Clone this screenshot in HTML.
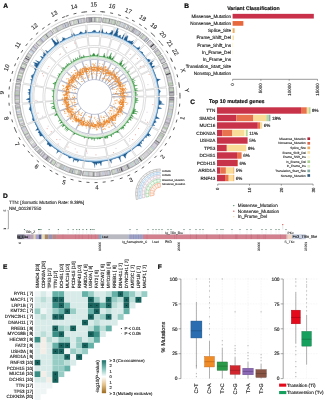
<!DOCTYPE html>
<html><head><meta charset="utf-8"><title>Figure</title>
<style>
html,body{margin:0;padding:0;background:#fff;}
body{width:324px;height:401px;overflow:hidden;}
svg{display:block;font-family:'Liberation Sans', Arial, sans-serif;text-rendering:geometricPrecision;filter:blur(0.3px);}
</style></head><body>
<svg width="324" height="401" viewBox="0 0 324 401">
<rect width="324" height="401" fill="#fff"/>
<g id="circos">
<text x="183.45" y="118.45" font-size="6.0" text-anchor="middle" dominant-baseline="central" fill="#333" stroke="#333" stroke-width="0.12" transform="rotate(-76.5 183.45 118.45)">1</text>
<text x="163.26" y="157.41" font-size="6.0" text-anchor="middle" dominant-baseline="central" fill="#333" stroke="#333" stroke-width="0.12" transform="rotate(-48.7 163.26 157.41)">2</text>
<text x="131.33" y="180.83" font-size="6.0" text-anchor="middle" dominant-baseline="central" fill="#333" stroke="#333" stroke-width="0.12" transform="rotate(-23.8 131.33 180.83)">3</text>
<text x="97.02" y="188.56" font-size="6.0" text-anchor="middle" dominant-baseline="central" fill="#333" stroke="#333" stroke-width="0.12" transform="rotate(-1.6 97.02 188.56)">4</text>
<text x="63.70" y="183.30" font-size="6.0" text-anchor="middle" dominant-baseline="central" fill="#333" stroke="#333" stroke-width="0.12" transform="rotate(19.6 63.70 183.30)">5</text>
<text x="35.83" y="167.43" font-size="6.0" text-anchor="middle" dominant-baseline="central" fill="#333" stroke="#333" stroke-width="0.12" transform="rotate(39.7 35.83 167.43)">6</text>
<text x="16.12" y="144.58" font-size="6.0" text-anchor="middle" dominant-baseline="central" fill="#333" stroke="#333" stroke-width="0.12" transform="rotate(58.7 16.12 144.58)">7</text>
<text x="5.42" y="118.74" font-size="6.0" text-anchor="middle" dominant-baseline="central" fill="#333" stroke="#333" stroke-width="0.12" transform="rotate(76.3 5.42 118.74)">8</text>
<text x="2.90" y="92.69" font-size="6.0" text-anchor="middle" dominant-baseline="central" fill="#333" stroke="#333" stroke-width="0.12" transform="rotate(272.7 2.90 92.69)">9</text>
<text x="7.54" y="67.93" font-size="6.0" text-anchor="middle" dominant-baseline="central" fill="#333" stroke="#333" stroke-width="0.12" transform="rotate(288.5 7.54 67.93)">10</text>
<text x="18.58" y="45.60" font-size="6.0" text-anchor="middle" dominant-baseline="central" fill="#333" stroke="#333" stroke-width="0.12" transform="rotate(304.1 18.58 45.60)">11</text>
<text x="35.19" y="27.11" font-size="6.0" text-anchor="middle" dominant-baseline="central" fill="#333" stroke="#333" stroke-width="0.12" transform="rotate(319.7 35.19 27.11)">12</text>
<text x="54.54" y="14.53" font-size="6.0" text-anchor="middle" dominant-baseline="central" fill="#333" stroke="#333" stroke-width="0.12" transform="rotate(334.2 54.54 14.53)">13</text>
<text x="74.18" y="7.66" font-size="6.0" text-anchor="middle" dominant-baseline="central" fill="#333" stroke="#333" stroke-width="0.12" transform="rotate(347.2 74.18 7.66)">14</text>
<text x="93.79" y="5.40" font-size="6.0" text-anchor="middle" dominant-baseline="central" fill="#333" stroke="#333" stroke-width="0.12" transform="rotate(359.6 93.79 5.40)">15</text>
<text x="112.00" y="7.11" font-size="6.0" text-anchor="middle" dominant-baseline="central" fill="#333" stroke="#333" stroke-width="0.12" transform="rotate(371.1 112.00 7.11)">16</text>
<text x="128.01" y="11.79" font-size="6.0" text-anchor="middle" dominant-baseline="central" fill="#333" stroke="#333" stroke-width="0.12" transform="rotate(381.5 128.01 11.79)">17</text>
<text x="142.16" y="18.84" font-size="6.0" text-anchor="middle" dominant-baseline="central" fill="#333" stroke="#333" stroke-width="0.12" transform="rotate(391.4 142.16 18.84)">18</text>
<text x="153.26" y="26.82" font-size="6.0" text-anchor="middle" dominant-baseline="central" fill="#333" stroke="#333" stroke-width="0.12" transform="rotate(400.0 153.26 26.82)">19</text>
<text x="162.13" y="35.33" font-size="6.0" text-anchor="middle" dominant-baseline="central" fill="#333" stroke="#333" stroke-width="0.12" transform="rotate(407.7 162.13 35.33)">20</text>
<text x="169.18" y="44.10" font-size="6.0" text-anchor="middle" dominant-baseline="central" fill="#333" stroke="#333" stroke-width="0.12" transform="rotate(414.7 169.18 44.10)">21</text>
<text x="174.54" y="52.64" font-size="6.0" text-anchor="middle" dominant-baseline="central" fill="#333" stroke="#333" stroke-width="0.12" transform="rotate(421.0 174.54 52.64)">22</text>
<text x="182.13" y="70.65" font-size="6.0" text-anchor="middle" dominant-baseline="central" fill="#333" stroke="#333" stroke-width="0.12" transform="rotate(433.3 182.13 70.65)">X</text>
<text x="185.76" y="90.43" font-size="6.0" text-anchor="middle" dominant-baseline="central" fill="#333" stroke="#333" stroke-width="0.12" transform="rotate(445.9 185.76 90.43)">Y</text>
<path d="M179.99,95.50L179.99,98.50M179.74,103.62L179.46,106.61M178.73,111.68L178.17,114.63M176.96,119.61L176.12,122.49M174.44,127.34L173.33,130.12M170.61,135.97L169.20,138.62M166.58,143.02L164.92,145.52M161.89,149.66L160.00,151.99M156.59,155.82L154.49,157.96M150.74,161.45L148.44,163.38M144.19,166.63L141.72,168.33M137.37,171.04L134.74,172.50M130.15,174.78L127.41,175.98M122.62,177.82L119.77,178.75M113.65,180.41L110.71,181.03M105.65,181.86L102.67,182.20M97.56,182.54L94.56,182.60M89.43,182.46L86.44,182.23M81.45,181.61L78.49,181.11M73.49,180.01L70.59,179.22M65.71,177.65L62.90,176.59M58.19,174.57L55.50,173.25M52.31,171.54L49.72,170.02M45.43,167.21L43.00,165.45M39.00,162.25L36.75,160.27M33.06,156.71L31.01,154.52M29.76,153.12L27.83,150.82M24.73,146.74L23.03,144.26M20.33,139.91L18.87,137.29M16.60,132.69L15.39,129.94M15.39,129.93L14.28,127.14M12.62,122.29L11.79,119.41M10.59,114.43L10.03,111.48M9.24,105.70L8.99,102.71M8.80,97.59L8.83,94.59M9.13,89.47L9.45,86.49M10.16,81.81L10.74,78.87M11.98,73.89L12.84,71.02M14.54,66.18L15.67,63.40M17.32,59.77L18.67,57.09M21.20,52.63L22.79,50.10M25.73,45.89L27.56,43.52M30.27,40.31L32.29,38.09M35.93,34.48L38.16,32.47M42.12,29.22L44.53,27.43M47.75,25.23L50.29,23.64M54.76,21.13L57.45,19.79M62.14,17.71L64.93,16.63M65.71,16.35L68.56,15.39M73.49,13.99L76.41,13.31M81.45,12.39L84.42,11.98M84.06,12.03L87.05,11.72M92.17,11.43L95.17,11.40M100.29,11.60L103.28,11.86M102.10,11.75L105.08,12.07M110.15,12.86L113.09,13.46M117.98,14.71L120.85,15.59M125.68,17.32L128.45,18.46M131.99,20.10L134.66,21.46M139.11,24.01L141.64,25.62M144.46,27.57L146.87,29.36M150.82,32.63L153.04,34.64M152.97,34.57L155.12,36.66M158.62,40.40L160.56,42.69M161.09,43.34L162.93,45.71M166.40,50.71L167.98,53.26M170.47,57.74L171.80,60.43M171.20,59.20L172.48,61.91M174.44,66.65L175.45,69.47M176.96,74.37L177.70,77.28M178.73,82.30L179.19,85.26M179.12,84.75L179.50,87.72M179.90,92.83L179.99,95.83" stroke="#555" stroke-width="0.95" fill="none"/>
<path d="M176.70,97.00A82.3,82.3 0 0 1 167.67,134.47M167.01,135.75A82.3,82.3 0 0 1 142.27,163.95M141.09,164.77A82.3,82.3 0 0 1 112.90,177.19M111.50,177.50A82.3,82.3 0 0 1 81.94,178.35M80.53,178.12A82.3,82.3 0 0 1 53.93,168.66M52.68,167.94A82.3,82.3 0 0 1 32.25,150.95M31.32,149.86A82.3,82.3 0 0 1 18.43,128.66M17.89,127.33A82.3,82.3 0 0 1 12.53,105.36M12.39,103.93A82.3,82.3 0 0 1 13.41,82.39M13.67,80.98A82.3,82.3 0 0 1 20.29,61.20M20.93,59.92A82.3,82.3 0 0 1 32.74,42.49M33.70,41.42A82.3,82.3 0 0 1 49.55,27.99M50.76,27.22A82.3,82.3 0 0 1 66.82,19.46M68.18,18.99A82.3,82.3 0 0 1 84.47,15.30M85.90,15.14A82.3,82.3 0 0 1 101.81,15.03M103.24,15.18A82.3,82.3 0 0 1 117.08,17.89M118.45,18.29A82.3,82.3 0 0 1 130.55,23.06M131.83,23.70A82.3,82.3 0 0 1 142.54,30.25M143.70,31.10A82.3,82.3 0 0 1 150.71,36.98M151.75,37.97A82.3,82.3 0 0 1 158.53,45.41M159.42,46.54A82.3,82.3 0 0 1 163.63,52.50M164.40,53.71A82.3,82.3 0 0 1 168.24,60.66M168.87,61.95A82.3,82.3 0 0 1 175.85,85.22M176.05,86.65A82.3,82.3 0 0 1 176.69,95.56" stroke="#999" stroke-width="0.35" fill="none"/>
<path d="M176.70,97.00L177.60,97.00M176.69,98.56L177.59,98.58M176.64,100.12L177.54,100.16M176.57,101.69L177.47,101.74M176.46,103.25L177.36,103.31M176.33,104.80L177.23,104.89M176.17,106.36L177.06,106.46M175.97,107.91L176.87,108.03M175.75,109.45L176.64,109.59M175.50,111.00L176.39,111.15M175.22,112.53L176.10,112.70M174.91,114.07L175.79,114.25M174.57,115.59L175.45,115.79M174.21,117.11L175.08,117.33M173.81,118.62L174.68,118.86M173.38,120.13L174.25,120.38M172.93,121.62L173.79,121.89M172.45,123.11L173.30,123.39M171.94,124.59L172.79,124.89M171.40,126.05L172.24,126.37M170.84,127.51L171.67,127.84M170.24,128.96L171.07,129.31M169.62,130.39L170.44,130.76M168.97,131.81L169.79,132.19M168.30,133.22L169.11,133.62M167.01,135.75L167.80,136.17M166.26,137.12L167.05,137.56M165.48,138.48L166.26,138.93M164.68,139.82L165.45,140.29M163.86,141.15L164.62,141.63M163.01,142.46L163.76,142.95M162.13,143.75L162.87,144.26M161.23,145.03L161.96,145.55M160.31,146.29L161.03,146.83M159.36,147.53L160.07,148.08M158.39,148.76L159.09,149.32M157.40,149.96L158.08,150.54M156.38,151.15L157.06,151.74M155.34,152.31L156.01,152.92M154.28,153.46L154.93,154.08M153.19,154.59L153.84,155.22M152.09,155.69L152.72,156.34M150.97,156.78L151.58,157.43M149.82,157.84L150.43,158.51M148.66,158.88L149.25,159.56M147.47,159.90L148.05,160.59M146.27,160.90L146.83,161.60M145.04,161.87L145.60,162.58M143.80,162.82L144.34,163.54M142.54,163.75L143.07,164.48M141.09,164.77L141.60,165.51M139.80,165.65L140.29,166.40M138.48,166.50L138.97,167.26M137.16,167.32L137.62,168.09M135.81,168.12L136.27,168.90M134.46,168.89L134.89,169.68M133.08,169.64L133.51,170.44M131.70,170.36L132.10,171.17M130.30,171.06L130.69,171.87M128.88,171.73L129.26,172.54M127.46,172.37L127.82,173.19M126.02,172.98L126.37,173.81M124.57,173.57L124.90,174.41M123.11,174.13L123.43,174.97M121.64,174.66L121.94,175.51M120.17,175.16L120.45,176.02M118.68,175.64L118.94,176.50M117.18,176.08L117.43,176.95M115.67,176.50L115.91,177.37M114.16,176.89L114.38,177.77M111.50,177.50L111.68,178.39M109.96,177.81L110.13,178.70M108.43,178.10L108.58,178.98M106.88,178.35L107.02,179.24M105.34,178.57L105.46,179.46M103.79,178.76L103.89,179.66M102.23,178.93L102.32,179.82M100.68,179.06L100.74,179.96M99.12,179.16L99.17,180.06M97.56,179.24L97.59,180.14M95.99,179.28L96.01,180.18M94.43,179.30L94.43,180.20M92.87,179.29L92.85,180.19M91.31,179.24L91.27,180.14M89.74,179.17L89.69,180.07M88.19,179.07L88.12,179.96M86.63,178.93L86.54,179.83M85.07,178.77L84.97,179.66M83.52,178.58L83.40,179.47M81.98,178.36L81.84,179.25M80.53,178.12L80.37,179.01M78.99,177.84L78.82,178.73M77.46,177.54L77.27,178.42M75.93,177.20L75.73,178.08M74.41,176.84L74.19,177.71M72.90,176.44L72.66,177.31M71.39,176.02L71.14,176.88M69.90,175.57L69.63,176.43M68.41,175.09L68.12,175.94M66.93,174.58L66.63,175.43M65.46,174.05L65.15,174.89M64.01,173.48L63.67,174.32M62.56,172.89L62.21,173.72M61.12,172.27L60.76,173.10M59.70,171.63L59.32,172.44M58.29,170.95L57.89,171.76M56.89,170.26L56.48,171.06M55.51,169.53L55.08,170.32M54.14,168.78L53.70,169.56M52.68,167.94L52.23,168.72M51.34,167.14L50.87,167.91M50.02,166.31L49.53,167.07M48.71,165.45L48.21,166.20M47.42,164.57L46.91,165.31M46.15,163.67L45.62,164.40M44.89,162.74L44.35,163.46M43.65,161.79L43.09,162.50M42.43,160.81L41.86,161.51M41.23,159.82L40.64,160.50M40.04,158.79L39.45,159.47M38.88,157.75L38.27,158.42M37.74,156.69L37.12,157.34M36.61,155.60L35.98,156.24M35.51,154.49L34.87,155.12M34.43,153.36L33.77,153.98M33.37,152.21L32.70,152.82M32.33,151.05L31.65,151.64M31.32,149.86L30.63,150.43M30.32,148.65L29.62,149.21M29.36,147.42L28.64,147.97M28.41,146.18L27.69,146.72M27.49,144.92L26.76,145.44M26.59,143.64L25.85,144.15M25.72,142.34L24.97,142.84M24.87,141.03L24.11,141.51M24.04,139.70L23.28,140.17M23.25,138.36L22.47,138.81M22.47,137.00L21.69,137.44M21.73,135.63L20.93,136.05M21.01,134.24L20.20,134.65M20.31,132.84L19.50,133.23M19.65,131.43L18.83,131.80M19.01,130.00L18.18,130.36M17.89,127.33L17.05,127.66M17.33,125.87L16.49,126.18M16.79,124.40L15.95,124.70M16.29,122.92L15.43,123.20M15.81,121.43L14.95,121.70M15.36,119.94L14.50,120.19M14.94,118.43L14.07,118.67M14.55,116.92L13.67,117.14M14.18,115.40L13.31,115.60M13.85,113.87L12.97,114.06M13.54,112.34L12.66,112.51M13.27,110.80L12.38,110.95M13.02,109.26L12.13,109.39M12.80,107.71L11.91,107.83M12.61,106.16L11.72,106.26M12.39,103.93L11.50,104.01M12.28,102.37L11.38,102.43M12.19,100.81L11.29,100.85M12.13,99.25L11.23,99.28M12.10,97.69L11.20,97.70M12.10,96.13L11.20,96.12M12.14,94.56L11.24,94.54M12.20,93.00L11.30,92.96M12.29,91.44L11.39,91.38M12.41,89.88L11.51,89.81M12.56,88.33L11.66,88.23M12.74,86.78L11.84,86.66M12.95,85.23L12.06,85.10M13.18,83.68L12.30,83.54M13.67,80.98L12.79,80.80M13.99,79.45L13.11,79.26M14.34,77.93L13.47,77.72M14.72,76.41L13.85,76.18M15.12,74.90L14.26,74.66M15.56,73.40L14.69,73.14M16.02,71.91L15.16,71.63M16.51,70.42L15.66,70.13M17.03,68.95L16.18,68.64M17.58,67.48L16.74,67.16M18.15,66.03L17.32,65.69M18.75,64.59L17.92,64.23M19.38,63.16L18.56,62.79M20.04,61.74L19.22,61.35M20.93,59.92L20.13,59.51M21.65,58.53L20.85,58.11M22.39,57.15L21.60,56.72M23.16,55.79L22.38,55.34M23.95,54.45L23.18,53.98M24.78,53.12L24.01,52.64M25.62,51.80L24.87,51.31M26.49,50.50L25.75,50.00M27.39,49.22L26.65,48.70M28.31,47.96L27.58,47.42M29.25,46.71L28.54,46.16M30.22,45.49L29.51,44.92M31.21,44.28L30.51,43.70M32.22,43.09L31.54,42.50M33.70,41.42L33.04,40.81M34.77,40.28L34.12,39.66M35.86,39.16L35.22,38.52M36.97,38.05L36.34,37.41M38.10,36.97L37.48,36.32M39.25,35.92L38.64,35.25M40.42,34.88L39.82,34.20M41.60,33.87L41.03,33.18M42.81,32.87L42.25,32.17M44.04,31.91L43.49,31.20M45.28,30.96L44.75,30.24M46.55,30.04L46.02,29.31M47.83,29.15L47.32,28.40M49.12,28.27L48.63,27.52M50.76,27.22L50.29,26.46M52.10,26.40L51.63,25.63M53.45,25.61L53.00,24.83M54.81,24.85L54.38,24.06M56.19,24.11L55.77,23.31M57.58,23.40L57.17,22.59M58.98,22.71L58.59,21.90M60.40,22.05L60.03,21.23M61.83,21.42L61.47,20.59M63.27,20.82L62.93,19.98M64.72,20.24L64.40,19.40M66.18,19.69L65.87,18.84M68.18,18.99L67.89,18.14M69.67,18.50L69.40,17.65M71.16,18.05L70.91,17.19M72.67,17.62L72.43,16.75M74.18,17.22L73.96,16.35M75.69,16.85L75.49,15.98M77.22,16.51L77.03,15.63M78.75,16.20L78.58,15.32M80.29,15.92L80.13,15.03M81.83,15.67L81.69,14.78M83.38,15.44L83.26,14.55M85.90,15.14L85.80,14.25M87.45,14.99L87.38,14.10M89.01,14.88L88.95,13.98M90.57,14.79L90.53,13.89M92.13,14.73L92.11,13.83M93.69,14.70L93.69,13.80M95.26,14.70L95.27,13.80M96.82,14.74L96.85,13.84M98.38,14.80L98.42,13.90M99.94,14.89L100.00,13.99M101.50,15.01L101.58,14.11M103.24,15.18L103.34,14.28M104.79,15.36L104.90,14.47M106.34,15.57L106.47,14.68M107.88,15.81L108.03,14.92M109.42,16.08L109.59,15.20M110.96,16.38L111.14,15.50M112.48,16.71L112.68,15.83M114.00,17.07L114.22,16.20M115.52,17.46L115.75,16.59M117.03,17.87L117.27,17.01M118.45,18.29L118.72,17.43M119.94,18.76L120.22,17.91M121.43,19.26L121.72,18.41M122.90,19.79L123.21,18.95M124.36,20.35L124.68,19.51M125.81,20.93L126.15,20.10M127.25,21.54L127.61,20.71M128.67,22.18L129.05,21.36M130.09,22.84L130.48,22.03M131.83,23.70L132.24,22.90M133.22,24.43L133.64,23.63M134.59,25.18L135.03,24.39M135.94,25.95L136.40,25.18M137.28,26.76L137.75,25.99M138.61,27.58L139.09,26.82M139.92,28.44L140.42,27.69M141.21,29.31L141.73,28.57M142.49,30.21L143.02,29.48M143.70,31.10L144.23,30.38M144.94,32.04L145.49,31.33M146.16,33.02L146.73,32.32M147.37,34.01L147.95,33.32M148.55,35.03L149.15,34.35M149.72,36.07L150.33,35.40M151.75,37.97L152.38,37.33M152.86,39.07L153.50,38.44M153.95,40.19L154.60,39.57M155.02,41.33L155.68,40.73M156.06,42.49L156.74,41.90M157.09,43.68L157.77,43.09M158.09,44.88L158.79,44.31M159.42,46.54L160.13,45.99M160.36,47.78L161.08,47.25M161.29,49.05L162.02,48.52M162.18,50.32L162.93,49.81M163.06,51.62L163.81,51.12M164.40,53.71L165.16,53.24M165.21,55.05L165.98,54.59M165.99,56.40L166.77,55.96M166.75,57.77L167.54,57.34M167.48,59.15L168.28,58.74M168.19,60.54L168.99,60.15M168.87,61.95L169.68,61.57M169.52,63.37L170.34,63.01M170.14,64.81L170.97,64.45M170.74,66.25L171.57,65.91M171.31,67.71L172.15,67.39M171.85,69.17L172.70,68.87M172.37,70.65L173.22,70.36M172.85,72.13L173.71,71.86M173.31,73.63L174.17,73.37M173.74,75.13L174.61,74.89M174.14,76.64L175.01,76.42M174.51,78.16L175.39,77.95M174.86,79.68L175.74,79.49M175.17,81.21L176.05,81.04M175.46,82.75L176.34,82.59M175.71,84.29L176.60,84.15M176.05,86.65L176.94,86.53M176.23,88.20L177.12,88.10M176.38,89.75L177.28,89.68M176.50,91.31L177.40,91.25M176.60,92.87L177.50,92.83M176.66,94.43L177.56,94.41" stroke="#aaa" stroke-width="0.25" fill="none"/>
<path d="M174.00,97.00A79.6,79.6 0 0 1 173.99,97.96L169.39,97.90A75.0,75.0 0 0 0 169.40,97.00Z" fill="#7c7888" stroke="#a4a4a4" stroke-width="0.25"/>
<path d="M173.99,97.96A79.6,79.6 0 0 1 173.96,99.52L169.36,99.38A75.0,75.0 0 0 0 169.39,97.90Z" fill="#a8a4b4" stroke="#a4a4a4" stroke-width="0.25"/>
<path d="M173.96,99.52A79.6,79.6 0 0 1 173.92,100.55L169.33,100.35A75.0,75.0 0 0 0 169.36,99.38Z" fill="#3a3840" stroke="#a4a4a4" stroke-width="0.25"/>
<path d="M173.92,100.55A79.6,79.6 0 0 1 173.89,101.17L169.30,100.93A75.0,75.0 0 0 0 169.33,100.35Z" fill="#a8a4b4" stroke="#a4a4a4" stroke-width="0.25"/>
<path d="M173.89,101.17A79.6,79.6 0 0 1 173.82,102.35L169.23,102.04A75.0,75.0 0 0 0 169.30,100.93Z" fill="#b0c8aa" stroke="#a4a4a4" stroke-width="0.25"/>
<path d="M173.82,102.35A79.6,79.6 0 0 1 173.78,102.85L169.20,102.51A75.0,75.0 0 0 0 169.23,102.04Z" fill="#dcdce0" stroke="#a4a4a4" stroke-width="0.25"/>
<path d="M173.78,102.85A79.6,79.6 0 0 1 173.75,103.34L169.16,102.98A75.0,75.0 0 0 0 169.20,102.51Z" fill="#d8d0e6" stroke="#a4a4a4" stroke-width="0.25"/>
<path d="M173.75,103.34A79.6,79.6 0 0 1 173.64,104.61L169.06,104.17A75.0,75.0 0 0 0 169.16,102.98Z" fill="#f2f2f2" stroke="#a4a4a4" stroke-width="0.25"/>
<path d="M173.64,104.61A79.6,79.6 0 0 1 173.46,106.24L168.89,105.70A75.0,75.0 0 0 0 169.06,104.17Z" fill="#c8d8ec" stroke="#a4a4a4" stroke-width="0.25"/>
<path d="M173.46,106.24A79.6,79.6 0 0 1 173.31,107.45L168.75,106.84A75.0,75.0 0 0 0 168.89,105.70Z" fill="#cfe2c8" stroke="#a4a4a4" stroke-width="0.25"/>
<path d="M173.31,107.45A79.6,79.6 0 0 1 173.23,108.02L168.68,107.38A75.0,75.0 0 0 0 168.75,106.84Z" fill="#f2f2f2" stroke="#a4a4a4" stroke-width="0.25"/>
<path d="M173.23,108.02A79.6,79.6 0 0 1 173.08,109.07L168.53,108.37A75.0,75.0 0 0 0 168.68,107.38Z" fill="#f2f2f2" stroke="#a4a4a4" stroke-width="0.25"/>
<path d="M173.08,109.07A79.6,79.6 0 0 1 172.98,109.68L168.44,108.95A75.0,75.0 0 0 0 168.53,108.37Z" fill="#dcdce0" stroke="#a4a4a4" stroke-width="0.25"/>
<path d="M172.98,109.68A79.6,79.6 0 0 1 172.92,110.09L168.38,109.34A75.0,75.0 0 0 0 168.44,108.95Z" fill="#a8a4b4" stroke="#a4a4a4" stroke-width="0.25"/>
<path d="M172.92,110.09A79.6,79.6 0 0 1 172.76,111.02L168.23,110.21A75.0,75.0 0 0 0 168.38,109.34Z" fill="#d8d0e6" stroke="#a4a4a4" stroke-width="0.25"/>
<path d="M172.76,111.02A79.6,79.6 0 0 1 172.56,112.05L168.05,111.18A75.0,75.0 0 0 0 168.23,110.21Z" fill="#cfe2c8" stroke="#a4a4a4" stroke-width="0.25"/>
<path d="M172.56,112.05A79.6,79.6 0 0 1 172.37,113.05L167.86,112.12A75.0,75.0 0 0 0 168.05,111.18Z" fill="#cfe2c8" stroke="#a4a4a4" stroke-width="0.25"/>
<path d="M172.37,113.05A79.6,79.6 0 0 1 172.16,113.99L167.67,113.01A75.0,75.0 0 0 0 167.86,112.12Z" fill="#dcdce0" stroke="#a4a4a4" stroke-width="0.25"/>
<path d="M172.16,113.99A79.6,79.6 0 0 1 171.79,115.61L167.32,114.54A75.0,75.0 0 0 0 167.67,113.01Z" fill="#c8d8ec" stroke="#a4a4a4" stroke-width="0.25"/>
<path d="M171.79,115.61A79.6,79.6 0 0 1 171.44,117.03L166.99,115.87A75.0,75.0 0 0 0 167.32,114.54Z" fill="#cfe2c8" stroke="#a4a4a4" stroke-width="0.25"/>
<path d="M171.44,117.03A79.6,79.6 0 0 1 171.24,117.78L166.80,116.58A75.0,75.0 0 0 0 166.99,115.87Z" fill="#dcdce0" stroke="#a4a4a4" stroke-width="0.25"/>
<path d="M171.24,117.78A79.6,79.6 0 0 1 171.04,118.51L166.61,117.26A75.0,75.0 0 0 0 166.80,116.58Z" fill="#f2f2f2" stroke="#a4a4a4" stroke-width="0.25"/>
<path d="M171.04,118.51A79.6,79.6 0 0 1 170.66,119.81L166.25,118.50A75.0,75.0 0 0 0 166.61,117.26Z" fill="#c4c0cc" stroke="#a4a4a4" stroke-width="0.25"/>
<path d="M170.66,119.81A79.6,79.6 0 0 1 170.23,121.21L165.85,119.81A75.0,75.0 0 0 0 166.25,118.50Z" fill="#c4c0cc" stroke="#a4a4a4" stroke-width="0.25"/>
<path d="M170.23,121.21A79.6,79.6 0 0 1 169.72,122.74L165.37,121.25A75.0,75.0 0 0 0 165.85,119.81Z" fill="#d8d0e6" stroke="#a4a4a4" stroke-width="0.25"/>
<path d="M169.72,122.74A79.6,79.6 0 0 1 169.60,123.10L165.25,121.59A75.0,75.0 0 0 0 165.37,121.25Z" fill="#dcdce0" stroke="#a4a4a4" stroke-width="0.25"/>
<path d="M169.60,123.10A79.6,79.6 0 0 1 169.08,124.56L164.76,122.96A75.0,75.0 0 0 0 165.25,121.59Z" fill="#a8a4b4" stroke="#a4a4a4" stroke-width="0.25"/>
<path d="M169.08,124.56A79.6,79.6 0 0 1 168.50,126.09L164.21,124.41A75.0,75.0 0 0 0 164.76,122.96Z" fill="#c4c0cc" stroke="#a4a4a4" stroke-width="0.25"/>
<path d="M168.50,126.09A79.6,79.6 0 0 1 168.32,126.53L164.05,124.82A75.0,75.0 0 0 0 164.21,124.41Z" fill="#cfe2c8" stroke="#a4a4a4" stroke-width="0.25"/>
<path d="M168.32,126.53A79.6,79.6 0 0 1 167.80,127.80L163.56,126.02A75.0,75.0 0 0 0 164.05,124.82Z" fill="#dcdce0" stroke="#a4a4a4" stroke-width="0.25"/>
<path d="M167.80,127.80A79.6,79.6 0 0 1 167.61,128.25L163.38,126.45A75.0,75.0 0 0 0 163.56,126.02Z" fill="#dcdce0" stroke="#a4a4a4" stroke-width="0.25"/>
<path d="M167.61,128.25A79.6,79.6 0 0 1 166.96,129.73L162.77,127.84A75.0,75.0 0 0 0 163.38,126.45Z" fill="#b0c8aa" stroke="#a4a4a4" stroke-width="0.25"/>
<path d="M166.96,129.73A79.6,79.6 0 0 1 166.74,130.21L162.56,128.29A75.0,75.0 0 0 0 162.77,127.84Z" fill="#dcdce0" stroke="#a4a4a4" stroke-width="0.25"/>
<path d="M166.74,130.21A79.6,79.6 0 0 1 166.53,130.67L162.36,128.73A75.0,75.0 0 0 0 162.56,128.29Z" fill="#f2f2f2" stroke="#a4a4a4" stroke-width="0.25"/>
<path d="M166.53,130.67A79.6,79.6 0 0 1 165.92,131.94L161.79,129.92A75.0,75.0 0 0 0 162.36,128.73Z" fill="#f2f2f2" stroke="#a4a4a4" stroke-width="0.25"/>
<path d="M165.92,131.94A79.6,79.6 0 0 1 165.43,132.92L161.33,130.85A75.0,75.0 0 0 0 161.79,129.92Z" fill="#c4c0cc" stroke="#a4a4a4" stroke-width="0.25"/>
<path d="M165.43,132.92A79.6,79.6 0 0 1 165.27,133.24L161.17,131.15A75.0,75.0 0 0 0 161.33,130.85Z" fill="#cfe2c8" stroke="#a4a4a4" stroke-width="0.25"/>
<path d="M174.00,97.00A79.6,79.6 0 0 1 165.27,133.24L161.17,131.15A75.0,75.0 0 0 0 169.40,97.00Z" fill="none" stroke="#777" stroke-width="0.45"/>
<path d="M164.63,134.48A79.6,79.6 0 0 1 164.37,134.96L160.32,132.76A75.0,75.0 0 0 0 160.57,132.31Z" fill="#cfe2c8" stroke="#a4a4a4" stroke-width="0.25"/>
<path d="M164.37,134.96A79.6,79.6 0 0 1 164.11,135.42L160.09,133.20A75.0,75.0 0 0 0 160.32,132.76Z" fill="#c4c0cc" stroke="#a4a4a4" stroke-width="0.25"/>
<path d="M164.11,135.42A79.6,79.6 0 0 1 163.80,135.99L159.79,133.74A75.0,75.0 0 0 0 160.09,133.20Z" fill="#dcdce0" stroke="#a4a4a4" stroke-width="0.25"/>
<path d="M163.80,135.99A79.6,79.6 0 0 1 162.99,137.40L159.02,135.06A75.0,75.0 0 0 0 159.79,133.74Z" fill="#b0c8aa" stroke="#a4a4a4" stroke-width="0.25"/>
<path d="M162.99,137.40A79.6,79.6 0 0 1 162.59,138.06L158.65,135.69A75.0,75.0 0 0 0 159.02,135.06Z" fill="#d8d0e6" stroke="#a4a4a4" stroke-width="0.25"/>
<path d="M162.59,138.06A79.6,79.6 0 0 1 162.26,138.61L158.34,136.21A75.0,75.0 0 0 0 158.65,135.69Z" fill="#c4c0cc" stroke="#a4a4a4" stroke-width="0.25"/>
<path d="M162.26,138.61A79.6,79.6 0 0 1 161.47,139.86L157.60,137.39A75.0,75.0 0 0 0 158.34,136.21Z" fill="#cfe2c8" stroke="#a4a4a4" stroke-width="0.25"/>
<path d="M161.47,139.86A79.6,79.6 0 0 1 161.20,140.29L157.34,137.79A75.0,75.0 0 0 0 157.60,137.39Z" fill="#c8d8ec" stroke="#a4a4a4" stroke-width="0.25"/>
<path d="M161.20,140.29A79.6,79.6 0 0 1 160.84,140.83L157.00,138.30A75.0,75.0 0 0 0 157.34,137.79Z" fill="#dcdce0" stroke="#a4a4a4" stroke-width="0.25"/>
<path d="M160.84,140.83A79.6,79.6 0 0 1 160.08,141.97L156.28,139.37A75.0,75.0 0 0 0 157.00,138.30Z" fill="#dcdce0" stroke="#a4a4a4" stroke-width="0.25"/>
<path d="M160.08,141.97A79.6,79.6 0 0 1 159.65,142.60L155.88,139.96A75.0,75.0 0 0 0 156.28,139.37Z" fill="#f2f2f2" stroke="#a4a4a4" stroke-width="0.25"/>
<path d="M159.65,142.60A79.6,79.6 0 0 1 159.36,143.00L155.61,140.34A75.0,75.0 0 0 0 155.88,139.96Z" fill="#3a3840" stroke="#a4a4a4" stroke-width="0.25"/>
<path d="M159.36,143.00A79.6,79.6 0 0 1 158.96,143.56L155.23,140.87A75.0,75.0 0 0 0 155.61,140.34Z" fill="#3a3840" stroke="#a4a4a4" stroke-width="0.25"/>
<path d="M158.96,143.56A79.6,79.6 0 0 1 158.46,144.25L154.76,141.52A75.0,75.0 0 0 0 155.23,140.87Z" fill="#c4c0cc" stroke="#a4a4a4" stroke-width="0.25"/>
<path d="M158.46,144.25A79.6,79.6 0 0 1 157.49,145.54L153.84,142.73A75.0,75.0 0 0 0 154.76,141.52Z" fill="#a8a4b4" stroke="#a4a4a4" stroke-width="0.25"/>
<path d="M157.49,145.54A79.6,79.6 0 0 1 156.80,146.42L153.20,143.56A75.0,75.0 0 0 0 153.84,142.73Z" fill="#d8d0e6" stroke="#a4a4a4" stroke-width="0.25"/>
<path d="M156.80,146.42A79.6,79.6 0 0 1 156.42,146.90L152.84,144.01A75.0,75.0 0 0 0 153.20,143.56Z" fill="#f2f2f2" stroke="#a4a4a4" stroke-width="0.25"/>
<path d="M156.42,146.90A79.6,79.6 0 0 1 155.44,148.09L151.91,145.14A75.0,75.0 0 0 0 152.84,144.01Z" fill="#d8d0e6" stroke="#a4a4a4" stroke-width="0.25"/>
<path d="M155.44,148.09A79.6,79.6 0 0 1 154.99,148.63L151.49,145.64A75.0,75.0 0 0 0 151.91,145.14Z" fill="#dcdce0" stroke="#a4a4a4" stroke-width="0.25"/>
<path d="M154.99,148.63A79.6,79.6 0 0 1 154.12,149.63L150.67,146.59A75.0,75.0 0 0 0 151.49,145.64Z" fill="#c8d8ec" stroke="#a4a4a4" stroke-width="0.25"/>
<path d="M154.12,149.63A79.6,79.6 0 0 1 153.70,150.10L150.27,147.03A75.0,75.0 0 0 0 150.67,146.59Z" fill="#c8d8ec" stroke="#a4a4a4" stroke-width="0.25"/>
<path d="M153.70,150.10A79.6,79.6 0 0 1 152.68,151.22L149.31,148.08A75.0,75.0 0 0 0 150.27,147.03Z" fill="#cfe2c8" stroke="#a4a4a4" stroke-width="0.25"/>
<path d="M152.68,151.22A79.6,79.6 0 0 1 152.05,151.89L148.72,148.71A75.0,75.0 0 0 0 149.31,148.08Z" fill="#f2f2f2" stroke="#a4a4a4" stroke-width="0.25"/>
<path d="M152.05,151.89A79.6,79.6 0 0 1 151.76,152.19L148.44,149.01A75.0,75.0 0 0 0 148.72,148.71Z" fill="#c8d8ec" stroke="#a4a4a4" stroke-width="0.25"/>
<path d="M151.76,152.19A79.6,79.6 0 0 1 151.28,152.69L147.99,149.47A75.0,75.0 0 0 0 148.44,149.01Z" fill="#cfe2c8" stroke="#a4a4a4" stroke-width="0.25"/>
<path d="M151.28,152.69A79.6,79.6 0 0 1 150.78,153.19L147.52,149.94A75.0,75.0 0 0 0 147.99,149.47Z" fill="#d8d0e6" stroke="#a4a4a4" stroke-width="0.25"/>
<path d="M150.78,153.19A79.6,79.6 0 0 1 149.97,153.99L146.76,150.70A75.0,75.0 0 0 0 147.52,149.94Z" fill="#dcdce0" stroke="#a4a4a4" stroke-width="0.25"/>
<path d="M149.97,153.99A79.6,79.6 0 0 1 149.53,154.41L146.35,151.10A75.0,75.0 0 0 0 146.76,150.70Z" fill="#cfe2c8" stroke="#a4a4a4" stroke-width="0.25"/>
<path d="M149.53,154.41A79.6,79.6 0 0 1 149.20,154.74L146.03,151.40A75.0,75.0 0 0 0 146.35,151.10Z" fill="#dcdce0" stroke="#a4a4a4" stroke-width="0.25"/>
<path d="M149.20,154.74A79.6,79.6 0 0 1 148.40,155.48L145.28,152.11A75.0,75.0 0 0 0 146.03,151.40Z" fill="#d8d0e6" stroke="#a4a4a4" stroke-width="0.25"/>
<path d="M148.40,155.48A79.6,79.6 0 0 1 147.53,156.27L144.46,152.85A75.0,75.0 0 0 0 145.28,152.11Z" fill="#dcdce0" stroke="#a4a4a4" stroke-width="0.25"/>
<path d="M147.53,156.27A79.6,79.6 0 0 1 146.36,157.30L143.36,153.81A75.0,75.0 0 0 0 144.46,152.85Z" fill="#dcdce0" stroke="#a4a4a4" stroke-width="0.25"/>
<path d="M146.36,157.30A79.6,79.6 0 0 1 146.06,157.56L143.08,154.06A75.0,75.0 0 0 0 143.36,153.81Z" fill="#dcdce0" stroke="#a4a4a4" stroke-width="0.25"/>
<path d="M146.06,157.56A79.6,79.6 0 0 1 145.33,158.17L142.39,154.64A75.0,75.0 0 0 0 143.08,154.06Z" fill="#f2f2f2" stroke="#a4a4a4" stroke-width="0.25"/>
<path d="M145.33,158.17A79.6,79.6 0 0 1 144.87,158.56L141.95,155.00A75.0,75.0 0 0 0 142.39,154.64Z" fill="#c4c0cc" stroke="#a4a4a4" stroke-width="0.25"/>
<path d="M144.87,158.56A79.6,79.6 0 0 1 144.00,159.25L141.14,155.66A75.0,75.0 0 0 0 141.95,155.00Z" fill="#f2f2f2" stroke="#a4a4a4" stroke-width="0.25"/>
<path d="M144.00,159.25A79.6,79.6 0 0 1 143.34,159.78L140.51,156.15A75.0,75.0 0 0 0 141.14,155.66Z" fill="#d8d0e6" stroke="#a4a4a4" stroke-width="0.25"/>
<path d="M143.34,159.78A79.6,79.6 0 0 1 142.04,160.77L139.29,157.09A75.0,75.0 0 0 0 140.51,156.15Z" fill="#cfe2c8" stroke="#a4a4a4" stroke-width="0.25"/>
<path d="M142.04,160.77A79.6,79.6 0 0 1 141.02,161.52L138.33,157.79A75.0,75.0 0 0 0 139.29,157.09Z" fill="#3a3840" stroke="#a4a4a4" stroke-width="0.25"/>
<path d="M141.02,161.52A79.6,79.6 0 0 1 140.70,161.75L138.02,158.01A75.0,75.0 0 0 0 138.33,157.79Z" fill="#f2f2f2" stroke="#a4a4a4" stroke-width="0.25"/>
<path d="M164.63,134.48A79.6,79.6 0 0 1 140.70,161.75L138.02,158.01A75.0,75.0 0 0 0 160.57,132.31Z" fill="none" stroke="#777" stroke-width="0.45"/>
<path d="M139.56,162.55A79.6,79.6 0 0 1 139.23,162.78L136.64,158.98A75.0,75.0 0 0 0 136.95,158.76Z" fill="#c8d8ec" stroke="#a4a4a4" stroke-width="0.25"/>
<path d="M139.23,162.78A79.6,79.6 0 0 1 138.17,163.49L135.64,159.65A75.0,75.0 0 0 0 136.64,158.98Z" fill="#c8d8ec" stroke="#a4a4a4" stroke-width="0.25"/>
<path d="M138.17,163.49A79.6,79.6 0 0 1 137.83,163.71L135.32,159.86A75.0,75.0 0 0 0 135.64,159.65Z" fill="#cfe2c8" stroke="#a4a4a4" stroke-width="0.25"/>
<path d="M137.83,163.71A79.6,79.6 0 0 1 136.99,164.25L134.53,160.36A75.0,75.0 0 0 0 135.32,159.86Z" fill="#cfe2c8" stroke="#a4a4a4" stroke-width="0.25"/>
<path d="M136.99,164.25A79.6,79.6 0 0 1 136.32,164.67L133.90,160.76A75.0,75.0 0 0 0 134.53,160.36Z" fill="#c8d8ec" stroke="#a4a4a4" stroke-width="0.25"/>
<path d="M136.32,164.67A79.6,79.6 0 0 1 135.92,164.92L133.52,160.99A75.0,75.0 0 0 0 133.90,160.76Z" fill="#7c7888" stroke="#a4a4a4" stroke-width="0.25"/>
<path d="M135.92,164.92A79.6,79.6 0 0 1 134.78,165.60L132.45,161.63A75.0,75.0 0 0 0 133.52,160.99Z" fill="#d8d0e6" stroke="#a4a4a4" stroke-width="0.25"/>
<path d="M134.78,165.60A79.6,79.6 0 0 1 133.63,166.26L131.37,162.26A75.0,75.0 0 0 0 132.45,161.63Z" fill="#cfe2c8" stroke="#a4a4a4" stroke-width="0.25"/>
<path d="M133.63,166.26A79.6,79.6 0 0 1 132.41,166.94L130.21,162.90A75.0,75.0 0 0 0 131.37,162.26Z" fill="#c8d8ec" stroke="#a4a4a4" stroke-width="0.25"/>
<path d="M132.41,166.94A79.6,79.6 0 0 1 131.68,167.33L129.53,163.27A75.0,75.0 0 0 0 130.21,162.90Z" fill="#cfe2c8" stroke="#a4a4a4" stroke-width="0.25"/>
<path d="M131.68,167.33A79.6,79.6 0 0 1 130.32,168.04L128.24,163.93A75.0,75.0 0 0 0 129.53,163.27Z" fill="#d8d0e6" stroke="#a4a4a4" stroke-width="0.25"/>
<path d="M130.32,168.04A79.6,79.6 0 0 1 129.50,168.44L127.47,164.32A75.0,75.0 0 0 0 128.24,163.93Z" fill="#b0c8aa" stroke="#a4a4a4" stroke-width="0.25"/>
<path d="M129.50,168.44A79.6,79.6 0 0 1 128.16,169.09L126.21,164.92A75.0,75.0 0 0 0 127.47,164.32Z" fill="#7c7888" stroke="#a4a4a4" stroke-width="0.25"/>
<path d="M128.16,169.09A79.6,79.6 0 0 1 127.08,169.58L125.20,165.39A75.0,75.0 0 0 0 126.21,164.92Z" fill="#c4c0cc" stroke="#a4a4a4" stroke-width="0.25"/>
<path d="M127.08,169.58A79.6,79.6 0 0 1 126.05,170.04L124.22,165.81A75.0,75.0 0 0 0 125.20,165.39Z" fill="#cfe2c8" stroke="#a4a4a4" stroke-width="0.25"/>
<path d="M126.05,170.04A79.6,79.6 0 0 1 125.61,170.23L123.81,165.99A75.0,75.0 0 0 0 124.22,165.81Z" fill="#cfe2c8" stroke="#a4a4a4" stroke-width="0.25"/>
<path d="M125.61,170.23A79.6,79.6 0 0 1 124.08,170.86L122.37,166.59A75.0,75.0 0 0 0 123.81,165.99Z" fill="#d8d0e6" stroke="#a4a4a4" stroke-width="0.25"/>
<path d="M124.08,170.86A79.6,79.6 0 0 1 122.86,171.34L121.22,167.04A75.0,75.0 0 0 0 122.37,166.59Z" fill="#c4c0cc" stroke="#a4a4a4" stroke-width="0.25"/>
<path d="M122.86,171.34A79.6,79.6 0 0 1 121.62,171.80L120.05,167.48A75.0,75.0 0 0 0 121.22,167.04Z" fill="#3a3840" stroke="#a4a4a4" stroke-width="0.25"/>
<path d="M121.62,171.80A79.6,79.6 0 0 1 120.73,172.12L119.21,167.78A75.0,75.0 0 0 0 120.05,167.48Z" fill="#d8d0e6" stroke="#a4a4a4" stroke-width="0.25"/>
<path d="M120.73,172.12A79.6,79.6 0 0 1 120.28,172.28L118.78,167.93A75.0,75.0 0 0 0 119.21,167.78Z" fill="#b0c8aa" stroke="#a4a4a4" stroke-width="0.25"/>
<path d="M120.28,172.28A79.6,79.6 0 0 1 119.88,172.41L118.41,168.05A75.0,75.0 0 0 0 118.78,167.93Z" fill="#3a3840" stroke="#a4a4a4" stroke-width="0.25"/>
<path d="M119.88,172.41A79.6,79.6 0 0 1 118.94,172.72L117.52,168.35A75.0,75.0 0 0 0 118.41,168.05Z" fill="#dcdce0" stroke="#a4a4a4" stroke-width="0.25"/>
<path d="M118.94,172.72A79.6,79.6 0 0 1 117.72,173.11L116.37,168.71A75.0,75.0 0 0 0 117.52,168.35Z" fill="#a8a4b4" stroke="#a4a4a4" stroke-width="0.25"/>
<path d="M117.72,173.11A79.6,79.6 0 0 1 116.60,173.44L115.32,169.02A75.0,75.0 0 0 0 116.37,168.71Z" fill="#c8d8ec" stroke="#a4a4a4" stroke-width="0.25"/>
<path d="M116.60,173.44A79.6,79.6 0 0 1 115.92,173.64L114.68,169.21A75.0,75.0 0 0 0 115.32,169.02Z" fill="#f2f2f2" stroke="#a4a4a4" stroke-width="0.25"/>
<path d="M115.92,173.64A79.6,79.6 0 0 1 115.18,173.84L113.98,169.40A75.0,75.0 0 0 0 114.68,169.21Z" fill="#cfe2c8" stroke="#a4a4a4" stroke-width="0.25"/>
<path d="M115.18,173.84A79.6,79.6 0 0 1 114.57,174.00L113.40,169.55A75.0,75.0 0 0 0 113.98,169.40Z" fill="#f2f2f2" stroke="#a4a4a4" stroke-width="0.25"/>
<path d="M114.57,174.00A79.6,79.6 0 0 1 113.07,174.38L111.99,169.91A75.0,75.0 0 0 0 113.40,169.55Z" fill="#cfe2c8" stroke="#a4a4a4" stroke-width="0.25"/>
<path d="M113.07,174.38A79.6,79.6 0 0 1 112.29,174.56L111.26,170.08A75.0,75.0 0 0 0 111.99,169.91Z" fill="#d8d0e6" stroke="#a4a4a4" stroke-width="0.25"/>
<path d="M139.56,162.55A79.6,79.6 0 0 1 112.29,174.56L111.26,170.08A75.0,75.0 0 0 0 136.95,158.76Z" fill="none" stroke="#777" stroke-width="0.45"/>
<path d="M110.93,174.86A79.6,79.6 0 0 1 110.15,175.03L109.24,170.52A75.0,75.0 0 0 0 109.98,170.36Z" fill="#cfe2c8" stroke="#a4a4a4" stroke-width="0.25"/>
<path d="M110.15,175.03A79.6,79.6 0 0 1 109.53,175.15L108.66,170.63A75.0,75.0 0 0 0 109.24,170.52Z" fill="#c4c0cc" stroke="#a4a4a4" stroke-width="0.25"/>
<path d="M109.53,175.15A79.6,79.6 0 0 1 108.14,175.40L107.35,170.87A75.0,75.0 0 0 0 108.66,170.63Z" fill="#c8d8ec" stroke="#a4a4a4" stroke-width="0.25"/>
<path d="M108.14,175.40A79.6,79.6 0 0 1 106.65,175.65L105.95,171.11A75.0,75.0 0 0 0 107.35,170.87Z" fill="#c4c0cc" stroke="#a4a4a4" stroke-width="0.25"/>
<path d="M106.65,175.65A79.6,79.6 0 0 1 105.54,175.82L104.90,171.26A75.0,75.0 0 0 0 105.95,171.11Z" fill="#dcdce0" stroke="#a4a4a4" stroke-width="0.25"/>
<path d="M105.54,175.82A79.6,79.6 0 0 1 104.99,175.89L104.38,171.33A75.0,75.0 0 0 0 104.90,171.26Z" fill="#a8a4b4" stroke="#a4a4a4" stroke-width="0.25"/>
<path d="M104.99,175.89A79.6,79.6 0 0 1 103.55,176.07L103.02,171.50A75.0,75.0 0 0 0 104.38,171.33Z" fill="#d8d0e6" stroke="#a4a4a4" stroke-width="0.25"/>
<path d="M103.55,176.07A79.6,79.6 0 0 1 102.27,176.21L101.81,171.63A75.0,75.0 0 0 0 103.02,171.50Z" fill="#c8d8ec" stroke="#a4a4a4" stroke-width="0.25"/>
<path d="M102.27,176.21A79.6,79.6 0 0 1 101.53,176.28L101.12,171.70A75.0,75.0 0 0 0 101.81,171.63Z" fill="#f2f2f2" stroke="#a4a4a4" stroke-width="0.25"/>
<path d="M101.53,176.28A79.6,79.6 0 0 1 100.58,176.36L100.22,171.77A75.0,75.0 0 0 0 101.12,171.70Z" fill="#dcdce0" stroke="#a4a4a4" stroke-width="0.25"/>
<path d="M100.58,176.36A79.6,79.6 0 0 1 99.93,176.41L99.61,171.82A75.0,75.0 0 0 0 100.22,171.77Z" fill="#c4c0cc" stroke="#a4a4a4" stroke-width="0.25"/>
<path d="M99.93,176.41A79.6,79.6 0 0 1 98.75,176.48L98.50,171.89A75.0,75.0 0 0 0 99.61,171.82Z" fill="#a8a4b4" stroke="#a4a4a4" stroke-width="0.25"/>
<path d="M98.75,176.48A79.6,79.6 0 0 1 97.97,176.52L97.76,171.92A75.0,75.0 0 0 0 98.50,171.89Z" fill="#d8d0e6" stroke="#a4a4a4" stroke-width="0.25"/>
<path d="M97.97,176.52A79.6,79.6 0 0 1 96.33,176.58L96.22,171.98A75.0,75.0 0 0 0 97.76,171.92Z" fill="#c4c0cc" stroke="#a4a4a4" stroke-width="0.25"/>
<path d="M96.33,176.58A79.6,79.6 0 0 1 95.86,176.59L95.77,171.99A75.0,75.0 0 0 0 96.22,171.98Z" fill="#f2f2f2" stroke="#a4a4a4" stroke-width="0.25"/>
<path d="M95.86,176.59A79.6,79.6 0 0 1 94.36,176.60L94.36,172.00A75.0,75.0 0 0 0 95.77,171.99Z" fill="#f2f2f2" stroke="#a4a4a4" stroke-width="0.25"/>
<path d="M94.36,176.60A79.6,79.6 0 0 1 93.07,176.59L93.15,171.99A75.0,75.0 0 0 0 94.36,172.00Z" fill="#7c7888" stroke="#a4a4a4" stroke-width="0.25"/>
<path d="M93.07,176.59A79.6,79.6 0 0 1 92.29,176.57L92.42,171.97A75.0,75.0 0 0 0 93.15,171.99Z" fill="#b0c8aa" stroke="#a4a4a4" stroke-width="0.25"/>
<path d="M92.29,176.57A79.6,79.6 0 0 1 91.89,176.56L92.04,171.96A75.0,75.0 0 0 0 92.42,171.97Z" fill="#f2f2f2" stroke="#a4a4a4" stroke-width="0.25"/>
<path d="M91.89,176.56A79.6,79.6 0 0 1 90.93,176.52L91.13,171.93A75.0,75.0 0 0 0 92.04,171.96Z" fill="#f2f2f2" stroke="#a4a4a4" stroke-width="0.25"/>
<path d="M90.93,176.52A79.6,79.6 0 0 1 89.49,176.45L89.77,171.86A75.0,75.0 0 0 0 91.13,171.93Z" fill="#dcdce0" stroke="#a4a4a4" stroke-width="0.25"/>
<path d="M89.49,176.45A79.6,79.6 0 0 1 88.93,176.41L89.25,171.82A75.0,75.0 0 0 0 89.77,171.86Z" fill="#f2f2f2" stroke="#a4a4a4" stroke-width="0.25"/>
<path d="M88.93,176.41A79.6,79.6 0 0 1 87.75,176.32L88.13,171.74A75.0,75.0 0 0 0 89.25,171.82Z" fill="#c4c0cc" stroke="#a4a4a4" stroke-width="0.25"/>
<path d="M87.75,176.32A79.6,79.6 0 0 1 86.57,176.21L87.02,171.64A75.0,75.0 0 0 0 88.13,171.74Z" fill="#cfe2c8" stroke="#a4a4a4" stroke-width="0.25"/>
<path d="M86.57,176.21A79.6,79.6 0 0 1 85.16,176.06L85.69,171.49A75.0,75.0 0 0 0 87.02,171.64Z" fill="#c8d8ec" stroke="#a4a4a4" stroke-width="0.25"/>
<path d="M85.16,176.06A79.6,79.6 0 0 1 83.91,175.91L84.52,171.35A75.0,75.0 0 0 0 85.69,171.49Z" fill="#dcdce0" stroke="#a4a4a4" stroke-width="0.25"/>
<path d="M83.91,175.91A79.6,79.6 0 0 1 82.93,175.77L83.59,171.22A75.0,75.0 0 0 0 84.52,171.35Z" fill="#f2f2f2" stroke="#a4a4a4" stroke-width="0.25"/>
<path d="M82.93,175.77A79.6,79.6 0 0 1 82.54,175.71L83.23,171.16A75.0,75.0 0 0 0 83.59,171.22Z" fill="#a8a4b4" stroke="#a4a4a4" stroke-width="0.25"/>
<path d="M82.54,175.71A79.6,79.6 0 0 1 82.35,175.68L83.05,171.14A75.0,75.0 0 0 0 83.23,171.16Z" fill="#f2f2f2" stroke="#a4a4a4" stroke-width="0.25"/>
<path d="M110.93,174.86A79.6,79.6 0 0 1 82.35,175.68L83.05,171.14A75.0,75.0 0 0 0 109.98,170.36Z" fill="none" stroke="#777" stroke-width="0.45"/>
<path d="M80.98,175.46A79.6,79.6 0 0 1 80.26,175.33L81.08,170.81A75.0,75.0 0 0 0 81.76,170.93Z" fill="#c4c0cc" stroke="#a4a4a4" stroke-width="0.25"/>
<path d="M80.26,175.33A79.6,79.6 0 0 1 79.01,175.10L79.90,170.59A75.0,75.0 0 0 0 81.08,170.81Z" fill="#a8a4b4" stroke="#a4a4a4" stroke-width="0.25"/>
<path d="M79.01,175.10A79.6,79.6 0 0 1 77.87,174.86L78.82,170.36A75.0,75.0 0 0 0 79.90,170.59Z" fill="#b0c8aa" stroke="#a4a4a4" stroke-width="0.25"/>
<path d="M77.87,174.86A79.6,79.6 0 0 1 77.01,174.68L78.01,170.19A75.0,75.0 0 0 0 78.82,170.36Z" fill="#b0c8aa" stroke="#a4a4a4" stroke-width="0.25"/>
<path d="M77.01,174.68A79.6,79.6 0 0 1 75.50,174.32L76.60,169.86A75.0,75.0 0 0 0 78.01,170.19Z" fill="#f2f2f2" stroke="#a4a4a4" stroke-width="0.25"/>
<path d="M75.50,174.32A79.6,79.6 0 0 1 73.98,173.94L75.16,169.49A75.0,75.0 0 0 0 76.60,169.86Z" fill="#cfe2c8" stroke="#a4a4a4" stroke-width="0.25"/>
<path d="M73.98,173.94A79.6,79.6 0 0 1 73.45,173.79L74.66,169.36A75.0,75.0 0 0 0 75.16,169.49Z" fill="#c4c0cc" stroke="#a4a4a4" stroke-width="0.25"/>
<path d="M73.45,173.79A79.6,79.6 0 0 1 72.31,173.47L73.59,169.05A75.0,75.0 0 0 0 74.66,169.36Z" fill="#c8d8ec" stroke="#a4a4a4" stroke-width="0.25"/>
<path d="M72.31,173.47A79.6,79.6 0 0 1 71.49,173.23L72.81,168.83A75.0,75.0 0 0 0 73.59,169.05Z" fill="#7c7888" stroke="#a4a4a4" stroke-width="0.25"/>
<path d="M71.49,173.23A79.6,79.6 0 0 1 70.05,172.78L71.45,168.40A75.0,75.0 0 0 0 72.81,168.83Z" fill="#b0c8aa" stroke="#a4a4a4" stroke-width="0.25"/>
<path d="M70.05,172.78A79.6,79.6 0 0 1 68.54,172.28L70.03,167.93A75.0,75.0 0 0 0 71.45,168.40Z" fill="#a8a4b4" stroke="#a4a4a4" stroke-width="0.25"/>
<path d="M68.54,172.28A79.6,79.6 0 0 1 67.39,171.88L68.95,167.55A75.0,75.0 0 0 0 70.03,167.93Z" fill="#dcdce0" stroke="#a4a4a4" stroke-width="0.25"/>
<path d="M67.39,171.88A79.6,79.6 0 0 1 66.17,171.42L67.80,167.12A75.0,75.0 0 0 0 68.95,167.55Z" fill="#d8d0e6" stroke="#a4a4a4" stroke-width="0.25"/>
<path d="M66.17,171.42A79.6,79.6 0 0 1 65.05,170.99L66.74,166.71A75.0,75.0 0 0 0 67.80,167.12Z" fill="#cfe2c8" stroke="#a4a4a4" stroke-width="0.25"/>
<path d="M65.05,170.99A79.6,79.6 0 0 1 64.44,170.75L66.17,166.49A75.0,75.0 0 0 0 66.74,166.71Z" fill="#d8d0e6" stroke="#a4a4a4" stroke-width="0.25"/>
<path d="M64.44,170.75A79.6,79.6 0 0 1 62.93,170.12L64.75,165.89A75.0,75.0 0 0 0 66.17,166.49Z" fill="#c8d8ec" stroke="#a4a4a4" stroke-width="0.25"/>
<path d="M62.93,170.12A79.6,79.6 0 0 1 61.95,169.69L63.83,165.49A75.0,75.0 0 0 0 64.75,165.89Z" fill="#b0c8aa" stroke="#a4a4a4" stroke-width="0.25"/>
<path d="M61.95,169.69A79.6,79.6 0 0 1 61.23,169.36L63.15,165.18A75.0,75.0 0 0 0 63.83,165.49Z" fill="#c8d8ec" stroke="#a4a4a4" stroke-width="0.25"/>
<path d="M61.23,169.36A79.6,79.6 0 0 1 59.90,168.73L61.89,164.59A75.0,75.0 0 0 0 63.15,165.18Z" fill="#c4c0cc" stroke="#a4a4a4" stroke-width="0.25"/>
<path d="M59.90,168.73A79.6,79.6 0 0 1 59.46,168.52L61.48,164.39A75.0,75.0 0 0 0 61.89,164.59Z" fill="#c4c0cc" stroke="#a4a4a4" stroke-width="0.25"/>
<path d="M59.46,168.52A79.6,79.6 0 0 1 58.49,168.04L60.56,163.93A75.0,75.0 0 0 0 61.48,164.39Z" fill="#b0c8aa" stroke="#a4a4a4" stroke-width="0.25"/>
<path d="M58.49,168.04A79.6,79.6 0 0 1 57.60,167.58L59.72,163.50A75.0,75.0 0 0 0 60.56,163.93Z" fill="#f2f2f2" stroke="#a4a4a4" stroke-width="0.25"/>
<path d="M57.60,167.58A79.6,79.6 0 0 1 56.34,166.91L58.54,162.87A75.0,75.0 0 0 0 59.72,163.50Z" fill="#f2f2f2" stroke="#a4a4a4" stroke-width="0.25"/>
<path d="M56.34,166.91A79.6,79.6 0 0 1 55.26,166.31L57.52,162.30A75.0,75.0 0 0 0 58.54,162.87Z" fill="#f2f2f2" stroke="#a4a4a4" stroke-width="0.25"/>
<path d="M80.98,175.46A79.6,79.6 0 0 1 55.26,166.31L57.52,162.30A75.0,75.0 0 0 0 81.76,170.93Z" fill="none" stroke="#777" stroke-width="0.45"/>
<path d="M54.05,165.62A79.6,79.6 0 0 1 53.36,165.20L55.73,161.26A75.0,75.0 0 0 0 56.38,161.65Z" fill="#b0c8aa" stroke="#a4a4a4" stroke-width="0.25"/>
<path d="M53.36,165.20A79.6,79.6 0 0 1 52.88,164.91L55.28,160.99A75.0,75.0 0 0 0 55.73,161.26Z" fill="#f2f2f2" stroke="#a4a4a4" stroke-width="0.25"/>
<path d="M52.88,164.91A79.6,79.6 0 0 1 51.99,164.36L54.45,160.47A75.0,75.0 0 0 0 55.28,160.99Z" fill="#cfe2c8" stroke="#a4a4a4" stroke-width="0.25"/>
<path d="M51.99,164.36A79.6,79.6 0 0 1 50.77,163.58L53.29,159.73A75.0,75.0 0 0 0 54.45,160.47Z" fill="#cfe2c8" stroke="#a4a4a4" stroke-width="0.25"/>
<path d="M50.77,163.58A79.6,79.6 0 0 1 49.45,162.69L52.04,158.89A75.0,75.0 0 0 0 53.29,159.73Z" fill="#a8a4b4" stroke="#a4a4a4" stroke-width="0.25"/>
<path d="M49.45,162.69A79.6,79.6 0 0 1 48.14,161.77L50.81,158.03A75.0,75.0 0 0 0 52.04,158.89Z" fill="#f2f2f2" stroke="#a4a4a4" stroke-width="0.25"/>
<path d="M48.14,161.77A79.6,79.6 0 0 1 47.60,161.39L50.30,157.67A75.0,75.0 0 0 0 50.81,158.03Z" fill="#a8a4b4" stroke="#a4a4a4" stroke-width="0.25"/>
<path d="M47.60,161.39A79.6,79.6 0 0 1 46.99,160.94L49.73,157.25A75.0,75.0 0 0 0 50.30,157.67Z" fill="#cfe2c8" stroke="#a4a4a4" stroke-width="0.25"/>
<path d="M46.99,160.94A79.6,79.6 0 0 1 46.04,160.22L48.83,156.57A75.0,75.0 0 0 0 49.73,157.25Z" fill="#a8a4b4" stroke="#a4a4a4" stroke-width="0.25"/>
<path d="M46.04,160.22A79.6,79.6 0 0 1 44.88,159.32L47.74,155.72A75.0,75.0 0 0 0 48.83,156.57Z" fill="#7c7888" stroke="#a4a4a4" stroke-width="0.25"/>
<path d="M44.88,159.32A79.6,79.6 0 0 1 44.28,158.84L47.17,155.26A75.0,75.0 0 0 0 47.74,155.72Z" fill="#c4c0cc" stroke="#a4a4a4" stroke-width="0.25"/>
<path d="M44.28,158.84A79.6,79.6 0 0 1 43.15,157.90L46.11,154.38A75.0,75.0 0 0 0 47.17,155.26Z" fill="#d8d0e6" stroke="#a4a4a4" stroke-width="0.25"/>
<path d="M43.15,157.90A79.6,79.6 0 0 1 42.66,157.49L45.65,153.99A75.0,75.0 0 0 0 46.11,154.38Z" fill="#d8d0e6" stroke="#a4a4a4" stroke-width="0.25"/>
<path d="M42.66,157.49A79.6,79.6 0 0 1 41.43,156.42L44.49,152.99A75.0,75.0 0 0 0 45.65,153.99Z" fill="#a8a4b4" stroke="#a4a4a4" stroke-width="0.25"/>
<path d="M41.43,156.42A79.6,79.6 0 0 1 40.61,155.67L43.72,152.28A75.0,75.0 0 0 0 44.49,152.99Z" fill="#dcdce0" stroke="#a4a4a4" stroke-width="0.25"/>
<path d="M40.61,155.67A79.6,79.6 0 0 1 39.83,154.95L42.98,151.60A75.0,75.0 0 0 0 43.72,152.28Z" fill="#a8a4b4" stroke="#a4a4a4" stroke-width="0.25"/>
<path d="M39.83,154.95A79.6,79.6 0 0 1 38.99,154.15L42.19,150.85A75.0,75.0 0 0 0 42.98,151.60Z" fill="#f2f2f2" stroke="#a4a4a4" stroke-width="0.25"/>
<path d="M38.99,154.15A79.6,79.6 0 0 1 37.84,153.01L41.11,149.77A75.0,75.0 0 0 0 42.19,150.85Z" fill="#a8a4b4" stroke="#a4a4a4" stroke-width="0.25"/>
<path d="M37.84,153.01A79.6,79.6 0 0 1 37.21,152.37L40.52,149.17A75.0,75.0 0 0 0 41.11,149.77Z" fill="#b0c8aa" stroke="#a4a4a4" stroke-width="0.25"/>
<path d="M37.21,152.37A79.6,79.6 0 0 1 36.45,151.57L39.80,148.42A75.0,75.0 0 0 0 40.52,149.17Z" fill="#a8a4b4" stroke="#a4a4a4" stroke-width="0.25"/>
<path d="M36.45,151.57A79.6,79.6 0 0 1 35.59,150.64L38.99,147.54A75.0,75.0 0 0 0 39.80,148.42Z" fill="#f2f2f2" stroke="#a4a4a4" stroke-width="0.25"/>
<path d="M35.59,150.64A79.6,79.6 0 0 1 34.88,149.85L38.32,146.79A75.0,75.0 0 0 0 38.99,147.54Z" fill="#c4c0cc" stroke="#a4a4a4" stroke-width="0.25"/>
<path d="M34.88,149.85A79.6,79.6 0 0 1 34.29,149.18L37.76,146.16A75.0,75.0 0 0 0 38.32,146.79Z" fill="#c8d8ec" stroke="#a4a4a4" stroke-width="0.25"/>
<path d="M54.05,165.62A79.6,79.6 0 0 1 34.29,149.18L37.76,146.16A75.0,75.0 0 0 0 56.38,161.65Z" fill="none" stroke="#777" stroke-width="0.45"/>
<path d="M33.39,148.12A79.6,79.6 0 0 1 32.92,147.57L36.48,144.64A75.0,75.0 0 0 0 36.91,145.17Z" fill="#a8a4b4" stroke="#a4a4a4" stroke-width="0.25"/>
<path d="M32.92,147.57A79.6,79.6 0 0 1 32.58,147.15L36.15,144.25A75.0,75.0 0 0 0 36.48,144.64Z" fill="#c4c0cc" stroke="#a4a4a4" stroke-width="0.25"/>
<path d="M32.58,147.15A79.6,79.6 0 0 1 31.69,146.03L35.32,143.20A75.0,75.0 0 0 0 36.15,144.25Z" fill="#d8d0e6" stroke="#a4a4a4" stroke-width="0.25"/>
<path d="M31.69,146.03A79.6,79.6 0 0 1 31.09,145.25L34.75,142.46A75.0,75.0 0 0 0 35.32,143.20Z" fill="#dcdce0" stroke="#a4a4a4" stroke-width="0.25"/>
<path d="M31.09,145.25A79.6,79.6 0 0 1 30.71,144.75L34.39,141.99A75.0,75.0 0 0 0 34.75,142.46Z" fill="#cfe2c8" stroke="#a4a4a4" stroke-width="0.25"/>
<path d="M30.71,144.75A79.6,79.6 0 0 1 29.79,143.49L33.52,140.80A75.0,75.0 0 0 0 34.39,141.99Z" fill="#f2f2f2" stroke="#a4a4a4" stroke-width="0.25"/>
<path d="M29.79,143.49A79.6,79.6 0 0 1 28.99,142.36L32.77,139.74A75.0,75.0 0 0 0 33.52,140.80Z" fill="#f2f2f2" stroke="#a4a4a4" stroke-width="0.25"/>
<path d="M28.99,142.36A79.6,79.6 0 0 1 28.63,141.84L32.43,139.25A75.0,75.0 0 0 0 32.77,139.74Z" fill="#dcdce0" stroke="#a4a4a4" stroke-width="0.25"/>
<path d="M28.63,141.84A79.6,79.6 0 0 1 27.93,140.80L31.77,138.27A75.0,75.0 0 0 0 32.43,139.25Z" fill="#dcdce0" stroke="#a4a4a4" stroke-width="0.25"/>
<path d="M27.93,140.80A79.6,79.6 0 0 1 27.48,140.10L31.34,137.61A75.0,75.0 0 0 0 31.77,138.27Z" fill="#cfe2c8" stroke="#a4a4a4" stroke-width="0.25"/>
<path d="M27.48,140.10A79.6,79.6 0 0 1 27.20,139.67L31.08,137.20A75.0,75.0 0 0 0 31.34,137.61Z" fill="#cfe2c8" stroke="#a4a4a4" stroke-width="0.25"/>
<path d="M27.20,139.67A79.6,79.6 0 0 1 26.91,139.21L30.81,136.77A75.0,75.0 0 0 0 31.08,137.20Z" fill="#a8a4b4" stroke="#a4a4a4" stroke-width="0.25"/>
<path d="M26.91,139.21A79.6,79.6 0 0 1 26.55,138.62L30.47,136.21A75.0,75.0 0 0 0 30.81,136.77Z" fill="#dcdce0" stroke="#a4a4a4" stroke-width="0.25"/>
<path d="M26.55,138.62A79.6,79.6 0 0 1 26.00,137.71L29.95,135.36A75.0,75.0 0 0 0 30.47,136.21Z" fill="#c4c0cc" stroke="#a4a4a4" stroke-width="0.25"/>
<path d="M26.00,137.71A79.6,79.6 0 0 1 25.56,136.97L29.54,134.66A75.0,75.0 0 0 0 29.95,135.36Z" fill="#c4c0cc" stroke="#a4a4a4" stroke-width="0.25"/>
<path d="M25.56,136.97A79.6,79.6 0 0 1 25.04,136.05L29.05,133.79A75.0,75.0 0 0 0 29.54,134.66Z" fill="#f2f2f2" stroke="#a4a4a4" stroke-width="0.25"/>
<path d="M25.04,136.05A79.6,79.6 0 0 1 24.73,135.49L28.75,133.27A75.0,75.0 0 0 0 29.05,133.79Z" fill="#cfe2c8" stroke="#a4a4a4" stroke-width="0.25"/>
<path d="M24.73,135.49A79.6,79.6 0 0 1 24.15,134.44L28.21,132.27A75.0,75.0 0 0 0 28.75,133.27Z" fill="#a8a4b4" stroke="#a4a4a4" stroke-width="0.25"/>
<path d="M24.15,134.44A79.6,79.6 0 0 1 23.47,133.13L27.57,131.05A75.0,75.0 0 0 0 28.21,132.27Z" fill="#cfe2c8" stroke="#a4a4a4" stroke-width="0.25"/>
<path d="M23.47,133.13A79.6,79.6 0 0 1 22.81,131.81L26.95,129.80A75.0,75.0 0 0 0 27.57,131.05Z" fill="#dcdce0" stroke="#a4a4a4" stroke-width="0.25"/>
<path d="M22.81,131.81A79.6,79.6 0 0 1 22.24,130.61L26.41,128.67A75.0,75.0 0 0 0 26.95,129.80Z" fill="#d8d0e6" stroke="#a4a4a4" stroke-width="0.25"/>
<path d="M22.24,130.61A79.6,79.6 0 0 1 21.61,129.21L25.81,127.35A75.0,75.0 0 0 0 26.41,128.67Z" fill="#dcdce0" stroke="#a4a4a4" stroke-width="0.25"/>
<path d="M21.61,129.21A79.6,79.6 0 0 1 21.29,128.49L25.52,126.67A75.0,75.0 0 0 0 25.81,127.35Z" fill="#c8d8ec" stroke="#a4a4a4" stroke-width="0.25"/>
<path d="M21.29,128.49A79.6,79.6 0 0 1 21.04,127.89L25.28,126.10A75.0,75.0 0 0 0 25.52,126.67Z" fill="#c8d8ec" stroke="#a4a4a4" stroke-width="0.25"/>
<path d="M21.04,127.89A79.6,79.6 0 0 1 20.92,127.62L25.17,125.85A75.0,75.0 0 0 0 25.28,126.10Z" fill="#f2f2f2" stroke="#a4a4a4" stroke-width="0.25"/>
<path d="M33.39,148.12A79.6,79.6 0 0 1 20.92,127.62L25.17,125.85A75.0,75.0 0 0 0 36.91,145.17Z" fill="none" stroke="#777" stroke-width="0.45"/>
<path d="M20.40,126.33A79.6,79.6 0 0 1 20.15,125.69L24.44,124.04A75.0,75.0 0 0 0 24.68,124.64Z" fill="#cfe2c8" stroke="#a4a4a4" stroke-width="0.25"/>
<path d="M20.15,125.69A79.6,79.6 0 0 1 19.90,125.03L24.20,123.41A75.0,75.0 0 0 0 24.44,124.04Z" fill="#f2f2f2" stroke="#a4a4a4" stroke-width="0.25"/>
<path d="M19.90,125.03A79.6,79.6 0 0 1 19.40,123.67L23.73,122.13A75.0,75.0 0 0 0 24.20,123.41Z" fill="#c4c0cc" stroke="#a4a4a4" stroke-width="0.25"/>
<path d="M19.40,123.67A79.6,79.6 0 0 1 18.95,122.35L23.31,120.89A75.0,75.0 0 0 0 23.73,122.13Z" fill="#f2f2f2" stroke="#a4a4a4" stroke-width="0.25"/>
<path d="M18.95,122.35A79.6,79.6 0 0 1 18.67,121.50L23.04,120.09A75.0,75.0 0 0 0 23.31,120.89Z" fill="#cfe2c8" stroke="#a4a4a4" stroke-width="0.25"/>
<path d="M18.67,121.50A79.6,79.6 0 0 1 18.54,121.12L22.93,119.73A75.0,75.0 0 0 0 23.04,120.09Z" fill="#dcdce0" stroke="#a4a4a4" stroke-width="0.25"/>
<path d="M18.54,121.12A79.6,79.6 0 0 1 18.17,119.92L22.58,118.60A75.0,75.0 0 0 0 22.93,119.73Z" fill="#c8d8ec" stroke="#a4a4a4" stroke-width="0.25"/>
<path d="M18.17,119.92A79.6,79.6 0 0 1 17.72,118.36L22.15,117.13A75.0,75.0 0 0 0 22.58,118.60Z" fill="#f2f2f2" stroke="#a4a4a4" stroke-width="0.25"/>
<path d="M17.72,118.36A79.6,79.6 0 0 1 17.45,117.37L21.90,116.20A75.0,75.0 0 0 0 22.15,117.13Z" fill="#b0c8aa" stroke="#a4a4a4" stroke-width="0.25"/>
<path d="M17.45,117.37A79.6,79.6 0 0 1 17.20,116.38L21.66,115.26A75.0,75.0 0 0 0 21.90,116.20Z" fill="#cfe2c8" stroke="#a4a4a4" stroke-width="0.25"/>
<path d="M17.20,116.38A79.6,79.6 0 0 1 17.05,115.78L21.52,114.69A75.0,75.0 0 0 0 21.66,115.26Z" fill="#f2f2f2" stroke="#a4a4a4" stroke-width="0.25"/>
<path d="M17.05,115.78A79.6,79.6 0 0 1 16.93,115.28L21.40,114.22A75.0,75.0 0 0 0 21.52,114.69Z" fill="#f2f2f2" stroke="#a4a4a4" stroke-width="0.25"/>
<path d="M16.93,115.28A79.6,79.6 0 0 1 16.68,114.22L21.18,113.22A75.0,75.0 0 0 0 21.40,114.22Z" fill="#a8a4b4" stroke="#a4a4a4" stroke-width="0.25"/>
<path d="M16.68,114.22A79.6,79.6 0 0 1 16.45,113.14L20.96,112.20A75.0,75.0 0 0 0 21.18,113.22Z" fill="#f2f2f2" stroke="#a4a4a4" stroke-width="0.25"/>
<path d="M16.45,113.14A79.6,79.6 0 0 1 16.33,112.53L20.84,111.64A75.0,75.0 0 0 0 20.96,112.20Z" fill="#dcdce0" stroke="#a4a4a4" stroke-width="0.25"/>
<path d="M16.33,112.53A79.6,79.6 0 0 1 16.06,111.10L20.59,110.29A75.0,75.0 0 0 0 20.84,111.64Z" fill="#c8d8ec" stroke="#a4a4a4" stroke-width="0.25"/>
<path d="M16.06,111.10A79.6,79.6 0 0 1 15.80,109.55L20.34,108.83A75.0,75.0 0 0 0 20.59,110.29Z" fill="#f2f2f2" stroke="#a4a4a4" stroke-width="0.25"/>
<path d="M15.80,109.55A79.6,79.6 0 0 1 15.73,109.10L20.27,108.40A75.0,75.0 0 0 0 20.34,108.83Z" fill="#c8d8ec" stroke="#a4a4a4" stroke-width="0.25"/>
<path d="M15.73,109.10A79.6,79.6 0 0 1 15.58,108.14L20.14,107.50A75.0,75.0 0 0 0 20.27,108.40Z" fill="#b0c8aa" stroke="#a4a4a4" stroke-width="0.25"/>
<path d="M15.58,108.14A79.6,79.6 0 0 1 15.48,107.35L20.04,106.75A75.0,75.0 0 0 0 20.14,107.50Z" fill="#a8a4b4" stroke="#a4a4a4" stroke-width="0.25"/>
<path d="M15.48,107.35A79.6,79.6 0 0 1 15.35,106.32L19.92,105.78A75.0,75.0 0 0 0 20.04,106.75Z" fill="#c4c0cc" stroke="#a4a4a4" stroke-width="0.25"/>
<path d="M15.35,106.32A79.6,79.6 0 0 1 15.22,105.18L19.80,104.70A75.0,75.0 0 0 0 19.92,105.78Z" fill="#f2f2f2" stroke="#a4a4a4" stroke-width="0.25"/>
<path d="M15.22,105.18A79.6,79.6 0 0 1 15.21,105.09L19.79,104.62A75.0,75.0 0 0 0 19.80,104.70Z" fill="#d8d0e6" stroke="#a4a4a4" stroke-width="0.25"/>
<path d="M20.40,126.33A79.6,79.6 0 0 1 15.21,105.09L19.79,104.62A75.0,75.0 0 0 0 24.68,124.64Z" fill="none" stroke="#777" stroke-width="0.45"/>
<path d="M15.08,103.70A79.6,79.6 0 0 1 15.03,103.10L19.62,102.74A75.0,75.0 0 0 0 19.67,103.32Z" fill="#c4c0cc" stroke="#a4a4a4" stroke-width="0.25"/>
<path d="M15.03,103.10A79.6,79.6 0 0 1 14.94,101.77L19.53,101.49A75.0,75.0 0 0 0 19.62,102.74Z" fill="#c4c0cc" stroke="#a4a4a4" stroke-width="0.25"/>
<path d="M14.94,101.77A79.6,79.6 0 0 1 14.91,101.14L19.50,100.90A75.0,75.0 0 0 0 19.53,101.49Z" fill="#f2f2f2" stroke="#a4a4a4" stroke-width="0.25"/>
<path d="M14.91,101.14A79.6,79.6 0 0 1 14.86,100.11L19.46,99.93A75.0,75.0 0 0 0 19.50,100.90Z" fill="#f2f2f2" stroke="#a4a4a4" stroke-width="0.25"/>
<path d="M14.86,100.11A79.6,79.6 0 0 1 14.82,98.58L19.41,98.49A75.0,75.0 0 0 0 19.46,99.93Z" fill="#b0c8aa" stroke="#a4a4a4" stroke-width="0.25"/>
<path d="M14.82,98.58A79.6,79.6 0 0 1 14.80,97.30L19.40,97.28A75.0,75.0 0 0 0 19.41,98.49Z" fill="#d8d0e6" stroke="#a4a4a4" stroke-width="0.25"/>
<path d="M14.80,97.30A79.6,79.6 0 0 1 14.80,96.11L19.40,96.16A75.0,75.0 0 0 0 19.40,97.28Z" fill="#c4c0cc" stroke="#a4a4a4" stroke-width="0.25"/>
<path d="M14.80,96.11A79.6,79.6 0 0 1 14.83,94.97L19.42,95.08A75.0,75.0 0 0 0 19.40,96.16Z" fill="#a8a4b4" stroke="#a4a4a4" stroke-width="0.25"/>
<path d="M14.83,94.97A79.6,79.6 0 0 1 14.88,93.33L19.48,93.54A75.0,75.0 0 0 0 19.42,95.08Z" fill="#b0c8aa" stroke="#a4a4a4" stroke-width="0.25"/>
<path d="M14.88,93.33A79.6,79.6 0 0 1 14.92,92.62L19.51,92.87A75.0,75.0 0 0 0 19.48,93.54Z" fill="#c8d8ec" stroke="#a4a4a4" stroke-width="0.25"/>
<path d="M14.92,92.62A79.6,79.6 0 0 1 15.01,91.29L19.59,91.62A75.0,75.0 0 0 0 19.51,92.87Z" fill="#b0c8aa" stroke="#a4a4a4" stroke-width="0.25"/>
<path d="M15.01,91.29A79.6,79.6 0 0 1 15.12,89.87L19.70,90.28A75.0,75.0 0 0 0 19.59,91.62Z" fill="#c4c0cc" stroke="#a4a4a4" stroke-width="0.25"/>
<path d="M15.12,89.87A79.6,79.6 0 0 1 15.27,88.34L19.84,88.84A75.0,75.0 0 0 0 19.70,90.28Z" fill="#d8d0e6" stroke="#a4a4a4" stroke-width="0.25"/>
<path d="M15.27,88.34A79.6,79.6 0 0 1 15.42,87.08L19.98,87.65A75.0,75.0 0 0 0 19.84,88.84Z" fill="#b0c8aa" stroke="#a4a4a4" stroke-width="0.25"/>
<path d="M15.42,87.08A79.6,79.6 0 0 1 15.60,85.73L20.16,86.38A75.0,75.0 0 0 0 19.98,87.65Z" fill="#c4c0cc" stroke="#a4a4a4" stroke-width="0.25"/>
<path d="M15.60,85.73A79.6,79.6 0 0 1 15.80,84.44L20.34,85.17A75.0,75.0 0 0 0 20.16,86.38Z" fill="#f2f2f2" stroke="#a4a4a4" stroke-width="0.25"/>
<path d="M15.80,84.44A79.6,79.6 0 0 1 15.93,83.64L20.46,84.41A75.0,75.0 0 0 0 20.34,85.17Z" fill="#a8a4b4" stroke="#a4a4a4" stroke-width="0.25"/>
<path d="M15.93,83.64A79.6,79.6 0 0 1 16.00,83.25L20.53,84.04A75.0,75.0 0 0 0 20.46,84.41Z" fill="#c4c0cc" stroke="#a4a4a4" stroke-width="0.25"/>
<path d="M16.00,83.25A79.6,79.6 0 0 1 16.06,82.87L20.59,83.69A75.0,75.0 0 0 0 20.53,84.04Z" fill="#cfe2c8" stroke="#a4a4a4" stroke-width="0.25"/>
<path d="M15.08,103.70A79.6,79.6 0 0 1 16.06,82.87L20.59,83.69A75.0,75.0 0 0 0 19.67,103.32Z" fill="none" stroke="#777" stroke-width="0.45"/>
<path d="M16.32,81.50A79.6,79.6 0 0 1 16.46,80.84L20.96,81.78A75.0,75.0 0 0 0 20.83,82.40Z" fill="#c8d8ec" stroke="#a4a4a4" stroke-width="0.25"/>
<path d="M16.46,80.84A79.6,79.6 0 0 1 16.72,79.64L21.21,80.64A75.0,75.0 0 0 0 20.96,81.78Z" fill="#dcdce0" stroke="#a4a4a4" stroke-width="0.25"/>
<path d="M16.72,79.64A79.6,79.6 0 0 1 16.99,78.44L21.47,79.51A75.0,75.0 0 0 0 21.21,80.64Z" fill="#7c7888" stroke="#a4a4a4" stroke-width="0.25"/>
<path d="M16.99,78.44A79.6,79.6 0 0 1 17.25,77.41L21.71,78.54A75.0,75.0 0 0 0 21.47,79.51Z" fill="#c4c0cc" stroke="#a4a4a4" stroke-width="0.25"/>
<path d="M17.25,77.41A79.6,79.6 0 0 1 17.67,75.80L22.11,77.03A75.0,75.0 0 0 0 21.71,78.54Z" fill="#cfe2c8" stroke="#a4a4a4" stroke-width="0.25"/>
<path d="M17.67,75.80A79.6,79.6 0 0 1 18.02,74.57L22.44,75.87A75.0,75.0 0 0 0 22.11,77.03Z" fill="#b0c8aa" stroke="#a4a4a4" stroke-width="0.25"/>
<path d="M18.02,74.57A79.6,79.6 0 0 1 18.50,73.01L22.89,74.39A75.0,75.0 0 0 0 22.44,75.87Z" fill="#f2f2f2" stroke="#a4a4a4" stroke-width="0.25"/>
<path d="M18.50,73.01A79.6,79.6 0 0 1 18.86,71.90L23.23,73.35A75.0,75.0 0 0 0 22.89,74.39Z" fill="#b0c8aa" stroke="#a4a4a4" stroke-width="0.25"/>
<path d="M18.86,71.90A79.6,79.6 0 0 1 19.09,71.23L23.44,72.71A75.0,75.0 0 0 0 23.23,73.35Z" fill="#c4c0cc" stroke="#a4a4a4" stroke-width="0.25"/>
<path d="M19.09,71.23A79.6,79.6 0 0 1 19.23,70.81L23.58,72.32A75.0,75.0 0 0 0 23.44,72.71Z" fill="#dcdce0" stroke="#a4a4a4" stroke-width="0.25"/>
<path d="M19.23,70.81A79.6,79.6 0 0 1 19.52,70.00L23.85,71.56A75.0,75.0 0 0 0 23.58,72.32Z" fill="#f2f2f2" stroke="#a4a4a4" stroke-width="0.25"/>
<path d="M19.52,70.00A79.6,79.6 0 0 1 19.76,69.34L24.07,70.94A75.0,75.0 0 0 0 23.85,71.56Z" fill="#d8d0e6" stroke="#a4a4a4" stroke-width="0.25"/>
<path d="M19.76,69.34A79.6,79.6 0 0 1 20.14,68.32L24.44,69.98A75.0,75.0 0 0 0 24.07,70.94Z" fill="#a8a4b4" stroke="#a4a4a4" stroke-width="0.25"/>
<path d="M20.14,68.32A79.6,79.6 0 0 1 20.74,66.82L25.00,68.56A75.0,75.0 0 0 0 24.44,69.98Z" fill="#7c7888" stroke="#a4a4a4" stroke-width="0.25"/>
<path d="M20.74,66.82A79.6,79.6 0 0 1 21.39,65.29L25.61,67.12A75.0,75.0 0 0 0 25.00,68.56Z" fill="#cfe2c8" stroke="#a4a4a4" stroke-width="0.25"/>
<path d="M21.39,65.29A79.6,79.6 0 0 1 21.96,64.00L26.15,65.90A75.0,75.0 0 0 0 25.61,67.12Z" fill="#f2f2f2" stroke="#a4a4a4" stroke-width="0.25"/>
<path d="M21.96,64.00A79.6,79.6 0 0 1 22.45,62.96L26.60,64.92A75.0,75.0 0 0 0 26.15,65.90Z" fill="#b0c8aa" stroke="#a4a4a4" stroke-width="0.25"/>
<path d="M22.45,62.96A79.6,79.6 0 0 1 22.63,62.56L26.78,64.55A75.0,75.0 0 0 0 26.60,64.92Z" fill="#c8d8ec" stroke="#a4a4a4" stroke-width="0.25"/>
<path d="M22.63,62.56A79.6,79.6 0 0 1 22.72,62.38L26.87,64.38A75.0,75.0 0 0 0 26.78,64.55Z" fill="#a8a4b4" stroke="#a4a4a4" stroke-width="0.25"/>
<path d="M16.32,81.50A79.6,79.6 0 0 1 22.72,62.38L26.87,64.38A75.0,75.0 0 0 0 20.83,82.40Z" fill="none" stroke="#777" stroke-width="0.45"/>
<path d="M23.34,61.13A79.6,79.6 0 0 1 23.61,60.60L27.70,62.70A75.0,75.0 0 0 0 27.45,63.20Z" fill="#a8a4b4" stroke="#a4a4a4" stroke-width="0.25"/>
<path d="M23.61,60.60A79.6,79.6 0 0 1 24.15,59.57L28.21,61.73A75.0,75.0 0 0 0 27.70,62.70Z" fill="#f2f2f2" stroke="#a4a4a4" stroke-width="0.25"/>
<path d="M24.15,59.57A79.6,79.6 0 0 1 24.91,58.17L28.93,60.42A75.0,75.0 0 0 0 28.21,61.73Z" fill="#c4c0cc" stroke="#a4a4a4" stroke-width="0.25"/>
<path d="M24.91,58.17A79.6,79.6 0 0 1 25.43,57.26L29.42,59.55A75.0,75.0 0 0 0 28.93,60.42Z" fill="#3a3840" stroke="#a4a4a4" stroke-width="0.25"/>
<path d="M25.43,57.26A79.6,79.6 0 0 1 25.86,56.52L29.82,58.86A75.0,75.0 0 0 0 29.42,59.55Z" fill="#dcdce0" stroke="#a4a4a4" stroke-width="0.25"/>
<path d="M25.86,56.52A79.6,79.6 0 0 1 26.49,55.48L30.41,57.88A75.0,75.0 0 0 0 29.82,58.86Z" fill="#7c7888" stroke="#a4a4a4" stroke-width="0.25"/>
<path d="M26.49,55.48A79.6,79.6 0 0 1 26.88,54.85L30.78,57.28A75.0,75.0 0 0 0 30.41,57.88Z" fill="#cfe2c8" stroke="#a4a4a4" stroke-width="0.25"/>
<path d="M26.88,54.85A79.6,79.6 0 0 1 27.28,54.21L31.16,56.68A75.0,75.0 0 0 0 30.78,57.28Z" fill="#f2f2f2" stroke="#a4a4a4" stroke-width="0.25"/>
<path d="M27.28,54.21A79.6,79.6 0 0 1 27.66,53.62L31.51,56.13A75.0,75.0 0 0 0 31.16,56.68Z" fill="#f2f2f2" stroke="#a4a4a4" stroke-width="0.25"/>
<path d="M27.66,53.62A79.6,79.6 0 0 1 27.97,53.14L31.81,55.67A75.0,75.0 0 0 0 31.51,56.13Z" fill="#b0c8aa" stroke="#a4a4a4" stroke-width="0.25"/>
<path d="M27.97,53.14A79.6,79.6 0 0 1 28.46,52.41L32.27,54.99A75.0,75.0 0 0 0 31.81,55.67Z" fill="#d8d0e6" stroke="#a4a4a4" stroke-width="0.25"/>
<path d="M28.46,52.41A79.6,79.6 0 0 1 29.22,51.31L32.99,53.95A75.0,75.0 0 0 0 32.27,54.99Z" fill="#f2f2f2" stroke="#a4a4a4" stroke-width="0.25"/>
<path d="M29.22,51.31A79.6,79.6 0 0 1 30.18,49.97L33.89,52.68A75.0,75.0 0 0 0 32.99,53.95Z" fill="#c8d8ec" stroke="#a4a4a4" stroke-width="0.25"/>
<path d="M30.18,49.97A79.6,79.6 0 0 1 30.46,49.59L34.16,52.33A75.0,75.0 0 0 0 33.89,52.68Z" fill="#d8d0e6" stroke="#a4a4a4" stroke-width="0.25"/>
<path d="M30.46,49.59A79.6,79.6 0 0 1 31.02,48.84L34.68,51.62A75.0,75.0 0 0 0 34.16,52.33Z" fill="#a8a4b4" stroke="#a4a4a4" stroke-width="0.25"/>
<path d="M31.02,48.84A79.6,79.6 0 0 1 32.02,47.56L35.62,50.41A75.0,75.0 0 0 0 34.68,51.62Z" fill="#dcdce0" stroke="#a4a4a4" stroke-width="0.25"/>
<path d="M32.02,47.56A79.6,79.6 0 0 1 32.68,46.74L36.24,49.64A75.0,75.0 0 0 0 35.62,50.41Z" fill="#c8d8ec" stroke="#a4a4a4" stroke-width="0.25"/>
<path d="M32.68,46.74A79.6,79.6 0 0 1 33.51,45.73L37.03,48.69A75.0,75.0 0 0 0 36.24,49.64Z" fill="#a8a4b4" stroke="#a4a4a4" stroke-width="0.25"/>
<path d="M33.51,45.73A79.6,79.6 0 0 1 34.58,44.49L38.03,47.52A75.0,75.0 0 0 0 37.03,48.69Z" fill="#d8d0e6" stroke="#a4a4a4" stroke-width="0.25"/>
<path d="M34.58,44.49A79.6,79.6 0 0 1 34.76,44.28L38.21,47.32A75.0,75.0 0 0 0 38.03,47.52Z" fill="#f2f2f2" stroke="#a4a4a4" stroke-width="0.25"/>
<path d="M23.34,61.13A79.6,79.6 0 0 1 34.76,44.28L38.21,47.32A75.0,75.0 0 0 0 27.45,63.20Z" fill="none" stroke="#777" stroke-width="0.45"/>
<path d="M35.69,43.24A79.6,79.6 0 0 1 36.50,42.38L39.84,45.54A75.0,75.0 0 0 0 39.09,46.35Z" fill="#a8a4b4" stroke="#a4a4a4" stroke-width="0.25"/>
<path d="M36.50,42.38A79.6,79.6 0 0 1 36.94,41.92L40.26,45.10A75.0,75.0 0 0 0 39.84,45.54Z" fill="#f2f2f2" stroke="#a4a4a4" stroke-width="0.25"/>
<path d="M36.94,41.92A79.6,79.6 0 0 1 37.67,41.16L40.95,44.38A75.0,75.0 0 0 0 40.26,45.10Z" fill="#f2f2f2" stroke="#a4a4a4" stroke-width="0.25"/>
<path d="M37.67,41.16A79.6,79.6 0 0 1 38.34,40.49L41.58,43.75A75.0,75.0 0 0 0 40.95,44.38Z" fill="#cfe2c8" stroke="#a4a4a4" stroke-width="0.25"/>
<path d="M38.34,40.49A79.6,79.6 0 0 1 39.03,39.81L42.23,43.12A75.0,75.0 0 0 0 41.58,43.75Z" fill="#dcdce0" stroke="#a4a4a4" stroke-width="0.25"/>
<path d="M39.03,39.81A79.6,79.6 0 0 1 39.84,39.04L43.00,42.39A75.0,75.0 0 0 0 42.23,43.12Z" fill="#c4c0cc" stroke="#a4a4a4" stroke-width="0.25"/>
<path d="M39.84,39.04A79.6,79.6 0 0 1 40.86,38.10L43.95,41.50A75.0,75.0 0 0 0 43.00,42.39Z" fill="#a8a4b4" stroke="#a4a4a4" stroke-width="0.25"/>
<path d="M40.86,38.10A79.6,79.6 0 0 1 42.10,37.00L45.12,40.46A75.0,75.0 0 0 0 43.95,41.50Z" fill="#c8d8ec" stroke="#a4a4a4" stroke-width="0.25"/>
<path d="M42.10,37.00A79.6,79.6 0 0 1 43.10,36.14L46.06,39.65A75.0,75.0 0 0 0 45.12,40.46Z" fill="#dcdce0" stroke="#a4a4a4" stroke-width="0.25"/>
<path d="M43.10,36.14A79.6,79.6 0 0 1 43.50,35.80L46.44,39.34A75.0,75.0 0 0 0 46.06,39.65Z" fill="#d8d0e6" stroke="#a4a4a4" stroke-width="0.25"/>
<path d="M43.50,35.80A79.6,79.6 0 0 1 44.57,34.92L47.45,38.51A75.0,75.0 0 0 0 46.44,39.34Z" fill="#cfe2c8" stroke="#a4a4a4" stroke-width="0.25"/>
<path d="M44.57,34.92A79.6,79.6 0 0 1 45.23,34.40L48.07,38.02A75.0,75.0 0 0 0 47.45,38.51Z" fill="#dcdce0" stroke="#a4a4a4" stroke-width="0.25"/>
<path d="M45.23,34.40A79.6,79.6 0 0 1 46.23,33.63L49.01,37.29A75.0,75.0 0 0 0 48.07,38.02Z" fill="#7c7888" stroke="#a4a4a4" stroke-width="0.25"/>
<path d="M46.23,33.63A79.6,79.6 0 0 1 47.14,32.95L49.87,36.65A75.0,75.0 0 0 0 49.01,37.29Z" fill="#cfe2c8" stroke="#a4a4a4" stroke-width="0.25"/>
<path d="M47.14,32.95A79.6,79.6 0 0 1 48.23,32.16L50.89,35.91A75.0,75.0 0 0 0 49.87,36.65Z" fill="#dcdce0" stroke="#a4a4a4" stroke-width="0.25"/>
<path d="M48.23,32.16A79.6,79.6 0 0 1 48.80,31.76L51.43,35.53A75.0,75.0 0 0 0 50.89,35.91Z" fill="#c8d8ec" stroke="#a4a4a4" stroke-width="0.25"/>
<path d="M48.80,31.76A79.6,79.6 0 0 1 50.08,30.88L52.64,34.70A75.0,75.0 0 0 0 51.43,35.53Z" fill="#d8d0e6" stroke="#a4a4a4" stroke-width="0.25"/>
<path d="M50.08,30.88A79.6,79.6 0 0 1 50.44,30.64L52.98,34.48A75.0,75.0 0 0 0 52.64,34.70Z" fill="#f2f2f2" stroke="#a4a4a4" stroke-width="0.25"/>
<path d="M50.44,30.64A79.6,79.6 0 0 1 51.02,30.26L53.53,34.11A75.0,75.0 0 0 0 52.98,34.48Z" fill="#c4c0cc" stroke="#a4a4a4" stroke-width="0.25"/>
<path d="M35.69,43.24A79.6,79.6 0 0 1 51.02,30.26L53.53,34.11A75.0,75.0 0 0 0 39.09,46.35Z" fill="none" stroke="#777" stroke-width="0.45"/>
<path d="M52.20,29.51A79.6,79.6 0 0 1 53.20,28.89L55.58,32.83A75.0,75.0 0 0 0 54.63,33.41Z" fill="#f2f2f2" stroke="#a4a4a4" stroke-width="0.25"/>
<path d="M53.20,28.89A79.6,79.6 0 0 1 54.12,28.34L56.45,32.31A75.0,75.0 0 0 0 55.58,32.83Z" fill="#f2f2f2" stroke="#a4a4a4" stroke-width="0.25"/>
<path d="M54.12,28.34A79.6,79.6 0 0 1 54.54,28.10L56.85,32.08A75.0,75.0 0 0 0 56.45,32.31Z" fill="#cfe2c8" stroke="#a4a4a4" stroke-width="0.25"/>
<path d="M54.54,28.10A79.6,79.6 0 0 1 55.49,27.56L57.74,31.57A75.0,75.0 0 0 0 56.85,32.08Z" fill="#cfe2c8" stroke="#a4a4a4" stroke-width="0.25"/>
<path d="M55.49,27.56A79.6,79.6 0 0 1 56.24,27.14L58.44,31.18A75.0,75.0 0 0 0 57.74,31.57Z" fill="#a8a4b4" stroke="#a4a4a4" stroke-width="0.25"/>
<path d="M56.24,27.14A79.6,79.6 0 0 1 56.81,26.84L58.98,30.89A75.0,75.0 0 0 0 58.44,31.18Z" fill="#c4c0cc" stroke="#a4a4a4" stroke-width="0.25"/>
<path d="M56.81,26.84A79.6,79.6 0 0 1 57.99,26.22L60.09,30.31A75.0,75.0 0 0 0 58.98,30.89Z" fill="#d8d0e6" stroke="#a4a4a4" stroke-width="0.25"/>
<path d="M57.99,26.22A79.6,79.6 0 0 1 58.41,26.00L60.49,30.10A75.0,75.0 0 0 0 60.09,30.31Z" fill="#f2f2f2" stroke="#a4a4a4" stroke-width="0.25"/>
<path d="M58.41,26.00A79.6,79.6 0 0 1 59.68,25.37L61.69,29.51A75.0,75.0 0 0 0 60.49,30.10Z" fill="#cfe2c8" stroke="#a4a4a4" stroke-width="0.25"/>
<path d="M59.68,25.37A79.6,79.6 0 0 1 60.92,24.79L62.85,28.96A75.0,75.0 0 0 0 61.69,29.51Z" fill="#dcdce0" stroke="#a4a4a4" stroke-width="0.25"/>
<path d="M60.92,24.79A79.6,79.6 0 0 1 61.76,24.40L63.64,28.60A75.0,75.0 0 0 0 62.85,28.96Z" fill="#dcdce0" stroke="#a4a4a4" stroke-width="0.25"/>
<path d="M61.76,24.40A79.6,79.6 0 0 1 63.05,23.83L64.87,28.06A75.0,75.0 0 0 0 63.64,28.60Z" fill="#c4c0cc" stroke="#a4a4a4" stroke-width="0.25"/>
<path d="M63.05,23.83A79.6,79.6 0 0 1 64.18,23.36L65.92,27.62A75.0,75.0 0 0 0 64.87,28.06Z" fill="#c8d8ec" stroke="#a4a4a4" stroke-width="0.25"/>
<path d="M64.18,23.36A79.6,79.6 0 0 1 64.92,23.06L66.62,27.33A75.0,75.0 0 0 0 65.92,27.62Z" fill="#7c7888" stroke="#a4a4a4" stroke-width="0.25"/>
<path d="M64.92,23.06A79.6,79.6 0 0 1 66.16,22.58L67.79,26.88A75.0,75.0 0 0 0 66.62,27.33Z" fill="#c8d8ec" stroke="#a4a4a4" stroke-width="0.25"/>
<path d="M66.16,22.58A79.6,79.6 0 0 1 67.03,22.25L68.61,26.57A75.0,75.0 0 0 0 67.79,26.88Z" fill="#c4c0cc" stroke="#a4a4a4" stroke-width="0.25"/>
<path d="M67.03,22.25A79.6,79.6 0 0 1 67.50,22.08L69.06,26.41A75.0,75.0 0 0 0 68.61,26.57Z" fill="#d8d0e6" stroke="#a4a4a4" stroke-width="0.25"/>
<path d="M67.50,22.08A79.6,79.6 0 0 1 67.73,22.00L69.27,26.34A75.0,75.0 0 0 0 69.06,26.41Z" fill="#f2f2f2" stroke="#a4a4a4" stroke-width="0.25"/>
<path d="M52.20,29.51A79.6,79.6 0 0 1 67.73,22.00L69.27,26.34A75.0,75.0 0 0 0 54.63,33.41Z" fill="none" stroke="#777" stroke-width="0.45"/>
<path d="M69.04,21.55A79.6,79.6 0 0 1 70.09,21.20L71.49,25.58A75.0,75.0 0 0 0 70.51,25.91Z" fill="#a8a4b4" stroke="#a4a4a4" stroke-width="0.25"/>
<path d="M70.09,21.20A79.6,79.6 0 0 1 71.29,20.83L72.63,25.23A75.0,75.0 0 0 0 71.49,25.58Z" fill="#dcdce0" stroke="#a4a4a4" stroke-width="0.25"/>
<path d="M71.29,20.83A79.6,79.6 0 0 1 72.61,20.44L73.87,24.87A75.0,75.0 0 0 0 72.63,25.23Z" fill="#f2f2f2" stroke="#a4a4a4" stroke-width="0.25"/>
<path d="M72.61,20.44A79.6,79.6 0 0 1 73.24,20.27L74.46,24.70A75.0,75.0 0 0 0 73.87,24.87Z" fill="#cfe2c8" stroke="#a4a4a4" stroke-width="0.25"/>
<path d="M73.24,20.27A79.6,79.6 0 0 1 73.70,20.14L74.90,24.58A75.0,75.0 0 0 0 74.46,24.70Z" fill="#dcdce0" stroke="#a4a4a4" stroke-width="0.25"/>
<path d="M73.70,20.14A79.6,79.6 0 0 1 74.97,19.81L76.09,24.27A75.0,75.0 0 0 0 74.90,24.58Z" fill="#cfe2c8" stroke="#a4a4a4" stroke-width="0.25"/>
<path d="M74.97,19.81A79.6,79.6 0 0 1 75.69,19.63L76.77,24.10A75.0,75.0 0 0 0 76.09,24.27Z" fill="#f2f2f2" stroke="#a4a4a4" stroke-width="0.25"/>
<path d="M75.69,19.63A79.6,79.6 0 0 1 76.50,19.44L77.54,23.92A75.0,75.0 0 0 0 76.77,24.10Z" fill="#cfe2c8" stroke="#a4a4a4" stroke-width="0.25"/>
<path d="M76.50,19.44A79.6,79.6 0 0 1 77.33,19.25L78.32,23.74A75.0,75.0 0 0 0 77.54,23.92Z" fill="#f2f2f2" stroke="#a4a4a4" stroke-width="0.25"/>
<path d="M77.33,19.25A79.6,79.6 0 0 1 78.59,18.99L79.51,23.49A75.0,75.0 0 0 0 78.32,23.74Z" fill="#7c7888" stroke="#a4a4a4" stroke-width="0.25"/>
<path d="M78.59,18.99A79.6,79.6 0 0 1 80.12,18.69L80.95,23.22A75.0,75.0 0 0 0 79.51,23.49Z" fill="#c8d8ec" stroke="#a4a4a4" stroke-width="0.25"/>
<path d="M80.12,18.69A79.6,79.6 0 0 1 81.65,18.43L82.39,22.97A75.0,75.0 0 0 0 80.95,23.22Z" fill="#c4c0cc" stroke="#a4a4a4" stroke-width="0.25"/>
<path d="M81.65,18.43A79.6,79.6 0 0 1 83.05,18.21L83.70,22.77A75.0,75.0 0 0 0 82.39,22.97Z" fill="#dcdce0" stroke="#a4a4a4" stroke-width="0.25"/>
<path d="M83.05,18.21A79.6,79.6 0 0 1 83.82,18.11L84.44,22.66A75.0,75.0 0 0 0 83.70,22.77Z" fill="#c4c0cc" stroke="#a4a4a4" stroke-width="0.25"/>
<path d="M83.82,18.11A79.6,79.6 0 0 1 84.79,17.98L85.35,22.55A75.0,75.0 0 0 0 84.44,22.66Z" fill="#d8d0e6" stroke="#a4a4a4" stroke-width="0.25"/>
<path d="M69.04,21.55A79.6,79.6 0 0 1 84.79,17.98L85.35,22.55A75.0,75.0 0 0 0 70.51,25.91Z" fill="none" stroke="#777" stroke-width="0.45"/>
<path d="M86.17,17.83A79.6,79.6 0 0 1 86.87,17.76L87.30,22.34A75.0,75.0 0 0 0 86.65,22.40Z" fill="#c4c0cc" stroke="#a4a4a4" stroke-width="0.25"/>
<path d="M86.87,17.76A79.6,79.6 0 0 1 87.71,17.68L88.10,22.27A75.0,75.0 0 0 0 87.30,22.34Z" fill="#c4c0cc" stroke="#a4a4a4" stroke-width="0.25"/>
<path d="M87.71,17.68A79.6,79.6 0 0 1 88.60,17.61L88.93,22.20A75.0,75.0 0 0 0 88.10,22.27Z" fill="#c4c0cc" stroke="#a4a4a4" stroke-width="0.25"/>
<path d="M88.60,17.61A79.6,79.6 0 0 1 89.22,17.57L89.52,22.16A75.0,75.0 0 0 0 88.93,22.20Z" fill="#7c7888" stroke="#a4a4a4" stroke-width="0.25"/>
<path d="M89.22,17.57A79.6,79.6 0 0 1 90.62,17.49L90.84,22.08A75.0,75.0 0 0 0 89.52,22.16Z" fill="#7c7888" stroke="#a4a4a4" stroke-width="0.25"/>
<path d="M90.62,17.49A79.6,79.6 0 0 1 92.07,17.43L92.21,22.03A75.0,75.0 0 0 0 90.84,22.08Z" fill="#7c7888" stroke="#a4a4a4" stroke-width="0.25"/>
<path d="M92.07,17.43A79.6,79.6 0 0 1 92.68,17.42L92.78,22.02A75.0,75.0 0 0 0 92.21,22.03Z" fill="#b0c8aa" stroke="#a4a4a4" stroke-width="0.25"/>
<path d="M92.68,17.42A79.6,79.6 0 0 1 94.19,17.40L94.20,22.00A75.0,75.0 0 0 0 92.78,22.02Z" fill="#dcdce0" stroke="#a4a4a4" stroke-width="0.25"/>
<path d="M94.19,17.40A79.6,79.6 0 0 1 94.59,17.40L94.58,22.00A75.0,75.0 0 0 0 94.20,22.00Z" fill="#a8a4b4" stroke="#a4a4a4" stroke-width="0.25"/>
<path d="M94.59,17.40A79.6,79.6 0 0 1 95.67,17.41L95.60,22.01A75.0,75.0 0 0 0 94.58,22.00Z" fill="#7c7888" stroke="#a4a4a4" stroke-width="0.25"/>
<path d="M95.67,17.41A79.6,79.6 0 0 1 97.29,17.45L97.12,22.05A75.0,75.0 0 0 0 95.60,22.01Z" fill="#cfe2c8" stroke="#a4a4a4" stroke-width="0.25"/>
<path d="M97.29,17.45A79.6,79.6 0 0 1 98.70,17.52L98.45,22.11A75.0,75.0 0 0 0 97.12,22.05Z" fill="#f2f2f2" stroke="#a4a4a4" stroke-width="0.25"/>
<path d="M98.70,17.52A79.6,79.6 0 0 1 99.78,17.58L99.47,22.17A75.0,75.0 0 0 0 98.45,22.11Z" fill="#b0c8aa" stroke="#a4a4a4" stroke-width="0.25"/>
<path d="M99.78,17.58A79.6,79.6 0 0 1 100.26,17.62L99.92,22.20A75.0,75.0 0 0 0 99.47,22.17Z" fill="#f2f2f2" stroke="#a4a4a4" stroke-width="0.25"/>
<path d="M100.26,17.62A79.6,79.6 0 0 1 101.57,17.72L101.15,22.30A75.0,75.0 0 0 0 99.92,22.20Z" fill="#d8d0e6" stroke="#a4a4a4" stroke-width="0.25"/>
<path d="M86.17,17.83A79.6,79.6 0 0 1 101.57,17.72L101.15,22.30A75.0,75.0 0 0 0 86.65,22.40Z" fill="none" stroke="#777" stroke-width="0.45"/>
<path d="M102.95,17.86A79.6,79.6 0 0 1 103.43,17.91L102.91,22.48A75.0,75.0 0 0 0 102.45,22.43Z" fill="#cfe2c8" stroke="#a4a4a4" stroke-width="0.25"/>
<path d="M103.43,17.91A79.6,79.6 0 0 1 103.99,17.98L103.44,22.55A75.0,75.0 0 0 0 102.91,22.48Z" fill="#b0c8aa" stroke="#a4a4a4" stroke-width="0.25"/>
<path d="M103.99,17.98A79.6,79.6 0 0 1 105.19,18.14L104.57,22.69A75.0,75.0 0 0 0 103.44,22.55Z" fill="#dcdce0" stroke="#a4a4a4" stroke-width="0.25"/>
<path d="M105.19,18.14A79.6,79.6 0 0 1 105.85,18.23L105.19,22.78A75.0,75.0 0 0 0 104.57,22.69Z" fill="#b0c8aa" stroke="#a4a4a4" stroke-width="0.25"/>
<path d="M105.85,18.23A79.6,79.6 0 0 1 106.88,18.38L106.16,22.93A75.0,75.0 0 0 0 105.19,22.78Z" fill="#b0c8aa" stroke="#a4a4a4" stroke-width="0.25"/>
<path d="M106.88,18.38A79.6,79.6 0 0 1 107.76,18.53L106.98,23.06A75.0,75.0 0 0 0 106.16,22.93Z" fill="#dcdce0" stroke="#a4a4a4" stroke-width="0.25"/>
<path d="M107.76,18.53A79.6,79.6 0 0 1 109.35,18.82L108.49,23.34A75.0,75.0 0 0 0 106.98,23.06Z" fill="#cfe2c8" stroke="#a4a4a4" stroke-width="0.25"/>
<path d="M109.35,18.82A79.6,79.6 0 0 1 110.35,19.01L109.42,23.52A75.0,75.0 0 0 0 108.49,23.34Z" fill="#7c7888" stroke="#a4a4a4" stroke-width="0.25"/>
<path d="M110.35,19.01A79.6,79.6 0 0 1 111.62,19.29L110.63,23.78A75.0,75.0 0 0 0 109.42,23.52Z" fill="#cfe2c8" stroke="#a4a4a4" stroke-width="0.25"/>
<path d="M111.62,19.29A79.6,79.6 0 0 1 113.13,19.64L112.05,24.11A75.0,75.0 0 0 0 110.63,23.78Z" fill="#c4c0cc" stroke="#a4a4a4" stroke-width="0.25"/>
<path d="M113.13,19.64A79.6,79.6 0 0 1 114.53,19.99L113.37,24.44A75.0,75.0 0 0 0 112.05,24.11Z" fill="#cfe2c8" stroke="#a4a4a4" stroke-width="0.25"/>
<path d="M114.53,19.99A79.6,79.6 0 0 1 115.95,20.37L114.71,24.80A75.0,75.0 0 0 0 113.37,24.44Z" fill="#b0c8aa" stroke="#a4a4a4" stroke-width="0.25"/>
<path d="M115.95,20.37A79.6,79.6 0 0 1 116.33,20.48L115.07,24.90A75.0,75.0 0 0 0 114.71,24.80Z" fill="#d8d0e6" stroke="#a4a4a4" stroke-width="0.25"/>
<path d="M102.95,17.86A79.6,79.6 0 0 1 116.33,20.48L115.07,24.90A75.0,75.0 0 0 0 102.45,22.43Z" fill="none" stroke="#777" stroke-width="0.45"/>
<path d="M117.66,20.88A79.6,79.6 0 0 1 119.20,21.36L117.77,25.73A75.0,75.0 0 0 0 116.32,25.27Z" fill="#cfe2c8" stroke="#a4a4a4" stroke-width="0.25"/>
<path d="M119.20,21.36A79.6,79.6 0 0 1 120.19,21.70L118.70,26.05A75.0,75.0 0 0 0 117.77,25.73Z" fill="#cfe2c8" stroke="#a4a4a4" stroke-width="0.25"/>
<path d="M120.19,21.70A79.6,79.6 0 0 1 121.52,22.16L119.96,26.49A75.0,75.0 0 0 0 118.70,26.05Z" fill="#c4c0cc" stroke="#a4a4a4" stroke-width="0.25"/>
<path d="M121.52,22.16A79.6,79.6 0 0 1 122.38,22.48L120.77,26.79A75.0,75.0 0 0 0 119.96,26.49Z" fill="#f2f2f2" stroke="#a4a4a4" stroke-width="0.25"/>
<path d="M122.38,22.48A79.6,79.6 0 0 1 123.63,22.96L121.94,27.24A75.0,75.0 0 0 0 120.77,26.79Z" fill="#c8d8ec" stroke="#a4a4a4" stroke-width="0.25"/>
<path d="M123.63,22.96A79.6,79.6 0 0 1 124.42,23.28L122.69,27.54A75.0,75.0 0 0 0 121.94,27.24Z" fill="#f2f2f2" stroke="#a4a4a4" stroke-width="0.25"/>
<path d="M124.42,23.28A79.6,79.6 0 0 1 125.02,23.52L123.25,27.77A75.0,75.0 0 0 0 122.69,27.54Z" fill="#c4c0cc" stroke="#a4a4a4" stroke-width="0.25"/>
<path d="M125.02,23.52A79.6,79.6 0 0 1 125.71,23.82L123.90,28.05A75.0,75.0 0 0 0 123.25,27.77Z" fill="#c8d8ec" stroke="#a4a4a4" stroke-width="0.25"/>
<path d="M125.71,23.82A79.6,79.6 0 0 1 126.13,24.00L124.29,28.22A75.0,75.0 0 0 0 123.90,28.05Z" fill="#dcdce0" stroke="#a4a4a4" stroke-width="0.25"/>
<path d="M126.13,24.00A79.6,79.6 0 0 1 126.61,24.21L124.75,28.41A75.0,75.0 0 0 0 124.29,28.22Z" fill="#cfe2c8" stroke="#a4a4a4" stroke-width="0.25"/>
<path d="M126.61,24.21A79.6,79.6 0 0 1 127.86,24.77L125.93,28.95A75.0,75.0 0 0 0 124.75,28.41Z" fill="#f2f2f2" stroke="#a4a4a4" stroke-width="0.25"/>
<path d="M127.86,24.77A79.6,79.6 0 0 1 128.28,24.97L126.32,29.13A75.0,75.0 0 0 0 125.93,28.95Z" fill="#a8a4b4" stroke="#a4a4a4" stroke-width="0.25"/>
<path d="M128.28,24.97A79.6,79.6 0 0 1 129.29,25.46L127.28,29.59A75.0,75.0 0 0 0 126.32,29.13Z" fill="#c8d8ec" stroke="#a4a4a4" stroke-width="0.25"/>
<path d="M129.29,25.46A79.6,79.6 0 0 1 129.36,25.49L127.34,29.62A75.0,75.0 0 0 0 127.28,29.59Z" fill="#f2f2f2" stroke="#a4a4a4" stroke-width="0.25"/>
<path d="M117.66,20.88A79.6,79.6 0 0 1 129.36,25.49L127.34,29.62A75.0,75.0 0 0 0 116.32,25.27Z" fill="none" stroke="#777" stroke-width="0.45"/>
<path d="M130.60,26.11A79.6,79.6 0 0 1 131.15,26.39L129.03,30.47A75.0,75.0 0 0 0 128.51,30.21Z" fill="#dcdce0" stroke="#a4a4a4" stroke-width="0.25"/>
<path d="M131.15,26.39A79.6,79.6 0 0 1 131.75,26.71L129.59,30.77A75.0,75.0 0 0 0 129.03,30.47Z" fill="#cfe2c8" stroke="#a4a4a4" stroke-width="0.25"/>
<path d="M131.75,26.71A79.6,79.6 0 0 1 132.76,27.25L130.54,31.28A75.0,75.0 0 0 0 129.59,30.77Z" fill="#dcdce0" stroke="#a4a4a4" stroke-width="0.25"/>
<path d="M132.76,27.25A79.6,79.6 0 0 1 133.29,27.55L131.05,31.56A75.0,75.0 0 0 0 130.54,31.28Z" fill="#dcdce0" stroke="#a4a4a4" stroke-width="0.25"/>
<path d="M133.29,27.55A79.6,79.6 0 0 1 133.82,27.84L131.54,31.84A75.0,75.0 0 0 0 131.05,31.56Z" fill="#b0c8aa" stroke="#a4a4a4" stroke-width="0.25"/>
<path d="M133.82,27.84A79.6,79.6 0 0 1 134.49,28.23L132.17,32.21A75.0,75.0 0 0 0 131.54,31.84Z" fill="#7c7888" stroke="#a4a4a4" stroke-width="0.25"/>
<path d="M134.49,28.23A79.6,79.6 0 0 1 135.72,28.96L133.33,32.89A75.0,75.0 0 0 0 132.17,32.21Z" fill="#a8a4b4" stroke="#a4a4a4" stroke-width="0.25"/>
<path d="M135.72,28.96A79.6,79.6 0 0 1 136.32,29.34L133.90,33.25A75.0,75.0 0 0 0 133.33,32.89Z" fill="#d8d0e6" stroke="#a4a4a4" stroke-width="0.25"/>
<path d="M136.32,29.34A79.6,79.6 0 0 1 137.64,30.17L135.14,34.03A75.0,75.0 0 0 0 133.90,33.25Z" fill="#c4c0cc" stroke="#a4a4a4" stroke-width="0.25"/>
<path d="M137.64,30.17A79.6,79.6 0 0 1 138.54,30.76L135.99,34.59A75.0,75.0 0 0 0 135.14,34.03Z" fill="#c8d8ec" stroke="#a4a4a4" stroke-width="0.25"/>
<path d="M138.54,30.76A79.6,79.6 0 0 1 139.37,31.32L136.77,35.11A75.0,75.0 0 0 0 135.99,34.59Z" fill="#dcdce0" stroke="#a4a4a4" stroke-width="0.25"/>
<path d="M139.37,31.32A79.6,79.6 0 0 1 139.73,31.57L137.11,35.35A75.0,75.0 0 0 0 136.77,35.11Z" fill="#c8d8ec" stroke="#a4a4a4" stroke-width="0.25"/>
<path d="M139.73,31.57A79.6,79.6 0 0 1 140.88,32.38L138.19,36.11A75.0,75.0 0 0 0 137.11,35.35Z" fill="#c4c0cc" stroke="#a4a4a4" stroke-width="0.25"/>
<path d="M140.88,32.38A79.6,79.6 0 0 1 140.96,32.44L138.27,36.17A75.0,75.0 0 0 0 138.19,36.11Z" fill="#a8a4b4" stroke="#a4a4a4" stroke-width="0.25"/>
<path d="M130.60,26.11A79.6,79.6 0 0 1 140.96,32.44L138.27,36.17A75.0,75.0 0 0 0 128.51,30.21Z" fill="none" stroke="#777" stroke-width="0.45"/>
<path d="M142.08,33.26A79.6,79.6 0 0 1 142.66,33.70L139.87,37.36A75.0,75.0 0 0 0 139.32,36.94Z" fill="#c8d8ec" stroke="#a4a4a4" stroke-width="0.25"/>
<path d="M142.66,33.70A79.6,79.6 0 0 1 143.63,34.45L140.78,38.06A75.0,75.0 0 0 0 139.87,37.36Z" fill="#dcdce0" stroke="#a4a4a4" stroke-width="0.25"/>
<path d="M143.63,34.45A79.6,79.6 0 0 1 143.94,34.69L141.07,38.29A75.0,75.0 0 0 0 140.78,38.06Z" fill="#a8a4b4" stroke="#a4a4a4" stroke-width="0.25"/>
<path d="M143.94,34.69A79.6,79.6 0 0 1 144.60,35.23L141.70,38.80A75.0,75.0 0 0 0 141.07,38.29Z" fill="#b0c8aa" stroke="#a4a4a4" stroke-width="0.25"/>
<path d="M144.60,35.23A79.6,79.6 0 0 1 145.60,36.05L142.64,39.57A75.0,75.0 0 0 0 141.70,38.80Z" fill="#cfe2c8" stroke="#a4a4a4" stroke-width="0.25"/>
<path d="M145.60,36.05A79.6,79.6 0 0 1 146.04,36.43L143.06,39.93A75.0,75.0 0 0 0 142.64,39.57Z" fill="#f2f2f2" stroke="#a4a4a4" stroke-width="0.25"/>
<path d="M146.04,36.43A79.6,79.6 0 0 1 146.64,36.94L143.62,40.41A75.0,75.0 0 0 0 143.06,39.93Z" fill="#dcdce0" stroke="#a4a4a4" stroke-width="0.25"/>
<path d="M146.64,36.94A79.6,79.6 0 0 1 147.76,37.93L144.68,41.35A75.0,75.0 0 0 0 143.62,40.41Z" fill="#a8a4b4" stroke="#a4a4a4" stroke-width="0.25"/>
<path d="M147.76,37.93A79.6,79.6 0 0 1 148.64,38.74L145.51,42.11A75.0,75.0 0 0 0 144.68,41.35Z" fill="#c8d8ec" stroke="#a4a4a4" stroke-width="0.25"/>
<path d="M148.64,38.74A79.6,79.6 0 0 1 148.86,38.95L145.72,42.30A75.0,75.0 0 0 0 145.51,42.11Z" fill="#7c7888" stroke="#a4a4a4" stroke-width="0.25"/>
<path d="M142.08,33.26A79.6,79.6 0 0 1 148.86,38.95L145.72,42.30A75.0,75.0 0 0 0 139.32,36.94Z" fill="none" stroke="#777" stroke-width="0.45"/>
<path d="M149.87,39.91A79.6,79.6 0 0 1 150.28,40.31L147.05,43.58A75.0,75.0 0 0 0 146.66,43.21Z" fill="#b0c8aa" stroke="#a4a4a4" stroke-width="0.25"/>
<path d="M150.28,40.31A79.6,79.6 0 0 1 150.55,40.58L147.30,43.84A75.0,75.0 0 0 0 147.05,43.58Z" fill="#d8d0e6" stroke="#a4a4a4" stroke-width="0.25"/>
<path d="M150.55,40.58A79.6,79.6 0 0 1 151.58,41.62L148.27,44.82A75.0,75.0 0 0 0 147.30,43.84Z" fill="#d8d0e6" stroke="#a4a4a4" stroke-width="0.25"/>
<path d="M151.58,41.62A79.6,79.6 0 0 1 151.91,41.97L148.59,45.15A75.0,75.0 0 0 0 148.27,44.82Z" fill="#dcdce0" stroke="#a4a4a4" stroke-width="0.25"/>
<path d="M151.91,41.97A79.6,79.6 0 0 1 152.80,42.91L149.43,46.04A75.0,75.0 0 0 0 148.59,45.15Z" fill="#f2f2f2" stroke="#a4a4a4" stroke-width="0.25"/>
<path d="M152.80,42.91A79.6,79.6 0 0 1 153.47,43.65L150.06,46.73A75.0,75.0 0 0 0 149.43,46.04Z" fill="#a8a4b4" stroke="#a4a4a4" stroke-width="0.25"/>
<path d="M153.47,43.65A79.6,79.6 0 0 1 154.54,44.85L151.06,47.86A75.0,75.0 0 0 0 150.06,46.73Z" fill="#3a3840" stroke="#a4a4a4" stroke-width="0.25"/>
<path d="M154.54,44.85A79.6,79.6 0 0 1 155.50,45.98L151.97,48.92A75.0,75.0 0 0 0 151.06,47.86Z" fill="#dcdce0" stroke="#a4a4a4" stroke-width="0.25"/>
<path d="M155.50,45.98A79.6,79.6 0 0 1 156.38,47.05L152.80,49.94A75.0,75.0 0 0 0 151.97,48.92Z" fill="#c4c0cc" stroke="#a4a4a4" stroke-width="0.25"/>
<path d="M156.38,47.05A79.6,79.6 0 0 1 156.42,47.11L152.84,49.99A75.0,75.0 0 0 0 152.80,49.94Z" fill="#f2f2f2" stroke="#a4a4a4" stroke-width="0.25"/>
<path d="M149.87,39.91A79.6,79.6 0 0 1 156.42,47.11L152.84,49.99A75.0,75.0 0 0 0 146.66,43.21Z" fill="none" stroke="#777" stroke-width="0.45"/>
<path d="M157.28,48.20A79.6,79.6 0 0 1 158.16,49.34L154.47,52.10A75.0,75.0 0 0 0 153.65,51.02Z" fill="#dcdce0" stroke="#a4a4a4" stroke-width="0.25"/>
<path d="M158.16,49.34A79.6,79.6 0 0 1 158.79,50.21L155.07,52.91A75.0,75.0 0 0 0 154.47,52.10Z" fill="#a8a4b4" stroke="#a4a4a4" stroke-width="0.25"/>
<path d="M158.79,50.21A79.6,79.6 0 0 1 159.13,50.68L155.39,53.36A75.0,75.0 0 0 0 155.07,52.91Z" fill="#d8d0e6" stroke="#a4a4a4" stroke-width="0.25"/>
<path d="M159.13,50.68A79.6,79.6 0 0 1 159.58,51.31L155.82,53.95A75.0,75.0 0 0 0 155.39,53.36Z" fill="#dcdce0" stroke="#a4a4a4" stroke-width="0.25"/>
<path d="M159.58,51.31A79.6,79.6 0 0 1 159.86,51.70L156.07,54.32A75.0,75.0 0 0 0 155.82,53.95Z" fill="#dcdce0" stroke="#a4a4a4" stroke-width="0.25"/>
<path d="M159.86,51.70A79.6,79.6 0 0 1 160.41,52.51L156.59,55.08A75.0,75.0 0 0 0 156.07,54.32Z" fill="#cfe2c8" stroke="#a4a4a4" stroke-width="0.25"/>
<path d="M160.41,52.51A79.6,79.6 0 0 1 160.87,53.21L157.03,55.74A75.0,75.0 0 0 0 156.59,55.08Z" fill="#cfe2c8" stroke="#a4a4a4" stroke-width="0.25"/>
<path d="M160.87,53.21A79.6,79.6 0 0 1 161.15,53.64L157.30,56.15A75.0,75.0 0 0 0 157.03,55.74Z" fill="#c4c0cc" stroke="#a4a4a4" stroke-width="0.25"/>
<path d="M161.15,53.64A79.6,79.6 0 0 1 161.36,53.96L157.49,56.45A75.0,75.0 0 0 0 157.30,56.15Z" fill="#c8d8ec" stroke="#a4a4a4" stroke-width="0.25"/>
<path d="M157.28,48.20A79.6,79.6 0 0 1 161.36,53.96L157.49,56.45A75.0,75.0 0 0 0 153.65,51.02Z" fill="none" stroke="#777" stroke-width="0.45"/>
<path d="M162.10,55.13A79.6,79.6 0 0 1 162.85,56.37L158.89,58.72A75.0,75.0 0 0 0 158.19,57.55Z" fill="#cfe2c8" stroke="#a4a4a4" stroke-width="0.25"/>
<path d="M162.85,56.37A79.6,79.6 0 0 1 163.05,56.71L159.08,59.04A75.0,75.0 0 0 0 158.89,58.72Z" fill="#c4c0cc" stroke="#a4a4a4" stroke-width="0.25"/>
<path d="M163.05,56.71A79.6,79.6 0 0 1 163.69,57.83L159.69,60.09A75.0,75.0 0 0 0 159.08,59.04Z" fill="#dcdce0" stroke="#a4a4a4" stroke-width="0.25"/>
<path d="M163.69,57.83A79.6,79.6 0 0 1 164.23,58.79L160.19,61.00A75.0,75.0 0 0 0 159.69,60.09Z" fill="#a8a4b4" stroke="#a4a4a4" stroke-width="0.25"/>
<path d="M164.23,58.79A79.6,79.6 0 0 1 164.42,59.13L160.37,61.32A75.0,75.0 0 0 0 160.19,61.00Z" fill="#c8d8ec" stroke="#a4a4a4" stroke-width="0.25"/>
<path d="M164.42,59.13A79.6,79.6 0 0 1 165.07,60.37L160.99,62.49A75.0,75.0 0 0 0 160.37,61.32Z" fill="#dcdce0" stroke="#a4a4a4" stroke-width="0.25"/>
<path d="M165.07,60.37A79.6,79.6 0 0 1 165.60,61.42L161.49,63.47A75.0,75.0 0 0 0 160.99,62.49Z" fill="#dcdce0" stroke="#a4a4a4" stroke-width="0.25"/>
<path d="M165.60,61.42A79.6,79.6 0 0 1 165.82,61.85L161.69,63.88A75.0,75.0 0 0 0 161.49,63.47Z" fill="#7c7888" stroke="#a4a4a4" stroke-width="0.25"/>
<path d="M162.10,55.13A79.6,79.6 0 0 1 165.82,61.85L161.69,63.88A75.0,75.0 0 0 0 158.19,57.55Z" fill="none" stroke="#777" stroke-width="0.45"/>
<path d="M166.42,63.10A79.6,79.6 0 0 1 166.74,63.79L162.56,65.71A75.0,75.0 0 0 0 162.26,65.06Z" fill="#dcdce0" stroke="#a4a4a4" stroke-width="0.25"/>
<path d="M166.74,63.79A79.6,79.6 0 0 1 167.11,64.60L162.90,66.47A75.0,75.0 0 0 0 162.56,65.71Z" fill="#cfe2c8" stroke="#a4a4a4" stroke-width="0.25"/>
<path d="M167.11,64.60A79.6,79.6 0 0 1 167.39,65.24L163.17,67.08A75.0,75.0 0 0 0 162.90,66.47Z" fill="#dcdce0" stroke="#a4a4a4" stroke-width="0.25"/>
<path d="M167.39,65.24A79.6,79.6 0 0 1 167.91,66.46L163.66,68.22A75.0,75.0 0 0 0 163.17,67.08Z" fill="#dcdce0" stroke="#a4a4a4" stroke-width="0.25"/>
<path d="M167.91,66.46A79.6,79.6 0 0 1 168.50,67.93L164.22,69.61A75.0,75.0 0 0 0 163.66,68.22Z" fill="#7c7888" stroke="#a4a4a4" stroke-width="0.25"/>
<path d="M168.50,67.93A79.6,79.6 0 0 1 168.97,69.15L164.66,70.76A75.0,75.0 0 0 0 164.22,69.61Z" fill="#dcdce0" stroke="#a4a4a4" stroke-width="0.25"/>
<path d="M168.97,69.15A79.6,79.6 0 0 1 169.46,70.51L165.12,72.04A75.0,75.0 0 0 0 164.66,70.76Z" fill="#f2f2f2" stroke="#a4a4a4" stroke-width="0.25"/>
<path d="M169.46,70.51A79.6,79.6 0 0 1 169.65,71.04L165.30,72.54A75.0,75.0 0 0 0 165.12,72.04Z" fill="#f2f2f2" stroke="#a4a4a4" stroke-width="0.25"/>
<path d="M169.65,71.04A79.6,79.6 0 0 1 170.04,72.22L165.67,73.65A75.0,75.0 0 0 0 165.30,72.54Z" fill="#cfe2c8" stroke="#a4a4a4" stroke-width="0.25"/>
<path d="M170.04,72.22A79.6,79.6 0 0 1 170.23,72.80L165.85,74.20A75.0,75.0 0 0 0 165.67,73.65Z" fill="#c4c0cc" stroke="#a4a4a4" stroke-width="0.25"/>
<path d="M170.23,72.80A79.6,79.6 0 0 1 170.66,74.19L166.25,75.51A75.0,75.0 0 0 0 165.85,74.20Z" fill="#3a3840" stroke="#a4a4a4" stroke-width="0.25"/>
<path d="M170.66,74.19A79.6,79.6 0 0 1 170.80,74.66L166.39,75.95A75.0,75.0 0 0 0 166.25,75.51Z" fill="#dcdce0" stroke="#a4a4a4" stroke-width="0.25"/>
<path d="M170.80,74.66A79.6,79.6 0 0 1 170.96,75.22L166.54,76.48A75.0,75.0 0 0 0 166.39,75.95Z" fill="#f2f2f2" stroke="#a4a4a4" stroke-width="0.25"/>
<path d="M170.96,75.22A79.6,79.6 0 0 1 171.20,76.09L166.76,77.29A75.0,75.0 0 0 0 166.54,76.48Z" fill="#f2f2f2" stroke="#a4a4a4" stroke-width="0.25"/>
<path d="M171.20,76.09A79.6,79.6 0 0 1 171.60,77.59L167.14,78.72A75.0,75.0 0 0 0 166.76,77.29Z" fill="#c4c0cc" stroke="#a4a4a4" stroke-width="0.25"/>
<path d="M171.60,77.59A79.6,79.6 0 0 1 171.84,78.60L167.37,79.66A75.0,75.0 0 0 0 167.14,78.72Z" fill="#cfe2c8" stroke="#a4a4a4" stroke-width="0.25"/>
<path d="M171.84,78.60A79.6,79.6 0 0 1 172.15,79.93L167.66,80.92A75.0,75.0 0 0 0 167.37,79.66Z" fill="#d8d0e6" stroke="#a4a4a4" stroke-width="0.25"/>
<path d="M172.15,79.93A79.6,79.6 0 0 1 172.33,80.78L167.83,81.72A75.0,75.0 0 0 0 167.66,80.92Z" fill="#dcdce0" stroke="#a4a4a4" stroke-width="0.25"/>
<path d="M172.33,80.78A79.6,79.6 0 0 1 172.51,81.67L168.00,82.56A75.0,75.0 0 0 0 167.83,81.72Z" fill="#f2f2f2" stroke="#a4a4a4" stroke-width="0.25"/>
<path d="M172.51,81.67A79.6,79.6 0 0 1 172.68,82.55L168.15,83.39A75.0,75.0 0 0 0 168.00,82.56Z" fill="#cfe2c8" stroke="#a4a4a4" stroke-width="0.25"/>
<path d="M172.68,82.55A79.6,79.6 0 0 1 172.96,84.17L168.42,84.91A75.0,75.0 0 0 0 168.15,83.39Z" fill="#b0c8aa" stroke="#a4a4a4" stroke-width="0.25"/>
<path d="M172.96,84.17A79.6,79.6 0 0 1 173.15,85.38L168.60,86.05A75.0,75.0 0 0 0 168.42,84.91Z" fill="#cfe2c8" stroke="#a4a4a4" stroke-width="0.25"/>
<path d="M173.15,85.38A79.6,79.6 0 0 1 173.18,85.61L168.63,86.27A75.0,75.0 0 0 0 168.60,86.05Z" fill="#dcdce0" stroke="#a4a4a4" stroke-width="0.25"/>
<path d="M166.42,63.10A79.6,79.6 0 0 1 173.18,85.61L168.63,86.27A75.0,75.0 0 0 0 162.26,65.06Z" fill="none" stroke="#777" stroke-width="0.45"/>
<path d="M173.37,86.99A79.6,79.6 0 0 1 173.47,87.80L168.90,88.33A75.0,75.0 0 0 0 168.80,87.57Z" fill="#cfe2c8" stroke="#a4a4a4" stroke-width="0.25"/>
<path d="M173.47,87.80A79.6,79.6 0 0 1 173.52,88.31L168.95,88.81A75.0,75.0 0 0 0 168.90,88.33Z" fill="#c4c0cc" stroke="#a4a4a4" stroke-width="0.25"/>
<path d="M173.52,88.31A79.6,79.6 0 0 1 173.63,89.34L169.05,89.78A75.0,75.0 0 0 0 168.95,88.81Z" fill="#b0c8aa" stroke="#a4a4a4" stroke-width="0.25"/>
<path d="M173.63,89.34A79.6,79.6 0 0 1 173.76,90.77L169.17,91.13A75.0,75.0 0 0 0 169.05,89.78Z" fill="#cfe2c8" stroke="#a4a4a4" stroke-width="0.25"/>
<path d="M173.76,90.77A79.6,79.6 0 0 1 173.80,91.35L169.21,91.68A75.0,75.0 0 0 0 169.17,91.13Z" fill="#b0c8aa" stroke="#a4a4a4" stroke-width="0.25"/>
<path d="M173.80,91.35A79.6,79.6 0 0 1 173.89,92.88L169.30,93.12A75.0,75.0 0 0 0 169.21,91.68Z" fill="#7c7888" stroke="#a4a4a4" stroke-width="0.25"/>
<path d="M173.89,92.88A79.6,79.6 0 0 1 173.93,93.71L169.34,93.90A75.0,75.0 0 0 0 169.30,93.12Z" fill="#a8a4b4" stroke="#a4a4a4" stroke-width="0.25"/>
<path d="M173.93,93.71A79.6,79.6 0 0 1 173.95,94.27L169.36,94.43A75.0,75.0 0 0 0 169.34,93.90Z" fill="#cfe2c8" stroke="#a4a4a4" stroke-width="0.25"/>
<path d="M173.95,94.27A79.6,79.6 0 0 1 173.99,95.61L169.39,95.69A75.0,75.0 0 0 0 169.36,94.43Z" fill="#a8a4b4" stroke="#a4a4a4" stroke-width="0.25"/>
<path d="M173.37,86.99A79.6,79.6 0 0 1 173.99,95.61L169.39,95.69A75.0,75.0 0 0 0 168.80,87.57Z" fill="none" stroke="#777" stroke-width="0.45"/>
<path d="M158.80,97.00A64.4,64.4 0 0 1 151.74,126.32L150.22,125.55A62.7,62.7 0 0 0 157.10,97.00ZM151.22,127.32A64.4,64.4 0 0 1 131.86,149.39L130.87,148.00A62.7,62.7 0 0 0 149.72,126.52ZM130.94,150.03A64.4,64.4 0 0 1 108.87,159.75L108.49,158.10A62.7,62.7 0 0 0 129.97,148.63ZM107.78,160.00A64.4,64.4 0 0 1 84.65,160.66L84.91,158.98A62.7,62.7 0 0 0 107.42,158.33ZM83.54,160.48A64.4,64.4 0 0 1 62.73,153.07L63.57,151.59A62.7,62.7 0 0 0 83.83,158.80ZM61.76,152.51A64.4,64.4 0 0 1 45.77,139.22L47.05,138.10A62.7,62.7 0 0 0 62.62,151.05ZM45.04,138.36A64.4,64.4 0 0 1 34.95,121.77L36.52,121.12A62.7,62.7 0 0 0 46.34,137.27ZM34.53,120.73A64.4,64.4 0 0 1 30.33,103.54L32.02,103.37A62.7,62.7 0 0 0 36.11,120.10ZM30.23,102.42A64.4,64.4 0 0 1 31.02,85.57L32.70,85.87A62.7,62.7 0 0 0 31.92,102.28ZM31.23,84.46A64.4,64.4 0 0 1 36.41,68.99L37.94,69.73A62.7,62.7 0 0 0 32.90,84.79ZM36.91,67.98A64.4,64.4 0 0 1 46.15,54.34L47.43,55.47A62.7,62.7 0 0 0 38.43,68.75ZM46.90,53.51A64.4,64.4 0 0 1 59.31,43.00L60.23,44.43A62.7,62.7 0 0 0 48.16,54.66ZM60.25,42.40A64.4,64.4 0 0 1 72.82,36.32L73.39,37.92A62.7,62.7 0 0 0 61.16,43.84ZM73.88,35.96A64.4,64.4 0 0 1 86.63,33.07L86.83,34.76A62.7,62.7 0 0 0 74.43,37.57ZM87.75,32.94A64.4,64.4 0 0 1 100.20,32.86L100.04,34.55A62.7,62.7 0 0 0 87.92,34.64ZM101.32,32.97A64.4,64.4 0 0 1 112.14,35.09L111.68,36.73A62.7,62.7 0 0 0 101.13,34.66ZM113.22,35.41A64.4,64.4 0 0 1 122.68,39.14L121.94,40.67A62.7,62.7 0 0 0 112.73,37.04ZM123.69,39.65A64.4,64.4 0 0 1 132.07,44.77L131.07,46.14A62.7,62.7 0 0 0 122.92,41.16ZM132.97,45.43A64.4,64.4 0 0 1 138.46,50.03L137.30,51.27A62.7,62.7 0 0 0 131.96,46.79ZM139.28,50.81A64.4,64.4 0 0 1 144.58,56.63L143.25,57.70A62.7,62.7 0 0 0 138.09,52.03ZM145.28,57.52A64.4,64.4 0 0 1 148.57,62.18L147.14,63.10A62.7,62.7 0 0 0 143.93,58.56ZM149.17,63.13A64.4,64.4 0 0 1 152.18,68.56L150.66,69.31A62.7,62.7 0 0 0 147.73,64.02ZM152.67,69.58A64.4,64.4 0 0 1 158.14,87.79L156.45,88.03A62.7,62.7 0 0 0 151.13,70.30ZM158.29,88.90A64.4,64.4 0 0 1 158.79,95.88L157.09,95.91A62.7,62.7 0 0 0 156.60,89.11Z" fill="#d2e7f6"/>
<path d="M167.00,97.00A72.6,72.6 0 0 1 159.04,130.06L149.51,125.19A61.9,61.9 0 0 0 156.30,97.00ZM158.45,131.18A72.6,72.6 0 0 1 136.62,156.06L130.40,147.35A61.9,61.9 0 0 0 149.01,126.14ZM135.59,156.79A72.6,72.6 0 0 1 110.72,167.74L108.31,157.32A61.9,61.9 0 0 0 129.52,147.97ZM109.48,168.02A72.6,72.6 0 0 1 83.41,168.76L85.03,158.19A61.9,61.9 0 0 0 107.26,157.55ZM82.16,168.56A72.6,72.6 0 0 1 58.70,160.21L63.96,150.90A61.9,61.9 0 0 0 83.96,158.01ZM57.60,159.58A72.6,72.6 0 0 1 39.57,144.59L47.65,137.58A61.9,61.9 0 0 0 63.02,150.36ZM38.75,143.63A72.6,72.6 0 0 1 27.39,124.93L37.26,120.81A61.9,61.9 0 0 0 46.95,136.75ZM26.91,123.75A72.6,72.6 0 0 1 22.18,104.38L32.82,103.29A61.9,61.9 0 0 0 36.86,119.81ZM22.06,103.11A72.6,72.6 0 0 1 22.95,84.11L33.48,86.01A61.9,61.9 0 0 0 32.72,102.21ZM23.19,82.87A72.6,72.6 0 0 1 29.03,65.42L38.66,70.08A61.9,61.9 0 0 0 33.68,84.95ZM29.59,64.29A72.6,72.6 0 0 1 40.01,48.91L48.03,56.00A61.9,61.9 0 0 0 39.14,69.11ZM40.86,47.97A72.6,72.6 0 0 1 54.84,36.13L60.67,45.10A61.9,61.9 0 0 0 48.75,55.20ZM55.91,35.44A72.6,72.6 0 0 1 70.07,28.60L73.66,38.68A61.9,61.9 0 0 0 61.58,44.52ZM71.27,28.18A72.6,72.6 0 0 1 85.64,24.93L86.93,35.55A61.9,61.9 0 0 0 74.68,38.33ZM86.90,24.79A72.6,72.6 0 0 1 100.94,24.69L99.97,35.35A61.9,61.9 0 0 0 88.00,35.43ZM102.20,24.82A72.6,72.6 0 0 1 114.40,27.21L111.46,37.50A61.9,61.9 0 0 0 101.05,35.46ZM115.62,27.57A72.6,72.6 0 0 1 126.29,31.78L121.59,41.39A61.9,61.9 0 0 0 112.49,37.80ZM127.42,32.34A72.6,72.6 0 0 1 136.86,38.11L130.61,46.79A61.9,61.9 0 0 0 122.55,41.87ZM137.89,38.86A72.6,72.6 0 0 1 144.07,44.05L136.75,51.86A61.9,61.9 0 0 0 131.48,47.43ZM144.99,44.93A72.6,72.6 0 0 1 150.97,51.49L142.63,58.20A61.9,61.9 0 0 0 137.53,52.60ZM151.75,52.49A72.6,72.6 0 0 1 155.47,57.74L146.47,63.53A61.9,61.9 0 0 0 143.30,59.05ZM156.15,58.82A72.6,72.6 0 0 1 159.54,64.94L149.94,69.67A61.9,61.9 0 0 0 147.05,64.44ZM160.09,66.08A72.6,72.6 0 0 1 166.25,86.61L155.66,88.14A61.9,61.9 0 0 0 150.41,70.64ZM166.42,87.87A72.6,72.6 0 0 1 166.99,95.73L156.29,95.92A61.9,61.9 0 0 0 155.81,89.21Z" fill="none" stroke="#bdbdbd" stroke-width="0.5"/>
<path d="M158.80,97.00L159.40,97.00 159.40,97.25 159.42,97.25 159.42,97.49 159.28,97.49 159.28,97.74 159.44,97.74 159.44,97.99 159.37,97.99 159.37,98.23 159.27,98.23 159.27,98.48 159.24,98.48 159.24,98.72 159.27,98.72 159.26,98.97 159.34,98.97 159.33,99.22 159.36,99.22 159.35,99.47 159.33,99.47 159.32,99.71 159.51,99.72 159.50,99.97 159.70,99.98 159.69,100.23 159.56,100.22 159.55,100.47 159.65,100.47 159.63,100.72 160.57,100.77 160.55,101.02 160.17,101.00 160.15,101.25 161.34,101.33 161.33,101.58 161.48,101.59 161.46,101.85 161.41,101.84 161.39,102.10 160.44,102.03 160.42,102.28 161.48,102.36 161.46,102.62 162.07,102.67 162.05,102.92 161.14,102.84 161.12,103.10 160.69,103.06 160.67,103.31 161.62,103.40 161.60,103.66 163.01,103.80 162.98,104.06 164.29,104.19 164.26,104.46 162.39,104.26 162.36,104.52 160.94,104.36 160.91,104.61 159.74,104.48 159.71,104.72 159.38,104.69 159.35,104.93 159.17,104.91 159.14,105.16 158.82,105.12 158.79,105.36 158.83,105.37 158.79,105.61 158.68,105.60 158.65,105.84 158.64,105.84 158.61,106.08 158.64,106.09 158.61,106.33 158.78,106.36 158.75,106.60 158.76,106.60 158.73,106.85 158.78,106.86 158.74,107.10 159.14,107.16 159.10,107.41 160.11,107.57 160.07,107.82 161.24,108.01 161.20,108.27 161.51,108.32 161.47,108.57 161.41,108.56 161.36,108.82 159.80,108.54 159.76,108.79 158.90,108.64 158.86,108.88 158.38,108.79 158.33,109.04 158.25,109.02 158.21,109.26 158.11,109.25 158.06,109.49 158.11,109.50 158.06,109.74 158.10,109.75 158.05,109.99 157.97,109.97 157.92,110.21 157.99,110.23 157.94,110.47 157.89,110.46 157.84,110.70 157.90,110.71 157.85,110.95 157.80,110.94 157.74,111.18 157.81,111.20 157.76,111.44 157.63,111.41 157.57,111.65 157.71,111.68 157.65,111.92 157.54,111.89 157.48,112.13 157.66,112.18 157.60,112.42 157.52,112.40 157.46,112.64 157.43,112.63 157.37,112.87 157.36,112.87 157.30,113.11 157.35,113.12 157.29,113.36 157.30,113.36 157.24,113.60 157.25,113.60 157.19,113.84 157.19,113.84 157.12,114.08 157.07,114.06 157.00,114.30 157.11,114.33 157.04,114.57 157.01,114.56 156.94,114.80 156.95,114.80 156.88,115.04 156.78,115.01 156.71,115.25 156.72,115.25 156.65,115.48 156.68,115.49 156.61,115.73 156.69,115.75 156.62,115.99 156.58,115.98 156.51,116.21 156.66,116.26 156.59,116.50 156.88,116.59 156.81,116.83 157.60,117.08 157.52,117.32 158.59,117.66 158.51,117.90 158.92,118.04 158.84,118.28 159.29,118.43 159.21,118.68 159.46,118.76 159.38,119.01 158.16,118.60 158.07,118.84 156.91,118.44 156.83,118.68 156.35,118.51 156.27,118.75 155.85,118.60 155.76,118.83 155.66,118.80 155.58,119.03 155.43,118.98 155.35,119.21 155.35,119.21 155.27,119.44 155.33,119.46 155.24,119.69 155.27,119.70 155.19,119.94 155.21,119.94 155.12,120.17 155.14,120.18 155.05,120.41 155.71,120.67 155.62,120.90 155.50,120.85 155.41,121.08 155.70,121.20 155.61,121.43 156.27,121.70 156.18,121.93 156.41,122.03 156.32,122.26 155.72,122.02 155.63,122.25 155.23,122.09 155.14,122.32 155.31,122.39 155.21,122.62 155.62,122.80 155.53,123.03 155.13,122.86 155.04,123.09 154.45,122.84 154.36,123.07 154.27,123.03 154.18,123.26 154.01,123.19 153.91,123.41 153.72,123.33 153.62,123.56 153.71,123.60 153.61,123.82 153.58,123.81 153.48,124.03 153.59,124.09 153.49,124.31 153.72,124.42 153.62,124.64 154.51,125.06 154.41,125.29 155.05,125.59 154.94,125.82 154.38,125.55 154.27,125.78 153.46,125.39 153.35,125.62 152.78,125.34 152.67,125.56 152.67,125.56 152.57,125.78 152.57,125.79 152.46,126.01 152.47,126.01 152.36,126.23 152.31,126.21 152.19,126.42 152.36,126.51 152.30,126.61L151.74,126.32A64.4,64.4 0 0 0 158.80,97.00ZM151.22,127.32L151.65,127.55 151.53,127.77 151.50,127.75 151.38,127.96 151.40,127.98 151.28,128.19 151.37,128.24 151.25,128.46 151.14,128.40 151.02,128.61 151.07,128.64 150.95,128.86 150.98,128.87 150.85,129.08 150.88,129.10 150.75,129.31 150.68,129.27 150.55,129.48 150.66,129.54 150.54,129.76 150.45,129.71 150.33,129.92 150.42,129.97 150.29,130.18 150.28,130.18 150.15,130.39 150.06,130.33 149.93,130.54 149.94,130.55 149.81,130.76 149.83,130.77 149.70,130.98 149.78,131.03 149.65,131.24 149.59,131.20 149.46,131.41 149.46,131.41 149.33,131.62 149.42,131.67 149.28,131.88 149.16,131.81 149.03,132.01 149.04,132.02 148.91,132.23 148.92,132.24 148.79,132.44 148.77,132.43 148.63,132.64 148.62,132.63 148.48,132.83 148.60,132.91 148.46,133.11 148.92,133.42 148.78,133.63 149.75,134.28 149.60,134.49 150.81,135.30 150.66,135.52 150.50,135.41 150.36,135.62 150.31,135.59 150.16,135.80 149.18,135.12 149.03,135.33 148.92,135.25 148.78,135.45 149.10,135.69 148.96,135.89 149.41,136.22 149.27,136.43 148.61,135.96 148.46,136.16 147.93,135.78 147.78,135.98 147.22,135.57 147.07,135.77 146.75,135.53 146.60,135.73 146.64,135.76 146.49,135.96 146.52,135.98 146.37,136.18 146.70,136.42 146.55,136.62 146.90,136.89 146.75,137.09 147.13,137.38 146.97,137.58 146.66,137.33 146.51,137.53 146.08,137.20 145.93,137.40 145.69,137.21 145.53,137.40 145.37,137.27 145.22,137.47 145.16,137.42 145.01,137.61 145.04,137.64 144.88,137.83 144.90,137.84 144.74,138.03 144.69,137.99 144.53,138.18 144.62,138.25 144.46,138.44 144.39,138.38 144.23,138.57 144.20,138.55 144.05,138.74 144.09,138.77 143.93,138.96 143.94,138.97 143.78,139.16 143.74,139.12 143.58,139.31 143.65,139.37 143.49,139.56 143.51,139.58 143.35,139.76 143.35,139.76 143.18,139.95 143.37,140.11 143.21,140.30 143.67,140.71 143.50,140.90 143.66,141.04 143.50,141.23 143.31,141.06 143.14,141.24 142.64,140.79 142.48,140.97 142.34,140.85 142.17,141.03 142.09,140.95 141.92,141.13 141.99,141.20 141.82,141.38 141.84,141.39 141.67,141.57 141.66,141.56 141.49,141.74 141.51,141.76 141.34,141.94 141.49,142.08 141.32,142.26 141.58,142.52 141.41,142.70 141.84,143.11 141.66,143.29 142.14,143.76 141.96,143.94 141.53,143.52 141.36,143.70 140.91,143.25 140.73,143.43 140.59,143.28 140.41,143.46 140.22,143.26 140.04,143.44 140.24,143.64 140.06,143.81 140.22,143.97 140.04,144.14 140.41,144.52 140.22,144.70 140.60,145.09 140.42,145.26 140.86,145.73 140.67,145.90 141.79,147.08 141.60,147.26 140.98,146.60 140.79,146.77 140.09,146.02 139.90,146.20 139.43,145.69 139.24,145.86 139.11,145.71 138.92,145.88 138.71,145.64 138.52,145.81 138.66,145.96 138.47,146.13 138.21,145.83 138.02,146.00 137.91,145.88 137.73,146.04 137.58,145.88 137.40,146.04 137.41,146.06 137.22,146.22 137.11,146.09 136.92,146.25 136.82,146.13 136.63,146.30 136.67,146.33 136.48,146.49 136.44,146.45 136.26,146.61 136.26,146.62 136.07,146.78 136.16,146.88 135.97,147.04 135.86,146.90 135.67,147.06 135.67,147.06 135.48,147.22 135.49,147.23 135.29,147.38 135.36,147.46 135.17,147.61 135.10,147.54 134.91,147.69 134.88,147.65 134.69,147.81 134.76,147.90 134.57,148.05 134.55,148.03 134.35,148.18 134.33,148.15 134.14,148.30 134.17,148.35 133.98,148.50 134.00,148.53 133.80,148.68 133.79,148.66 133.59,148.81 133.60,148.82 133.40,148.97 133.40,148.96 133.20,149.10 133.23,149.15 133.04,149.30 133.05,149.32 132.85,149.47 132.77,149.36 132.57,149.50 132.57,149.51 132.38,149.65 132.44,149.75 132.24,149.89 132.17,149.79 132.15,149.80L131.86,149.39A64.4,64.4 0 0 0 151.22,127.32ZM130.94,150.03L131.30,150.56 131.10,150.70 131.00,150.56 130.80,150.70 130.84,150.76 130.63,150.90 130.70,150.99 130.49,151.13 130.46,151.08 130.25,151.22 130.20,151.14 130.00,151.28 130.05,151.36 129.84,151.49 129.87,151.54 129.66,151.67 129.59,151.56 129.39,151.70 129.44,151.78 129.23,151.91 129.15,151.78 128.94,151.91 129.04,152.07 128.83,152.20 128.77,152.11 128.56,152.24 128.53,152.19 128.32,152.32 128.39,152.43 128.18,152.56 128.16,152.53 127.95,152.65 127.98,152.71 127.77,152.84 127.78,152.85 127.56,152.97 127.59,153.01 127.37,153.14 127.43,153.23 127.21,153.35 127.27,153.45 127.05,153.57 127.08,153.62 126.87,153.74 127.00,153.97 126.78,154.10 126.79,154.11 126.57,154.23 126.43,153.99 126.22,154.11 126.46,154.55 126.25,154.67 126.18,154.56 125.96,154.68 126.08,154.89 125.86,155.01 126.19,155.61 125.96,155.73 125.60,155.06 125.38,155.18 125.71,155.80 125.49,155.92 125.71,156.34 125.49,156.46 125.77,157.01 125.54,157.13 125.90,157.82 125.67,157.94 125.82,158.24 125.59,158.36 125.37,157.92 125.14,158.04 124.64,157.05 124.42,157.17 123.95,156.24 123.73,156.36 123.44,155.76 123.21,155.87 123.08,155.61 122.86,155.72 122.76,155.52 122.54,155.62 122.55,155.64 122.33,155.75 122.31,155.72 122.09,155.82 122.03,155.70 121.81,155.80 121.83,155.84 121.60,155.95 121.58,155.89 121.35,156.00 121.35,155.98 121.12,156.09 121.15,156.15 120.93,156.25 120.97,156.35 120.75,156.45 120.75,156.45 120.52,156.55 120.52,156.56 120.30,156.65 120.43,156.96 120.20,157.06 120.50,157.76 120.27,157.86 120.50,158.39 120.26,158.48 120.34,158.68 120.11,158.78 121.15,161.27 120.90,161.37 121.09,161.82 120.84,161.92 120.00,159.85 119.76,159.95 119.10,158.32 118.87,158.42 118.57,157.66 118.34,157.75 118.25,157.53 118.02,157.62 118.00,157.56 117.77,157.65 117.73,157.54 117.50,157.63 117.54,157.73 117.30,157.82 117.29,157.77 117.06,157.85 117.02,157.77 116.79,157.85 116.82,157.92 116.59,158.01 116.58,158.00 116.35,158.08 116.38,158.15 116.14,158.23 116.12,158.16 115.88,158.24 115.91,158.31 115.68,158.39 115.68,158.41 115.45,158.49 115.41,158.38 115.18,158.46 115.18,158.45 114.94,158.53 114.98,158.65 114.75,158.73 114.73,158.68 114.50,158.75 114.47,158.68 114.24,158.76 114.24,158.76 114.00,158.83 114.06,159.01 113.82,159.08 113.80,159.01 113.57,159.08 113.55,159.03 113.31,159.10 113.30,159.07 113.07,159.14 113.12,159.31 112.88,159.38 112.86,159.31 112.63,159.38 112.63,159.39 112.39,159.46 112.37,159.38 112.13,159.45 112.13,159.44 111.89,159.51 111.90,159.53 111.66,159.60 111.66,159.60 111.42,159.66 111.52,160.03 111.28,160.10 111.49,160.86 111.25,160.93 111.67,162.52 111.42,162.59 111.59,163.24 111.33,163.31 111.09,162.36 110.84,162.42 110.54,161.20 110.29,161.26 110.10,160.49 109.86,160.55 109.76,160.14 109.52,160.20 109.53,160.22 109.29,160.27 109.26,160.17 109.02,160.22 109.04,160.30 109.00,160.31L108.87,159.75A64.4,64.4 0 0 0 130.94,150.03ZM107.78,160.00L107.91,160.61 107.67,160.66 107.65,160.56 107.40,160.61 107.40,160.59 107.16,160.64 107.17,160.72 106.93,160.77 106.91,160.64 106.67,160.69 106.70,160.88 106.46,160.93 106.45,160.90 106.21,160.94 106.19,160.83 105.95,160.88 105.95,160.87 105.71,160.92 105.72,161.03 105.48,161.07 105.48,161.06 105.24,161.10 105.23,161.07 104.99,161.11 104.97,160.99 104.72,161.03 104.75,161.18 104.51,161.22 104.48,161.06 104.24,161.10 104.26,161.23 104.01,161.26 104.01,161.25 103.77,161.28 103.78,161.36 103.53,161.40 103.52,161.34 103.28,161.37 103.26,161.24 103.02,161.27 103.04,161.47 102.80,161.50 102.79,161.46 102.55,161.49 102.55,161.46 102.30,161.49 102.29,161.43 102.05,161.46 102.08,161.74 101.84,161.77 101.84,161.84 101.60,161.86 101.67,162.49 101.42,162.52 101.51,163.42 101.26,163.45 101.45,165.30 101.19,165.33 101.21,165.52 100.95,165.54 100.94,165.40 100.68,165.42 100.55,164.03 100.30,164.06 100.23,163.25 99.97,163.27 99.97,163.25 99.72,163.27 99.69,162.92 99.44,162.94 99.44,162.94 99.19,162.96 99.18,162.86 98.93,162.88 98.96,163.19 98.70,163.21 98.73,163.67 98.48,163.68 98.41,162.54 98.16,162.55 98.20,163.17 97.95,163.18 97.94,163.15 97.69,163.16 97.68,162.82 97.43,162.83 97.44,163.04 97.19,163.05 97.21,163.64 96.96,163.65 96.98,164.20 96.72,164.21 96.76,165.14 96.50,165.15 96.48,164.78 96.23,164.79 96.22,164.38 95.96,164.39 95.94,163.64 95.69,163.65 95.69,163.43 95.43,163.43 95.44,163.65 95.18,163.65 95.20,164.72 94.94,164.72 94.96,167.48 94.69,167.48 94.69,165.80 94.43,165.80 94.42,164.54 94.17,164.54 94.17,162.94 93.92,162.94 93.92,163.69 93.66,163.69 93.67,162.88 93.42,162.88 93.43,162.72 93.18,162.72 93.17,162.96 92.92,162.96 92.92,162.87 92.67,162.86 92.69,162.29 92.44,162.28 92.43,162.47 92.19,162.46 92.20,162.16 91.95,162.15 91.95,162.15 91.70,162.14 91.71,161.88 91.47,161.86 91.46,161.94 91.22,161.93 91.22,161.80 90.98,161.79 90.97,161.88 90.72,161.86 90.73,161.78 90.48,161.77 90.48,161.80 90.24,161.78 90.24,161.74 89.99,161.73 89.99,161.77 89.74,161.75 89.74,161.80 89.49,161.78 89.49,161.77 89.25,161.75 89.25,161.72 89.01,161.70 89.00,161.74 88.76,161.72 88.75,161.78 88.51,161.76 88.51,161.65 88.27,161.63 88.26,161.68 88.02,161.65 88.02,161.63 87.78,161.61 87.76,161.72 87.52,161.69 87.53,161.55 87.29,161.52 87.28,161.60 87.03,161.57 87.05,161.47 86.80,161.44 86.80,161.45 86.56,161.42 86.54,161.52 86.30,161.49 86.30,161.46 86.06,161.43 86.07,161.36 85.82,161.33 85.83,161.29 85.58,161.25 85.56,161.42 85.32,161.38 85.33,161.29 85.09,161.25 85.08,161.33 84.83,161.29 84.84,161.23 84.60,161.19 84.59,161.23 84.57,161.23L84.65,160.66A64.4,64.4 0 0 0 107.78,160.00ZM83.54,160.48L83.45,161.02 83.21,160.97 83.20,161.05 82.95,161.00 82.98,160.83 82.74,160.79 82.72,160.89 82.48,160.85 82.48,160.82 82.24,160.78 82.25,160.71 82.01,160.66 81.98,160.84 81.73,160.80 81.77,160.63 81.53,160.58 81.52,160.59 81.28,160.55 81.25,160.69 81.01,160.64 81.01,160.66 80.76,160.61 80.77,160.60 80.52,160.55 80.55,160.42 80.31,160.37 80.28,160.49 80.04,160.44 80.08,160.27 79.84,160.22 79.81,160.34 79.57,160.28 79.56,160.34 79.32,160.29 79.34,160.18 79.10,160.12 79.06,160.30 78.82,160.24 78.63,161.00 78.39,160.94 78.23,161.58 77.99,161.51 77.80,162.22 77.56,162.16 77.61,161.94 77.37,161.88 77.54,161.20 77.30,161.14 77.49,160.43 77.25,160.36 77.31,160.15 77.07,160.08 76.94,160.56 76.69,160.50 76.74,160.32 76.50,160.26 76.45,160.45 76.21,160.38 76.30,160.04 76.06,159.98 75.82,160.81 75.58,160.74 75.79,160.01 75.55,159.94 75.60,159.79 75.36,159.72 75.22,160.18 74.98,160.11 75.10,159.72 74.86,159.65 74.79,159.86 74.56,159.79 74.46,160.09 74.22,160.01 73.81,161.31 73.56,161.23 73.25,162.19 73.00,162.11 73.39,160.95 73.14,160.87 73.62,159.44 73.38,159.36 73.63,158.62 73.40,158.54 73.43,158.44 73.20,158.36 73.22,158.30 72.98,158.22 72.97,158.27 72.74,158.19 72.70,158.28 72.47,158.20 72.46,158.23 72.23,158.15 72.26,158.06 72.03,157.98 72.05,157.90 71.82,157.82 71.80,157.87 71.57,157.78 71.53,157.89 71.30,157.80 71.27,157.87 71.04,157.78 70.91,158.13 70.68,158.05 70.69,158.00 70.46,157.91 70.42,158.01 70.19,157.92 70.23,157.82 70.00,157.73 69.73,158.41 69.49,158.31 69.69,157.82 69.46,157.73 69.28,158.17 69.05,158.08 69.02,158.14 68.79,158.04 69.00,157.55 68.77,157.45 68.73,157.53 68.50,157.43 68.60,157.21 68.37,157.11 68.48,156.86 68.25,156.76 68.33,156.59 68.10,156.49 68.12,156.43 67.90,156.33 67.94,156.25 67.71,156.15 67.67,156.25 67.44,156.15 67.49,156.04 67.27,155.94 67.28,155.90 67.06,155.80 67.04,155.84 66.82,155.73 66.76,155.85 66.54,155.74 66.57,155.68 66.35,155.58 66.33,155.61 66.11,155.50 66.13,155.46 65.91,155.36 65.93,155.30 65.71,155.19 65.73,155.16 65.51,155.05 65.48,155.11 65.26,155.00 65.28,154.95 65.06,154.83 65.04,154.88 64.82,154.77 64.79,154.84 64.57,154.72 64.59,154.67 64.37,154.56 64.36,154.58 64.14,154.47 64.13,154.50 63.91,154.38 63.94,154.32 63.73,154.20 63.72,154.21 63.50,154.10 63.45,154.20 63.23,154.08 63.26,154.02 63.05,153.90 63.07,153.87 62.85,153.75 62.84,153.77 62.62,153.65 62.63,153.64 62.46,153.55L62.73,153.07A64.4,64.4 0 0 0 83.54,160.48ZM61.76,152.51L61.45,153.04 61.24,152.91 61.25,152.89 61.04,152.76 61.03,152.77 60.82,152.65 60.85,152.60 60.64,152.47 60.64,152.47 60.43,152.34 60.47,152.28 60.26,152.15 60.21,152.22 60.00,152.09 59.95,152.18 59.74,152.05 59.75,152.03 59.54,151.90 59.64,151.75 59.43,151.62 59.42,151.62 59.22,151.49 59.18,151.55 58.97,151.42 58.82,151.65 58.61,151.51 58.31,151.97 58.11,151.83 57.60,152.59 57.39,152.45 56.75,153.41 56.54,153.26 56.91,152.70 56.70,152.56 57.42,151.50 57.22,151.36 57.61,150.79 57.40,150.65 57.49,150.53 57.28,150.39 57.30,150.36 57.10,150.22 57.11,150.21 56.91,150.07 56.98,149.96 56.78,149.82 56.69,149.94 56.49,149.80 56.57,149.69 56.37,149.55 56.38,149.53 56.18,149.39 56.12,149.46 55.92,149.32 55.98,149.24 55.78,149.09 55.78,149.10 55.58,148.95 55.54,149.01 55.34,148.86 55.33,148.88 55.13,148.73 55.18,148.66 54.99,148.51 54.87,148.66 54.68,148.51 54.69,148.49 54.49,148.34 54.54,148.28 54.35,148.13 54.34,148.15 54.14,147.99 54.18,147.95 53.99,147.79 53.89,147.91 53.70,147.75 53.82,147.61 53.63,147.45 53.60,147.48 53.41,147.33 53.42,147.31 53.23,147.16 53.14,147.27 52.95,147.11 53.00,147.05 52.81,146.89 52.83,146.88 52.64,146.72 52.64,146.71 52.45,146.56 52.38,146.64 52.19,146.48 52.28,146.38 52.09,146.22 51.98,146.35 51.79,146.19 51.59,146.42 51.40,146.26 51.49,146.16 51.30,145.99 50.94,146.40 50.75,146.24 50.41,146.62 50.23,146.46 50.06,146.64 49.87,146.47 50.09,146.23 49.90,146.06 49.72,146.26 49.54,146.09 49.38,146.26 49.20,146.09 49.12,146.17 48.93,146.00 49.32,145.58 49.14,145.41 49.09,145.46 48.90,145.29 48.95,145.24 48.77,145.06 48.70,145.13 48.52,144.96 48.87,144.59 48.69,144.42 48.32,144.81 48.14,144.63 47.88,144.90 47.69,144.72 47.85,144.57 47.67,144.39 47.74,144.32 47.56,144.14 47.23,144.47 47.05,144.29 47.15,144.19 46.97,144.01 47.30,143.69 47.12,143.51 47.54,143.10 47.36,142.92 47.65,142.64 47.48,142.46 47.61,142.33 47.44,142.15 47.54,142.06 47.37,141.88 47.38,141.87 47.21,141.69 47.25,141.65 47.08,141.47 47.05,141.50 46.88,141.32 46.95,141.26 46.78,141.08 46.69,141.16 46.52,140.98 46.56,140.94 46.40,140.76 46.32,140.83 46.16,140.64 46.26,140.55 46.10,140.37 46.04,140.42 45.87,140.24 45.99,140.14 45.82,139.95 45.76,140.01 45.59,139.83 45.54,139.88 45.37,139.69 45.46,139.62 45.39,139.54L45.77,139.22A64.4,64.4 0 0 0 61.76,152.51ZM45.04,138.36L44.61,138.72 44.45,138.53 44.45,138.53 44.29,138.34 44.25,138.37 44.09,138.18 44.08,138.20 43.92,138.01 44.03,137.91 43.88,137.72 43.91,137.69 43.76,137.50 43.71,137.54 43.56,137.35 43.61,137.31 43.45,137.12 43.32,137.22 43.17,137.03 43.20,137.00 43.05,136.81 43.11,136.76 42.95,136.57 42.97,136.56 42.82,136.36 42.70,136.46 42.55,136.26 42.53,136.27 42.38,136.07 42.33,136.11 42.19,135.91 42.05,136.01 41.91,135.81 41.56,136.07 41.41,135.86 41.03,136.15 40.88,135.94 40.38,136.31 40.23,136.10 40.09,136.20 39.95,136.00 40.04,135.93 39.90,135.72 40.04,135.62 39.89,135.41 39.74,135.52 39.59,135.31 40.38,134.76 40.24,134.56 39.82,134.84 39.68,134.63 39.81,134.55 39.66,134.34 38.99,134.80 38.85,134.59 39.70,134.02 39.56,133.81 39.25,134.01 39.11,133.80 39.78,133.36 39.64,133.15 39.42,133.29 39.28,133.09 39.27,133.10 39.13,132.89 38.90,133.03 38.77,132.82 38.49,133.00 38.36,132.79 38.04,132.99 37.91,132.77 38.31,132.52 38.17,132.31 38.54,132.08 38.41,131.86 38.73,131.66 38.60,131.45 38.91,131.26 38.78,131.05 39.02,130.90 38.89,130.69 38.84,130.72 38.72,130.51 38.64,130.56 38.51,130.34 38.55,130.32 38.43,130.11 38.17,130.26 38.05,130.04 37.63,130.29 37.50,130.07 36.98,130.37 36.86,130.16 36.17,130.55 36.05,130.33 35.59,130.59 35.47,130.36 36.14,129.98 36.02,129.76 36.50,129.49 36.37,129.27 37.04,128.90 36.92,128.68 37.22,128.52 37.10,128.30 37.29,128.19 37.17,127.98 37.29,127.91 37.17,127.70 37.14,127.71 37.03,127.49 37.02,127.50 36.91,127.28 37.03,127.22 36.91,127.00 36.87,127.02 36.76,126.80 36.67,126.84 36.56,126.62 36.65,126.58 36.54,126.36 36.56,126.35 36.45,126.13 36.32,126.19 36.21,125.97 36.29,125.93 36.18,125.71 36.06,125.77 35.95,125.55 36.03,125.51 35.92,125.29 36.01,125.25 35.90,125.02 35.80,125.07 35.69,124.85 35.77,124.82 35.66,124.59 35.55,124.65 35.45,124.42 35.46,124.41 35.36,124.19 35.35,124.19 35.25,123.97 35.39,123.90 35.29,123.68 35.29,123.68 35.19,123.45 35.04,123.52 34.94,123.30 35.07,123.24 34.97,123.01 34.96,123.02 34.86,122.79 34.90,122.78 34.80,122.55 34.77,122.56 34.68,122.34 34.61,122.36 34.52,122.13 34.42,122.18 34.35,122.02L34.95,121.77A64.4,64.4 0 0 0 45.04,138.36ZM34.53,120.73L33.74,121.04 33.65,120.81 33.33,120.94 33.24,120.71 32.98,120.81 32.89,120.57 32.79,120.61 32.70,120.38 32.85,120.32 32.77,120.09 32.79,120.08 32.70,119.84 32.73,119.83 32.64,119.60 32.07,119.81 31.98,119.57 32.76,119.29 32.68,119.06 32.82,119.01 32.74,118.77 32.29,118.93 32.21,118.69 32.66,118.53 32.58,118.30 32.84,118.21 32.76,117.97 32.85,117.95 32.77,117.71 32.66,117.75 32.58,117.51 32.72,117.47 32.64,117.23 32.57,117.26 32.49,117.02 32.57,117.00 32.50,116.76 32.62,116.72 32.54,116.49 32.41,116.53 32.33,116.30 32.43,116.26 32.36,116.03 32.31,116.05 32.24,115.81 32.19,115.82 32.12,115.59 32.09,115.60 32.02,115.36 32.00,115.37 31.93,115.13 32.04,115.10 31.97,114.86 31.99,114.85 31.93,114.62 31.91,114.62 31.84,114.38 31.86,114.38 31.80,114.14 31.70,114.17 31.64,113.93 31.70,113.91 31.63,113.67 31.59,113.69 31.52,113.45 31.64,113.42 31.58,113.18 31.44,113.21 31.38,112.97 31.34,112.98 31.28,112.74 31.44,112.70 31.39,112.46 31.29,112.49 31.24,112.25 31.31,112.23 31.25,111.99 31.23,111.99 31.18,111.75 31.09,111.78 31.03,111.53 30.92,111.56 30.86,111.32 30.71,111.35 30.66,111.11 30.44,111.16 30.39,110.92 30.28,110.94 30.23,110.70 30.04,110.74 29.99,110.49 30.44,110.40 30.39,110.15 30.26,110.18 30.21,109.94 29.70,110.04 29.65,109.79 29.42,109.84 29.37,109.59 28.94,109.68 28.89,109.43 29.13,109.38 29.09,109.13 29.67,109.03 29.63,108.78 29.45,108.81 29.40,108.57 29.54,108.54 29.50,108.29 29.41,108.31 29.37,108.06 29.69,108.01 29.65,107.76 29.59,107.77 29.55,107.53 29.88,107.47 29.84,107.23 30.04,107.20 30.00,106.95 30.05,106.94 30.01,106.70 30.15,106.68 30.11,106.43 30.03,106.45 29.99,106.20 30.17,106.18 30.14,105.93 30.05,105.95 30.01,105.70 29.96,105.71 29.93,105.46 30.04,105.45 30.00,105.20 30.05,105.20 30.02,104.95 29.90,104.97 29.87,104.72 29.86,104.73 29.83,104.48 29.80,104.48 29.77,104.24 29.84,104.23 29.81,103.99 29.81,103.99 29.78,103.74 29.72,103.75 29.71,103.61L30.33,103.54A64.4,64.4 0 0 0 34.53,120.73ZM30.23,102.42L29.08,102.52 29.06,102.27 28.78,102.30 28.76,102.05 28.38,102.08 28.36,101.82 28.43,101.82 28.42,101.57 28.98,101.53 28.96,101.28 29.29,101.26 29.28,101.01 29.54,101.00 29.52,100.75 29.46,100.75 29.45,100.51 29.39,100.51 29.38,100.26 29.11,100.28 29.10,100.03 28.40,100.06 28.39,99.81 27.29,99.86 27.28,99.60 26.30,99.64 26.29,99.38 26.70,99.37 26.69,99.11 27.04,99.10 27.04,98.84 27.78,98.82 27.77,98.57 28.51,98.55 28.51,98.30 28.86,98.30 28.86,98.05 29.17,98.04 29.16,97.79 29.49,97.79 29.49,97.54 29.50,97.54 29.49,97.30 29.39,97.30 29.39,97.05 29.51,97.05 29.51,96.80 29.37,96.80 29.37,96.56 29.48,96.56 29.49,96.31 29.46,96.31 29.46,96.06 29.52,96.06 29.53,95.82 29.51,95.82 29.51,95.57 29.48,95.57 29.49,95.32 29.50,95.32 29.51,95.08 29.30,95.07 29.31,94.82 29.31,94.82 29.32,94.58 28.86,94.56 28.87,94.31 28.52,94.30 28.53,94.05 29.00,94.07 29.01,93.82 28.87,93.81 28.88,93.56 28.93,93.57 28.94,93.32 28.79,93.31 28.80,93.06 27.71,92.99 27.73,92.74 28.63,92.80 28.65,92.55 28.80,92.56 28.82,92.31 28.91,92.32 28.92,92.07 29.06,92.08 29.08,91.83 29.45,91.86 29.47,91.61 29.60,91.62 29.62,91.38 29.65,91.38 29.67,91.13 29.60,91.13 29.63,90.88 29.18,90.84 29.20,90.59 28.84,90.56 28.87,90.31 28.39,90.26 28.41,90.01 28.15,89.98 28.17,89.73 28.49,89.76 28.52,89.51 29.07,89.57 29.09,89.33 29.37,89.36 29.40,89.11 29.87,89.17 29.90,88.92 29.90,88.92 29.93,88.68 30.06,88.70 30.10,88.45 30.10,88.45 30.14,88.21 30.07,88.20 30.10,87.96 30.16,87.96 30.19,87.72 30.01,87.69 30.05,87.45 30.14,87.46 30.17,87.22 30.10,87.21 30.14,86.96 30.13,86.96 30.17,86.72 30.21,86.72 30.25,86.48 30.27,86.48 30.31,86.24 30.35,86.25 30.39,86.00 30.33,85.99 30.37,85.75 30.39,85.75 30.44,85.51 30.55,85.53 30.56,85.48L31.02,85.57A64.4,64.4 0 0 0 30.23,102.42ZM31.23,84.46L30.74,84.37 30.79,84.12 30.79,84.12 30.84,83.88 30.81,83.88 30.86,83.63 30.75,83.61 30.80,83.37 30.87,83.39 30.92,83.14 30.88,83.13 30.93,82.89 31.09,82.93 31.14,82.69 31.11,82.68 31.16,82.44 31.06,82.42 31.11,82.17 31.20,82.19 31.25,81.95 31.28,81.96 31.33,81.72 31.37,81.73 31.43,81.49 31.43,81.49 31.49,81.25 31.41,81.23 31.47,80.99 31.44,80.99 31.51,80.75 31.51,80.75 31.58,80.51 31.31,80.44 31.37,80.20 30.81,80.05 30.87,79.81 30.47,79.70 30.54,79.46 30.67,79.49 30.74,79.25 31.61,79.50 31.68,79.26 31.88,79.32 31.95,79.08 31.97,79.08 32.04,78.85 32.04,78.85 32.11,78.61 32.06,78.60 32.13,78.36 31.81,78.26 31.88,78.03 31.61,77.94 31.68,77.70 31.54,77.66 31.61,77.42 31.82,77.49 31.89,77.25 31.86,77.24 31.94,77.00 31.24,76.78 31.32,76.54 30.99,76.43 31.07,76.19 31.96,76.48 32.04,76.25 30.89,75.86 30.97,75.62 31.51,75.81 31.59,75.57 32.36,75.83 32.44,75.59 32.02,75.45 32.10,75.21 32.24,75.26 32.32,75.02 32.69,75.15 32.77,74.92 32.45,74.80 32.53,74.57 32.78,74.66 32.87,74.43 33.21,74.55 33.29,74.32 33.38,74.35 33.47,74.12 33.50,74.13 33.59,73.90 33.61,73.91 33.70,73.68 33.69,73.67 33.78,73.44 33.81,73.46 33.90,73.23 33.91,73.23 34.00,73.00 34.05,73.02 34.14,72.79 34.12,72.78 34.22,72.56 34.21,72.55 34.30,72.32 34.31,72.33 34.41,72.10 34.35,72.08 34.44,71.85 34.43,71.84 34.53,71.62 34.69,71.69 34.79,71.46 34.65,71.40 34.75,71.17 34.77,71.18 34.87,70.96 34.88,70.96 34.97,70.73 34.91,70.71 35.01,70.48 35.18,70.56 35.28,70.33 35.17,70.28 35.27,70.06 35.16,70.01 35.27,69.78 34.85,69.59 34.95,69.36 34.29,69.05 34.40,68.83 34.06,68.67 34.16,68.44 34.55,68.62 34.66,68.40 35.22,68.66 35.31,68.46L36.41,68.99A64.4,64.4 0 0 0 31.23,84.46ZM36.91,67.98L35.94,67.49 36.05,67.27 35.62,67.05 35.74,66.83 35.56,66.74 35.68,66.51 34.74,66.03 34.86,65.80 34.26,65.49 34.38,65.26 34.21,65.17 34.33,64.94 35.31,65.47 35.43,65.24 34.19,64.57 34.31,64.34 35.22,64.84 35.34,64.61 35.70,64.81 35.82,64.58 34.27,63.72 34.39,63.50 34.93,63.80 35.06,63.57 34.80,63.42 34.92,63.20 33.27,62.26 33.40,62.02 34.42,62.61 34.55,62.38 35.03,62.66 35.16,62.43 36.02,62.93 36.15,62.71 36.95,63.18 37.08,62.97 37.91,63.46 38.03,63.24 38.25,63.37 38.38,63.16 38.17,63.03 38.30,62.82 37.40,62.28 37.54,62.06 36.59,61.48 36.72,61.26 35.41,60.44 35.55,60.22 36.28,60.68 36.42,60.45 37.64,61.23 37.78,61.01 38.91,61.73 39.04,61.52 39.48,61.80 39.61,61.59 39.83,61.73 39.96,61.52 39.91,61.49 40.04,61.28 40.14,61.34 40.28,61.14 40.35,61.18 40.48,60.98 40.43,60.94 40.56,60.74 40.56,60.73 40.70,60.53 40.58,60.45 40.72,60.25 40.83,60.32 40.97,60.12 40.99,60.13 41.13,59.93 41.05,59.88 41.20,59.67 41.30,59.75 41.44,59.55 41.41,59.52 41.55,59.32 41.53,59.31 41.68,59.11 41.72,59.14 41.87,58.94 41.77,58.87 41.92,58.67 41.87,58.64 42.02,58.44 41.66,58.18 41.81,57.98 41.30,57.60 41.45,57.40 40.41,56.62 40.57,56.42 40.59,56.44 40.74,56.23 40.72,56.22 40.88,56.01 41.89,56.79 42.04,56.59 42.74,57.13 42.89,56.93 43.09,57.08 43.24,56.89 43.20,56.86 43.35,56.66 43.47,56.76 43.63,56.56 43.57,56.52 43.73,56.33 43.55,56.19 43.71,56.00 43.07,55.48 43.23,55.29 42.73,54.88 42.89,54.68 43.12,54.87 43.28,54.68 43.88,55.17 44.03,54.98 44.11,55.04 44.27,54.85 43.31,54.05 43.48,53.86 44.08,54.36 44.24,54.17 43.37,53.43 43.54,53.24 43.62,53.31 43.79,53.12 44.42,53.67 44.59,53.48 43.26,52.32 43.43,52.12 44.72,53.26 44.81,53.15L46.15,54.34A64.4,64.4 0 0 0 36.91,67.98ZM46.90,53.51L46.45,53.09 46.61,52.91 46.68,52.97 46.85,52.79 46.68,52.63 46.85,52.45 46.37,52.00 46.54,51.82 45.58,50.91 45.76,50.73 45.25,50.25 45.43,50.06 45.89,50.51 46.07,50.32 47.03,51.25 47.21,51.07 47.70,51.56 47.88,51.38 47.94,51.45 48.12,51.27 48.12,51.28 48.30,51.10 48.33,51.13 48.51,50.96 48.49,50.94 48.66,50.77 48.66,50.76 48.83,50.59 48.93,50.69 49.11,50.52 49.06,50.46 49.23,50.29 49.32,50.38 49.49,50.21 49.40,50.11 49.58,49.94 49.54,49.90 49.72,49.73 49.78,49.80 49.96,49.63 50.02,49.69 50.20,49.52 50.14,49.45 50.32,49.28 50.39,49.36 50.57,49.20 50.51,49.13 50.70,48.97 50.75,49.03 50.93,48.86 50.88,48.81 51.07,48.64 51.01,48.58 51.19,48.41 51.21,48.42 51.39,48.26 51.37,48.24 51.56,48.08 51.62,48.14 51.80,47.98 51.80,47.99 51.99,47.82 52.05,47.89 52.23,47.73 52.13,47.61 52.32,47.44 52.35,47.48 52.54,47.32 52.56,47.35 52.75,47.19 52.78,47.24 52.97,47.08 52.93,47.02 53.12,46.87 53.18,46.93 53.37,46.78 53.36,46.77 53.55,46.61 53.55,46.62 53.75,46.47 53.70,46.41 53.89,46.25 53.93,46.30 54.12,46.15 54.02,46.02 54.22,45.87 54.20,45.85 54.39,45.70 54.32,45.60 54.52,45.45 54.41,45.32 54.61,45.16 54.42,44.92 54.62,44.77 54.29,44.33 54.49,44.18 53.69,43.12 53.89,42.96 52.51,41.13 52.73,40.97 51.48,39.30 51.70,39.13 51.41,38.74 51.64,38.58 52.04,39.13 52.26,38.97 51.86,38.42 52.08,38.26 53.47,40.19 53.69,40.04 54.19,40.74 54.41,40.59 55.56,42.21 55.77,42.06 55.61,41.84 55.82,41.69 56.40,42.53 56.61,42.39 56.97,42.91 57.17,42.76 56.96,42.45 57.17,42.31 57.38,42.62 57.59,42.48 57.43,42.25 57.64,42.11 57.34,41.67 57.55,41.53 56.72,40.27 56.93,40.12 56.83,39.97 57.04,39.82 56.57,39.10 56.71,39.00L59.31,43.00A64.4,64.4 0 0 0 46.90,53.51ZM60.25,42.40L59.97,41.94 60.18,41.81 60.17,41.79 60.38,41.66 60.35,41.62 60.56,41.49 60.58,41.52 60.79,41.40 60.82,41.45 61.04,41.32 60.96,41.20 61.18,41.07 61.22,41.14 61.43,41.02 61.46,41.08 61.68,40.95 61.65,40.90 61.86,40.78 61.82,40.72 62.04,40.59 62.08,40.67 62.30,40.54 62.15,40.28 62.36,40.16 62.17,39.82 62.39,39.69 62.29,39.52 62.50,39.39 62.56,39.50 62.78,39.38 62.57,38.99 62.79,38.87 62.57,38.47 62.79,38.35 63.03,38.79 63.25,38.67 62.48,37.22 62.70,37.10 63.14,37.93 63.37,37.81 63.62,38.30 63.85,38.18 63.73,37.95 63.95,37.83 63.87,37.67 64.09,37.56 64.52,38.39 64.74,38.27 64.82,38.43 65.04,38.32 65.19,38.62 65.41,38.51 65.50,38.69 65.73,38.58 65.79,38.71 66.01,38.60 66.03,38.64 66.25,38.53 66.20,38.44 66.43,38.33 66.45,38.39 66.68,38.28 66.65,38.23 66.88,38.13 66.92,38.21 67.14,38.11 67.08,37.99 67.31,37.88 67.36,38.00 67.59,37.90 67.53,37.78 67.76,37.68 67.80,37.76 68.02,37.66 68.02,37.67 68.25,37.57 68.23,37.54 68.46,37.44 68.47,37.45 68.69,37.35 68.69,37.34 68.92,37.25 68.91,37.24 69.14,37.15 69.11,37.07 69.34,36.97 69.35,37.02 69.58,36.92 69.64,37.05 69.86,36.96 69.79,36.78 70.02,36.68 70.10,36.88 70.33,36.79 70.32,36.78 70.55,36.69 70.49,36.54 70.72,36.44 70.76,36.56 70.99,36.47 71.01,36.52 71.24,36.43 71.23,36.39 71.46,36.30 71.42,36.19 71.65,36.10 71.53,35.79 71.76,35.70 71.62,35.30 71.85,35.22 71.49,34.23 71.73,34.15 71.63,33.88 71.87,33.80 71.96,34.03 72.00,34.02L72.82,36.32A64.4,64.4 0 0 0 60.25,42.40ZM73.88,35.96L73.48,34.76 73.72,34.68 73.51,34.07 73.75,33.99 73.41,32.93 73.65,32.85 73.86,33.51 74.11,33.43 74.45,34.53 74.69,34.45 74.82,34.85 75.05,34.77 75.11,34.97 75.35,34.90 75.34,34.85 75.57,34.78 75.61,34.91 75.85,34.84 75.82,34.74 76.05,34.67 76.08,34.77 76.32,34.70 76.31,34.68 76.55,34.61 76.56,34.63 76.79,34.57 76.80,34.59 77.04,34.52 76.99,34.34 77.22,34.27 77.22,34.26 77.46,34.19 77.49,34.32 77.73,34.26 77.75,34.33 77.99,34.27 77.95,34.11 78.19,34.05 78.19,34.07 78.43,34.01 78.46,34.12 78.70,34.06 78.64,33.84 78.88,33.78 78.87,33.74 79.11,33.68 79.04,33.36 79.28,33.30 79.26,33.24 79.51,33.18 79.47,33.02 79.71,32.96 79.67,32.78 79.91,32.72 79.87,32.52 80.11,32.47 80.01,32.03 80.26,31.97 80.22,31.77 80.46,31.71 80.46,31.70 80.71,31.65 80.73,31.73 80.98,31.68 81.03,31.95 81.28,31.90 81.26,31.81 81.51,31.76 81.64,32.42 81.88,32.37 81.92,32.56 82.16,32.51 82.19,32.65 82.43,32.60 82.49,32.87 82.73,32.83 82.74,32.90 82.98,32.86 83.01,32.99 83.25,32.94 83.27,33.03 83.51,32.99 83.49,32.90 83.74,32.85 83.75,32.92 83.99,32.88 83.98,32.81 84.22,32.77 84.22,32.74 84.46,32.71 84.47,32.74 84.71,32.70 84.71,32.70 84.96,32.66 84.95,32.60 85.19,32.57 85.14,32.21 85.39,32.17 85.30,31.55 85.55,31.51 85.37,30.20 85.62,30.16 85.60,29.94 85.85,29.91 85.87,30.03 86.12,29.99 86.27,31.22 86.40,31.20L86.63,33.07A64.4,64.4 0 0 0 73.88,35.96ZM87.75,32.94L87.70,32.47 87.94,32.44 87.93,32.32 88.17,32.30 88.19,32.42 88.43,32.40 88.43,32.35 88.67,32.33 88.67,32.33 88.92,32.31 88.92,32.32 89.17,32.30 89.16,32.29 89.41,32.27 89.41,32.32 89.66,32.30 89.66,32.25 89.90,32.23 89.91,32.30 90.15,32.28 90.14,32.12 90.39,32.11 90.39,32.21 90.64,32.19 90.64,32.11 90.88,32.10 90.89,32.16 91.13,32.15 91.13,32.03 91.37,32.02 91.37,32.02 91.62,32.01 91.62,31.99 91.87,31.98 91.86,31.84 92.11,31.83 92.10,31.62 92.35,31.61 92.35,31.51 92.59,31.50 92.59,31.35 92.84,31.35 92.84,31.32 93.09,31.31 93.09,31.42 93.34,31.41 93.32,30.52 93.58,30.52 93.57,30.04 93.83,30.04 93.83,30.89 94.08,30.89 94.09,31.12 94.34,31.12 94.33,29.91 94.59,29.91 94.59,30.60 94.84,30.60 94.84,30.06 95.10,30.06 95.09,30.35 95.35,30.35 95.34,31.17 95.59,31.17 95.58,31.28 95.83,31.28 95.82,31.77 96.07,31.77 96.07,31.83 96.32,31.84 96.31,32.07 96.56,32.08 96.56,32.06 96.80,32.06 96.80,32.11 97.05,32.12 97.05,32.00 97.30,32.01 97.29,32.13 97.54,32.14 97.54,32.18 97.79,32.19 97.79,32.18 98.03,32.19 98.04,32.05 98.29,32.06 98.28,32.15 98.53,32.17 98.54,32.04 98.78,32.06 98.82,31.47 99.07,31.49 99.13,30.65 99.38,30.67 99.41,30.37 99.66,30.39 99.61,30.99 99.86,31.01 99.81,31.62 100.06,31.64 100.03,32.03 100.27,32.05L100.20,32.86A64.4,64.4 0 0 0 87.75,32.94ZM101.32,32.97L101.45,31.73 101.70,31.76 101.81,30.79 102.06,30.82 102.24,29.26 102.50,29.29 102.57,28.67 102.83,28.70 102.67,29.96 102.93,29.99 102.83,30.76 103.08,30.80 102.94,31.87 103.19,31.90 103.12,32.43 103.36,32.47 103.33,32.70 103.57,32.74 103.59,32.60 103.84,32.63 103.81,32.81 104.06,32.84 104.07,32.77 104.31,32.81 104.31,32.82 104.55,32.86 104.54,32.92 104.79,32.96 104.79,32.94 105.03,32.98 105.03,32.99 105.27,33.03 105.28,33.01 105.52,33.05 105.54,32.91 105.79,32.95 105.89,32.38 106.13,32.43 106.24,31.85 106.49,31.90 106.52,31.71 106.77,31.75 106.73,31.94 106.98,31.98 106.86,32.62 107.10,32.67 107.02,33.10 107.26,33.15 107.25,33.20 107.49,33.25 107.47,33.34 107.71,33.39 107.71,33.43 107.95,33.49 107.96,33.43 108.20,33.48 108.20,33.48 108.44,33.53 108.42,33.62 108.66,33.67 108.67,33.63 108.91,33.69 108.98,33.37 109.23,33.43 109.27,33.23 109.51,33.29 109.52,33.27 109.76,33.33 109.91,32.70 110.16,32.76 110.13,32.85 110.38,32.91 110.48,32.49 110.73,32.56 110.86,32.01 111.11,32.07 111.55,30.36 111.81,30.42 111.38,32.04 111.63,32.10 111.70,31.85 111.95,31.91 112.30,30.58 112.56,30.65 112.66,30.26 112.92,30.33 112.60,31.48 112.85,31.55 112.96,31.15 113.21,31.22 112.97,32.06 113.01,32.07L112.14,35.09A64.4,64.4 0 0 0 101.32,32.97ZM113.22,35.41L113.43,34.72 113.67,34.80 113.73,34.61 113.96,34.69 114.21,33.90 114.45,33.97 114.82,32.83 115.06,32.90 115.14,32.65 115.39,32.73 116.09,30.56 116.34,30.65 117.13,28.26 117.39,28.35 117.39,28.35 117.65,28.44 117.65,28.44 117.91,28.52 117.46,29.86 117.71,29.95 118.14,28.71 118.40,28.80 117.52,31.29 117.77,31.38 117.51,32.12 117.75,32.21 118.03,31.44 118.28,31.53 117.27,34.29 117.51,34.38 117.61,34.11 117.85,34.20 117.50,35.14 117.73,35.23 117.59,35.61 117.82,35.70 117.63,36.19 117.86,36.28 117.81,36.41 118.04,36.50 118.16,36.21 118.39,36.30 118.62,35.71 118.85,35.81 119.10,35.18 119.34,35.28 119.19,35.64 119.42,35.74 119.55,35.43 119.78,35.53 120.02,34.95 120.25,35.05 120.31,34.91 120.55,35.01 120.44,35.27 120.67,35.37 120.50,35.78 120.73,35.88 120.41,36.63 120.64,36.73 120.50,37.04 120.73,37.14 120.57,37.49 120.80,37.59 120.75,37.70 120.97,37.80 120.96,37.83 121.19,37.93 121.22,37.85 121.45,37.95 121.52,37.79 121.74,37.90 122.16,37.01 122.38,37.11 123.41,34.91 123.65,35.02 124.40,33.42 124.65,33.53 123.89,35.12 124.12,35.23 123.04,37.48 123.27,37.59 122.91,38.32 123.05,38.39L122.68,39.14A64.4,64.4 0 0 0 113.22,35.41ZM123.69,39.65L124.67,37.72 124.90,37.84 125.44,36.77 125.67,36.89 126.35,35.59 126.58,35.71 125.90,37.01 126.13,37.13 126.46,36.51 126.69,36.63 127.18,35.72 127.41,35.85 126.68,37.19 126.91,37.31 127.85,35.58 128.08,35.71 128.00,35.86 128.23,35.99 127.69,36.97 127.92,37.10 127.27,38.26 127.49,38.38 127.11,39.06 127.33,39.19 126.97,39.82 127.19,39.94 126.86,40.51 127.07,40.63 127.06,40.66 127.27,40.78 127.30,40.73 127.51,40.86 127.56,40.79 127.77,40.92 127.92,40.66 128.13,40.79 128.06,40.91 128.27,41.04 128.31,40.99 128.52,41.12 128.91,40.47 129.13,40.60 129.26,40.38 129.48,40.51 129.16,41.03 129.37,41.16 129.44,41.04 129.65,41.18 129.85,40.87 130.07,41.00 130.20,40.78 130.42,40.92 130.43,40.91 130.64,41.04 130.45,41.33 130.67,41.47 130.57,41.61 130.78,41.75 131.17,41.16 131.38,41.30 131.61,40.95 131.83,41.09 131.51,41.56 131.72,41.70 132.12,41.11 132.33,41.26 132.47,41.05 132.68,41.20 133.38,40.18 133.59,40.33 132.85,41.40 133.07,41.55 132.33,42.60 132.54,42.74 132.34,43.02 132.54,43.17 132.95,42.59 133.16,42.74 133.39,42.41 133.60,42.56 133.48,42.73 133.52,42.76L132.07,44.77A64.4,64.4 0 0 0 123.69,39.65ZM132.97,45.43L133.33,44.95 133.53,45.10 133.53,45.10 133.73,45.25 133.68,45.31 133.87,45.46 133.96,45.35 134.15,45.50 134.15,45.51 134.35,45.66 134.30,45.71 134.50,45.87 134.44,45.94 134.64,46.09 134.61,46.12 134.80,46.27 134.87,46.19 135.06,46.34 135.06,46.35 135.25,46.51 135.30,46.44 135.49,46.60 135.51,46.58 135.70,46.73 135.68,46.76 135.87,46.92 135.79,47.02 135.98,47.17 136.08,47.05 136.27,47.21 136.22,47.27 136.41,47.43 136.32,47.53 136.51,47.69 136.54,47.65 136.73,47.81 136.92,47.59 137.11,47.75 137.23,47.61 137.41,47.78 137.46,47.72 137.65,47.88 138.05,47.42 138.24,47.59 137.98,47.89 138.17,48.05 139.59,46.46 139.78,46.64 139.69,46.74 139.88,46.91 139.54,47.28 139.73,47.45 139.08,48.17 139.26,48.34 139.43,48.16 139.61,48.33 139.99,47.92 140.17,48.10 139.52,48.80 139.57,48.85L138.46,50.03A64.4,64.4 0 0 0 132.97,45.43ZM139.28,50.81L139.67,50.41 139.85,50.58 139.87,50.56 140.04,50.73 139.97,50.81 140.14,50.98 140.11,51.01 140.29,51.18 140.42,51.05 140.60,51.22 140.58,51.24 140.75,51.42 140.77,51.40 140.94,51.58 140.95,51.57 141.12,51.75 141.38,51.49 141.56,51.67 141.71,51.52 141.88,51.70 141.82,51.76 141.99,51.94 142.03,51.91 142.20,52.09 142.16,52.13 142.33,52.31 142.70,51.97 142.87,52.15 142.82,52.20 142.99,52.38 142.74,52.61 142.91,52.79 142.80,52.89 142.97,53.07 142.69,53.32 142.86,53.51 142.82,53.54 142.99,53.72 142.87,53.83 143.03,54.01 143.06,53.99 143.23,54.17 143.27,54.13 143.43,54.32 143.47,54.29 143.63,54.47 143.62,54.48 143.78,54.67 143.77,54.68 143.93,54.87 143.95,54.85 144.11,55.04 144.07,55.07 144.23,55.26 144.23,55.26 144.39,55.45 144.28,55.54 144.44,55.73 144.49,55.69 144.65,55.88 144.66,55.87 144.82,56.06 144.75,56.11 144.91,56.30 145.04,56.19 145.08,56.23L144.58,56.63A64.4,64.4 0 0 0 139.28,50.81ZM145.28,57.52L145.77,57.13 145.92,57.33 145.82,57.40 145.97,57.60 145.99,57.59 146.14,57.78 146.24,57.70 146.39,57.90 146.39,57.90 146.54,58.10 146.48,58.14 146.63,58.34 146.63,58.34 146.77,58.54 146.72,58.58 146.87,58.78 146.82,58.81 146.97,59.01 147.02,58.97 147.16,59.17 147.17,59.17 147.31,59.37 147.48,59.25 147.62,59.45 147.87,59.28 148.01,59.48 148.61,59.06 148.75,59.27 149.05,59.07 149.19,59.27 149.11,59.33 149.25,59.54 149.50,59.36 149.65,59.57 149.13,59.92 149.27,60.13 149.26,60.14 149.40,60.35 150.40,59.68 150.54,59.90 149.92,60.31 150.05,60.52 150.08,60.50 150.22,60.71 149.67,61.07 149.81,61.28 149.67,61.37 149.72,61.44L148.57,62.18A64.4,64.4 0 0 0 145.28,57.52ZM149.17,63.13L152.80,60.88 152.94,61.11 153.45,60.79 153.58,61.02 152.06,61.95 152.19,62.17 151.56,62.54 151.69,62.76 151.53,62.86 151.66,63.08 152.04,62.85 152.17,63.07 152.09,63.11 152.22,63.33 152.54,63.15 152.67,63.37 152.32,63.57 152.45,63.79 151.79,64.17 151.92,64.38 152.00,64.34 152.12,64.56 152.02,64.61 152.14,64.83 151.71,65.08 151.83,65.29 151.65,65.39 151.77,65.61 151.72,65.64 151.83,65.86 151.69,65.93 151.81,66.15 151.83,66.14 151.95,66.36 152.50,66.07 152.62,66.29 153.65,65.74 153.77,65.96 154.08,65.80 154.20,66.03 154.87,65.68 154.99,65.91 154.55,66.14 154.66,66.37 154.12,66.64 154.24,66.87 152.95,67.52 153.06,67.74 152.70,67.92 152.81,68.14 152.65,68.22 152.70,68.31L152.18,68.56A64.4,64.4 0 0 0 149.17,63.13ZM152.67,69.58L153.24,69.31 153.34,69.53 153.34,69.53 153.45,69.76 153.32,69.81 153.43,70.04 153.53,69.99 153.63,70.22 153.55,70.25 153.65,70.48 153.73,70.44 153.84,70.66 153.81,70.67 153.91,70.90 153.79,70.95 153.89,71.18 153.97,71.14 154.07,71.37 154.06,71.37 154.16,71.60 154.17,71.60 154.26,71.82 154.28,71.82 154.38,72.04 154.40,72.03 154.50,72.26 154.44,72.28 154.53,72.51 154.56,72.50 154.65,72.73 154.71,72.71 154.80,72.94 154.77,72.95 154.87,73.18 154.77,73.22 154.86,73.45 154.84,73.45 154.93,73.68 154.96,73.67 155.05,73.90 155.19,73.85 155.28,74.08 155.16,74.12 155.25,74.35 155.35,74.31 155.43,74.55 155.45,74.54 155.54,74.77 155.48,74.79 155.57,75.02 155.50,75.05 155.58,75.28 155.66,75.25 155.74,75.48 155.69,75.50 155.77,75.74 155.86,75.70 155.94,75.94 155.85,75.97 155.93,76.20 155.96,76.19 156.04,76.43 156.05,76.42 156.12,76.66 156.11,76.66 156.19,76.90 156.10,76.93 156.17,77.16 156.25,77.13 156.33,77.37 156.30,77.38 156.37,77.61 156.43,77.60 156.50,77.83 156.52,77.83 156.59,78.06 156.47,78.10 156.54,78.34 156.58,78.32 156.65,78.56 156.86,78.50 156.93,78.74 157.12,78.68 157.19,78.92 157.76,78.76 157.83,79.00 158.11,78.92 158.18,79.16 159.14,78.89 159.21,79.13 159.69,79.00 159.75,79.25 159.79,79.24 159.86,79.49 160.49,79.32 160.56,79.57 159.08,79.96 159.14,80.21 158.68,80.33 158.74,80.57 158.64,80.60 158.71,80.84 158.04,81.01 158.10,81.25 157.63,81.37 157.69,81.61 157.55,81.64 157.61,81.88 157.67,81.86 157.73,82.11 157.63,82.13 157.69,82.37 157.61,82.39 157.66,82.63 157.67,82.63 157.72,82.87 157.83,82.84 157.88,83.08 157.85,83.09 157.90,83.33 157.88,83.34 157.93,83.58 157.95,83.57 158.00,83.82 157.98,83.82 158.03,84.06 158.09,84.05 158.13,84.29 158.12,84.29 158.16,84.54 158.05,84.56 158.09,84.80 158.19,84.78 158.24,85.03 158.18,85.04 158.23,85.28 158.30,85.26 158.34,85.51 158.32,85.51 158.36,85.75 158.43,85.74 158.47,85.99 158.51,85.98 158.55,86.22 158.50,86.23 158.55,86.47 158.52,86.48 158.56,86.72 158.53,86.73 158.57,86.97 158.49,86.98 158.52,87.23 158.66,87.21 158.70,87.45 158.58,87.47 158.61,87.71 158.65,87.71 158.66,87.71L158.14,87.79A64.4,64.4 0 0 0 152.67,69.58ZM158.29,88.90L158.79,88.84 158.82,89.08 158.86,89.07 158.89,89.32 158.93,89.31 158.96,89.56 159.17,89.54 159.20,89.78 159.08,89.79 159.11,90.04 159.41,90.01 159.44,90.26 159.75,90.22 159.78,90.47 159.92,90.46 159.94,90.71 160.27,90.67 160.30,90.92 160.08,90.94 160.10,91.19 160.06,91.20 160.08,91.45 160.82,91.38 160.84,91.64 159.88,91.71 159.90,91.96 159.93,91.96 159.95,92.21 160.07,92.20 160.09,92.45 159.73,92.47 159.75,92.72 159.61,92.73 159.62,92.98 159.54,92.98 159.56,93.23 159.37,93.24 159.39,93.49 159.27,93.50 159.28,93.74 159.37,93.74 159.38,93.98 159.27,93.99 159.28,94.24 159.37,94.23 159.38,94.48 159.20,94.49 159.21,94.73 159.25,94.73 159.26,94.98 159.43,94.97 159.43,95.22 159.30,95.22 159.30,95.47 159.23,95.47 159.24,95.72 159.28,95.72 159.29,95.87L158.79,95.88A64.4,64.4 0 0 0 158.29,88.90Z" fill="#1f5b8e" stroke="#1f5b8e" stroke-width="0.15"/>
<path d="M158.80,97.00A64.4,64.4 0 0 1 151.74,126.32M151.22,127.32A64.4,64.4 0 0 1 131.86,149.39M130.94,150.03A64.4,64.4 0 0 1 108.87,159.75M107.78,160.00A64.4,64.4 0 0 1 84.65,160.66M83.54,160.48A64.4,64.4 0 0 1 62.73,153.07M61.76,152.51A64.4,64.4 0 0 1 45.77,139.22M45.04,138.36A64.4,64.4 0 0 1 34.95,121.77M34.53,120.73A64.4,64.4 0 0 1 30.33,103.54M30.23,102.42A64.4,64.4 0 0 1 31.02,85.57M31.23,84.46A64.4,64.4 0 0 1 36.41,68.99M36.91,67.98A64.4,64.4 0 0 1 46.15,54.34M46.90,53.51A64.4,64.4 0 0 1 59.31,43.00M60.25,42.40A64.4,64.4 0 0 1 72.82,36.32M73.88,35.96A64.4,64.4 0 0 1 86.63,33.07M87.75,32.94A64.4,64.4 0 0 1 100.20,32.86M101.32,32.97A64.4,64.4 0 0 1 112.14,35.09M113.22,35.41A64.4,64.4 0 0 1 122.68,39.14M123.69,39.65A64.4,64.4 0 0 1 132.07,44.77M132.97,45.43A64.4,64.4 0 0 1 138.46,50.03M139.28,50.81A64.4,64.4 0 0 1 144.58,56.63M145.28,57.52A64.4,64.4 0 0 1 148.57,62.18M149.17,63.13A64.4,64.4 0 0 1 152.18,68.56M152.67,69.58A64.4,64.4 0 0 1 158.14,87.79M158.29,88.90A64.4,64.4 0 0 1 158.79,95.88" stroke="#6aa6d6" stroke-width="0.5" fill="none"/>
<path d="M155.00,97.00A60.6,60.6 0 0 1 148.35,124.59L140.25,120.45A51.5,51.5 0 0 0 145.90,97.00ZM147.86,125.53A60.6,60.6 0 0 1 129.65,146.30L124.35,138.89A51.5,51.5 0 0 0 139.84,121.25ZM128.78,146.90A60.6,60.6 0 0 1 108.02,156.05L105.98,147.18A51.5,51.5 0 0 0 123.62,139.41ZM106.99,156.28A60.6,60.6 0 0 1 85.23,156.90L86.61,147.91A51.5,51.5 0 0 0 105.10,147.38ZM84.18,156.73A60.6,60.6 0 0 1 64.60,149.77L69.07,141.84A51.5,51.5 0 0 0 85.72,147.76ZM63.68,149.24A60.6,60.6 0 0 1 48.64,136.72L55.51,130.76A51.5,51.5 0 0 0 68.30,141.39ZM47.95,135.92A60.6,60.6 0 0 1 38.46,120.31L46.86,116.81A51.5,51.5 0 0 0 54.93,130.08ZM38.06,119.33A60.6,60.6 0 0 1 34.11,103.16L43.17,102.23A51.5,51.5 0 0 0 46.52,115.98ZM34.02,102.10A60.6,60.6 0 0 1 34.76,86.24L43.72,87.86A51.5,51.5 0 0 0 43.08,101.34ZM34.96,85.20A60.6,60.6 0 0 1 39.83,70.64L48.03,74.60A51.5,51.5 0 0 0 43.89,86.97ZM40.30,69.69A60.6,60.6 0 0 1 49.00,56.86L55.82,62.89A51.5,51.5 0 0 0 48.42,73.79ZM49.71,56.07A60.6,60.6 0 0 1 61.38,46.19L66.34,53.82A51.5,51.5 0 0 0 56.42,62.22ZM62.27,45.62A60.6,60.6 0 0 1 74.09,39.90L77.14,48.48A51.5,51.5 0 0 0 67.09,53.33ZM75.09,39.56A60.6,60.6 0 0 1 87.09,36.84L88.19,45.88A51.5,51.5 0 0 0 77.99,48.18ZM88.14,36.72A60.6,60.6 0 0 1 99.86,36.65L99.04,45.71A51.5,51.5 0 0 0 89.08,45.78ZM100.91,36.75A60.6,60.6 0 0 1 111.10,38.75L108.59,47.49A51.5,51.5 0 0 0 99.93,45.80ZM112.11,39.05A60.6,60.6 0 0 1 121.02,42.56L117.02,50.73A51.5,51.5 0 0 0 109.45,47.75ZM121.96,43.03A60.6,60.6 0 0 1 129.85,47.85L124.52,55.23A51.5,51.5 0 0 0 117.82,51.13ZM130.70,48.47A60.6,60.6 0 0 1 135.86,52.81L129.64,59.44A51.5,51.5 0 0 0 125.25,55.76ZM136.63,53.54A60.6,60.6 0 0 1 141.62,59.02L134.53,64.72A51.5,51.5 0 0 0 130.29,60.06ZM142.27,59.85A60.6,60.6 0 0 1 145.38,64.23L137.72,69.15A51.5,51.5 0 0 0 135.08,65.42ZM145.94,65.13A60.6,60.6 0 0 1 148.77,70.24L140.61,74.26A51.5,51.5 0 0 0 138.20,69.91ZM149.23,71.19A60.6,60.6 0 0 1 154.38,88.33L145.37,89.63A51.5,51.5 0 0 0 141.00,75.07ZM154.52,89.38A60.6,60.6 0 0 1 154.99,95.94L145.89,96.10A51.5,51.5 0 0 0 145.49,90.52Z" fill="none" stroke="#bdbdbd" stroke-width="0.5"/>
<path d="M152.93,104.59h0.01M147.55,122.30h0.01M135.49,134.72h0.01M132.70,139.50h0.01M138.58,128.52h0.01M113.58,152.58h0.01M95.97,154.87h0.01M86.67,151.12h0.01M77.05,152.16h0.01M67.97,147.06h0.01M56.83,139.54h0.01M58.18,144.00h0.01M47.12,128.62h0.01M51.22,131.66h0.01M38.01,113.14h0.01M35.98,100.40h0.01M43.65,75.87h0.01M42.36,73.64h0.01M48.85,66.55h0.01M60.42,54.06h0.01M74.94,43.14h0.01M66.32,47.55h0.01M130.16,54.42h0.01M137.55,58.58h0.01M140.32,66.42h0.01M144.08,67.14h0.01M149.09,74.46h0.01" stroke="#e07a6a" stroke-width="0.75" stroke-linecap="round" fill="none"/>
<path d="M147.04,112.27h0.01M145.51,120.10h0.01M129.70,138.73h0.01M129.72,141.09h0.01M116.03,148.42h0.01M87.19,153.14h0.01M75.25,148.91h0.01M59.98,139.55h0.01M48.14,126.16h0.01M42.47,116.13h0.01M37.31,101.21h0.01M37.06,83.99h0.01M47.74,68.38h0.01M59.45,54.71h0.01M147.93,84.63h0.01" stroke="#b8a8b8" stroke-width="0.7" stroke-linecap="round" fill="none"/>
<path d="M135.40,97.00A41.0,41.0 0 0 1 130.90,115.67L129.30,114.85A39.2,39.2 0 0 0 133.60,97.00ZM130.57,116.30A41.0,41.0 0 0 1 118.25,130.35L117.20,128.89A39.2,39.2 0 0 0 128.98,115.46ZM117.66,130.76A41.0,41.0 0 0 1 103.62,136.95L103.21,135.20A39.2,39.2 0 0 0 116.64,129.28ZM102.92,137.11A41.0,41.0 0 0 1 88.19,137.53L88.47,135.75A39.2,39.2 0 0 0 102.54,135.34ZM87.49,137.41A41.0,41.0 0 0 1 74.24,132.70L75.12,131.13A39.2,39.2 0 0 0 87.79,135.64ZM73.62,132.34A41.0,41.0 0 0 1 63.44,123.88L64.80,122.70A39.2,39.2 0 0 0 74.53,130.79ZM62.97,123.33A41.0,41.0 0 0 1 56.55,112.77L58.22,112.08A39.2,39.2 0 0 0 64.35,122.18ZM56.29,112.11A41.0,41.0 0 0 1 53.61,101.17L55.40,100.98A39.2,39.2 0 0 0 57.96,111.44ZM53.55,100.45A41.0,41.0 0 0 1 54.05,89.72L55.82,90.04A39.2,39.2 0 0 0 55.34,100.30ZM54.18,89.02A41.0,41.0 0 0 1 57.48,79.17L59.10,79.95A39.2,39.2 0 0 0 55.95,89.37ZM57.80,78.53A41.0,41.0 0 0 1 63.68,69.84L65.03,71.04A39.2,39.2 0 0 0 59.41,79.34ZM64.16,69.31A41.0,41.0 0 0 1 72.06,62.62L73.04,64.13A39.2,39.2 0 0 0 65.49,70.53ZM72.66,62.24A41.0,41.0 0 0 1 80.66,58.37L81.27,60.07A39.2,39.2 0 0 0 73.62,63.76ZM81.34,58.14A41.0,41.0 0 0 1 89.45,56.30L89.67,58.09A39.2,39.2 0 0 0 81.91,59.84ZM90.16,56.22A41.0,41.0 0 0 1 98.09,56.17L97.93,57.96A39.2,39.2 0 0 0 90.35,58.01ZM98.80,56.24A41.0,41.0 0 0 1 105.70,57.59L105.20,59.32A39.2,39.2 0 0 0 98.61,58.03ZM106.38,57.79A41.0,41.0 0 0 1 112.41,60.17L111.62,61.78A39.2,39.2 0 0 0 105.86,59.51ZM113.05,60.49A41.0,41.0 0 0 1 118.38,63.75L117.33,65.20A39.2,39.2 0 0 0 112.23,62.09ZM118.96,64.17A41.0,41.0 0 0 1 122.45,67.10L121.22,68.41A39.2,39.2 0 0 0 117.88,65.61ZM122.97,67.59A41.0,41.0 0 0 1 126.35,71.30L124.94,72.43A39.2,39.2 0 0 0 121.72,68.88ZM126.79,71.86A41.0,41.0 0 0 1 128.89,74.83L127.38,75.80A39.2,39.2 0 0 0 125.37,72.97ZM129.27,75.44A41.0,41.0 0 0 1 131.19,78.90L129.57,79.69A39.2,39.2 0 0 0 127.74,76.38ZM131.50,79.54A41.0,41.0 0 0 1 134.98,91.13L133.20,91.39A39.2,39.2 0 0 0 129.87,80.31ZM135.07,91.84A41.0,41.0 0 0 1 135.39,96.28L133.59,96.32A39.2,39.2 0 0 0 133.29,92.07Z" fill="#d6eed6"/>
<path d="M144.00,97.00A49.6,49.6 0 0 1 138.56,119.58L128.77,114.58A38.6,38.6 0 0 0 133.00,97.00ZM138.16,120.35A49.6,49.6 0 0 1 123.25,137.35L116.85,128.40A38.6,38.6 0 0 0 128.45,115.17ZM122.54,137.85A49.6,49.6 0 0 1 105.55,145.33L103.08,134.61A38.6,38.6 0 0 0 116.30,128.79ZM104.70,145.52A49.6,49.6 0 0 1 86.89,146.03L88.56,135.16A38.6,38.6 0 0 0 102.42,134.76ZM86.04,145.89A49.6,49.6 0 0 1 70.01,140.19L75.42,130.61A38.6,38.6 0 0 0 87.89,135.05ZM69.26,139.76A49.6,49.6 0 0 1 56.94,129.51L65.25,122.30A38.6,38.6 0 0 0 74.83,130.27ZM56.38,128.86A49.6,49.6 0 0 1 48.62,116.08L58.77,111.85A38.6,38.6 0 0 0 64.81,121.79ZM48.29,115.28A49.6,49.6 0 0 1 45.06,102.04L56.00,100.92A38.6,38.6 0 0 0 58.52,111.22ZM44.98,101.18A49.6,49.6 0 0 1 45.59,88.19L56.41,90.15A38.6,38.6 0 0 0 55.94,100.25ZM45.75,87.34A49.6,49.6 0 0 1 49.74,75.43L59.64,80.21A38.6,38.6 0 0 0 56.54,89.49ZM50.12,74.65A49.6,49.6 0 0 1 57.24,64.15L65.48,71.43A38.6,38.6 0 0 0 59.94,79.61ZM57.82,63.50A49.6,49.6 0 0 1 67.37,55.41L73.37,64.63A38.6,38.6 0 0 0 65.93,70.93ZM68.10,54.95A49.6,49.6 0 0 1 77.78,50.27L81.47,60.63A38.6,38.6 0 0 0 73.93,64.27ZM78.60,49.98A49.6,49.6 0 0 1 88.41,47.76L89.74,58.68A38.6,38.6 0 0 0 82.10,60.41ZM89.27,47.67A49.6,49.6 0 0 1 98.87,47.60L97.88,58.56A38.6,38.6 0 0 0 90.41,58.61ZM99.73,47.69A49.6,49.6 0 0 1 108.07,49.32L105.04,59.89A38.6,38.6 0 0 0 98.55,58.62ZM108.90,49.57A49.6,49.6 0 0 1 116.18,52.44L111.35,62.32A38.6,38.6 0 0 0 105.68,60.09ZM116.96,52.83A49.6,49.6 0 0 1 123.41,56.77L116.98,65.69A38.6,38.6 0 0 0 111.96,62.62ZM124.11,57.28A49.6,49.6 0 0 1 128.34,60.83L120.81,68.85A38.6,38.6 0 0 0 117.52,66.09ZM128.96,61.43A49.6,49.6 0 0 1 133.05,65.91L124.48,72.81A38.6,38.6 0 0 0 121.30,69.32ZM133.58,66.59A49.6,49.6 0 0 1 136.12,70.18L126.87,76.13A38.6,38.6 0 0 0 124.89,73.33ZM136.59,70.91A49.6,49.6 0 0 1 138.90,75.10L129.03,79.96A38.6,38.6 0 0 0 127.23,76.70ZM139.28,75.88A49.6,49.6 0 0 1 143.49,89.90L132.60,91.48A38.6,38.6 0 0 0 129.33,80.56ZM143.61,90.76A49.6,49.6 0 0 1 143.99,96.13L132.99,96.33A38.6,38.6 0 0 0 132.69,92.14Z" fill="none" stroke="#bdbdbd" stroke-width="0.5"/>
<path d="M135.40,97.00L135.81,97.00 135.81,97.16 135.69,97.16 135.68,97.31 135.69,97.31 135.69,97.47 135.80,97.47 135.80,97.63 135.78,97.63 135.77,97.79 135.73,97.78 135.73,97.94 135.84,97.94 135.84,98.10 135.97,98.11 135.96,98.26 136.41,98.28 136.40,98.44 137.17,98.46 137.16,98.62 137.96,98.66 137.96,98.82 138.11,98.83 138.10,98.99 137.82,98.98 137.82,99.15 137.06,99.11 137.05,99.27 136.47,99.24 136.46,99.40 135.95,99.37 135.94,99.53 135.88,99.52 135.88,99.68 136.03,99.69 136.02,99.85 136.74,99.90 136.73,100.06 137.73,100.13 137.72,100.30 138.77,100.38 138.76,100.55 138.08,100.49 138.06,100.66 136.77,100.55 136.76,100.71 135.95,100.64 135.94,100.80 135.66,100.77 135.64,100.93 135.62,100.93 135.60,101.08 135.59,101.08 135.57,101.24 135.65,101.24 135.63,101.40 135.93,101.43 135.91,101.59 136.40,101.64 136.38,101.80 137.23,101.90 137.22,102.06 137.49,102.10 137.47,102.26 137.32,102.24 137.30,102.40 136.36,102.29 136.34,102.45 135.82,102.38 135.80,102.54 135.57,102.51 135.55,102.66 135.43,102.64 135.40,102.80 135.29,102.78 135.27,102.94 135.30,102.94 135.27,103.10 135.36,103.11 135.33,103.27 135.22,103.25 135.20,103.40 135.30,103.42 135.28,103.58 135.27,103.57 135.24,103.73 135.15,103.71 135.13,103.87 135.13,103.87 135.11,104.03 135.18,104.04 135.15,104.19 135.14,104.19 135.11,104.35 135.03,104.33 135.00,104.48 135.07,104.50 135.04,104.65 134.99,104.64 134.96,104.80 135.06,104.81 135.03,104.97 134.98,104.96 134.95,105.11 134.88,105.10 134.85,105.25 134.90,105.26 134.87,105.42 134.82,105.41 134.78,105.56 134.91,105.59 134.87,105.74 134.87,105.74 134.84,105.89 134.81,105.89 134.78,106.04 134.68,106.02 134.65,106.17 134.78,106.20 134.74,106.35 134.65,106.33 134.61,106.49 134.67,106.50 134.63,106.65 134.64,106.66 134.61,106.81 134.58,106.80 134.54,106.95 134.48,106.94 134.44,107.09 134.46,107.10 134.42,107.25 134.49,107.26 134.45,107.42 134.37,107.40 134.33,107.55 134.36,107.56 134.32,107.71 134.40,107.73 134.36,107.88 134.29,107.86 134.24,108.01 134.21,108.00 134.17,108.15 134.24,108.17 134.19,108.32 134.17,108.32 134.12,108.47 134.30,108.52 134.26,108.67 134.79,108.83 134.75,108.98 135.66,109.25 135.61,109.41 135.97,109.52 135.93,109.67 135.47,109.54 135.43,109.69 134.64,109.45 134.59,109.60 134.15,109.46 134.10,109.61 134.04,109.59 133.99,109.74 134.37,109.87 134.33,110.02 134.16,109.96 134.11,110.11 134.62,110.29 134.57,110.44 135.81,110.85 135.76,111.01 136.87,111.39 136.82,111.55 138.23,112.03 138.17,112.20 137.30,111.90 137.24,112.06 135.67,111.51 135.62,111.66 135.00,111.44 134.94,111.60 134.50,111.44 134.44,111.59 134.09,111.46 134.03,111.61 134.46,111.77 134.41,111.92 133.58,111.61 133.53,111.76 134.09,111.97 134.03,112.12 133.87,112.07 133.82,112.21 134.10,112.33 134.05,112.48 134.90,112.81 134.84,112.96 136.41,113.58 136.35,113.74 137.05,114.02 136.99,114.19 136.23,113.88 136.17,114.04 134.79,113.48 134.73,113.63 133.93,113.30 133.86,113.45 134.02,113.52 133.95,113.67 134.06,113.71 133.99,113.86 133.78,113.77 133.72,113.92 133.07,113.64 133.01,113.79 132.66,113.63 132.59,113.78 132.34,113.67 132.27,113.81 132.16,113.76 132.10,113.91 132.13,113.92 132.06,114.06 132.05,114.06 131.99,114.20 132.06,114.23 131.99,114.37 131.95,114.36 131.89,114.50 132.28,114.68 132.21,114.83 132.70,115.05 132.63,115.20 133.08,115.41 133.01,115.56 132.68,115.40 132.61,115.55 132.03,115.27 131.96,115.41 131.94,115.40 131.87,115.54 132.10,115.66 132.03,115.80 132.80,116.19 132.73,116.33 133.49,116.71 133.41,116.86 133.52,116.92 133.48,116.99L130.90,115.67A41.0,41.0 0 0 0 135.40,97.00ZM130.57,116.30L131.01,116.54 130.93,116.68 131.06,116.74 130.99,116.88 131.44,117.13 131.36,117.27 132.02,117.63 131.94,117.77 132.35,118.00 132.27,118.14 133.14,118.63 133.06,118.77 132.30,118.35 132.22,118.49 131.58,118.13 131.50,118.27 130.93,117.94 130.85,118.08 130.46,117.85 130.38,117.99 130.30,117.95 130.22,118.08 130.26,118.11 130.18,118.24 130.41,118.38 130.32,118.51 130.69,118.74 130.61,118.87 131.18,119.22 131.10,119.36 131.17,119.40 131.09,119.54 130.96,119.46 130.88,119.60 130.39,119.30 130.30,119.44 130.18,119.36 130.09,119.50 130.60,119.82 130.52,119.95 131.44,120.54 131.35,120.68 130.51,120.14 130.42,120.28 129.34,119.58 129.25,119.71 129.11,119.62 129.03,119.75 128.92,119.69 128.84,119.82 128.89,119.85 128.80,119.98 128.77,119.96 128.68,120.09 128.74,120.13 128.66,120.26 128.62,120.23 128.53,120.36 128.52,120.36 128.43,120.49 128.46,120.51 128.37,120.64 128.35,120.62 128.26,120.75 128.25,120.74 128.16,120.87 128.12,120.85 128.03,120.98 128.11,121.03 128.02,121.16 128.02,121.16 127.92,121.28 127.98,121.33 127.89,121.46 128.18,121.67 128.09,121.80 128.52,122.11 128.42,122.24 128.71,122.46 128.62,122.59 128.98,122.86 128.88,122.99 128.43,122.65 128.33,122.78 127.99,122.52 127.90,122.65 127.54,122.38 127.44,122.50 127.28,122.38 127.18,122.50 127.12,122.45 127.02,122.57 126.96,122.53 126.86,122.65 126.87,122.65 126.77,122.78 126.72,122.74 126.62,122.86 126.68,122.91 126.58,123.03 126.59,123.04 126.49,123.16 126.45,123.12 126.35,123.24 126.36,123.25 126.26,123.37 126.27,123.38 126.17,123.50 126.12,123.47 126.02,123.59 126.00,123.57 125.90,123.69 125.92,123.70 125.81,123.82 125.85,123.85 125.75,123.97 125.76,123.98 125.66,124.10 125.68,124.12 125.58,124.24 125.52,124.18 125.41,124.30 125.40,124.29 125.30,124.41 125.32,124.43 125.22,124.55 125.20,124.53 125.09,124.65 125.12,124.67 125.01,124.79 125.10,124.86 124.99,124.98 125.16,125.14 125.05,125.25 125.36,125.54 125.25,125.65 125.56,125.94 125.45,126.05 125.41,126.02 125.30,126.14 125.19,126.03 125.08,126.15 124.87,125.95 124.76,126.07 124.53,125.84 124.42,125.96 124.25,125.80 124.14,125.91 124.12,125.89 124.01,126.00 123.99,125.98 123.88,126.10 123.84,126.06 123.73,126.17 123.68,126.12 123.57,126.23 123.63,126.29 123.52,126.40 123.53,126.41 123.42,126.52 123.57,126.67 123.45,126.78 123.61,126.95 123.50,127.06 123.94,127.52 123.83,127.63 124.23,128.05 124.11,128.16 124.22,128.27 124.10,128.38 124.02,128.31 123.90,128.42 123.57,128.06 123.45,128.17 123.05,127.74 122.93,127.85 122.67,127.56 122.55,127.67 122.61,127.74 122.50,127.85 123.19,128.61 123.07,128.72 123.65,129.36 123.53,129.47 122.84,128.70 122.72,128.81 122.04,128.05 121.93,128.16 121.79,128.00 121.67,128.11 121.63,128.06 121.51,128.16 121.59,128.25 121.47,128.35 121.71,128.63 121.59,128.73 121.93,129.13 121.81,129.24 121.85,129.29 121.73,129.39 121.63,129.27 121.50,129.37 121.22,129.04 121.10,129.14 120.87,128.87 120.75,128.97 120.71,128.91 120.59,129.01 120.59,129.01 120.46,129.11 120.42,129.06 120.30,129.15 120.34,129.21 120.22,129.31 120.18,129.26 120.05,129.35 120.08,129.38 119.95,129.48 119.95,129.48 119.83,129.57 119.89,129.65 119.76,129.75 119.72,129.68 119.59,129.78 119.58,129.76 119.45,129.86 119.46,129.86 119.33,129.96 119.33,129.95 119.20,130.05 119.19,130.03 119.07,130.13 119.08,130.14 118.95,130.24 118.99,130.28 118.86,130.37 118.83,130.34 118.70,130.43 118.69,130.41 118.57,130.51 118.55,130.48 118.42,130.58 118.49,130.66 118.47,130.67L118.25,130.35A41.0,41.0 0 0 0 130.57,116.30ZM117.66,130.76L119.16,132.94 119.02,133.03 118.66,132.50 118.52,132.59 118.07,131.92 117.93,132.01 117.98,132.07 117.85,132.16 118.17,132.66 118.04,132.75 118.20,132.98 118.06,133.07 117.87,132.78 117.73,132.87 117.37,132.31 117.23,132.40 116.96,131.97 116.82,132.06 116.71,131.88 116.58,131.97 116.58,131.96 116.45,132.05 116.43,132.02 116.29,132.10 116.40,132.28 116.27,132.36 116.52,132.77 116.39,132.86 116.47,132.98 116.33,133.07 116.27,132.97 116.13,133.05 115.88,132.63 115.75,132.72 115.67,132.59 115.53,132.67 115.50,132.62 115.37,132.70 115.31,132.60 115.18,132.68 115.17,132.68 115.04,132.76 115.11,132.87 114.97,132.95 114.94,132.89 114.80,132.97 114.82,133.00 114.68,133.08 114.69,133.09 114.55,133.17 114.51,133.10 114.37,133.17 114.35,133.14 114.22,133.21 114.27,133.32 114.14,133.39 114.14,133.40 114.00,133.48 113.97,133.41 113.83,133.49 113.85,133.52 113.71,133.59 113.66,133.51 113.53,133.58 113.59,133.70 113.45,133.77 113.44,133.75 113.30,133.82 113.39,134.01 113.25,134.09 113.48,134.53 113.34,134.60 113.46,134.86 113.32,134.93 113.13,134.54 112.99,134.61 112.81,134.25 112.66,134.32 112.61,134.20 112.47,134.27 112.44,134.21 112.30,134.28 112.30,134.28 112.15,134.35 112.14,134.31 111.99,134.38 111.99,134.38 111.85,134.44 111.87,134.48 111.73,134.54 111.77,134.65 111.63,134.72 111.73,134.94 111.59,135.00 111.77,135.41 111.63,135.47 111.96,136.23 111.81,136.30 111.95,136.61 111.80,136.68 111.89,136.87 111.74,136.94 111.78,137.04 111.63,137.10 111.24,136.19 111.09,136.25 110.91,135.83 110.76,135.89 110.57,135.44 110.43,135.51 110.31,135.23 110.16,135.29 110.14,135.22 109.99,135.28 110.00,135.31 109.86,135.37 109.84,135.32 109.69,135.38 109.69,135.38 109.55,135.44 109.58,135.51 109.43,135.57 109.41,135.53 109.27,135.58 109.27,135.59 109.12,135.65 109.13,135.66 108.98,135.72 108.99,135.73 108.84,135.78 108.85,135.81 108.70,135.86 108.70,135.87 108.55,135.92 108.51,135.81 108.37,135.86 108.40,135.95 108.25,136.00 108.21,135.90 108.07,135.96 108.07,135.97 107.92,136.02 107.95,136.10 107.80,136.15 107.91,136.47 107.76,136.52 108.12,137.58 107.97,137.63 108.10,138.03 107.94,138.09 107.84,137.76 107.68,137.81 107.42,137.00 107.26,137.05 107.32,137.21 107.16,137.26 107.36,137.86 107.20,137.91 107.40,138.54 107.24,138.58 107.07,138.03 106.91,138.08 106.68,137.33 106.53,137.38 106.39,136.92 106.24,136.96 106.21,136.86 106.06,136.91 106.15,137.23 106.00,137.28 106.17,137.85 106.01,137.90 106.15,138.40 106.00,138.44 106.13,138.90 105.97,138.95 105.92,138.76 105.76,138.81 105.54,137.99 105.38,138.04 105.24,137.51 105.09,137.55 105.07,137.48 104.91,137.52 105.06,138.07 104.90,138.11 105.00,138.52 104.85,138.56 104.67,137.86 104.52,137.90 104.43,137.54 104.27,137.58 104.19,137.25 104.04,137.28 104.04,137.28 103.88,137.31 103.87,137.24 103.71,137.27 103.72,137.31 103.70,137.31L103.62,136.95A41.0,41.0 0 0 0 117.66,130.76ZM102.92,137.11L103.00,137.50 102.85,137.53 102.83,137.43 102.67,137.47 102.69,137.56 102.54,137.59 102.54,137.59 102.38,137.62 102.37,137.53 102.21,137.56 102.23,137.66 102.08,137.69 102.07,137.68 101.92,137.71 101.92,137.72 101.77,137.75 101.77,137.75 101.61,137.77 101.59,137.67 101.44,137.69 101.44,137.73 101.29,137.76 101.32,137.93 101.16,137.96 101.18,138.05 101.02,138.08 101.09,138.46 100.93,138.49 100.99,138.87 100.83,138.90 100.84,138.98 100.68,139.01 100.66,138.84 100.50,138.86 100.48,138.70 100.32,138.73 100.28,138.43 100.12,138.46 100.12,138.48 99.96,138.50 99.99,138.71 99.83,138.73 99.87,139.01 99.71,139.03 99.73,139.19 99.57,139.21 99.56,139.10 99.40,139.12 99.36,138.83 99.20,138.84 99.16,138.45 99.00,138.47 98.98,138.24 98.82,138.26 98.81,138.20 98.66,138.21 98.65,138.17 98.50,138.19 98.50,138.22 98.34,138.24 98.36,138.42 98.20,138.43 98.24,138.79 98.08,138.81 98.11,139.15 97.95,139.17 97.97,139.44 97.81,139.45 97.80,139.37 97.64,139.38 97.60,138.87 97.44,138.88 97.42,138.60 97.26,138.61 97.25,138.34 97.09,138.35 97.08,138.23 96.92,138.24 96.93,138.32 96.77,138.33 96.77,138.27 96.61,138.28 96.62,138.36 96.46,138.36 96.46,138.36 96.30,138.37 96.30,138.25 96.14,138.26 96.14,138.25 95.98,138.26 95.98,138.26 95.83,138.26 95.83,138.35 95.67,138.35 95.67,138.33 95.51,138.33 95.51,138.35 95.36,138.36 95.36,138.31 95.20,138.32 95.20,138.36 95.04,138.36 95.04,138.29 94.89,138.29 94.89,138.31 94.73,138.31 94.73,138.43 94.57,138.43 94.57,138.79 94.42,138.79 94.42,140.12 94.25,140.12 94.25,141.02 94.08,141.02 94.09,140.18 93.92,140.18 93.94,138.82 93.78,138.82 93.79,138.45 93.63,138.45 93.63,138.37 93.47,138.37 93.47,138.27 93.32,138.27 93.32,138.29 93.16,138.28 93.16,138.34 93.00,138.34 93.00,138.33 92.85,138.33 92.84,138.37 92.69,138.36 92.69,138.25 92.53,138.25 92.53,138.39 92.37,138.38 92.35,138.71 92.20,138.70 92.14,139.70 91.98,139.69 91.96,140.06 91.80,140.05 91.82,139.74 91.65,139.73 91.71,138.83 91.55,138.82 91.58,138.39 91.42,138.38 91.43,138.29 91.27,138.28 91.27,138.27 91.12,138.26 91.12,138.19 90.97,138.18 90.96,138.23 90.81,138.21 90.81,138.20 90.65,138.19 90.65,138.18 90.50,138.16 90.49,138.18 90.34,138.16 90.34,138.14 90.18,138.13 90.18,138.12 90.03,138.10 90.02,138.15 89.87,138.14 89.87,138.12 89.71,138.10 89.71,138.15 89.55,138.13 89.55,138.13 89.39,138.11 89.40,138.10 89.24,138.08 89.25,138.02 89.09,138.00 89.07,138.14 88.92,138.12 88.89,138.36 88.73,138.34 88.69,138.61 88.53,138.59 88.46,139.10 88.30,139.07 88.29,139.14 88.13,139.12 88.18,138.77 88.02,138.75 88.05,138.61 88.03,138.61L88.19,137.53A41.0,41.0 0 0 0 102.92,137.11ZM87.49,137.41L87.44,137.70 87.28,137.67 87.27,137.75 87.12,137.73 87.11,137.73 86.96,137.70 86.98,137.62 86.82,137.59 86.81,137.66 86.65,137.63 86.65,137.67 86.49,137.64 86.51,137.54 86.36,137.51 86.34,137.61 86.18,137.58 86.20,137.50 86.05,137.46 86.05,137.43 85.90,137.40 85.90,137.41 85.75,137.37 85.73,137.47 85.57,137.43 85.59,137.36 85.44,137.32 85.41,137.41 85.26,137.38 85.27,137.33 85.12,137.29 85.13,137.27 84.97,137.24 84.92,137.47 84.76,137.43 84.68,137.79 84.52,137.75 84.44,138.11 84.28,138.07 84.15,138.59 84.00,138.55 84.10,138.15 83.94,138.11 84.08,137.58 83.92,137.54 84.00,137.23 83.85,137.19 83.89,137.04 83.74,137.00 83.76,136.90 83.61,136.86 83.61,136.85 83.46,136.81 83.43,136.92 83.28,136.88 83.30,136.82 83.15,136.78 83.13,136.82 82.98,136.78 82.98,136.80 82.83,136.75 82.84,136.71 82.69,136.67 82.68,136.69 82.53,136.64 82.55,136.58 82.40,136.53 82.40,136.53 82.25,136.48 82.24,136.52 82.09,136.48 82.07,136.54 81.92,136.49 81.92,136.49 81.77,136.44 81.80,136.34 81.65,136.30 81.63,136.35 81.48,136.30 81.50,136.26 81.35,136.21 81.35,136.22 81.20,136.17 81.20,136.15 81.05,136.10 81.02,136.20 80.87,136.15 80.90,136.07 80.75,136.02 80.75,136.03 80.60,135.97 80.62,135.92 80.47,135.87 80.43,135.97 80.29,135.92 80.32,135.82 80.18,135.76 80.14,135.86 79.99,135.81 80.02,135.73 79.87,135.68 79.87,135.68 79.73,135.62 79.74,135.59 79.59,135.54 79.57,135.58 79.43,135.52 79.40,135.60 79.25,135.54 79.28,135.47 79.14,135.41 79.14,135.40 78.99,135.35 78.97,135.40 78.82,135.34 78.85,135.27 78.71,135.22 78.68,135.28 78.53,135.22 78.52,135.25 78.38,135.19 78.38,135.18 78.24,135.11 78.28,135.01 78.14,134.95 78.10,135.04 77.95,134.98 77.95,134.98 77.81,134.92 77.81,134.92 77.66,134.86 77.68,134.83 77.53,134.77 77.56,134.71 77.42,134.64 77.38,134.71 77.24,134.65 77.25,134.64 77.10,134.57 77.11,134.56 76.97,134.49 76.95,134.53 76.81,134.46 76.84,134.39 76.70,134.32 76.69,134.35 76.55,134.28 76.53,134.31 76.39,134.24 76.37,134.28 76.23,134.21 76.23,134.22 76.09,134.15 76.09,134.14 75.95,134.07 75.99,133.99 75.85,133.92 75.84,133.94 75.70,133.87 75.69,133.88 75.55,133.81 75.56,133.80 75.42,133.73 75.44,133.69 75.30,133.62 75.21,133.79 75.07,133.71 74.79,134.24 74.65,134.17 74.54,134.37 74.40,134.29 74.44,134.22 74.30,134.14 74.46,133.85 74.32,133.78 74.10,134.17 73.96,134.09 73.41,135.10 73.26,135.02 73.28,134.98 73.14,134.90 73.38,134.48 73.27,134.42L74.24,132.70A41.0,41.0 0 0 0 87.49,137.41ZM73.62,132.34L73.43,132.66 73.29,132.58 73.30,132.56 73.17,132.48 73.14,132.53 73.01,132.45 73.05,132.38 72.91,132.30 72.88,132.35 72.75,132.27 72.77,132.23 72.64,132.15 72.60,132.22 72.46,132.13 72.47,132.12 72.34,132.04 72.39,131.95 72.26,131.87 72.24,131.89 72.11,131.81 72.10,131.82 71.97,131.73 71.97,131.73 71.84,131.65 71.83,131.66 71.70,131.58 71.69,131.59 71.56,131.50 71.60,131.44 71.47,131.35 71.43,131.41 71.30,131.32 71.29,131.34 71.16,131.26 71.19,131.21 71.06,131.12 71.07,131.10 70.94,131.01 70.94,131.01 70.82,130.92 70.79,130.96 70.66,130.87 70.70,130.82 70.57,130.73 70.56,130.74 70.43,130.65 70.43,130.66 70.30,130.57 70.27,130.61 70.14,130.52 70.14,130.52 70.01,130.43 70.02,130.41 69.90,130.32 69.93,130.27 69.80,130.18 69.79,130.20 69.66,130.11 69.69,130.08 69.56,129.98 69.48,130.09 69.36,129.99 69.40,129.93 69.28,129.84 69.24,129.88 69.12,129.78 69.17,129.72 69.05,129.62 69.04,129.62 68.92,129.53 68.92,129.52 68.80,129.42 68.71,129.54 68.59,129.44 68.20,129.93 68.08,129.83 67.35,130.73 67.23,130.63 66.54,131.48 66.41,131.37 66.89,130.78 66.76,130.67 67.73,129.49 67.61,129.39 67.93,129.01 67.81,128.90 67.95,128.74 67.82,128.64 67.74,128.74 67.62,128.63 67.41,128.88 67.29,128.78 66.27,129.98 66.14,129.87 65.51,130.60 65.39,130.49 65.93,129.87 65.80,129.76 66.99,128.40 66.87,128.29 67.06,128.08 66.94,127.98 66.97,127.95 66.85,127.84 66.84,127.85 66.73,127.75 66.56,127.93 66.45,127.82 66.13,128.17 66.01,128.06 65.07,129.09 64.95,128.98 64.39,129.59 64.27,129.47 65.10,128.57 64.98,128.46 65.54,127.86 65.42,127.75 65.85,127.31 65.73,127.20 65.94,126.98 65.82,126.87 65.85,126.85 65.74,126.74 65.67,126.80 65.56,126.69 65.54,126.71 65.43,126.60 65.43,126.60 65.32,126.49 65.40,126.41 65.28,126.30 65.29,126.29 65.18,126.18 65.19,126.17 65.08,126.06 65.07,126.07 64.96,125.96 64.93,125.99 64.82,125.88 64.73,125.96 64.63,125.85 64.56,125.91 64.45,125.80 64.27,125.97 64.16,125.85 63.69,126.31 63.58,126.19 62.88,126.85 62.77,126.73 62.37,127.10 62.25,126.98 62.10,127.13 61.99,127.00 62.21,126.79 62.10,126.67 62.77,126.05 62.66,125.93 63.23,125.42 63.12,125.30 63.25,125.18 63.14,125.06 63.24,124.97 63.14,124.85 62.94,125.03 62.83,124.91 62.17,125.50 62.06,125.38 61.54,125.84 61.43,125.71 61.06,126.03 61.02,125.98L63.44,123.88A41.0,41.0 0 0 0 73.62,132.34ZM62.97,123.33L62.74,123.53 62.64,123.41 62.64,123.41 62.54,123.29 62.55,123.28 62.45,123.16 62.41,123.19 62.31,123.06 62.32,123.06 62.22,122.94 62.23,122.93 62.13,122.81 62.09,122.84 61.99,122.72 61.77,122.89 61.68,122.77 61.32,123.05 61.22,122.92 60.73,123.30 60.63,123.18 59.93,123.72 59.83,123.59 59.68,123.70 59.58,123.57 59.87,123.35 59.77,123.22 60.19,122.90 60.09,122.77 60.84,122.21 60.75,122.08 61.03,121.87 60.94,121.74 61.03,121.67 60.94,121.54 61.02,121.48 60.93,121.36 61.01,121.30 60.92,121.17 60.91,121.18 60.82,121.05 60.82,121.05 60.73,120.92 60.65,120.98 60.56,120.85 60.65,120.79 60.56,120.66 60.48,120.71 60.39,120.58 60.34,120.61 60.25,120.49 59.93,120.70 59.84,120.57 59.13,121.06 59.04,120.93 58.25,121.46 58.16,121.32 58.88,120.84 58.79,120.70 59.58,120.18 59.49,120.04 59.85,119.81 59.76,119.68 59.78,119.67 59.69,119.54 59.73,119.51 59.64,119.38 59.59,119.41 59.51,119.28 59.54,119.26 59.45,119.13 59.49,119.10 59.41,118.97 59.39,118.98 59.31,118.85 59.33,118.84 59.25,118.70 59.17,118.75 59.08,118.62 59.19,118.56 59.11,118.42 59.06,118.45 58.98,118.31 58.98,118.32 58.90,118.18 58.88,118.19 58.80,118.06 58.86,118.02 58.78,117.89 58.71,117.93 58.63,117.79 58.69,117.75 58.62,117.62 58.60,117.63 58.52,117.49 58.52,117.49 58.44,117.36 58.47,117.34 58.39,117.20 58.28,117.27 58.20,117.13 58.32,117.07 58.24,116.93 58.14,116.99 58.06,116.85 58.09,116.83 58.01,116.70 57.98,116.71 57.91,116.57 57.95,116.55 57.88,116.41 57.88,116.41 57.81,116.27 57.82,116.26 57.75,116.13 57.73,116.13 57.66,115.99 57.69,115.98 57.62,115.84 57.64,115.83 57.57,115.69 57.51,115.72 57.44,115.58 57.42,115.59 57.35,115.45 57.32,115.46 57.25,115.32 57.26,115.32 57.19,115.18 57.15,115.19 57.09,115.05 56.63,115.27 56.56,115.13 55.32,115.72 55.25,115.57 54.41,115.97 54.33,115.82 54.99,115.51 54.92,115.36 56.13,114.80 56.06,114.66 56.30,114.55 56.23,114.40 55.34,114.81 55.27,114.66 54.66,114.94 54.59,114.79 55.35,114.45 55.29,114.30 56.09,113.94 56.03,113.80 56.42,113.62 56.36,113.48 56.46,113.44 56.40,113.29 56.44,113.27 56.38,113.13 56.29,113.17 56.23,113.02 56.31,112.99 56.27,112.89L56.55,112.77A41.0,41.0 0 0 0 62.97,123.33ZM56.29,112.11L55.94,112.25 55.88,112.10 55.89,112.10 55.83,111.95 55.79,111.97 55.73,111.82 55.81,111.79 55.75,111.64 55.76,111.64 55.71,111.49 55.66,111.51 55.61,111.36 55.57,111.38 55.51,111.23 55.54,111.22 55.49,111.07 55.47,111.08 55.41,110.93 55.42,110.93 55.37,110.78 55.47,110.74 55.42,110.60 55.34,110.62 55.29,110.48 55.34,110.46 55.29,110.31 55.23,110.33 55.18,110.18 55.17,110.19 55.12,110.04 55.11,110.04 55.06,109.89 55.15,109.86 55.10,109.71 55.07,109.72 55.03,109.57 55.05,109.56 55.01,109.41 54.92,109.44 54.87,109.29 54.88,109.29 54.83,109.14 54.83,109.14 54.78,108.99 54.70,109.01 54.66,108.86 54.37,108.95 54.32,108.80 53.72,108.97 53.67,108.82 52.96,109.03 52.91,108.87 52.41,109.01 52.37,108.85 51.60,109.07 51.55,108.91 51.89,108.81 51.85,108.65 52.83,108.38 52.79,108.22 53.56,108.02 53.52,107.86 54.04,107.72 54.00,107.57 54.33,107.48 54.29,107.33 54.29,107.33 54.25,107.18 54.21,107.19 54.17,107.04 53.98,107.08 53.95,106.93 53.09,107.14 53.05,106.98 51.90,107.26 51.86,107.10 50.97,107.31 50.93,107.15 51.94,106.91 51.90,106.75 53.09,106.47 53.06,106.32 53.69,106.18 53.65,106.02 53.97,105.95 53.93,105.80 53.94,105.80 53.90,105.64 53.93,105.64 53.90,105.48 53.98,105.47 53.95,105.31 53.95,105.31 53.91,105.16 53.93,105.16 53.90,105.00 53.81,105.02 53.78,104.87 53.78,104.87 53.75,104.71 53.82,104.70 53.79,104.54 53.78,104.55 53.75,104.39 53.67,104.41 53.64,104.25 53.75,104.23 53.72,104.08 53.63,104.09 53.60,103.94 53.59,103.94 53.56,103.79 53.59,103.78 53.56,103.63 53.58,103.63 53.56,103.47 53.15,103.53 53.13,103.38 51.80,103.58 51.78,103.42 50.42,103.63 50.39,103.46 51.64,103.28 51.61,103.11 53.01,102.91 52.99,102.76 53.35,102.71 53.33,102.55 53.36,102.55 53.34,102.39 53.38,102.38 53.36,102.23 53.38,102.23 53.36,102.07 53.41,102.06 53.40,101.91 53.34,101.91 53.33,101.76 53.34,101.76 53.32,101.60 53.28,101.61 53.26,101.45 53.29,101.45 53.28,101.29 53.31,101.29 53.30,101.20L53.61,101.17A41.0,41.0 0 0 0 56.29,112.11ZM53.55,100.45L53.19,100.48 53.17,100.33 53.24,100.32 53.23,100.17 53.18,100.17 53.17,100.01 53.18,100.01 53.17,99.85 53.17,99.85 53.16,99.70 53.15,99.70 53.14,99.54 53.13,99.54 53.12,99.39 53.17,99.38 53.16,99.23 53.11,99.23 53.10,99.07 53.16,99.07 53.15,98.91 53.07,98.92 53.06,98.76 53.15,98.76 53.15,98.60 53.08,98.60 53.08,98.44 53.14,98.44 53.14,98.29 53.03,98.29 53.03,98.13 53.00,98.13 53.00,97.98 53.03,97.97 53.02,97.82 53.06,97.82 53.06,97.66 53.06,97.66 53.06,97.50 53.02,97.50 53.01,97.35 53.10,97.35 53.09,97.19 52.98,97.19 52.98,97.03 52.65,97.03 52.65,96.87 52.39,96.87 52.39,96.71 52.03,96.71 52.03,96.55 52.21,96.55 52.22,96.39 52.72,96.40 52.72,96.24 52.94,96.24 52.95,96.09 53.05,96.09 53.06,95.93 53.11,95.93 53.12,95.78 53.06,95.78 53.07,95.62 53.11,95.62 53.12,95.46 53.07,95.46 53.08,95.30 53.11,95.31 53.12,95.15 53.06,95.15 53.07,94.99 53.09,94.99 53.09,94.83 53.18,94.84 53.18,94.68 53.14,94.68 53.15,94.52 53.09,94.52 53.10,94.36 53.16,94.37 53.17,94.21 53.11,94.20 53.12,94.05 53.10,94.05 53.12,93.89 53.11,93.89 53.12,93.73 53.14,93.73 53.16,93.58 53.20,93.58 53.22,93.43 53.21,93.42 53.22,93.27 53.28,93.27 53.29,93.12 53.26,93.11 53.28,92.96 53.28,92.96 53.30,92.80 53.22,92.79 53.24,92.64 53.24,92.64 53.26,92.48 53.28,92.48 53.30,92.33 53.28,92.33 53.30,92.17 53.34,92.18 53.36,92.02 53.33,92.02 53.34,91.86 53.36,91.86 53.38,91.71 53.33,91.70 53.35,91.54 52.98,91.49 53.00,91.34 52.55,91.28 52.57,91.12 51.73,91.00 51.75,90.84 51.71,90.83 51.74,90.67 52.07,90.72 52.09,90.56 52.73,90.65 52.76,90.50 53.17,90.56 53.20,90.40 53.44,90.44 53.47,90.29 53.59,90.31 53.62,90.15 53.67,90.16 53.69,90.01 53.67,90.00 53.70,89.85 53.61,89.83 53.64,89.68 53.66,89.68 53.67,89.65L54.05,89.72A41.0,41.0 0 0 0 53.55,100.45ZM54.18,89.02L53.85,88.95 53.88,88.80 53.88,88.80 53.91,88.64 53.94,88.65 53.97,88.50 53.98,88.50 54.02,88.35 54.02,88.35 54.06,88.19 53.98,88.18 54.02,88.02 53.98,88.02 54.01,87.86 54.00,87.86 54.04,87.71 54.14,87.73 54.17,87.58 54.18,87.58 54.22,87.43 54.23,87.43 54.27,87.28 54.27,87.28 54.30,87.12 54.21,87.10 54.24,86.95 54.31,86.96 54.35,86.81 54.34,86.81 54.38,86.66 54.41,86.66 54.45,86.51 54.38,86.50 54.42,86.34 54.49,86.36 54.53,86.21 54.42,86.18 54.47,86.03 54.59,86.06 54.63,85.91 54.51,85.88 54.55,85.73 54.62,85.75 54.67,85.60 54.66,85.60 54.71,85.45 54.70,85.44 54.74,85.29 54.78,85.30 54.82,85.15 54.73,85.12 54.77,84.97 54.81,84.99 54.86,84.84 54.78,84.81 54.83,84.66 54.64,84.60 54.68,84.45 54.21,84.30 54.26,84.15 53.50,83.91 53.55,83.75 52.85,83.52 52.90,83.37 52.69,83.30 52.75,83.14 53.07,83.25 53.12,83.09 53.80,83.32 53.85,83.16 54.52,83.39 54.57,83.24 54.99,83.39 55.04,83.24 55.21,83.30 55.27,83.15 55.08,83.08 55.13,82.93 54.85,82.83 54.91,82.68 54.53,82.54 54.59,82.39 54.30,82.29 54.35,82.13 54.60,82.23 54.65,82.07 55.07,82.23 55.12,82.08 55.47,82.21 55.52,82.06 55.64,82.11 55.69,81.96 55.78,81.99 55.83,81.85 55.92,81.88 55.98,81.73 55.91,81.71 55.97,81.56 55.97,81.56 56.03,81.42 56.13,81.45 56.18,81.31 56.14,81.29 56.20,81.15 56.16,81.13 56.22,80.98 56.30,81.02 56.37,80.87 56.28,80.84 56.34,80.69 56.42,80.73 56.48,80.58 56.41,80.55 56.48,80.41 56.53,80.43 56.60,80.29 56.52,80.26 56.59,80.11 56.60,80.12 56.66,79.97 56.72,80.00 56.79,79.86 56.83,79.88 56.90,79.74 56.82,79.70 56.89,79.56 56.90,79.56 56.96,79.42 57.00,79.44 57.06,79.30 56.98,79.26 57.05,79.12 57.12,79.15 57.18,79.02L57.48,79.17A41.0,41.0 0 0 0 54.18,89.02ZM57.80,78.53L57.48,78.37 57.55,78.23 57.56,78.23 57.63,78.09 57.67,78.11 57.74,77.97 57.65,77.92 57.72,77.78 57.75,77.80 57.82,77.66 57.80,77.65 57.88,77.51 57.93,77.54 58.01,77.40 58.00,77.39 58.07,77.26 58.07,77.25 58.14,77.12 58.19,77.14 58.27,77.01 58.28,77.01 58.35,76.87 58.28,76.83 58.36,76.70 58.34,76.68 58.41,76.55 58.09,76.36 58.17,76.22 57.63,75.91 57.71,75.78 57.50,75.66 57.58,75.52 57.89,75.70 57.97,75.56 58.53,75.89 58.61,75.75 58.78,75.85 58.86,75.71 58.90,75.74 58.98,75.60 59.03,75.64 59.12,75.50 59.09,75.49 59.17,75.35 59.20,75.37 59.28,75.24 59.16,75.16 59.24,75.02 59.16,74.97 59.24,74.84 58.96,74.66 59.04,74.53 58.74,74.34 58.83,74.20 58.57,74.04 58.66,73.90 58.44,73.76 58.53,73.62 58.67,73.72 58.76,73.58 59.01,73.74 59.10,73.61 59.40,73.81 59.49,73.68 59.89,73.94 59.98,73.81 59.99,73.82 60.08,73.69 60.16,73.75 60.25,73.62 60.25,73.62 60.34,73.49 60.43,73.55 60.51,73.42 60.47,73.39 60.56,73.26 60.60,73.29 60.69,73.16 60.59,73.09 60.68,72.96 60.68,72.96 60.77,72.83 60.80,72.85 60.89,72.72 60.90,72.73 61.00,72.61 60.98,72.59 61.07,72.46 61.14,72.52 61.23,72.39 61.14,72.32 61.23,72.19 61.29,72.24 61.38,72.11 61.32,72.06 61.42,71.94 61.26,71.82 61.36,71.70 61.01,71.43 61.11,71.30 60.78,71.05 60.87,70.92 61.24,71.21 61.34,71.08 61.62,71.30 61.72,71.18 61.86,71.29 61.96,71.17 62.02,71.21 62.12,71.09 62.16,71.12 62.26,71.00 62.23,70.98 62.33,70.86 62.31,70.84 62.41,70.72 62.48,70.78 62.58,70.66 62.56,70.64 62.66,70.52 62.64,70.50 62.74,70.38 62.71,70.36 62.81,70.24 62.76,70.19 62.86,70.07 62.72,69.95 62.83,69.83 62.37,69.44 62.47,69.32 62.05,68.95 62.15,68.83 61.49,68.25 61.60,68.12 61.16,67.73 61.22,67.66L63.68,69.84A41.0,41.0 0 0 0 57.80,78.53ZM64.16,69.31L62.31,67.62 62.42,67.49 62.63,67.68 62.74,67.56 62.87,67.69 62.99,67.57 63.42,67.97 63.53,67.86 63.66,67.98 63.77,67.87 63.50,67.61 63.61,67.49 63.60,67.48 63.71,67.36 63.86,67.50 63.97,67.39 64.36,67.77 64.47,67.66 64.68,67.86 64.79,67.74 64.97,67.92 65.08,67.81 65.10,67.83 65.21,67.72 65.14,67.64 65.25,67.53 65.22,67.50 65.33,67.39 65.28,67.34 65.39,67.23 65.25,67.08 65.36,66.97 65.45,67.06 65.57,66.95 65.37,66.75 65.48,66.64 65.35,66.49 65.46,66.38 65.48,66.40 65.60,66.29 65.43,66.12 65.55,66.01 65.59,66.05 65.71,65.94 65.99,66.24 66.10,66.14 66.13,66.17 66.25,66.06 65.90,65.67 66.02,65.57 66.35,65.93 66.47,65.83 66.23,65.56 66.35,65.45 66.39,65.50 66.51,65.39 66.73,65.65 66.85,65.54 66.81,65.50 66.93,65.39 67.09,65.58 67.21,65.47 67.21,65.48 67.33,65.37 67.20,65.22 67.32,65.12 66.76,64.46 66.89,64.35 66.67,64.09 66.79,63.98 66.19,63.26 66.32,63.16 66.84,63.78 66.96,63.68 67.42,64.23 67.54,64.13 67.96,64.64 68.08,64.54 68.30,64.80 68.42,64.71 68.50,64.81 68.62,64.71 68.60,64.67 68.72,64.58 68.67,64.51 68.79,64.42 68.75,64.36 68.87,64.26 68.59,63.90 68.72,63.81 68.26,63.22 68.39,63.12 68.17,62.82 68.30,62.72 68.71,63.26 68.84,63.17 69.05,63.45 69.17,63.35 69.52,63.81 69.64,63.71 69.72,63.81 69.84,63.72 69.87,63.75 70.00,63.66 70.01,63.68 70.14,63.59 70.12,63.57 70.25,63.48 70.20,63.41 70.33,63.32 70.34,63.33 70.47,63.24 70.49,63.28 70.62,63.19 70.64,63.22 70.77,63.13 70.74,63.08 70.87,63.00 70.89,63.02 71.02,62.93 70.99,62.89 71.12,62.80 71.10,62.77 71.23,62.68 71.21,62.66 71.34,62.57 71.03,62.11 71.17,62.02 70.55,61.09 70.68,61.00 70.53,60.76 70.67,60.67 70.91,61.05 71.00,61.00L72.06,62.62A41.0,41.0 0 0 0 64.16,69.31ZM72.66,62.24L72.45,61.90 72.59,61.82 72.65,61.92 72.78,61.83 72.73,61.75 72.86,61.67 72.86,61.67 73.00,61.59 73.03,61.64 73.16,61.56 73.18,61.59 73.32,61.51 73.29,61.47 73.43,61.39 73.41,61.37 73.55,61.29 73.47,61.15 73.60,61.07 73.45,60.81 73.59,60.73 73.34,60.29 73.48,60.21 72.96,59.29 73.10,59.21 72.92,58.89 73.06,58.81 73.37,59.35 73.51,59.27 73.91,59.99 74.05,59.91 74.30,60.36 74.44,60.29 74.59,60.57 74.73,60.49 74.78,60.59 74.92,60.52 74.90,60.48 75.04,60.41 75.03,60.40 75.17,60.33 75.19,60.37 75.33,60.30 75.32,60.28 75.46,60.20 75.44,60.16 75.58,60.08 75.56,60.05 75.70,59.98 75.55,59.68 75.69,59.61 75.42,59.06 75.56,58.99 75.29,58.43 75.43,58.36 75.17,57.82 75.32,57.75 75.54,58.20 75.68,58.13 76.04,58.86 76.18,58.79 76.41,59.26 76.55,59.19 76.68,59.46 76.82,59.40 76.90,59.56 77.04,59.50 77.03,59.48 77.18,59.41 77.18,59.43 77.32,59.36 77.31,59.33 77.45,59.27 77.43,59.22 77.58,59.16 77.60,59.22 77.75,59.15 77.56,58.73 77.71,58.67 77.37,57.89 77.52,57.82 77.24,57.17 77.39,57.11 77.67,57.78 77.82,57.71 78.14,58.46 78.28,58.40 78.46,58.83 78.61,58.77 78.60,58.75 78.75,58.70 78.77,58.75 78.91,58.69 78.88,58.62 79.03,58.56 79.06,58.64 79.21,58.58 79.21,58.58 79.36,58.53 79.36,58.53 79.50,58.47 79.47,58.39 79.62,58.34 79.59,58.27 79.74,58.21 79.63,57.93 79.78,57.87 79.48,57.06 79.63,57.00 79.35,56.24 79.50,56.18 79.18,55.30 79.34,55.25 79.62,56.02 79.77,55.96 80.12,56.94 80.15,56.93L80.66,58.37A41.0,41.0 0 0 0 72.66,62.24ZM81.34,58.14L81.05,57.28 81.20,57.23 81.19,57.21 81.35,57.16 81.26,56.89 81.41,56.84 81.35,56.67 81.51,56.62 81.57,56.81 81.72,56.76 81.74,56.81 81.89,56.76 81.97,57.01 82.12,56.97 82.08,56.83 82.23,56.78 82.29,56.97 82.44,56.92 82.42,56.86 82.57,56.82 82.61,56.94 82.76,56.89 82.82,57.09 82.97,57.04 82.99,57.11 83.14,57.07 83.14,57.05 83.29,57.01 83.24,56.86 83.40,56.82 83.34,56.60 83.49,56.56 83.30,55.86 83.46,55.82 83.35,55.42 83.51,55.37 83.36,54.81 83.52,54.77 83.70,55.46 83.86,55.42 83.93,55.69 84.09,55.65 84.25,56.32 84.41,56.28 84.50,56.65 84.65,56.62 84.68,56.75 84.84,56.71 84.86,56.81 85.01,56.78 84.99,56.67 85.14,56.63 85.15,56.70 85.31,56.66 85.31,56.67 85.46,56.63 85.47,56.67 85.62,56.64 85.62,56.61 85.77,56.57 85.77,56.58 85.93,56.55 85.93,56.57 86.08,56.54 86.08,56.52 86.23,56.48 86.23,56.49 86.39,56.45 86.38,56.42 86.53,56.38 86.55,56.46 86.70,56.43 86.68,56.31 86.83,56.28 86.84,56.30 86.99,56.27 87.01,56.38 87.17,56.36 87.16,56.30 87.31,56.27 87.30,56.23 87.46,56.20 87.48,56.30 87.63,56.27 87.61,56.16 87.77,56.13 87.76,56.12 87.92,56.09 87.94,56.22 88.09,56.19 88.09,56.16 88.24,56.14 88.23,56.05 88.39,56.02 88.40,56.12 88.55,56.10 88.55,56.03 88.70,56.01 88.70,56.00 88.86,55.98 88.87,56.09 89.03,56.07 89.02,56.00 89.17,55.98 89.18,56.01 89.33,55.99 89.32,55.92 89.40,55.91L89.45,56.30A41.0,41.0 0 0 0 81.34,58.14ZM90.16,56.22L90.09,55.51 90.25,55.49 90.18,54.86 90.34,54.84 90.33,54.70 90.49,54.68 90.51,54.85 90.67,54.83 90.72,55.42 90.88,55.41 90.90,55.75 91.06,55.73 91.07,55.84 91.23,55.83 91.22,55.77 91.38,55.76 91.38,55.77 91.54,55.76 91.53,55.73 91.69,55.72 91.69,55.73 91.85,55.72 91.85,55.76 92.01,55.75 92.00,55.63 92.16,55.62 92.15,55.50 92.31,55.49 92.30,55.28 92.46,55.27 92.44,54.84 92.60,54.84 92.59,54.58 92.75,54.57 92.74,54.28 92.90,54.28 92.89,54.20 93.06,54.20 93.04,53.70 93.21,53.69 93.20,53.35 93.36,53.34 93.36,53.13 93.52,53.12 93.53,53.30 93.69,53.30 93.70,53.79 93.87,53.79 93.87,54.17 94.03,54.17 94.03,53.91 94.19,53.90 94.19,53.96 94.36,53.96 94.36,53.51 94.52,53.51 94.52,53.92 94.69,53.92 94.68,54.65 94.84,54.65 94.84,55.11 95.00,55.11 94.99,55.44 95.15,55.44 95.14,55.65 95.30,55.66 95.30,55.63 95.46,55.63 95.46,55.71 95.61,55.72 95.62,55.62 95.77,55.62 95.77,55.68 95.93,55.68 95.93,55.65 96.09,55.65 96.09,55.71 96.24,55.72 96.25,55.61 96.40,55.62 96.40,55.63 96.56,55.64 96.58,55.34 96.73,55.35 96.74,55.19 96.90,55.20 96.94,54.59 97.10,54.60 97.12,54.35 97.28,54.36 97.27,54.54 97.43,54.55 97.39,55.03 97.55,55.04 97.55,55.02 97.71,55.03 97.79,54.07 97.95,54.09 98.03,53.20 98.19,53.21 98.11,54.21 98.27,54.22L98.09,56.17A41.0,41.0 0 0 0 90.16,56.22ZM98.80,56.24L98.84,55.86 99.00,55.88 99.00,55.87 99.16,55.89 99.16,55.87 99.32,55.89 99.31,55.93 99.47,55.95 99.47,55.92 99.63,55.94 99.62,55.96 99.78,55.98 99.77,56.06 99.92,56.08 99.93,56.07 100.08,56.09 100.08,56.08 100.24,56.10 100.24,56.12 100.39,56.14 100.39,56.12 100.55,56.14 100.56,56.09 100.71,56.11 100.71,56.10 100.87,56.12 100.86,56.17 101.02,56.19 101.02,56.18 101.18,56.20 101.18,56.19 101.33,56.22 101.33,56.21 101.49,56.24 101.48,56.27 101.64,56.30 101.64,56.31 101.79,56.34 101.79,56.31 101.95,56.34 101.95,56.33 102.10,56.36 102.09,56.42 102.25,56.45 102.26,56.41 102.41,56.44 102.41,56.43 102.56,56.46 102.57,56.43 102.73,56.46 102.71,56.52 102.87,56.56 102.89,56.46 103.04,56.49 103.09,56.26 103.24,56.29 103.33,55.89 103.49,55.92 103.84,54.34 104.00,54.37 104.28,53.12 104.45,53.16 104.42,53.28 104.59,53.32 104.51,53.66 104.67,53.70 104.30,55.28 104.45,55.32 104.47,55.25 104.63,55.29 104.61,55.36 104.77,55.40 104.76,55.46 104.91,55.50 104.89,55.57 105.05,55.61 104.98,55.89 105.14,55.93 105.03,56.34 105.18,56.38 105.09,56.73 105.24,56.77 105.17,57.03 105.33,57.07 105.31,57.13 105.46,57.17 105.47,57.16 105.62,57.20 105.62,57.18 105.77,57.23 105.78,57.19 105.81,57.20L105.70,57.59A41.0,41.0 0 0 0 98.80,56.24ZM106.38,57.79L106.48,57.48 106.63,57.52 106.65,57.44 106.80,57.49 106.79,57.53 106.94,57.58 106.97,57.50 107.12,57.55 107.28,57.05 107.43,57.10 107.74,56.14 107.90,56.19 107.93,56.08 108.09,56.14 108.00,56.39 108.15,56.45 107.90,57.20 108.05,57.25 107.88,57.75 108.03,57.80 108.01,57.85 108.16,57.90 108.24,57.67 108.39,57.73 108.50,57.41 108.65,57.46 108.96,56.62 109.11,56.68 109.43,55.78 109.59,55.84 109.49,56.11 109.65,56.16 110.11,54.92 110.27,54.98 111.09,52.81 111.26,52.88 111.35,52.63 111.52,52.69 111.18,53.59 111.34,53.65 111.43,53.43 111.59,53.49 110.53,56.17 110.69,56.23 110.56,56.55 110.72,56.61 110.74,56.56 110.89,56.62 110.81,56.82 110.96,56.88 111.14,56.46 111.29,56.52 111.32,56.46 111.47,56.53 111.12,57.36 111.27,57.42 111.01,58.04 111.15,58.10 110.85,58.80 111.00,58.87 110.99,58.89 111.13,58.95 111.23,58.74 111.37,58.80 111.58,58.34 111.73,58.40 111.95,57.90 112.10,57.97 112.09,57.98 112.24,58.05 112.31,57.91 112.45,57.98 112.41,58.07 112.56,58.14 112.69,57.86 112.84,57.93 113.13,57.31 113.28,57.38 113.66,56.58 113.82,56.65 114.07,56.12 114.23,56.20 113.84,56.98 113.94,57.03L112.41,60.17A41.0,41.0 0 0 0 106.38,57.79ZM113.05,60.49L113.20,60.19 113.34,60.26 113.33,60.27 113.47,60.34 113.46,60.36 113.60,60.43 113.65,60.35 113.79,60.42 113.77,60.45 113.91,60.53 113.92,60.51 114.06,60.59 114.05,60.60 114.19,60.67 114.16,60.72 114.30,60.80 114.30,60.79 114.44,60.87 114.43,60.88 114.57,60.95 114.60,60.90 114.74,60.98 114.71,61.02 114.85,61.09 114.84,61.11 114.97,61.19 115.02,61.11 115.16,61.19 115.11,61.27 115.25,61.35 115.31,61.25 115.44,61.33 115.40,61.40 115.53,61.48 115.56,61.44 115.69,61.52 115.71,61.49 115.85,61.57 115.79,61.66 115.93,61.74 115.97,61.66 116.11,61.74 116.07,61.81 116.20,61.89 116.22,61.87 116.35,61.95 116.34,61.96 116.48,62.04 116.48,62.03 116.62,62.12 116.63,62.10 116.76,62.19 116.77,62.18 116.90,62.26 116.87,62.31 117.00,62.39 117.02,62.36 117.15,62.44 117.17,62.42 117.30,62.51 117.27,62.55 117.40,62.64 117.40,62.64 117.53,62.73 117.53,62.73 117.66,62.82 117.64,62.85 117.77,62.94 117.80,62.89 117.93,62.98 117.90,63.02 118.03,63.11 118.04,63.10 118.17,63.19 118.21,63.12 118.34,63.21 118.29,63.29 118.42,63.38 118.42,63.37 118.55,63.46 118.58,63.43 118.60,63.44L118.38,63.75A41.0,41.0 0 0 0 113.05,60.49ZM118.96,64.17L119.98,62.80 120.11,62.90 121.19,61.46 121.33,61.56 121.87,60.85 122.01,60.95 122.48,60.34 122.62,60.44 122.82,60.19 122.96,60.30 122.99,60.25 123.13,60.36 121.85,61.99 121.99,62.09 121.50,62.71 121.63,62.81 121.44,63.05 121.57,63.15 121.63,63.08 121.75,63.19 122.01,62.87 122.14,62.98 121.84,63.34 121.97,63.45 121.92,63.51 122.04,63.61 121.55,64.21 121.68,64.31 121.19,64.90 121.31,65.00 121.12,65.23 121.24,65.33 121.10,65.49 121.22,65.59 121.29,65.51 121.41,65.61 121.33,65.70 121.45,65.80 121.50,65.74 121.62,65.85 121.72,65.73 121.84,65.84 122.18,65.45 122.30,65.55 122.86,64.93 122.98,65.03 124.32,63.54 124.44,63.65 124.42,63.68 124.55,63.79 124.54,63.80 124.67,63.92 123.42,65.28 123.54,65.39 122.83,66.16 122.94,66.27 122.64,66.60 122.76,66.70 122.66,66.81 122.70,66.84L122.45,67.10A41.0,41.0 0 0 0 118.96,64.17ZM122.97,67.59L123.17,67.39 123.28,67.50 123.29,67.49 123.40,67.60 123.40,67.60 123.51,67.71 123.55,67.68 123.66,67.79 123.63,67.82 123.74,67.93 123.74,67.93 123.85,68.04 123.88,68.01 123.99,68.12 124.02,68.09 124.13,68.20 124.15,68.19 124.26,68.30 124.36,68.20 124.47,68.32 124.93,67.88 125.04,67.99 126.18,66.91 126.29,67.04 126.96,66.41 127.07,66.53 126.03,67.51 126.14,67.63 125.47,68.25 125.58,68.37 124.95,68.95 125.06,69.06 124.95,69.16 125.06,69.27 125.07,69.26 125.18,69.37 125.12,69.43 125.23,69.54 125.32,69.46 125.42,69.58 125.42,69.58 125.52,69.70 125.48,69.74 125.58,69.86 125.55,69.89 125.65,70.01 125.68,69.98 125.78,70.10 125.78,70.10 125.88,70.22 125.88,70.22 125.98,70.34 125.99,70.33 126.09,70.45 126.06,70.48 126.16,70.60 126.15,70.61 126.25,70.73 126.25,70.73 126.35,70.85 126.36,70.84 126.46,70.96 126.47,70.96 126.56,71.08 126.59,71.06 126.61,71.09L126.35,71.30A41.0,41.0 0 0 0 122.97,67.59ZM126.79,71.86L127.10,71.62 127.19,71.75 127.12,71.81 127.21,71.93 127.31,71.85 127.41,71.98 127.42,71.97 127.51,72.10 127.67,71.98 127.77,72.11 128.77,71.36 128.87,71.49 129.92,70.71 130.02,70.84 129.10,71.52 129.19,71.65 128.14,72.42 128.23,72.55 127.88,72.80 127.97,72.93 127.95,72.95 128.04,73.07 128.08,73.05 128.17,73.18 128.19,73.16 128.28,73.29 128.30,73.27 128.39,73.40 128.33,73.44 128.42,73.57 128.41,73.58 128.50,73.71 128.49,73.72 128.58,73.85 128.58,73.85 128.66,73.98 128.69,73.96 128.78,74.09 128.86,74.03 128.95,74.17 128.89,74.21 128.97,74.34 128.95,74.35 129.04,74.48 129.03,74.49 129.12,74.62 129.15,74.60 129.18,74.65L128.89,74.83A41.0,41.0 0 0 0 126.79,71.86ZM129.27,75.44L129.63,75.22 129.71,75.35 129.64,75.39 129.72,75.53 129.73,75.52 129.82,75.65 129.85,75.63 129.93,75.77 129.95,75.75 130.03,75.89 129.93,75.95 130.01,76.09 130.10,76.03 130.18,76.17 130.19,76.16 130.27,76.30 130.20,76.34 130.28,76.48 130.27,76.48 130.35,76.61 130.32,76.63 130.40,76.77 130.47,76.73 130.54,76.86 130.51,76.88 130.59,77.02 130.58,77.02 130.66,77.16 130.64,77.17 130.71,77.31 130.79,77.27 130.87,77.40 130.77,77.46 130.84,77.60 130.95,77.54 131.02,77.68 130.93,77.73 131.00,77.87 131.04,77.85 131.11,77.99 131.09,78.00 131.16,78.14 131.13,78.15 131.21,78.29 131.21,78.29 131.28,78.43 131.28,78.43 131.35,78.57 131.34,78.57 131.41,78.71 131.44,78.70 131.47,78.76L131.19,78.90A41.0,41.0 0 0 0 129.27,75.44ZM131.50,79.54L131.86,79.37 131.92,79.51 132.32,79.33 132.39,79.47 133.69,78.87 133.76,79.02 134.37,78.74 134.44,78.89 133.95,79.11 134.02,79.27 132.71,79.85 132.77,80.00 132.22,80.24 132.28,80.39 132.22,80.41 132.28,80.56 132.29,80.56 132.35,80.70 132.36,80.70 132.42,80.84 132.52,80.80 132.58,80.94 132.61,80.93 132.67,81.07 133.04,80.92 133.10,81.07 134.52,80.48 134.58,80.64 135.38,80.31 135.44,80.47 134.22,80.96 134.28,81.11 133.30,81.50 133.35,81.65 132.96,81.81 133.02,81.95 132.97,81.97 133.03,82.12 132.97,82.14 133.02,82.29 133.10,82.26 133.15,82.41 133.12,82.42 133.17,82.57 133.36,82.50 133.42,82.65 133.87,82.48 133.93,82.63 134.60,82.38 134.65,82.54 134.96,82.43 135.02,82.58 134.47,82.77 134.52,82.93 134.00,83.11 134.06,83.26 133.64,83.40 133.69,83.55 133.62,83.58 133.68,83.72 133.64,83.74 133.69,83.88 133.69,83.89 133.74,84.03 133.86,84.00 133.91,84.15 134.33,84.01 134.38,84.16 134.73,84.05 134.78,84.20 134.53,84.28 134.57,84.43 134.05,84.60 134.10,84.75 133.95,84.79 133.99,84.94 133.98,84.95 134.02,85.10 134.04,85.09 134.08,85.25 134.23,85.20 134.27,85.35 134.68,85.24 134.72,85.39 135.64,85.13 135.68,85.28 136.36,85.09 136.41,85.25 137.36,84.98 137.40,85.15 136.99,85.26 137.04,85.42 135.70,85.78 135.74,85.94 134.79,86.19 134.83,86.35 134.50,86.44 134.54,86.59 134.39,86.63 134.43,86.78 134.41,86.78 134.45,86.93 134.47,86.93 134.50,87.08 134.54,87.08 134.58,87.23 134.51,87.24 134.55,87.40 134.67,87.37 134.71,87.52 134.66,87.53 134.70,87.68 134.71,87.68 134.74,87.83 134.79,87.82 134.82,87.98 134.73,88.00 134.76,88.15 134.78,88.15 134.81,88.30 134.90,88.28 134.93,88.44 135.00,88.42 135.03,88.58 135.29,88.52 135.32,88.68 136.16,88.51 136.19,88.67 137.13,88.48 137.16,88.64 137.54,88.57 137.57,88.73 137.36,88.77 137.39,88.93 136.34,89.13 136.36,89.29 135.35,89.48 135.37,89.64 135.14,89.68 135.17,89.83 135.21,89.83 135.23,89.98 135.19,89.99 135.21,90.14 135.42,90.11 135.44,90.27 136.11,90.15 136.14,90.31 137.03,90.17 137.06,90.33 138.07,90.17 138.09,90.34 137.36,90.45 137.38,90.62 136.15,90.80 136.18,90.96 135.64,91.03 135.64,91.04L134.98,91.13A41.0,41.0 0 0 0 131.50,79.54ZM135.07,91.84L135.45,91.79 135.47,91.95 135.48,91.95 135.50,92.11 135.70,92.08 135.72,92.24 136.14,92.19 136.16,92.35 136.56,92.30 136.58,92.46 136.09,92.52 136.11,92.67 135.74,92.71 135.76,92.87 135.68,92.88 135.70,93.03 135.88,93.02 135.90,93.17 136.37,93.13 136.39,93.29 136.73,93.26 136.75,93.42 136.37,93.45 136.38,93.61 136.01,93.64 136.02,93.80 135.69,93.82 135.70,93.98 135.63,93.99 135.64,94.14 135.60,94.15 135.62,94.30 135.62,94.30 135.63,94.46 135.73,94.45 135.74,94.61 136.29,94.58 136.30,94.74 137.50,94.67 137.51,94.84 138.02,94.81 138.03,94.98 137.43,95.00 137.44,95.17 136.19,95.22 136.20,95.38 135.73,95.40 135.74,95.55 135.74,95.55 135.75,95.71 135.78,95.71 135.78,95.87 135.79,95.87 135.79,96.02 135.76,96.02 135.76,96.18 135.70,96.18 135.71,96.28L135.39,96.28A41.0,41.0 0 0 0 135.07,91.84Z" fill="#2e8b3a" stroke="#2e8b3a" stroke-width="0.15"/>
<path d="M135.40,97.00A41.0,41.0 0 0 1 130.90,115.67M130.57,116.30A41.0,41.0 0 0 1 118.25,130.35M117.66,130.76A41.0,41.0 0 0 1 103.62,136.95M102.92,137.11A41.0,41.0 0 0 1 88.19,137.53M87.49,137.41A41.0,41.0 0 0 1 74.24,132.70M73.62,132.34A41.0,41.0 0 0 1 63.44,123.88M62.97,123.33A41.0,41.0 0 0 1 56.55,112.77M56.29,112.11A41.0,41.0 0 0 1 53.61,101.17M53.55,100.45A41.0,41.0 0 0 1 54.05,89.72M54.18,89.02A41.0,41.0 0 0 1 57.48,79.17M57.80,78.53A41.0,41.0 0 0 1 63.68,69.84M64.16,69.31A41.0,41.0 0 0 1 72.06,62.62M72.66,62.24A41.0,41.0 0 0 1 80.66,58.37M81.34,58.14A41.0,41.0 0 0 1 89.45,56.30M90.16,56.22A41.0,41.0 0 0 1 98.09,56.17M98.80,56.24A41.0,41.0 0 0 1 105.70,57.59M106.38,57.79A41.0,41.0 0 0 1 112.41,60.17M113.05,60.49A41.0,41.0 0 0 1 118.38,63.75M118.96,64.17A41.0,41.0 0 0 1 122.45,67.10M122.97,67.59A41.0,41.0 0 0 1 126.35,71.30M126.79,71.86A41.0,41.0 0 0 1 128.89,74.83M129.27,75.44A41.0,41.0 0 0 1 131.19,78.90M131.50,79.54A41.0,41.0 0 0 1 134.98,91.13M135.07,91.84A41.0,41.0 0 0 1 135.39,96.28" stroke="#5fb36a" stroke-width="0.5" fill="none"/>
<path d="M131.90,97.00A37.5,37.5 0 0 1 127.79,114.08L109.89,104.92A17.4,17.4 0 0 0 111.80,97.00ZM127.48,114.66A37.5,37.5 0 0 1 116.21,127.51L104.52,111.15A17.4,17.4 0 0 0 109.75,105.19ZM115.67,127.88A37.5,37.5 0 0 1 102.83,133.54L98.31,113.95A17.4,17.4 0 0 0 104.27,111.33ZM102.19,133.68A37.5,37.5 0 0 1 88.72,134.07L91.77,114.20A17.4,17.4 0 0 0 98.01,114.02ZM88.08,133.96A37.5,37.5 0 0 1 75.96,129.65L85.84,112.15A17.4,17.4 0 0 0 91.47,114.15ZM75.39,129.33A37.5,37.5 0 0 1 66.08,121.58L81.26,108.41A17.4,17.4 0 0 0 85.58,112.00ZM65.66,121.08A37.5,37.5 0 0 1 59.79,111.42L78.34,103.69A17.4,17.4 0 0 0 81.06,108.18ZM59.54,110.82A37.5,37.5 0 0 1 57.09,100.81L77.09,98.77A17.4,17.4 0 0 0 78.22,103.41ZM57.03,100.16A37.5,37.5 0 0 1 57.50,90.34L77.28,93.91A17.4,17.4 0 0 0 77.06,98.47ZM57.62,89.70A37.5,37.5 0 0 1 60.63,80.69L78.73,89.43A17.4,17.4 0 0 0 77.33,93.61ZM60.92,80.10A37.5,37.5 0 0 1 66.31,72.16L81.36,85.47A17.4,17.4 0 0 0 78.87,89.16ZM66.74,71.67A37.5,37.5 0 0 1 73.97,65.56L84.92,82.41A17.4,17.4 0 0 0 81.57,85.25ZM74.52,65.20A37.5,37.5 0 0 1 81.83,61.67L88.57,80.61A17.4,17.4 0 0 0 85.17,82.25ZM82.45,61.45A37.5,37.5 0 0 1 89.87,59.77L92.30,79.73A17.4,17.4 0 0 0 88.86,80.51ZM90.52,59.70A37.5,37.5 0 0 1 97.78,59.65L95.97,79.67A17.4,17.4 0 0 0 92.60,79.69ZM98.43,59.72A37.5,37.5 0 0 1 104.73,60.95L99.19,80.27A17.4,17.4 0 0 0 96.27,79.70ZM105.36,61.14A37.5,37.5 0 0 1 110.87,63.31L102.04,81.37A17.4,17.4 0 0 0 99.49,80.36ZM111.46,63.60A37.5,37.5 0 0 1 116.33,66.58L104.58,82.89A17.4,17.4 0 0 0 102.31,81.50ZM116.86,66.97A37.5,37.5 0 0 1 120.06,69.65L106.31,84.31A17.4,17.4 0 0 0 104.82,83.07ZM120.53,70.10A37.5,37.5 0 0 1 123.62,73.49L107.96,86.09A17.4,17.4 0 0 0 106.53,84.52ZM124.02,74.01A37.5,37.5 0 0 1 125.95,76.72L109.04,87.59A17.4,17.4 0 0 0 108.15,86.33ZM126.29,77.28A37.5,37.5 0 0 1 128.05,80.44L110.01,89.32A17.4,17.4 0 0 0 109.20,87.85ZM128.33,81.03A37.5,37.5 0 0 1 131.51,91.63L111.62,94.51A17.4,17.4 0 0 0 110.14,89.59ZM131.60,92.28A37.5,37.5 0 0 1 131.89,96.35L111.80,96.70A17.4,17.4 0 0 0 111.66,94.81Z" fill="none" stroke="#8890aa" stroke-width="0.5"/>
<path d="M122.42,100.01h0.01M123.60,99.77h0.01M122.90,101.92h0.01M125.72,99.93h0.01M123.62,101.20h0.01M121.25,104.34h0.01M120.49,104.60h0.01M120.61,109.23h0.01M121.16,104.17h0.01M122.14,97.30h0.01M121.43,107.01h0.01M121.71,102.52h0.01M118.97,106.63h0.01M115.90,103.33h0.01M117.84,108.24h0.01M124.21,98.31h0.01M122.39,106.91h0.01M120.87,107.88h0.01M122.46,101.39h0.01M120.61,106.82h0.01M126.84,104.53h0.01M122.58,107.71h0.01M123.84,105.01h0.01M123.50,102.61h0.01M120.31,102.43h0.01M121.32,107.72h0.01M124.31,97.83h0.01M123.14,101.73h0.01M113.95,98.13h0.01M119.62,108.60h0.01M122.66,97.71h0.01M121.37,109.32h0.01M116.99,100.69h0.01M123.60,105.15h0.01M120.41,108.21h0.01M122.82,98.97h0.01M114.36,106.39h0.01M121.87,102.17h0.01M121.20,104.44h0.01M120.02,109.90h0.01M119.30,107.69h0.01M120.56,108.36h0.01M123.72,99.13h0.01M116.95,99.77h0.01M121.56,107.11h0.01M119.97,100.88h0.01M114.70,100.84h0.01M119.60,103.62h0.01M119.92,102.52h0.01M115.12,102.99h0.01M115.82,100.51h0.01M119.34,109.51h0.01M122.10,109.13h0.01M123.34,99.76h0.01M124.10,100.34h0.01M123.87,106.71h0.01M118.03,107.61h0.01M119.96,108.22h0.01M124.06,97.15h0.01M122.24,102.76h0.01M120.64,102.01h0.01M122.75,105.29h0.01M122.81,102.73h0.01M123.74,108.46h0.01M123.90,98.06h0.01M121.65,107.36h0.01M123.18,102.80h0.01M121.13,101.42h0.01M121.16,109.36h0.01M121.40,107.77h0.01M125.13,97.12h0.01M122.15,103.04h0.01M121.63,103.81h0.01M123.35,97.39h0.01M120.36,101.64h0.01M123.01,100.45h0.01M122.25,102.25h0.01M120.12,104.74h0.01M123.36,99.99h0.01M123.17,103.69h0.01M121.06,102.38h0.01M119.32,102.17h0.01M120.32,104.19h0.01M121.43,108.25h0.01M124.23,102.18h0.01M123.54,99.40h0.01M119.00,106.84h0.01M123.83,99.47h0.01M119.03,103.70h0.01M123.40,104.31h0.01M125.70,98.56h0.01M123.63,104.97h0.01M119.74,107.86h0.01M122.57,106.17h0.01M119.73,103.03h0.01M120.82,99.75h0.01M121.15,110.05h0.01M121.38,109.90h0.01M124.35,101.18h0.01M122.97,102.55h0.01M122.09,100.20h0.01M122.32,103.49h0.01M122.03,109.94h0.01M121.34,100.36h0.01M123.10,101.82h0.01M121.27,109.27h0.01M122.97,104.41h0.01M121.77,100.33h0.01M121.18,110.50h0.01M123.05,101.82h0.01M122.58,104.57h0.01M127.78,103.19h0.01M126.25,102.45h0.01M120.62,99.91h0.01M122.50,102.14h0.01M119.93,106.02h0.01M122.07,108.06h0.01M123.00,106.10h0.01M119.41,109.36h0.01M121.79,104.07h0.01M119.67,98.26h0.01M122.45,105.99h0.01M119.39,108.97h0.01M119.61,108.59h0.01M123.88,102.80h0.01M121.30,104.16h0.01M123.33,106.41h0.01M120.02,102.71h0.01M122.68,104.09h0.01M120.24,101.31h0.01M120.10,109.14h0.01M120.95,100.24h0.01M122.16,98.88h0.01M121.70,104.23h0.01M122.63,110.58h0.01M122.64,105.99h0.01M121.24,110.01h0.01M120.13,109.28h0.01M122.11,97.96h0.01M113.83,104.28h0.01M118.12,102.12h0.01M118.88,101.75h0.01M121.00,97.69h0.01M121.60,104.34h0.01M122.08,107.64h0.01M120.09,106.82h0.01M125.58,102.47h0.01M121.12,106.38h0.01M122.89,102.69h0.01M112.18,116.80h0.01M119.11,110.51h0.01M118.28,114.66h0.01M111.77,118.31h0.01M118.57,114.55h0.01M113.26,117.71h0.01M118.24,116.61h0.01M114.58,115.43h0.01M112.73,117.47h0.01M110.27,116.57h0.01M114.34,115.17h0.01M112.44,118.28h0.01M112.77,120.11h0.01M112.49,119.18h0.01M111.32,117.37h0.01M115.04,115.34h0.01M121.13,113.24h0.01M118.59,112.34h0.01M111.68,118.56h0.01M112.23,118.99h0.01M115.62,114.08h0.01M111.76,119.54h0.01M114.11,122.84h0.01M116.86,109.32h0.01M112.84,115.80h0.01M119.96,111.18h0.01M118.21,111.76h0.01M115.57,123.36h0.01M113.16,116.25h0.01M109.92,110.27h0.01M112.33,118.16h0.01M108.18,112.68h0.01M120.94,112.13h0.01M113.90,115.33h0.01M113.09,119.88h0.01M113.15,111.94h0.01M114.68,120.56h0.01M115.99,115.95h0.01M109.58,113.86h0.01M115.23,115.63h0.01M112.93,119.15h0.01M118.76,111.54h0.01M112.86,116.51h0.01M115.57,118.96h0.01M117.26,113.22h0.01M112.14,119.57h0.01M113.46,115.82h0.01M118.23,110.27h0.01M117.10,115.64h0.01M120.45,111.20h0.01M110.60,118.55h0.01M118.78,111.33h0.01M113.98,116.34h0.01M116.62,113.78h0.01M111.85,116.07h0.01M120.12,115.79h0.01M116.12,114.34h0.01M111.52,114.22h0.01M121.29,112.33h0.01M113.61,118.28h0.01M115.34,114.68h0.01M120.39,111.48h0.01M116.91,109.40h0.01M110.43,110.50h0.01M109.24,117.60h0.01M113.05,120.03h0.01M118.51,113.96h0.01M114.09,115.69h0.01M114.71,117.22h0.01M111.67,117.17h0.01M115.28,117.78h0.01M116.71,114.94h0.01M116.21,115.54h0.01M116.17,115.36h0.01M118.25,111.17h0.01M112.54,107.72h0.01M114.23,119.22h0.01M111.63,117.53h0.01M111.23,108.01h0.01M115.68,116.50h0.01M111.49,117.14h0.01M115.01,111.52h0.01M117.69,112.18h0.01M119.89,114.26h0.01M116.98,112.22h0.01M110.18,118.41h0.01M118.50,112.87h0.01M111.02,119.42h0.01M115.33,118.83h0.01M115.86,117.88h0.01M116.72,110.82h0.01M112.34,108.75h0.01M112.48,119.21h0.01M120.20,111.39h0.01M113.44,115.87h0.01M112.50,120.24h0.01M113.80,114.86h0.01M111.40,117.66h0.01M120.46,112.38h0.01M110.90,119.01h0.01M117.19,112.76h0.01M110.73,118.34h0.01M111.69,110.71h0.01M116.20,114.82h0.01M111.77,113.83h0.01M113.34,110.08h0.01M121.23,111.86h0.01M113.21,120.39h0.01M114.43,117.83h0.01M119.72,112.10h0.01M111.21,119.25h0.01M117.47,114.36h0.01M110.89,107.68h0.01M111.51,117.43h0.01M115.46,120.49h0.01M122.26,113.86h0.01M117.36,109.87h0.01M118.75,111.76h0.01M117.88,113.84h0.01M113.97,113.29h0.01M118.57,111.08h0.01M112.00,121.03h0.01M115.66,117.17h0.01M114.54,110.12h0.01M114.98,117.19h0.01M110.86,117.47h0.01M122.53,113.97h0.01M117.70,112.76h0.01M112.49,119.92h0.01M115.77,119.16h0.01M110.06,111.92h0.01M111.80,120.01h0.01M116.24,114.65h0.01M114.77,115.64h0.01M119.42,112.29h0.01M117.72,111.83h0.01M115.18,116.75h0.01M112.97,116.77h0.01M115.17,117.08h0.01M116.52,115.98h0.01M110.14,115.94h0.01M113.84,116.94h0.01M118.22,111.98h0.01M113.18,120.23h0.01M114.53,117.81h0.01M100.96,122.22h0.01M108.06,118.39h0.01M101.43,124.48h0.01M101.50,123.33h0.01M104.26,119.65h0.01M109.14,122.02h0.01M102.97,126.62h0.01M111.69,125.89h0.01M107.17,123.25h0.01M111.66,125.73h0.01M101.70,117.82h0.01M108.99,119.96h0.01M103.03,123.65h0.01M105.85,124.06h0.01M110.98,122.36h0.01M106.89,120.39h0.01M109.56,121.86h0.01M104.31,123.05h0.01M101.20,125.67h0.01M100.81,124.40h0.01M107.90,124.58h0.01M106.41,121.82h0.01M105.98,123.99h0.01M108.82,118.74h0.01M106.67,122.39h0.01M109.63,127.19h0.01M108.57,122.17h0.01M108.32,120.28h0.01M104.37,124.36h0.01M112.89,125.27h0.01M103.54,124.68h0.01M105.94,126.27h0.01M108.25,121.18h0.01M102.63,127.24h0.01M102.21,119.78h0.01M109.22,121.86h0.01M106.44,119.32h0.01M101.01,117.04h0.01M103.32,129.23h0.01M104.38,128.77h0.01M103.54,117.18h0.01M104.01,126.36h0.01M109.65,122.85h0.01M107.34,120.98h0.01M104.76,120.40h0.01M102.69,124.90h0.01M103.43,125.14h0.01M102.76,124.58h0.01M109.25,121.81h0.01M108.35,122.20h0.01M108.28,127.11h0.01M105.54,129.12h0.01M107.26,121.74h0.01M103.86,122.96h0.01M109.43,122.69h0.01M104.35,123.35h0.01M108.01,122.13h0.01M104.61,117.71h0.01M103.88,123.69h0.01M104.99,123.60h0.01M100.97,115.97h0.01M102.56,123.12h0.01M109.69,121.78h0.01M110.20,124.03h0.01M103.73,117.24h0.01M107.47,120.15h0.01M105.10,115.81h0.01M110.18,120.65h0.01M105.07,121.36h0.01M103.00,122.05h0.01M107.64,120.85h0.01M108.59,122.89h0.01M103.11,125.01h0.01M108.04,121.94h0.01M104.36,122.04h0.01M101.89,125.47h0.01M106.61,120.66h0.01M109.89,120.36h0.01M106.50,116.23h0.01M106.37,121.01h0.01M105.56,123.03h0.01M104.52,121.06h0.01M103.23,124.30h0.01M104.54,122.19h0.01M102.65,126.20h0.01M109.07,119.34h0.01M103.42,121.56h0.01M104.98,123.79h0.01M100.13,120.06h0.01M103.93,121.07h0.01M104.52,125.00h0.01M106.93,122.21h0.01M105.55,122.61h0.01M104.04,122.31h0.01M108.36,118.64h0.01M101.54,123.42h0.01M108.79,119.17h0.01M102.98,129.67h0.01M103.75,120.95h0.01M106.55,120.64h0.01M101.92,124.02h0.01M103.29,126.63h0.01M105.96,121.68h0.01M112.17,123.79h0.01M107.75,123.80h0.01M101.91,126.96h0.01M102.99,126.47h0.01M107.10,121.90h0.01M109.31,120.46h0.01M101.71,123.99h0.01M104.58,124.50h0.01M104.20,121.51h0.01M106.97,121.47h0.01M105.26,122.51h0.01M105.20,121.96h0.01M100.45,122.78h0.01M103.42,125.43h0.01M106.36,125.43h0.01M97.41,123.03h0.01M94.95,125.73h0.01M94.04,125.82h0.01M96.33,129.97h0.01M95.82,119.75h0.01M96.27,127.92h0.01M98.44,123.23h0.01M99.28,120.13h0.01M98.99,123.73h0.01M96.60,129.21h0.01M92.37,121.05h0.01M98.72,123.73h0.01M99.14,125.82h0.01M97.75,123.18h0.01M99.80,124.36h0.01M99.21,124.48h0.01M93.09,124.20h0.01M99.37,125.18h0.01M93.57,123.35h0.01M98.14,126.09h0.01M97.07,122.12h0.01M95.46,124.80h0.01M91.43,123.44h0.01M95.37,125.07h0.01M93.76,126.37h0.01M91.06,123.62h0.01M92.38,126.28h0.01M98.56,126.04h0.01M94.31,124.39h0.01M91.76,125.11h0.01M92.99,124.85h0.01M98.59,126.91h0.01M100.17,124.64h0.01M92.33,122.99h0.01M91.73,116.63h0.01M96.42,121.74h0.01M97.60,122.79h0.01M90.34,127.03h0.01M99.99,125.97h0.01M96.68,124.48h0.01M94.24,124.32h0.01M90.39,125.95h0.01M95.71,126.74h0.01M92.34,123.86h0.01M97.38,125.98h0.01M92.00,125.14h0.01M98.11,127.22h0.01M94.87,117.25h0.01M92.63,124.84h0.01M94.90,124.87h0.01M99.96,125.27h0.01M91.47,123.37h0.01M92.61,125.78h0.01M96.52,126.12h0.01M91.89,125.15h0.01M97.59,124.76h0.01M96.77,125.64h0.01M93.61,126.60h0.01M91.31,125.87h0.01M91.50,122.38h0.01M97.97,123.28h0.01M97.13,123.84h0.01M93.08,126.17h0.01M91.14,125.85h0.01M93.90,126.58h0.01M94.00,127.81h0.01M95.58,126.21h0.01M94.34,126.67h0.01M97.19,125.98h0.01M99.33,124.18h0.01M90.71,127.20h0.01M99.26,125.70h0.01M93.83,126.36h0.01M98.01,118.57h0.01M90.48,125.13h0.01M92.69,126.13h0.01M98.52,121.44h0.01M95.84,127.45h0.01M91.46,124.73h0.01M92.73,128.28h0.01M93.45,123.17h0.01M97.46,120.85h0.01M91.29,117.53h0.01M95.95,125.35h0.01M95.51,124.92h0.01M94.15,126.30h0.01M99.07,125.94h0.01M98.33,127.47h0.01M99.24,128.15h0.01M99.05,123.81h0.01M93.04,122.74h0.01M100.19,126.78h0.01M99.54,122.48h0.01M91.73,124.85h0.01M95.14,126.93h0.01M96.89,128.03h0.01M97.27,123.94h0.01M93.96,126.02h0.01M90.57,125.08h0.01M94.28,118.27h0.01M97.52,129.69h0.01M94.07,126.19h0.01M94.99,124.95h0.01M90.35,128.70h0.01M92.33,125.33h0.01M91.18,125.41h0.01M94.77,128.20h0.01M98.98,124.65h0.01M98.74,122.70h0.01M90.13,126.59h0.01M98.78,124.84h0.01M96.28,125.47h0.01M95.14,124.60h0.01M100.04,125.93h0.01M88.39,122.79h0.01M84.99,124.08h0.01M83.52,124.33h0.01M83.45,125.17h0.01M83.00,122.82h0.01M86.11,124.28h0.01M84.32,125.39h0.01M84.14,123.96h0.01M84.44,121.49h0.01M89.53,123.55h0.01M86.58,125.83h0.01M82.30,121.39h0.01M84.30,119.94h0.01M88.03,125.11h0.01M81.99,125.40h0.01M84.07,123.35h0.01M84.04,118.05h0.01M84.35,120.70h0.01M87.79,124.99h0.01M87.17,123.24h0.01M81.21,124.14h0.01M83.10,123.56h0.01M83.30,124.45h0.01M82.93,117.51h0.01M87.28,125.53h0.01M82.65,125.19h0.01M81.05,122.60h0.01M86.59,125.09h0.01M80.30,123.10h0.01M83.37,124.24h0.01M85.35,125.10h0.01M83.28,123.27h0.01M82.64,124.28h0.01M89.27,119.93h0.01M85.74,125.94h0.01M89.02,124.91h0.01M83.45,123.05h0.01M85.45,122.77h0.01M88.38,122.60h0.01M81.03,121.00h0.01M83.59,121.72h0.01M86.12,124.56h0.01M87.03,123.36h0.01M82.95,119.87h0.01M87.49,123.60h0.01M87.10,124.56h0.01M89.71,121.05h0.01M86.28,128.03h0.01M83.92,124.46h0.01M82.00,122.82h0.01M89.51,123.63h0.01M82.96,122.77h0.01M83.08,122.45h0.01M89.00,127.18h0.01M83.65,124.77h0.01M88.61,125.02h0.01M87.94,124.50h0.01M85.37,122.26h0.01M86.58,122.38h0.01M88.92,122.03h0.01M88.73,126.21h0.01M88.31,125.72h0.01M85.77,124.98h0.01M84.03,123.48h0.01M87.21,120.68h0.01M81.39,121.93h0.01M81.38,120.43h0.01M90.15,120.89h0.01M81.80,120.35h0.01M87.83,125.61h0.01M86.15,125.73h0.01M89.56,117.01h0.01M88.61,125.12h0.01M84.46,119.07h0.01M86.22,125.88h0.01M85.90,122.66h0.01M81.79,121.88h0.01M84.83,120.93h0.01M87.65,121.93h0.01M86.03,115.00h0.01M80.58,122.79h0.01M80.47,124.09h0.01M81.94,120.04h0.01M78.79,125.42h0.01M83.69,121.86h0.01M88.17,123.03h0.01M82.21,126.04h0.01M88.80,116.56h0.01M79.86,125.10h0.01M84.11,118.19h0.01M81.71,124.27h0.01M81.57,120.69h0.01M83.54,121.36h0.01M83.97,123.20h0.01M81.01,124.57h0.01M82.73,121.48h0.01M83.58,123.54h0.01M88.93,121.93h0.01M83.13,124.21h0.01M83.73,121.72h0.01M88.68,122.47h0.01M82.08,124.75h0.01M81.55,123.71h0.01M87.28,121.30h0.01M81.96,122.54h0.01M80.72,122.69h0.01M81.45,123.57h0.01M88.09,123.97h0.01M79.05,119.09h0.01M80.84,118.02h0.01M73.81,117.27h0.01M74.64,117.71h0.01M75.24,115.62h0.01M72.64,116.53h0.01M76.72,116.64h0.01M76.90,119.38h0.01M78.47,113.41h0.01M70.87,119.35h0.01M74.57,115.78h0.01M75.81,119.93h0.01M78.99,121.33h0.01M76.42,121.01h0.01M82.47,112.76h0.01M78.45,121.82h0.01M81.58,113.39h0.01M80.54,115.30h0.01M76.28,120.78h0.01M70.58,118.34h0.01M78.66,112.22h0.01M81.01,114.90h0.01M79.49,120.97h0.01M76.39,117.77h0.01M75.71,120.43h0.01M77.71,120.97h0.01M76.09,116.58h0.01M72.64,116.13h0.01M75.75,114.52h0.01M76.18,118.65h0.01M79.13,121.63h0.01M74.70,117.62h0.01M79.40,120.06h0.01M76.28,118.77h0.01M78.84,117.99h0.01M77.93,116.75h0.01M74.75,117.29h0.01M75.06,117.42h0.01M80.18,120.79h0.01M73.35,119.21h0.01M74.98,114.17h0.01M79.33,120.56h0.01M76.59,121.88h0.01M75.42,118.60h0.01M79.27,119.90h0.01M76.79,120.43h0.01M76.91,118.58h0.01M80.42,120.36h0.01M80.50,120.47h0.01M75.67,118.67h0.01M76.46,119.13h0.01M78.02,120.13h0.01M73.12,121.71h0.01M73.07,118.54h0.01M74.46,116.16h0.01M78.10,120.78h0.01M79.53,114.29h0.01M74.71,120.30h0.01M71.72,118.23h0.01M71.74,117.20h0.01M78.60,120.82h0.01M74.23,119.05h0.01M76.07,118.14h0.01M78.61,119.01h0.01M75.37,119.77h0.01M75.87,118.52h0.01M75.09,116.44h0.01M78.96,120.91h0.01M81.51,115.44h0.01M70.52,118.87h0.01M81.03,118.20h0.01M72.50,121.11h0.01M75.94,119.93h0.01M77.81,121.24h0.01M75.05,115.67h0.01M77.26,114.85h0.01M77.66,119.45h0.01M79.02,121.35h0.01M75.81,121.86h0.01M72.61,117.85h0.01M77.81,120.26h0.01M74.88,119.10h0.01M79.22,112.00h0.01M75.76,121.10h0.01M78.20,119.50h0.01M76.13,118.74h0.01M71.73,116.89h0.01M78.33,114.83h0.01M78.20,120.60h0.01M78.64,118.99h0.01M74.53,116.67h0.01M76.61,119.78h0.01M76.74,120.76h0.01M80.52,119.88h0.01M77.85,111.79h0.01M77.06,120.09h0.01M78.09,119.33h0.01M76.48,118.31h0.01M78.21,119.66h0.01M74.79,117.99h0.01M78.26,122.60h0.01M79.77,120.64h0.01M72.26,112.28h0.01M67.97,112.31h0.01M70.62,112.75h0.01M69.72,110.08h0.01M66.84,109.61h0.01M71.29,114.52h0.01M64.38,111.46h0.01M70.64,108.43h0.01M73.60,112.08h0.01M66.66,109.38h0.01M68.90,108.17h0.01M65.93,113.25h0.01M71.42,114.77h0.01M66.81,109.07h0.01M67.63,110.61h0.01M75.23,111.64h0.01M67.56,109.16h0.01M67.57,110.99h0.01M71.88,111.63h0.01M74.55,113.20h0.01M67.61,108.36h0.01M67.11,110.66h0.01M71.16,114.14h0.01M69.92,114.20h0.01M69.20,115.62h0.01M73.54,109.08h0.01M70.59,115.60h0.01M68.58,109.64h0.01M71.66,109.24h0.01M69.30,111.44h0.01M70.46,113.86h0.01M69.27,107.84h0.01M73.10,114.77h0.01M70.67,109.25h0.01M67.26,109.21h0.01M73.18,113.10h0.01M70.68,111.33h0.01M63.88,110.45h0.01M71.14,110.09h0.01M70.33,116.82h0.01M71.62,111.28h0.01M70.01,107.67h0.01M69.34,110.13h0.01M68.77,110.43h0.01M69.63,107.78h0.01M67.36,108.99h0.01M68.79,112.35h0.01M74.26,106.72h0.01M72.07,114.64h0.01M64.73,111.66h0.01M71.32,112.59h0.01M72.78,109.32h0.01M72.27,111.33h0.01M67.78,108.57h0.01M70.59,112.33h0.01M72.34,114.90h0.01M68.97,116.69h0.01M76.22,109.13h0.01M67.37,116.39h0.01M70.59,111.39h0.01M68.55,114.10h0.01M71.61,115.14h0.01M75.80,106.66h0.01M67.34,111.42h0.01M68.77,108.80h0.01M68.17,109.35h0.01M68.92,111.27h0.01M73.09,112.65h0.01M72.07,109.13h0.01M71.74,113.50h0.01M67.65,108.59h0.01M75.06,106.40h0.01M73.38,113.96h0.01M72.59,114.91h0.01M72.12,115.61h0.01M71.52,113.78h0.01M72.14,109.84h0.01M75.28,112.72h0.01M70.39,111.40h0.01M68.82,109.19h0.01M69.93,112.46h0.01M72.14,107.97h0.01M71.81,108.17h0.01M71.71,114.21h0.01M64.79,113.26h0.01M69.96,110.53h0.01M68.63,111.82h0.01M69.55,112.00h0.01M68.52,109.95h0.01M69.20,113.01h0.01M65.42,109.11h0.01M71.20,110.83h0.01M72.21,114.85h0.01M72.74,109.85h0.01M68.44,111.60h0.01M70.15,100.24h0.01M66.42,102.86h0.01M63.74,102.87h0.01M64.87,102.17h0.01M65.77,100.82h0.01M65.71,100.13h0.01M72.08,103.08h0.01M66.61,106.45h0.01M73.90,99.68h0.01M70.90,101.15h0.01M67.75,107.47h0.01M66.81,103.57h0.01M65.97,106.53h0.01M66.14,101.23h0.01M68.99,104.86h0.01M75.69,102.57h0.01M65.12,102.78h0.01M66.31,107.04h0.01M74.13,101.93h0.01M68.58,103.93h0.01M68.17,99.74h0.01M66.95,107.27h0.01M72.04,99.62h0.01M67.81,103.66h0.01M66.98,105.46h0.01M67.91,106.13h0.01M67.12,105.80h0.01M69.09,106.97h0.01M66.79,104.40h0.01M64.78,102.25h0.01M65.37,101.50h0.01M68.64,102.24h0.01M67.71,102.40h0.01M72.60,104.90h0.01M68.12,105.24h0.01M68.13,106.89h0.01M67.79,100.16h0.01M63.27,101.30h0.01M67.42,106.37h0.01M67.99,107.09h0.01M72.13,103.80h0.01M69.87,104.47h0.01M68.21,101.53h0.01M67.66,105.18h0.01M68.69,103.98h0.01M68.50,104.11h0.01M65.16,105.05h0.01M68.05,105.89h0.01M64.26,101.01h0.01M68.63,101.91h0.01M65.57,102.76h0.01M67.40,102.68h0.01M65.75,101.09h0.01M71.60,102.11h0.01M65.18,103.53h0.01M68.90,104.42h0.01M66.62,102.24h0.01M74.44,102.41h0.01M74.74,104.02h0.01M64.07,104.37h0.01M64.74,100.69h0.01M62.47,104.46h0.01M67.42,102.24h0.01M66.93,101.84h0.01M67.05,104.46h0.01M68.44,104.48h0.01M74.38,100.30h0.01M66.35,103.15h0.01M65.30,100.39h0.01M64.56,100.16h0.01M66.00,100.11h0.01M66.85,106.00h0.01M66.28,105.87h0.01M66.99,104.36h0.01M72.88,102.37h0.01M64.17,101.67h0.01M64.59,100.54h0.01M68.45,105.13h0.01M66.62,101.87h0.01M68.01,104.57h0.01M65.70,102.22h0.01M66.00,103.25h0.01M66.65,104.70h0.01M68.54,104.90h0.01M67.58,105.94h0.01M68.06,104.78h0.01M65.18,103.95h0.01M63.81,94.51h0.01M66.78,98.73h0.01M66.08,94.64h0.01M65.20,93.58h0.01M66.78,93.02h0.01M74.69,97.00h0.01M66.21,94.34h0.01M66.64,98.19h0.01M67.90,93.46h0.01M66.26,93.65h0.01M72.38,97.37h0.01M65.93,97.55h0.01M66.73,97.34h0.01M66.00,98.07h0.01M65.32,97.47h0.01M68.13,98.95h0.01M64.42,99.09h0.01M69.51,96.13h0.01M66.06,91.99h0.01M66.23,93.93h0.01M65.38,98.05h0.01M73.30,95.25h0.01M73.54,98.34h0.01M62.51,98.02h0.01M67.95,97.98h0.01M65.49,94.86h0.01M66.28,98.65h0.01M66.16,99.04h0.01M64.15,98.54h0.01M68.40,92.85h0.01M66.41,97.92h0.01M66.89,94.36h0.01M66.09,97.18h0.01M69.63,92.60h0.01M63.11,99.28h0.01M66.29,94.00h0.01M67.10,93.19h0.01M67.68,99.10h0.01M67.91,94.52h0.01M72.97,97.38h0.01M74.66,97.50h0.01M62.28,99.34h0.01M67.00,95.38h0.01M63.18,94.84h0.01M66.22,98.06h0.01M64.45,95.39h0.01M62.85,92.62h0.01M67.25,92.85h0.01M74.69,97.00h0.01M61.88,99.16h0.01M68.01,95.97h0.01M66.21,97.60h0.01M66.83,97.32h0.01M66.63,97.52h0.01M66.85,93.23h0.01M64.30,95.83h0.01M65.54,95.08h0.01M66.55,97.07h0.01M67.23,93.02h0.01M67.70,96.05h0.01M66.76,95.20h0.01M66.63,98.57h0.01M69.01,92.99h0.01M69.45,97.27h0.01M67.98,99.01h0.01M64.79,94.78h0.01M67.37,95.73h0.01M66.72,92.39h0.01M64.48,97.42h0.01M70.51,98.24h0.01M68.98,95.19h0.01M67.16,97.82h0.01M67.41,97.56h0.01M65.09,94.25h0.01M64.31,97.20h0.01M65.98,92.01h0.01M66.70,98.71h0.01M63.90,95.57h0.01M65.25,99.43h0.01M66.07,92.65h0.01M66.24,92.01h0.01M64.78,98.81h0.01M65.06,98.87h0.01M68.70,86.91h0.01M67.62,88.44h0.01M67.81,90.25h0.01M67.97,85.28h0.01M66.73,86.98h0.01M67.49,88.66h0.01M66.21,90.41h0.01M68.59,87.03h0.01M68.61,91.82h0.01M67.51,89.15h0.01M67.77,87.31h0.01M68.95,87.00h0.01M70.59,86.57h0.01M63.47,86.28h0.01M68.27,89.61h0.01M75.18,92.24h0.01M69.12,85.24h0.01M67.20,87.60h0.01M67.34,84.98h0.01M67.39,89.55h0.01M69.04,91.75h0.01M72.65,87.19h0.01M63.64,88.64h0.01M67.80,87.02h0.01M65.85,87.44h0.01M67.75,86.67h0.01M67.96,86.65h0.01M74.59,89.67h0.01M67.27,85.85h0.01M66.14,86.38h0.01M68.33,89.85h0.01M68.88,86.64h0.01M66.35,87.69h0.01M66.71,87.33h0.01M68.54,89.38h0.01M66.70,85.02h0.01M67.03,89.29h0.01M66.05,91.27h0.01M67.31,87.74h0.01M68.28,91.66h0.01M62.70,85.35h0.01M67.60,88.27h0.01M66.52,90.02h0.01M63.87,85.75h0.01M65.61,87.94h0.01M66.40,89.31h0.01M68.96,90.76h0.01M66.36,91.15h0.01M67.90,88.77h0.01M74.61,87.64h0.01M66.58,89.62h0.01M68.22,89.47h0.01M68.20,84.51h0.01M66.35,88.00h0.01M64.46,88.91h0.01M75.24,89.45h0.01M62.68,89.33h0.01M69.94,87.07h0.01M69.63,85.71h0.01M68.38,89.11h0.01M66.42,86.50h0.01M69.51,88.74h0.01M67.68,89.43h0.01M66.72,89.48h0.01M66.13,89.88h0.01M68.08,89.42h0.01M67.93,86.49h0.01M69.07,85.70h0.01M69.64,86.47h0.01M68.65,85.62h0.01M71.02,88.15h0.01M67.10,86.30h0.01M63.98,90.45h0.01M65.76,90.82h0.01M64.34,90.82h0.01M67.21,89.61h0.01M70.66,88.23h0.01M72.36,89.90h0.01M69.12,85.22h0.01M66.50,86.94h0.01M72.46,80.54h0.01M69.78,82.09h0.01M71.89,79.74h0.01M73.56,81.24h0.01M72.03,77.36h0.01M69.59,82.58h0.01M76.53,86.90h0.01M66.95,82.47h0.01M75.52,85.55h0.01M71.13,84.28h0.01M66.72,78.90h0.01M70.23,82.54h0.01M76.35,81.98h0.01M72.69,80.17h0.01M70.74,80.06h0.01M69.85,82.30h0.01M72.73,79.62h0.01M71.50,79.23h0.01M68.99,80.70h0.01M69.90,83.06h0.01M74.94,80.12h0.01M75.05,80.23h0.01M72.69,83.33h0.01M68.85,82.89h0.01M71.37,78.94h0.01M70.27,80.53h0.01M73.34,82.52h0.01M71.45,83.01h0.01M70.96,84.38h0.01M72.47,80.89h0.01M70.26,79.04h0.01M71.18,79.91h0.01M68.51,83.43h0.01M71.79,81.92h0.01M69.57,83.44h0.01M72.82,85.67h0.01M73.46,78.70h0.01M71.48,79.73h0.01M69.90,83.80h0.01M74.24,84.60h0.01M72.40,82.43h0.01M72.67,81.36h0.01M74.54,81.94h0.01M71.99,81.23h0.01M71.41,82.11h0.01M73.28,79.94h0.01M72.37,79.34h0.01M70.46,77.68h0.01M72.28,80.28h0.01M71.73,85.22h0.01M69.53,82.35h0.01M69.78,81.97h0.01M72.69,80.15h0.01M69.94,79.98h0.01M71.53,81.12h0.01M73.77,86.50h0.01M73.73,80.51h0.01M71.77,77.99h0.01M71.04,77.10h0.01M68.87,74.78h0.01M72.07,78.49h0.01M72.15,78.72h0.01M71.20,82.11h0.01M68.74,81.13h0.01M73.86,79.46h0.01M71.96,83.16h0.01M75.91,81.37h0.01M69.01,81.32h0.01M77.57,83.90h0.01M71.19,82.22h0.01M68.09,78.53h0.01M74.44,79.52h0.01M68.18,83.10h0.01M68.72,83.35h0.01M73.44,81.35h0.01M69.03,80.74h0.01M68.93,79.48h0.01M73.25,78.40h0.01M72.17,77.98h0.01M70.09,80.54h0.01M70.91,81.17h0.01M78.59,78.33h0.01M77.22,74.73h0.01M73.57,77.15h0.01M79.75,75.36h0.01M75.23,78.83h0.01M75.43,77.25h0.01M74.31,76.70h0.01M76.93,73.06h0.01M78.70,77.36h0.01M71.75,72.56h0.01M73.19,74.94h0.01M73.90,77.56h0.01M77.06,76.98h0.01M77.89,77.23h0.01M79.39,74.25h0.01M77.91,74.55h0.01M74.18,77.39h0.01M78.87,74.79h0.01M79.18,75.30h0.01M77.10,78.31h0.01M77.84,73.21h0.01M76.29,75.99h0.01M75.72,73.12h0.01M75.77,75.16h0.01M77.58,74.08h0.01M75.81,78.28h0.01M77.69,74.38h0.01M77.49,75.99h0.01M75.15,73.01h0.01M76.79,76.48h0.01M73.83,76.08h0.01M73.90,78.12h0.01M78.14,73.47h0.01M74.45,76.02h0.01M75.15,70.24h0.01M81.93,81.62h0.01M72.42,76.18h0.01M76.20,77.63h0.01M75.50,78.98h0.01M77.49,72.96h0.01M73.45,76.37h0.01M76.27,77.69h0.01M75.54,73.19h0.01M80.09,75.04h0.01M75.21,75.62h0.01M76.42,75.73h0.01M73.73,74.19h0.01M74.07,77.70h0.01M74.68,75.44h0.01M78.35,79.10h0.01M74.17,76.48h0.01M78.88,74.35h0.01M75.16,78.44h0.01M75.19,78.03h0.01M77.69,75.44h0.01M77.42,71.22h0.01M79.27,75.03h0.01M74.66,70.57h0.01M78.88,75.17h0.01M78.49,79.02h0.01M73.52,75.02h0.01M79.40,76.84h0.01M80.80,77.43h0.01M79.86,75.71h0.01M81.54,79.06h0.01M79.82,76.84h0.01M74.04,76.50h0.01M76.89,72.72h0.01M72.39,75.39h0.01M74.74,75.19h0.01M81.97,81.47h0.01M74.82,77.45h0.01M77.41,72.12h0.01M77.24,75.33h0.01M77.27,73.82h0.01M74.20,76.20h0.01M73.72,76.96h0.01M79.25,75.80h0.01M76.31,74.32h0.01M83.55,73.37h0.01M80.63,74.26h0.01M82.26,73.92h0.01M79.61,69.96h0.01M84.33,71.43h0.01M80.28,72.92h0.01M82.06,71.11h0.01M79.58,71.06h0.01M82.82,70.80h0.01M81.40,76.13h0.01M80.60,69.30h0.01M84.55,69.93h0.01M83.15,71.91h0.01M83.87,74.70h0.01M85.71,77.74h0.01M79.67,72.78h0.01M80.38,70.95h0.01M83.96,72.46h0.01M82.55,72.03h0.01M80.49,72.61h0.01M80.67,73.14h0.01M84.57,70.93h0.01M79.13,72.10h0.01M83.04,69.21h0.01M82.43,74.56h0.01M82.43,68.78h0.01M80.53,72.48h0.01M84.18,69.03h0.01M83.69,72.67h0.01M79.11,72.46h0.01M82.81,76.50h0.01M81.26,73.57h0.01M83.15,71.89h0.01M81.02,71.15h0.01M82.53,70.62h0.01M81.83,70.26h0.01M83.53,77.99h0.01M81.90,72.37h0.01M79.67,72.87h0.01M82.27,72.18h0.01M83.22,68.17h0.01M84.02,69.92h0.01M84.02,70.07h0.01M82.22,68.37h0.01M82.37,74.67h0.01M80.45,69.09h0.01M84.16,70.94h0.01M80.49,70.54h0.01M82.61,70.95h0.01M80.69,71.63h0.01M81.92,75.03h0.01M81.13,74.50h0.01M81.72,74.46h0.01M80.21,72.67h0.01M79.97,72.74h0.01M81.67,69.49h0.01M84.04,68.52h0.01M81.23,73.08h0.01M83.43,74.17h0.01M82.64,72.29h0.01M83.30,68.40h0.01M82.00,72.00h0.01M79.74,71.81h0.01M84.89,78.51h0.01M80.41,73.63h0.01M82.40,69.79h0.01M85.01,71.56h0.01M80.93,73.58h0.01M85.27,68.12h0.01M86.15,69.37h0.01M89.37,72.33h0.01M89.99,67.94h0.01M87.00,69.27h0.01M86.83,73.13h0.01M88.14,69.76h0.01M88.81,77.01h0.01M91.39,74.32h0.01M88.02,75.92h0.01M86.48,69.38h0.01M86.15,64.45h0.01M86.18,70.19h0.01M88.78,77.12h0.01M85.89,67.48h0.01M88.25,73.49h0.01M88.58,67.85h0.01M90.32,69.42h0.01M88.58,69.29h0.01M86.00,70.65h0.01M85.64,70.00h0.01M89.94,71.39h0.01M90.81,68.53h0.01M86.43,72.05h0.01M89.57,75.03h0.01M87.55,71.58h0.01M87.06,73.76h0.01M88.35,69.70h0.01M86.37,68.72h0.01M85.39,68.96h0.01M85.91,68.65h0.01M87.58,71.66h0.01M86.72,69.19h0.01M86.93,69.28h0.01M87.18,68.68h0.01M89.53,68.62h0.01M88.95,69.96h0.01M86.31,70.45h0.01M89.18,67.68h0.01M89.18,71.78h0.01M86.10,71.32h0.01M90.07,71.17h0.01M90.27,66.61h0.01M87.05,71.59h0.01M84.80,66.79h0.01M86.60,69.11h0.01M86.08,67.95h0.01M89.40,69.16h0.01M87.58,68.17h0.01M88.76,70.68h0.01M87.99,69.21h0.01M86.16,71.39h0.01M87.89,66.05h0.01M91.48,73.58h0.01M86.26,72.69h0.01M87.75,69.16h0.01M86.15,70.06h0.01M89.36,67.99h0.01M88.32,75.19h0.01M86.56,70.15h0.01M87.78,68.77h0.01M85.88,68.44h0.01M85.55,66.88h0.01M86.34,71.47h0.01M95.48,67.33h0.01M94.39,69.48h0.01M91.62,68.46h0.01M95.09,70.84h0.01M93.70,65.10h0.01M94.51,67.71h0.01M95.12,67.20h0.01M93.67,67.31h0.01M95.56,67.92h0.01M95.66,63.25h0.01M92.88,77.20h0.01M94.40,69.58h0.01M94.95,68.28h0.01M92.57,69.50h0.01M96.18,67.40h0.01M94.15,73.78h0.01M94.11,69.30h0.01M96.88,68.91h0.01M92.16,64.21h0.01M96.95,68.07h0.01M95.68,69.74h0.01M91.80,71.32h0.01M96.08,74.17h0.01M94.78,65.84h0.01M91.78,67.72h0.01M94.71,67.46h0.01M94.38,70.89h0.01M96.82,67.56h0.01M92.01,67.31h0.01M93.71,70.91h0.01M96.60,68.27h0.01M92.63,68.87h0.01M91.86,68.97h0.01M93.68,69.95h0.01M92.92,70.18h0.01M94.52,68.25h0.01M93.26,69.62h0.01M91.99,69.94h0.01M96.05,69.78h0.01M93.53,66.37h0.01M92.26,73.73h0.01M93.54,70.46h0.01M92.41,70.70h0.01M93.54,69.03h0.01M95.63,70.45h0.01M93.56,72.19h0.01M96.00,70.08h0.01M93.49,67.50h0.01M94.76,64.81h0.01M96.56,71.16h0.01M96.72,66.89h0.01M95.00,65.94h0.01M92.21,67.50h0.01M94.73,67.29h0.01M93.54,69.14h0.01M93.10,63.76h0.01M91.89,69.61h0.01M92.34,67.57h0.01M93.98,64.82h0.01M91.56,66.81h0.01M95.00,71.05h0.01M99.28,65.97h0.01M99.50,73.37h0.01M100.43,75.44h0.01M98.42,68.31h0.01M97.83,71.55h0.01M102.44,64.29h0.01M101.59,69.87h0.01M99.13,70.25h0.01M99.04,69.67h0.01M97.57,68.49h0.01M97.89,69.46h0.01M101.10,67.41h0.01M98.06,70.27h0.01M99.82,68.11h0.01M102.33,68.11h0.01M98.28,66.84h0.01M101.62,68.87h0.01M97.77,68.04h0.01M99.25,70.62h0.01M99.23,67.72h0.01M97.72,69.00h0.01M98.29,66.10h0.01M97.78,69.70h0.01M99.19,69.02h0.01M98.94,69.77h0.01M100.70,69.05h0.01M100.51,69.14h0.01M100.53,67.72h0.01M99.90,68.35h0.01M98.97,68.27h0.01M99.20,71.34h0.01M98.68,69.90h0.01M97.07,75.68h0.01M100.31,71.82h0.01M99.80,63.70h0.01M101.00,67.07h0.01M97.83,70.34h0.01M98.34,67.30h0.01M99.58,68.45h0.01M98.46,66.99h0.01M100.40,71.39h0.01M97.88,73.48h0.01M100.93,69.54h0.01M100.52,69.41h0.01M97.78,69.59h0.01M102.17,68.69h0.01M100.27,69.34h0.01M98.44,70.55h0.01M101.73,66.78h0.01M101.61,69.14h0.01M97.68,70.86h0.01M100.12,76.90h0.01M100.45,71.99h0.01M98.37,68.79h0.01M106.31,72.22h0.01M107.25,69.19h0.01M103.08,69.13h0.01M104.16,71.78h0.01M105.41,73.81h0.01M102.44,78.19h0.01M103.33,70.86h0.01M103.73,70.41h0.01M103.52,74.23h0.01M104.79,66.79h0.01M105.99,73.00h0.01M108.13,68.02h0.01M105.47,66.74h0.01M105.75,67.40h0.01M103.25,70.25h0.01M103.83,71.30h0.01M104.26,73.50h0.01M107.77,68.96h0.01M104.34,69.31h0.01M105.05,70.70h0.01M106.69,69.99h0.01M102.05,78.99h0.01M105.65,71.09h0.01M103.37,73.88h0.01M105.68,69.69h0.01M103.91,70.69h0.01M105.18,69.07h0.01M103.01,70.16h0.01M103.05,78.40h0.01M106.09,72.84h0.01M103.55,73.36h0.01M104.90,67.86h0.01M106.82,69.45h0.01M106.92,70.37h0.01M105.53,72.86h0.01M104.23,71.60h0.01M106.69,70.52h0.01M105.64,71.57h0.01M103.71,67.95h0.01M103.22,72.93h0.01M106.04,67.07h0.01M105.51,70.53h0.01M103.38,69.71h0.01M104.11,67.91h0.01M105.86,69.25h0.01M102.91,73.17h0.01M103.71,68.90h0.01M102.67,71.84h0.01M105.08,70.12h0.01M105.76,80.21h0.01M110.01,71.00h0.01M108.09,74.96h0.01M110.12,71.99h0.01M106.15,75.99h0.01M108.97,73.56h0.01M110.44,72.03h0.01M109.01,75.72h0.01M110.01,72.60h0.01M108.00,73.66h0.01M107.14,75.64h0.01M113.29,70.66h0.01M106.71,79.03h0.01M107.49,72.33h0.01M110.34,72.83h0.01M106.98,73.39h0.01M108.55,71.72h0.01M105.87,79.09h0.01M110.05,74.23h0.01M108.07,73.05h0.01M107.82,70.85h0.01M111.96,71.89h0.01M107.93,73.32h0.01M108.25,72.35h0.01M106.91,73.69h0.01M111.49,72.89h0.01M108.77,71.25h0.01M104.48,78.49h0.01M104.80,76.94h0.01M112.65,68.49h0.01M110.41,73.92h0.01M109.07,73.30h0.01M109.06,74.68h0.01M110.00,73.53h0.01M108.09,70.56h0.01M107.98,72.45h0.01M110.60,74.12h0.01M110.85,72.55h0.01M108.10,73.40h0.01M109.02,75.23h0.01M109.09,72.70h0.01M109.40,72.05h0.01M109.14,72.69h0.01M106.33,75.22h0.01M108.39,73.21h0.01M109.42,73.63h0.01M109.36,73.82h0.01M109.96,70.47h0.01M114.98,74.20h0.01M111.75,74.57h0.01M109.24,81.08h0.01M111.66,74.81h0.01M113.54,74.89h0.01M114.33,74.54h0.01M111.86,75.67h0.01M116.28,73.06h0.01M113.25,72.95h0.01M113.16,75.68h0.01M112.00,77.04h0.01M107.81,79.43h0.01M116.88,72.40h0.01M111.34,75.76h0.01M108.42,80.43h0.01M113.38,74.23h0.01M114.24,73.78h0.01M111.66,77.29h0.01M112.22,74.60h0.01M114.48,75.45h0.01M111.98,77.35h0.01M113.74,71.96h0.01M112.99,75.13h0.01M109.66,79.02h0.01M114.39,71.94h0.01M114.37,73.20h0.01M112.11,74.83h0.01M111.33,77.28h0.01M113.84,75.70h0.01M114.64,75.02h0.01M108.13,80.70h0.01M114.31,74.74h0.01M112.56,73.31h0.01M111.97,73.70h0.01M112.06,74.35h0.01M113.29,78.19h0.01M110.83,80.24h0.01M117.54,76.30h0.01M113.61,78.77h0.01M116.45,77.23h0.01M115.18,76.30h0.01M118.46,77.25h0.01M116.47,77.97h0.01M115.07,79.82h0.01M115.04,76.63h0.01M116.56,78.02h0.01M115.77,76.17h0.01M109.66,84.40h0.01M115.58,78.00h0.01M112.60,78.92h0.01M114.31,76.81h0.01M115.40,77.94h0.01M114.29,77.09h0.01M116.60,76.60h0.01M116.56,78.81h0.01M115.26,76.03h0.01M110.33,82.04h0.01M116.11,77.20h0.01M116.97,78.52h0.01M114.92,79.68h0.01M116.60,78.08h0.01M115.57,77.21h0.01M112.65,78.74h0.01M115.79,76.59h0.01M115.27,75.74h0.01M109.60,81.52h0.01M115.48,78.48h0.01M115.69,79.13h0.01M114.36,77.84h0.01M114.15,79.20h0.01M115.38,76.73h0.01M118.08,74.69h0.01M115.13,76.71h0.01M115.04,81.35h0.01M116.82,81.67h0.01M118.96,79.34h0.01M117.42,80.29h0.01M117.05,80.33h0.01M118.24,80.47h0.01M117.03,82.24h0.01M114.16,83.01h0.01M117.67,79.79h0.01M118.72,80.04h0.01M117.74,81.56h0.01M115.50,80.97h0.01M116.82,80.78h0.01M116.22,81.50h0.01M118.85,78.28h0.01M115.79,81.65h0.01M111.77,84.83h0.01M118.04,81.17h0.01M119.17,79.88h0.01M115.12,81.84h0.01M119.31,78.31h0.01M117.05,82.01h0.01M119.44,80.03h0.01M112.50,83.95h0.01M117.96,79.80h0.01M119.49,78.01h0.01M117.72,81.41h0.01M118.02,79.71h0.01M120.04,84.08h0.01M118.79,83.21h0.01M115.55,84.47h0.01M121.14,82.87h0.01M119.07,82.21h0.01M119.23,84.14h0.01M119.95,83.12h0.01M119.83,84.37h0.01M119.07,84.62h0.01M116.77,84.94h0.01M119.27,81.72h0.01M119.88,83.78h0.01M118.31,82.64h0.01M117.67,85.44h0.01M117.88,83.92h0.01M118.25,82.71h0.01M120.25,84.05h0.01M119.65,84.09h0.01M119.99,84.12h0.01M118.34,82.93h0.01M119.33,82.67h0.01M118.45,83.03h0.01M112.33,87.38h0.01M119.51,84.37h0.01M120.68,81.75h0.01M118.50,83.56h0.01M121.09,82.49h0.01M120.31,82.84h0.01M118.63,84.77h0.01M120.52,82.52h0.01M122.00,84.18h0.01M117.75,88.44h0.01M120.99,86.33h0.01M122.70,88.82h0.01M120.19,86.12h0.01M122.45,86.17h0.01M120.44,85.87h0.01M122.47,90.60h0.01M122.86,89.69h0.01M120.79,86.12h0.01M121.90,89.60h0.01M116.21,92.95h0.01M122.00,89.13h0.01M112.54,89.14h0.01M122.99,89.05h0.01M120.52,93.05h0.01M123.13,92.67h0.01M124.78,85.69h0.01M123.23,89.88h0.01M123.64,92.18h0.01M122.71,89.21h0.01M118.21,89.03h0.01M121.86,86.44h0.01M123.85,88.39h0.01M119.72,87.35h0.01M121.12,91.16h0.01M124.28,89.17h0.01M123.59,91.99h0.01M124.22,89.65h0.01M121.97,87.94h0.01M125.37,88.31h0.01M122.64,92.41h0.01M115.47,93.48h0.01M121.35,90.92h0.01M120.17,85.33h0.01M121.38,89.27h0.01M120.11,86.21h0.01M123.16,85.54h0.01M125.20,91.49h0.01M122.72,90.30h0.01M120.06,85.57h0.01M121.36,88.78h0.01M122.28,90.79h0.01M124.04,86.08h0.01M122.39,85.16h0.01M120.59,84.96h0.01M123.18,90.73h0.01M116.91,93.54h0.01M116.47,91.49h0.01M122.33,88.83h0.01M116.44,89.29h0.01M120.80,89.15h0.01M123.07,85.03h0.01M117.79,89.96h0.01M125.62,88.28h0.01M119.60,88.55h0.01M120.76,85.00h0.01M115.43,93.62h0.01M126.83,89.30h0.01M120.56,88.93h0.01M120.40,88.61h0.01M122.84,86.74h0.01M121.10,91.55h0.01M122.58,87.86h0.01M114.06,89.40h0.01M119.86,86.40h0.01M120.99,87.78h0.01M124.24,89.91h0.01M113.87,93.12h0.01M120.49,91.74h0.01M124.75,92.28h0.01M121.59,91.92h0.01M120.53,85.34h0.01M119.19,86.21h0.01M122.46,90.53h0.01M119.10,90.79h0.01M123.70,88.60h0.01M120.36,88.94h0.01M125.27,84.35h0.01M119.71,85.56h0.01M123.20,91.02h0.01M125.45,90.18h0.01M122.93,89.62h0.01M119.62,91.22h0.01M124.11,90.44h0.01M121.30,92.08h0.01M120.08,88.14h0.01M120.79,86.71h0.01M123.30,91.98h0.01M119.69,86.06h0.01M120.70,90.76h0.01M123.17,91.80h0.01M118.43,86.92h0.01M122.81,96.04h0.01M120.52,94.66h0.01M120.92,93.95h0.01M121.36,95.81h0.01M120.60,93.97h0.01M122.64,93.69h0.01M123.46,93.52h0.01M124.21,96.07h0.01M123.31,94.42h0.01M119.83,95.55h0.01M122.75,96.04h0.01M124.57,95.81h0.01M118.40,95.08h0.01M121.22,94.01h0.01M122.17,93.56h0.01M120.76,94.90h0.01M126.95,95.92h0.01M123.89,93.30h0.01M122.25,94.88h0.01M126.83,93.64h0.01M127.96,94.90h0.01M121.80,96.18h0.01M125.19,95.48h0.01M124.43,95.52h0.01M123.56,93.64h0.01M122.96,94.05h0.01M122.57,94.29h0.01M123.37,95.56h0.01M120.34,95.37h0.01M123.28,93.37h0.01M121.81,95.36h0.01M117.25,94.62h0.01M123.54,95.79h0.01M114.04,96.61h0.01" stroke="#ea8222" stroke-width="0.9" stroke-linecap="round" fill="none" stroke-opacity="0.85"/>
</g>
<path d="M136.33,199.58A24.7,24.7 0 0 1 160.30,168.90L160.30,170.90A22.7,22.7 0 0 0 138.27,199.09Z" fill="#f4f4f4" stroke="#a0a0a0" stroke-width="0.55"/>
<path d="M137.70,195.71L135.71,195.90M137.64,192.28L135.64,192.16M138.10,188.88L136.14,188.46M139.06,185.59L137.19,184.88M140.51,182.48L138.77,181.50M142.41,179.62L140.84,178.39M144.72,177.09L143.35,175.63M147.39,174.93L146.25,173.28M150.35,173.20L149.47,171.40M153.54,171.93L152.94,170.02M156.88,171.16L156.58,169.18" stroke="#a0a0a0" stroke-width="0.45"/>
<path d="M139.54,198.78A21.4,21.4 0 0 1 160.30,172.20L160.30,174.10A19.5,19.5 0 0 0 141.38,198.32Z" fill="#f2f8fc" stroke="#90bce0" stroke-width="0.55"/>
<path d="M140.86,195.15L138.97,195.30M140.87,191.93L138.98,191.77M141.41,188.76L139.57,188.29M142.46,185.73L140.72,184.96M144.00,182.90L142.41,181.86M145.98,180.37L144.58,179.08M148.34,178.20L147.18,176.69M151.04,176.44L150.13,174.77M153.98,175.15L153.36,173.35M157.10,174.36L156.78,172.49" stroke="#90bce0" stroke-width="0.45"/>
<path d="M142.54,198.03A18.3,18.3 0 0 1 160.30,175.30L160.30,177.80A15.8,15.8 0 0 0 144.97,197.42Z" fill="#fbf6f8" stroke="#c8b4c0" stroke-width="0.55"/>
<path d="M144.51,194.27L142.02,194.38M144.70,191.10L142.23,190.70M145.52,188.02L143.18,187.14M146.93,185.18L144.82,183.84M148.89,182.67L147.09,180.94M151.31,180.60L149.89,178.55M154.10,179.07L153.12,176.77M157.13,178.12L156.63,175.67" stroke="#c8b4c0" stroke-width="0.45"/>
<path d="M146.13,197.13A14.6,14.6 0 0 1 160.30,179.00L160.30,182.00A11.6,11.6 0 0 0 149.04,196.41Z" fill="#f2faf2" stroke="#80c488" stroke-width="0.55"/>
<path d="M148.70,193.43L145.70,193.38M149.13,190.46L146.25,189.65M150.31,187.70L147.73,186.17M152.16,185.34L150.05,183.20M154.55,183.53L153.06,180.92M157.33,182.39L156.56,179.49" stroke="#80c488" stroke-width="0.45"/>
<path d="M150.21,196.12A10.4,10.4 0 0 1 160.30,183.20L160.30,187.20A6.4,6.4 0 0 0 154.09,195.15Z" fill="#fef3ec" stroke="#f09468" stroke-width="0.55"/>
<path d="M153.91,193.23L149.92,193.00M154.31,191.34L150.57,189.93M155.26,189.66L152.10,187.20M156.66,188.34L154.38,185.05M158.39,187.49L157.20,183.67" stroke="#f09468" stroke-width="0.45"/>
<text x="162" y="171.5" font-size="2.6" fill="#222" stroke="#222" stroke-width="0.08">cnRatio</text>
<text x="162" y="176.1" font-size="2.6" fill="#222" stroke="#222" stroke-width="0.08">cnRatio</text>
<text x="162" y="180.7" font-size="2.6" fill="#222" stroke="#222" stroke-width="0.08">Missense_Mutation</text>
<text x="162" y="185.3" font-size="2.6" fill="#222" stroke="#222" stroke-width="0.08">Nonsense_Mutation</text>
<text x="3.2" y="7.7" font-size="6.6" font-weight="bold" fill="#000" stroke="#000" stroke-width="0.21">A</text>
<text x="184.2" y="7.9" font-size="6.6" font-weight="bold" fill="#000" stroke="#000" stroke-width="0.21">B</text>
<text x="190.2" y="104.3" font-size="6.6" font-weight="bold" fill="#000" stroke="#000" stroke-width="0.21">C</text>
<text x="2.9" y="197.6" font-size="6.6" font-weight="bold" fill="#000" stroke="#000" stroke-width="0.21">D</text>
<text x="2.9" y="269.3" font-size="6.6" font-weight="bold" fill="#000" stroke="#000" stroke-width="0.21">E</text>
<text x="157.8" y="268.8" font-size="6.6" font-weight="bold" fill="#000" stroke="#000" stroke-width="0.21">F</text>
<text x="253.4" y="9.8" font-size="5.2" text-anchor="middle" font-weight="bold" fill="#111" stroke="#111" stroke-width="0.16">Variant Classification</text>
<text x="231" y="17.8" font-size="4.6" text-anchor="end" fill="#222" stroke="#222" stroke-width="0.14">Missense_Mutation</text>
<rect x="232.6" y="13.85" width="81.22" height="4.7" fill="#c9304a"/>
<text x="231" y="25" font-size="4.6" text-anchor="end" fill="#222" stroke="#222" stroke-width="0.14">Nonsense_Mutation</text>
<rect x="232.6" y="21.05" width="10.75" height="4.7" fill="#e8683e"/>
<text x="231" y="32.2" font-size="4.6" text-anchor="end" fill="#222" stroke="#222" stroke-width="0.14">Splice_Site</text>
<rect x="232.6" y="28.25" width="2.04" height="4.7" fill="#eeb060"/>
<text x="231" y="39.4" font-size="4.6" text-anchor="end" fill="#222" stroke="#222" stroke-width="0.14">Frame_Shift_Del</text>
<rect x="232.6" y="35.45" width="1.13" height="4.7" fill="#f8d890"/>
<text x="231" y="46.6" font-size="4.6" text-anchor="end" fill="#222" stroke="#222" stroke-width="0.14">Frame_Shift_Ins</text>
<rect x="232.6" y="42.65" width="0.51" height="4.7" fill="#fbf0b0"/>
<text x="231" y="53.8" font-size="4.6" text-anchor="end" fill="#222" stroke="#222" stroke-width="0.14">In_Frame_Del</text>
<rect x="232.6" y="49.85" width="0.30" height="4.7" fill="#f8e8b0"/>
<text x="231" y="61" font-size="4.6" text-anchor="end" fill="#222" stroke="#222" stroke-width="0.14">In_Frame_Ins</text>
<text x="231" y="68.2" font-size="4.6" text-anchor="end" fill="#222" stroke="#222" stroke-width="0.14">Translation_Start_Site</text>
<text x="231" y="75.4" font-size="4.6" text-anchor="end" fill="#222" stroke="#222" stroke-width="0.14">Nonstop_Mutation</text>
<path d="M232.6,79.3H317.50" stroke="#333" stroke-width="0.5"/>
<path d="M232.60,79.3V80.9" stroke="#333" stroke-width="0.45"/>
<text x="234.15" y="83.3" font-size="4.5" text-anchor="end" fill="#222" stroke="#222" stroke-width="0.14" transform="rotate(-90 234.15 83.3)">0</text>
<path d="M260.90,79.3V80.9" stroke="#333" stroke-width="0.45"/>
<text x="262.45" y="83.3" font-size="4.5" text-anchor="end" fill="#222" stroke="#222" stroke-width="0.14" transform="rotate(-90 262.45 83.3)">5000</text>
<path d="M289.20,79.3V80.9" stroke="#333" stroke-width="0.45"/>
<text x="290.75" y="83.3" font-size="4.5" text-anchor="end" fill="#222" stroke="#222" stroke-width="0.14" transform="rotate(-90 290.75 83.3)">10000</text>
<path d="M317.50,79.3V80.9" stroke="#333" stroke-width="0.45"/>
<text x="319.05" y="83.3" font-size="4.5" text-anchor="end" fill="#222" stroke="#222" stroke-width="0.14" transform="rotate(-90 319.05 83.3)">15000</text>
<text x="209" y="103.2" font-size="5.3" font-weight="bold" fill="#111" stroke="#111" stroke-width="0.16">Top 10 mutated genes</text>
<text x="215.3" y="112.2" font-size="4.7" text-anchor="end" fill="#222" stroke="#222" stroke-width="0.15">TTN</text>
<rect x="217.00" y="107.30" width="84.00" height="6.4" fill="#c8334a"/>
<rect x="301.00" y="107.30" width="5.80" height="6.4" fill="#e8714e"/>
<rect x="306.80" y="107.30" width="2.00" height="6.4" fill="#f8dc98"/>
<rect x="308.80" y="107.30" width="1.70" height="6.4" fill="#b6d89c"/>
<text x="312.1" y="112.1" font-size="4.5" fill="#222" stroke="#222" stroke-width="0.14">9%</text>
<text x="215.3" y="119.7" font-size="4.7" text-anchor="end" fill="#222" stroke="#222" stroke-width="0.15">SMAD4</text>
<rect x="217.00" y="114.80" width="19.40" height="6.4" fill="#c8334a"/>
<rect x="236.40" y="114.80" width="17.00" height="6.4" fill="#e8714e"/>
<rect x="253.40" y="114.80" width="12.90" height="6.4" fill="#f8dc98"/>
<rect x="266.30" y="114.80" width="2.40" height="6.4" fill="#b6d89c"/>
<rect x="268.70" y="114.80" width="1.70" height="6.4" fill="#8ab0a8"/>
<text x="272" y="119.6" font-size="4.5" fill="#222" stroke="#222" stroke-width="0.14">18%</text>
<text x="215.3" y="127.2" font-size="4.7" text-anchor="end" fill="#222" stroke="#222" stroke-width="0.15">MUC16</text>
<rect x="217.00" y="122.30" width="40.80" height="6.4" fill="#c8334a"/>
<rect x="257.80" y="122.30" width="2.40" height="6.4" fill="#e8714e"/>
<rect x="260.20" y="122.30" width="2.00" height="6.4" fill="#f8dc98"/>
<text x="263.8" y="127.1" font-size="4.5" fill="#222" stroke="#222" stroke-width="0.14">6%</text>
<text x="215.3" y="134.7" font-size="4.7" text-anchor="end" fill="#222" stroke="#222" stroke-width="0.15">CDKN2A</text>
<rect x="217.00" y="129.80" width="5.20" height="6.4" fill="#c8334a"/>
<rect x="222.20" y="129.80" width="10.20" height="6.4" fill="#e8714e"/>
<rect x="232.40" y="129.80" width="11.60" height="6.4" fill="#f8dc98"/>
<rect x="244.00" y="129.80" width="2.00" height="6.4" fill="#fbf3c4"/>
<rect x="246.00" y="129.80" width="1.70" height="6.4" fill="#b6d89c"/>
<text x="249.3" y="134.6" font-size="4.5" fill="#222" stroke="#222" stroke-width="0.14">11%</text>
<text x="215.3" y="142.2" font-size="4.7" text-anchor="end" fill="#222" stroke="#222" stroke-width="0.15">USH2A</text>
<rect x="217.00" y="137.30" width="30.60" height="6.4" fill="#c8334a"/>
<text x="249.2" y="142.1" font-size="4.5" fill="#222" stroke="#222" stroke-width="0.14">5%</text>
<text x="215.3" y="149.7" font-size="4.7" text-anchor="end" fill="#222" stroke="#222" stroke-width="0.15">TP53</text>
<rect x="217.00" y="144.80" width="9.80" height="6.4" fill="#c8334a"/>
<rect x="226.80" y="144.80" width="19.50" height="6.4" fill="#f8dc98"/>
<text x="247.9" y="149.6" font-size="4.5" fill="#222" stroke="#222" stroke-width="0.14">9%</text>
<text x="215.3" y="157.2" font-size="4.7" text-anchor="end" fill="#222" stroke="#222" stroke-width="0.15">DCHS1</text>
<rect x="217.00" y="152.30" width="20.00" height="6.4" fill="#c8334a"/>
<rect x="237.00" y="152.30" width="4.60" height="6.4" fill="#e8714e"/>
<text x="243.2" y="157.1" font-size="4.5" fill="#222" stroke="#222" stroke-width="0.14">6%</text>
<text x="215.3" y="164.7" font-size="4.7" text-anchor="end" fill="#222" stroke="#222" stroke-width="0.15">PCDH15</text>
<rect x="217.00" y="159.80" width="20.00" height="6.4" fill="#c8334a"/>
<rect x="237.00" y="159.80" width="1.00" height="6.4" fill="#e8714e"/>
<text x="239.6" y="164.6" font-size="4.5" fill="#222" stroke="#222" stroke-width="0.14">6%</text>
<text x="215.3" y="172.2" font-size="4.7" text-anchor="end" fill="#222" stroke="#222" stroke-width="0.15">ARID1A</text>
<rect x="217.00" y="167.30" width="3.30" height="6.4" fill="#c8334a"/>
<rect x="220.30" y="167.30" width="5.60" height="6.4" fill="#e8714e"/>
<rect x="225.90" y="167.30" width="7.40" height="6.4" fill="#f8dc98"/>
<rect x="233.30" y="167.30" width="0.90" height="6.4" fill="#f0a55a"/>
<text x="235.8" y="172.1" font-size="4.5" fill="#222" stroke="#222" stroke-width="0.14">5%</text>
<text x="215.3" y="179.7" font-size="4.7" text-anchor="end" fill="#222" stroke="#222" stroke-width="0.15">RNF43</text>
<rect x="217.00" y="174.80" width="8.00" height="6.4" fill="#c8334a"/>
<rect x="225.00" y="174.80" width="3.70" height="6.4" fill="#e8714e"/>
<rect x="228.70" y="174.80" width="4.60" height="6.4" fill="#f8dc98"/>
<rect x="233.30" y="174.80" width="0.90" height="6.4" fill="#f0a55a"/>
<text x="235.8" y="179.6" font-size="4.5" fill="#222" stroke="#222" stroke-width="0.14">6%</text>
<text x="305.8" y="139.75" font-size="3.1" text-anchor="end" fill="#333" stroke="#333" stroke-width="0.1">Missense_Mutation</text>
<rect x="307.4" y="137.40" width="2.7" height="2.6" fill="#b0283c"/>
<text x="305.8" y="144.35" font-size="3.1" text-anchor="end" fill="#333" stroke="#333" stroke-width="0.1">Nonsense_Mutation</text>
<rect x="307.4" y="142.00" width="2.7" height="2.6" fill="#d8644a"/>
<text x="305.8" y="148.95" font-size="3.1" text-anchor="end" fill="#333" stroke="#333" stroke-width="0.1">Splice_Site</text>
<rect x="307.4" y="146.60" width="2.7" height="2.6" fill="#eaa760"/>
<text x="305.8" y="153.55" font-size="3.1" text-anchor="end" fill="#333" stroke="#333" stroke-width="0.1">Frame_Shift_Del</text>
<rect x="307.4" y="151.20" width="2.7" height="2.6" fill="#f6dc9c"/>
<text x="305.8" y="158.15" font-size="3.1" text-anchor="end" fill="#333" stroke="#333" stroke-width="0.1">Frame_Shift_Ins</text>
<rect x="307.4" y="155.80" width="2.7" height="2.6" fill="#fbf6d4"/>
<text x="305.8" y="162.75" font-size="3.1" text-anchor="end" fill="#333" stroke="#333" stroke-width="0.1">In_Frame_Del</text>
<rect x="307.4" y="160.40" width="2.7" height="2.6" fill="#a8d08c"/>
<text x="305.8" y="167.35" font-size="3.1" text-anchor="end" fill="#333" stroke="#333" stroke-width="0.1">In_Frame_Ins</text>
<rect x="307.4" y="165.00" width="2.7" height="2.6" fill="#d8ecc0"/>
<text x="305.8" y="171.95" font-size="3.1" text-anchor="end" fill="#333" stroke="#333" stroke-width="0.1">Translation_Start_Site</text>
<rect x="307.4" y="169.60" width="2.7" height="2.6" fill="#7ea8a0"/>
<text x="305.8" y="176.55" font-size="3.1" text-anchor="end" fill="#333" stroke="#333" stroke-width="0.1">Nonstop_Mutation</text>
<rect x="307.4" y="174.20" width="2.7" height="2.6" fill="#2f5a78"/>
<path d="M217.7,184.1H313.1" stroke="#333" stroke-width="0.5"/>
<path d="M217.70,184.1V185.7" stroke="#333" stroke-width="0.45"/>
<text x="219.2" y="187.6" font-size="4.4" text-anchor="end" fill="#222" stroke="#222" stroke-width="0.14" transform="rotate(-90 219.2 187.6)">0</text>
<path d="M249.50,184.1V185.7" stroke="#333" stroke-width="0.45"/>
<text x="251" y="187.6" font-size="4.4" text-anchor="end" fill="#222" stroke="#222" stroke-width="0.14" transform="rotate(-90 251 187.6)">10</text>
<path d="M281.30,184.1V185.7" stroke="#333" stroke-width="0.45"/>
<text x="282.8" y="187.6" font-size="4.4" text-anchor="end" fill="#222" stroke="#222" stroke-width="0.14" transform="rotate(-90 282.8 187.6)">20</text>
<path d="M313.10,184.1V185.7" stroke="#333" stroke-width="0.45"/>
<text x="314.6" y="187.6" font-size="4.4" text-anchor="end" fill="#222" stroke="#222" stroke-width="0.14" transform="rotate(-90 314.6 187.6)">30</text>
<text x="9" y="203.7" font-size="4.55" fill="#333" stroke="#333" stroke-width="0.14">TTN: [Somatic Mutation Rate: 9.39%]</text>
<text x="9" y="210" font-size="4.55" fill="#333" stroke="#333" stroke-width="0.14">NM_001267550</text>
<path d="M7.4,210.6H8.4V228.8H7.4" stroke="#444" stroke-width="0.45" fill="none"/>
<text x="6.2" y="210.6" font-size="3.4" text-anchor="middle" fill="#333" stroke="#333" stroke-width="0.11" transform="rotate(-90 6.2 210.6)">5</text>
<text x="6.2" y="228.8" font-size="3.4" text-anchor="middle" fill="#333" stroke="#333" stroke-width="0.11" transform="rotate(-90 6.2 228.8)">1</text>
<rect x="17.3" y="234.5" width="288.40" height="4.60" fill="#cfcfd6"/>
<rect x="17.3" y="234.5" width="7.20" height="4.60" fill="#6e6c7c"/>
<rect x="24.5" y="234.5" width="2.50" height="4.60" fill="#b8a8c0"/>
<rect x="27.0" y="234.5" width="3.00" height="4.60" fill="#a890b0"/>
<rect x="30.0" y="234.5" width="3.70" height="4.60" fill="#b8a0b4"/>
<rect x="33.7" y="234.5" width="1.90" height="4.60" fill="#e8d8a8"/>
<rect x="35.6" y="234.5" width="3.20" height="4.60" fill="#a8a0c8"/>
<rect x="38.8" y="234.5" width="2.80" height="4.60" fill="#585c8c"/>
<rect x="41.6" y="234.5" width="3.20" height="4.60" fill="#e8dcb8"/>
<rect x="44.8" y="234.5" width="3.70" height="4.60" fill="#a88868"/>
<rect x="48.5" y="234.5" width="3.70" height="4.60" fill="#9890b0"/>
<rect x="52.2" y="234.5" width="4.70" height="4.60" fill="#b88888"/>
<rect x="56.9" y="234.5" width="42.10" height="4.60" fill="#d3808e"/>
<rect x="99.0" y="234.5" width="2.50" height="4.60" fill="#7aa8c4"/>
<rect x="101.5" y="234.5" width="27.50" height="4.60" fill="#b9b9c2"/>
<rect x="129.0" y="234.5" width="14.00" height="4.60" fill="#98a4cc"/>
<rect x="143.0" y="234.5" width="143.50" height="4.60" fill="#d3808e"/>
<rect x="286.5" y="234.5" width="5.80" height="4.60" fill="#f0d4c6"/>
<rect x="292.3" y="234.5" width="13.40" height="4.60" fill="#c8d0e2"/>
<path d="M206.88,234.5V239.1M222.79,234.5V239.1M196.44,234.5V239.1M258.97,234.5V239.1M95.34,234.5V239.1M251.00,234.5V239.1M174.48,234.5V239.1M280.51,234.5V239.1M190.50,234.5V239.1M265.44,234.5V239.1M176.43,234.5V239.1M219.44,234.5V239.1M263.91,234.5V239.1M206.71,234.5V239.1M62.96,234.5V239.1M79.02,234.5V239.1M147.04,234.5V239.1M246.18,234.5V239.1M251.51,234.5V239.1M82.34,234.5V239.1M237.30,234.5V239.1M75.69,234.5V239.1M286.96,234.5V239.1M235.44,234.5V239.1M91.45,234.5V239.1M88.48,234.5V239.1M257.37,234.5V239.1M196.34,234.5V239.1M236.47,234.5V239.1M131.00,234.5V239.1M133.50,234.5V239.1M136.00,234.5V239.1M138.50,234.5V239.1M141.00,234.5V239.1" stroke="#b05a6c" stroke-width="0.45" opacity="0.6"/>
<text x="25.3" y="233" font-size="3.3" fill="#333" stroke="#333" stroke-width="0.1">Titin_Z</text>
<text x="165.3" y="234" font-size="3.3" fill="#333" stroke="#333" stroke-width="0.1">Ig_Titin_like</text>
<text x="122.3" y="242.6" font-size="3.1" fill="#333" stroke="#333" stroke-width="0.1">Ig_Semaphorin_C</text>
<text x="152" y="242.6" font-size="3.4" fill="#333" stroke="#333" stroke-width="0.11">I-set</text>
<text x="165" y="242.6" font-size="3.4" fill="#333" stroke="#333" stroke-width="0.11">PKD</text>
<text x="287.6" y="233.6" font-size="3.3" fill="#333" stroke="#333" stroke-width="0.1">PKc</text>
<text x="284.6" y="242.8" font-size="3.3" fill="#333" stroke="#333" stroke-width="0.1">S_TKc</text>
<text x="292.4" y="238.3" font-size="4" fill="#222" stroke="#222" stroke-width="0.12">Fn3_Titin_like</text>
<text x="17.3" y="237.9" font-size="3.4" fill="#111" stroke="#111" stroke-width="0.11">Ig_Like</text>
<text x="101.8" y="237.9" font-size="3.3" fill="#111" stroke="#111" stroke-width="0.1">I-set</text>
<text x="20.6" y="241.8" font-size="3.3" text-anchor="end" fill="#444" stroke="#444" stroke-width="0.1" transform="rotate(-90 20.6 241.8)">0</text>
<text x="100.6" y="241.8" font-size="3.3" text-anchor="end" fill="#444" stroke="#444" stroke-width="0.1" transform="rotate(-90 100.6 241.8)">10000</text>
<text x="180.2" y="241.8" font-size="3.3" text-anchor="end" fill="#444" stroke="#444" stroke-width="0.1" transform="rotate(-90 180.2 241.8)">20000</text>
<text x="259.8" y="241.8" font-size="3.3" text-anchor="end" fill="#444" stroke="#444" stroke-width="0.1" transform="rotate(-90 259.8 241.8)">30000</text>
<text x="306.8" y="241.8" font-size="3.3" text-anchor="end" fill="#444" stroke="#444" stroke-width="0.1" transform="rotate(-90 306.8 241.8)">35991</text>
<path d="M24.40,229.4V234.5M38.50,229.4V234.5M39.70,229.4V234.5M41.00,229.4V234.5M49.10,229.4V234.5M58.30,229.4V234.5M68.10,229.4V234.5M73.10,229.4V234.5M76.80,229.4V234.5M79.30,229.4V234.5M83.00,229.4V234.5M86.70,229.4V234.5M90.40,229.4V234.5M92.10,229.4V234.5M94.00,229.4V234.5M130.00,229.4V234.5M137.00,229.4V234.5M148.00,229.4V234.5M153.00,229.4V234.5M156.00,229.4V234.5M159.00,229.4V234.5M162.00,229.4V234.5M168.00,229.4V234.5M171.00,229.4V234.5M184.00,229.4V234.5M190.00,229.4V234.5M196.00,229.4V234.5M200.00,229.4V234.5M203.00,229.4V234.5M217.00,229.4V234.5M221.00,229.4V234.5M223.00,229.4V234.5M232.00,229.4V234.5M240.00,229.4V234.5M247.00,229.4V234.5M251.00,229.4V234.5M262.00,229.4V234.5M266.00,229.4V234.5M271.00,229.4V234.5M276.00,229.4V234.5M279.00,229.4V234.5M286.00,229.4V234.5" stroke="#d4d4d4" stroke-width="0.3"/>
<path d="M24.40,229.4h0.01M38.50,229.4h0.01M39.70,229.4h0.01M41.00,229.4h0.01M49.10,229.4h0.01M58.30,229.4h0.01M68.10,229.4h0.01M73.10,229.4h0.01M76.80,229.4h0.01M79.30,229.4h0.01M83.00,229.4h0.01M86.70,229.4h0.01M90.40,229.4h0.01M92.10,229.4h0.01M94.00,229.4h0.01M130.00,229.4h0.01M137.00,229.4h0.01M148.00,229.4h0.01M153.00,229.4h0.01M156.00,229.4h0.01M159.00,229.4h0.01M162.00,229.4h0.01M168.00,229.4h0.01M171.00,229.4h0.01M184.00,229.4h0.01M190.00,229.4h0.01M196.00,229.4h0.01M200.00,229.4h0.01M203.00,229.4h0.01M217.00,229.4h0.01M221.00,229.4h0.01M223.00,229.4h0.01M232.00,229.4h0.01M240.00,229.4h0.01M247.00,229.4h0.01M251.00,229.4h0.01M262.00,229.4h0.01M266.00,229.4h0.01M271.00,229.4h0.01M276.00,229.4h0.01M279.00,229.4h0.01M286.00,229.4h0.01" stroke="#2c5e44" stroke-width="1.05" stroke-linecap="round" fill="none"/>
<path d="M282.8,229.4V224.6" stroke="#aaa" stroke-width="0.3"/>
<circle cx="282.8" cy="224.6" r="0.6" fill="#d03a3a"/>
<circle cx="233.8" cy="205.60" r="0.65" fill="#2f7a52"/>
<text x="237.8" y="207.2" font-size="4.65" fill="#222" stroke="#222" stroke-width="0.14">Missense_Mutation</text>
<circle cx="233.8" cy="211.15" r="0.65" fill="#d03a3a"/>
<text x="237.8" y="212.75" font-size="4.65" fill="#222" stroke="#222" stroke-width="0.14">Nonsense_Mutation</text>
<circle cx="233.8" cy="216.70" r="0.65" fill="#f2d6a0"/>
<text x="237.8" y="218.3" font-size="4.65" fill="#222" stroke="#222" stroke-width="0.14">In_Frame_Del</text>
<rect x="34.60" y="291.20" width="5.98" height="5.77" fill="#eef5f4"/>
<rect x="40.53" y="291.20" width="5.98" height="5.77" fill="#d9ebe8"/>
<rect x="46.46" y="291.20" width="5.98" height="5.77" fill="#eef5f4"/>
<rect x="52.39" y="291.20" width="5.98" height="5.77" fill="#66b1a7"/>
<rect x="58.32" y="291.20" width="5.98" height="5.77" fill="#66b1a7"/>
<rect x="64.25" y="291.20" width="5.98" height="5.77" fill="#d9ebe8"/>
<rect x="70.18" y="291.20" width="5.98" height="5.77" fill="#d9ebe8"/>
<rect x="76.11" y="291.20" width="5.98" height="5.77" fill="#d9ebe8"/>
<rect x="82.04" y="291.20" width="5.98" height="5.77" fill="#66b1a7"/>
<rect x="87.97" y="291.20" width="5.98" height="5.77" fill="#98cdc5"/>
<rect x="93.90" y="291.20" width="5.98" height="5.77" fill="#d9ebe8"/>
<rect x="99.83" y="291.20" width="5.98" height="5.77" fill="#d9ebe8"/>
<rect x="105.76" y="291.20" width="5.98" height="5.77" fill="#bcded8"/>
<rect x="111.69" y="291.20" width="5.98" height="5.77" fill="#66b1a7"/>
<rect x="117.62" y="291.20" width="5.98" height="5.77" fill="#17625c"/>
<rect x="123.55" y="291.20" width="5.98" height="5.77" fill="#66b1a7"/>
<rect x="129.48" y="291.20" width="5.98" height="5.77" fill="#98cdc5"/>
<rect x="135.41" y="291.20" width="5.98" height="5.77" fill="#d9ebe8"/>
<rect x="141.34" y="291.20" width="5.98" height="5.77" fill="#98cdc5"/>
<rect x="34.60" y="296.92" width="5.98" height="5.77" fill="#d9ebe8"/>
<rect x="40.53" y="296.92" width="5.98" height="5.77" fill="#bcded8"/>
<rect x="46.46" y="296.92" width="5.98" height="5.77" fill="#d9ebe8"/>
<rect x="52.39" y="296.92" width="5.98" height="5.77" fill="#17625c"/>
<rect x="58.32" y="296.92" width="5.98" height="5.77" fill="#17625c"/>
<rect x="64.25" y="296.92" width="5.98" height="5.77" fill="#d9ebe8"/>
<rect x="70.18" y="296.92" width="5.98" height="5.77" fill="#d9ebe8"/>
<rect x="76.11" y="296.92" width="5.98" height="5.77" fill="#d9ebe8"/>
<rect x="82.04" y="296.92" width="5.98" height="5.77" fill="#d9ebe8"/>
<rect x="87.97" y="296.92" width="5.98" height="5.77" fill="#17625c"/>
<rect x="93.90" y="296.92" width="5.98" height="5.77" fill="#98cdc5"/>
<rect x="99.83" y="296.92" width="5.98" height="5.77" fill="#d9ebe8"/>
<rect x="105.76" y="296.92" width="5.98" height="5.77" fill="#17625c"/>
<rect x="111.69" y="296.92" width="5.98" height="5.77" fill="#98cdc5"/>
<rect x="117.62" y="296.92" width="5.98" height="5.77" fill="#bcded8"/>
<rect x="123.55" y="296.92" width="5.98" height="5.77" fill="#17625c"/>
<rect x="129.48" y="296.92" width="5.98" height="5.77" fill="#bcded8"/>
<rect x="135.41" y="296.92" width="5.98" height="5.77" fill="#17625c"/>
<rect x="34.60" y="302.64" width="5.98" height="5.77" fill="#d9ebe8"/>
<rect x="40.53" y="302.64" width="5.98" height="5.77" fill="#d9ebe8"/>
<rect x="46.46" y="302.64" width="5.98" height="5.77" fill="#d9ebe8"/>
<rect x="52.39" y="302.64" width="5.98" height="5.77" fill="#388d85"/>
<rect x="58.32" y="302.64" width="5.98" height="5.77" fill="#17625c"/>
<rect x="64.25" y="302.64" width="5.98" height="5.77" fill="#66b1a7"/>
<rect x="70.18" y="302.64" width="5.98" height="5.77" fill="#d9ebe8"/>
<rect x="76.11" y="302.64" width="5.98" height="5.77" fill="#d9ebe8"/>
<rect x="82.04" y="302.64" width="5.98" height="5.77" fill="#d9ebe8"/>
<rect x="87.97" y="302.64" width="5.98" height="5.77" fill="#17625c"/>
<rect x="93.90" y="302.64" width="5.98" height="5.77" fill="#17625c"/>
<rect x="99.83" y="302.64" width="5.98" height="5.77" fill="#66b1a7"/>
<rect x="105.76" y="302.64" width="5.98" height="5.77" fill="#17625c"/>
<rect x="111.69" y="302.64" width="5.98" height="5.77" fill="#bcded8"/>
<rect x="117.62" y="302.64" width="5.98" height="5.77" fill="#d9ebe8"/>
<rect x="123.55" y="302.64" width="5.98" height="5.77" fill="#17625c"/>
<rect x="129.48" y="302.64" width="5.98" height="5.77" fill="#d9ebe8"/>
<rect x="34.60" y="308.36" width="5.98" height="5.77" fill="#98cdc5"/>
<rect x="40.53" y="308.36" width="5.98" height="5.77" fill="#eef5f4"/>
<rect x="46.46" y="308.36" width="5.98" height="5.77" fill="#d9ebe8"/>
<rect x="52.39" y="308.36" width="5.98" height="5.77" fill="#98cdc5"/>
<rect x="58.32" y="308.36" width="5.98" height="5.77" fill="#66b1a7"/>
<rect x="64.25" y="308.36" width="5.98" height="5.77" fill="#17625c"/>
<rect x="70.18" y="308.36" width="5.98" height="5.77" fill="#98cdc5"/>
<rect x="76.11" y="308.36" width="5.98" height="5.77" fill="#d9ebe8"/>
<rect x="82.04" y="308.36" width="5.98" height="5.77" fill="#d9ebe8"/>
<rect x="87.97" y="308.36" width="5.98" height="5.77" fill="#66b1a7"/>
<rect x="93.90" y="308.36" width="5.98" height="5.77" fill="#17625c"/>
<rect x="99.83" y="308.36" width="5.98" height="5.77" fill="#d9ebe8"/>
<rect x="105.76" y="308.36" width="5.98" height="5.77" fill="#bcded8"/>
<rect x="111.69" y="308.36" width="5.98" height="5.77" fill="#d9ebe8"/>
<rect x="117.62" y="308.36" width="5.98" height="5.77" fill="#d9ebe8"/>
<rect x="123.55" y="308.36" width="5.98" height="5.77" fill="#66b1a7"/>
<rect x="34.60" y="314.08" width="5.98" height="5.77" fill="#d9ebe8"/>
<rect x="40.53" y="314.08" width="5.98" height="5.77" fill="#bcded8"/>
<rect x="46.46" y="314.08" width="5.98" height="5.77" fill="#d9ebe8"/>
<rect x="52.39" y="314.08" width="5.98" height="5.77" fill="#17625c"/>
<rect x="58.32" y="314.08" width="5.98" height="5.77" fill="#17625c"/>
<rect x="64.25" y="314.08" width="5.98" height="5.77" fill="#d9ebe8"/>
<rect x="70.18" y="314.08" width="5.98" height="5.77" fill="#d9ebe8"/>
<rect x="76.11" y="314.08" width="5.98" height="5.77" fill="#d9ebe8"/>
<rect x="82.04" y="314.08" width="5.98" height="5.77" fill="#d9ebe8"/>
<rect x="87.97" y="314.08" width="5.98" height="5.77" fill="#17625c"/>
<rect x="93.90" y="314.08" width="5.98" height="5.77" fill="#bcded8"/>
<rect x="99.83" y="314.08" width="5.98" height="5.77" fill="#98cdc5"/>
<rect x="105.76" y="314.08" width="5.98" height="5.77" fill="#17625c"/>
<rect x="111.69" y="314.08" width="5.98" height="5.77" fill="#d9ebe8"/>
<rect x="117.62" y="314.08" width="5.98" height="5.77" fill="#98cdc5"/>
<rect x="34.60" y="319.80" width="5.98" height="5.77" fill="#d9ebe8"/>
<rect x="40.53" y="319.80" width="5.98" height="5.77" fill="#d9ebe8"/>
<rect x="46.46" y="319.80" width="5.98" height="5.77" fill="#d9ebe8"/>
<rect x="52.39" y="319.80" width="5.98" height="5.77" fill="#d9ebe8"/>
<rect x="58.32" y="319.80" width="5.98" height="5.77" fill="#d9ebe8"/>
<rect x="64.25" y="319.80" width="5.98" height="5.77" fill="#d9ebe8"/>
<rect x="70.18" y="319.80" width="5.98" height="5.77" fill="#d9ebe8"/>
<rect x="76.11" y="319.80" width="5.98" height="5.77" fill="#d9ebe8"/>
<rect x="82.04" y="319.80" width="5.98" height="5.77" fill="#17625c"/>
<rect x="87.97" y="319.80" width="5.98" height="5.77" fill="#d9ebe8"/>
<rect x="93.90" y="319.80" width="5.98" height="5.77" fill="#bcded8"/>
<rect x="99.83" y="319.80" width="5.98" height="5.77" fill="#d9ebe8"/>
<rect x="105.76" y="319.80" width="5.98" height="5.77" fill="#d9ebe8"/>
<rect x="111.69" y="319.80" width="5.98" height="5.77" fill="#d9ebe8"/>
<rect x="34.60" y="325.52" width="5.98" height="5.77" fill="#d9ebe8"/>
<rect x="40.53" y="325.52" width="5.98" height="5.77" fill="#d9ebe8"/>
<rect x="46.46" y="325.52" width="5.98" height="5.77" fill="#d9ebe8"/>
<rect x="52.39" y="325.52" width="5.98" height="5.77" fill="#17625c"/>
<rect x="58.32" y="325.52" width="5.98" height="5.77" fill="#98cdc5"/>
<rect x="64.25" y="325.52" width="5.98" height="5.77" fill="#bcded8"/>
<rect x="70.18" y="325.52" width="5.98" height="5.77" fill="#17625c"/>
<rect x="76.11" y="325.52" width="5.98" height="5.77" fill="#d9ebe8"/>
<rect x="82.04" y="325.52" width="5.98" height="5.77" fill="#d9ebe8"/>
<rect x="87.97" y="325.52" width="5.98" height="5.77" fill="#bcded8"/>
<rect x="93.90" y="325.52" width="5.98" height="5.77" fill="#66b1a7"/>
<rect x="99.83" y="325.52" width="5.98" height="5.77" fill="#bcded8"/>
<rect x="105.76" y="325.52" width="5.98" height="5.77" fill="#66b1a7"/>
<rect x="34.60" y="331.24" width="5.98" height="5.77" fill="#d9ebe8"/>
<rect x="40.53" y="331.24" width="5.98" height="5.77" fill="#bcded8"/>
<rect x="46.46" y="331.24" width="5.98" height="5.77" fill="#d9ebe8"/>
<rect x="52.39" y="331.24" width="5.98" height="5.77" fill="#388d85"/>
<rect x="58.32" y="331.24" width="5.98" height="5.77" fill="#17625c"/>
<rect x="64.25" y="331.24" width="5.98" height="5.77" fill="#d9ebe8"/>
<rect x="70.18" y="331.24" width="5.98" height="5.77" fill="#d9ebe8"/>
<rect x="76.11" y="331.24" width="5.98" height="5.77" fill="#d9ebe8"/>
<rect x="82.04" y="331.24" width="5.98" height="5.77" fill="#d9ebe8"/>
<rect x="87.97" y="331.24" width="5.98" height="5.77" fill="#17625c"/>
<rect x="93.90" y="331.24" width="5.98" height="5.77" fill="#388d85"/>
<rect x="99.83" y="331.24" width="5.98" height="5.77" fill="#d9ebe8"/>
<rect x="34.60" y="336.96" width="5.98" height="5.77" fill="#388d85"/>
<rect x="40.53" y="336.96" width="5.98" height="5.77" fill="#f4eee8"/>
<rect x="46.46" y="336.96" width="5.98" height="5.77" fill="#bcded8"/>
<rect x="52.39" y="336.96" width="5.98" height="5.77" fill="#d9ebe8"/>
<rect x="58.32" y="336.96" width="5.98" height="5.77" fill="#98cdc5"/>
<rect x="64.25" y="336.96" width="5.98" height="5.77" fill="#98cdc5"/>
<rect x="70.18" y="336.96" width="5.98" height="5.77" fill="#d9ebe8"/>
<rect x="76.11" y="336.96" width="5.98" height="5.77" fill="#98cdc5"/>
<rect x="82.04" y="336.96" width="5.98" height="5.77" fill="#d9ebe8"/>
<rect x="87.97" y="336.96" width="5.98" height="5.77" fill="#bcded8"/>
<rect x="93.90" y="336.96" width="5.98" height="5.77" fill="#66b1a7"/>
<rect x="34.60" y="342.68" width="5.98" height="5.77" fill="#d9ebe8"/>
<rect x="40.53" y="342.68" width="5.98" height="5.77" fill="#f4eee8"/>
<rect x="46.46" y="342.68" width="5.98" height="5.77" fill="#d9ebe8"/>
<rect x="52.39" y="342.68" width="5.98" height="5.77" fill="#66b1a7"/>
<rect x="58.32" y="342.68" width="5.98" height="5.77" fill="#17625c"/>
<rect x="64.25" y="342.68" width="5.98" height="5.77" fill="#17625c"/>
<rect x="70.18" y="342.68" width="5.98" height="5.77" fill="#d9ebe8"/>
<rect x="76.11" y="342.68" width="5.98" height="5.77" fill="#98cdc5"/>
<rect x="82.04" y="342.68" width="5.98" height="5.77" fill="#17625c"/>
<rect x="87.97" y="342.68" width="5.98" height="5.77" fill="#66b1a7"/>
<rect x="34.60" y="348.40" width="5.98" height="5.77" fill="#d9ebe8"/>
<rect x="40.53" y="348.40" width="5.98" height="5.77" fill="#f4eee8"/>
<rect x="46.46" y="348.40" width="5.98" height="5.77" fill="#d9ebe8"/>
<rect x="52.39" y="348.40" width="5.98" height="5.77" fill="#17625c"/>
<rect x="58.32" y="348.40" width="5.98" height="5.77" fill="#17625c"/>
<rect x="64.25" y="348.40" width="5.98" height="5.77" fill="#eef5f4"/>
<rect x="70.18" y="348.40" width="5.98" height="5.77" fill="#98cdc5"/>
<rect x="76.11" y="348.40" width="5.98" height="5.77" fill="#bcded8"/>
<rect x="82.04" y="348.40" width="5.98" height="5.77" fill="#98cdc5"/>
<rect x="34.60" y="354.12" width="5.98" height="5.77" fill="#d9ebe8"/>
<rect x="40.53" y="354.12" width="5.98" height="5.77" fill="#d9ebe8"/>
<rect x="46.46" y="354.12" width="5.98" height="5.77" fill="#d9ebe8"/>
<rect x="52.39" y="354.12" width="5.98" height="5.77" fill="#98cdc5"/>
<rect x="58.32" y="354.12" width="5.98" height="5.77" fill="#98cdc5"/>
<rect x="64.25" y="354.12" width="5.98" height="5.77" fill="#17625c"/>
<rect x="70.18" y="354.12" width="5.98" height="5.77" fill="#eef5f4"/>
<rect x="76.11" y="354.12" width="5.98" height="5.77" fill="#17625c"/>
<rect x="34.60" y="359.84" width="5.98" height="5.77" fill="#17625c"/>
<rect x="40.53" y="359.84" width="5.98" height="5.77" fill="#d9ebe8"/>
<rect x="46.46" y="359.84" width="5.98" height="5.77" fill="#d9ebe8"/>
<rect x="52.39" y="359.84" width="5.98" height="5.77" fill="#98cdc5"/>
<rect x="58.32" y="359.84" width="5.98" height="5.77" fill="#98cdc5"/>
<rect x="64.25" y="359.84" width="5.98" height="5.77" fill="#bcded8"/>
<rect x="70.18" y="359.84" width="5.98" height="5.77" fill="#d9ebe8"/>
<rect x="34.60" y="365.56" width="5.98" height="5.77" fill="#d9ebe8"/>
<rect x="40.53" y="365.56" width="5.98" height="5.77" fill="#d9ebe8"/>
<rect x="46.46" y="365.56" width="5.98" height="5.77" fill="#d9ebe8"/>
<rect x="52.39" y="365.56" width="5.98" height="5.77" fill="#98cdc5"/>
<rect x="58.32" y="365.56" width="5.98" height="5.77" fill="#98cdc5"/>
<rect x="64.25" y="365.56" width="5.98" height="5.77" fill="#66b1a7"/>
<rect x="34.60" y="371.28" width="5.98" height="5.77" fill="#388d85"/>
<rect x="40.53" y="371.28" width="5.98" height="5.77" fill="#f4eee8"/>
<rect x="46.46" y="371.28" width="5.98" height="5.77" fill="#d9ebe8"/>
<rect x="52.39" y="371.28" width="5.98" height="5.77" fill="#17625c"/>
<rect x="58.32" y="371.28" width="5.98" height="5.77" fill="#98cdc5"/>
<rect x="34.60" y="377.00" width="5.98" height="5.77" fill="#d9ebe8"/>
<rect x="40.53" y="377.00" width="5.98" height="5.77" fill="#d9ebe8"/>
<rect x="46.46" y="377.00" width="5.98" height="5.77" fill="#f4eee8"/>
<rect x="52.39" y="377.00" width="5.98" height="5.77" fill="#17625c"/>
<rect x="34.60" y="382.72" width="5.98" height="5.77" fill="#eef5f4"/>
<rect x="40.53" y="382.72" width="5.98" height="5.77" fill="#eef5f4"/>
<rect x="46.46" y="382.72" width="5.98" height="5.77" fill="#eef5f4"/>
<rect x="34.60" y="388.44" width="5.98" height="5.77" fill="#eef5f4"/>
<rect x="40.53" y="388.44" width="5.98" height="5.77" fill="#eef5f4"/>
<rect x="34.60" y="394.16" width="5.98" height="5.77" fill="#eef5f4"/>
<circle cx="120.59" cy="294.06" r="0.62" fill="#0b2a28"/>
<circle cx="55.36" cy="299.78" r="0.62" fill="#0b2a28"/>
<circle cx="61.28" cy="299.78" r="0.62" fill="#0b2a28"/>
<circle cx="90.94" cy="299.78" r="0.62" fill="#0b2a28"/>
<circle cx="108.72" cy="299.78" r="0.62" fill="#0b2a28"/>
<circle cx="126.51" cy="299.78" r="0.62" fill="#0b2a28"/>
<circle cx="138.38" cy="299.78" r="0.62" fill="#0b2a28"/>
<circle cx="61.28" cy="305.50" r="0.62" fill="#0b2a28"/>
<circle cx="90.94" cy="305.50" r="0.62" fill="#0b2a28"/>
<circle cx="96.87" cy="305.50" r="0.62" fill="#0b2a28"/>
<circle cx="108.72" cy="305.50" r="0.62" fill="#0b2a28"/>
<circle cx="126.51" cy="305.50" r="0.62" fill="#0b2a28"/>
<circle cx="67.22" cy="311.22" r="0.62" fill="#0b2a28"/>
<circle cx="96.87" cy="311.22" r="0.62" fill="#0b2a28"/>
<circle cx="55.36" cy="316.94" r="0.62" fill="#0b2a28"/>
<circle cx="61.28" cy="316.94" r="0.62" fill="#0b2a28"/>
<circle cx="90.94" cy="316.94" r="0.62" fill="#0b2a28"/>
<circle cx="108.72" cy="316.94" r="0.62" fill="#0b2a28"/>
<circle cx="85.00" cy="322.66" r="0.62" fill="#0b2a28"/>
<circle cx="55.36" cy="328.38" r="0.62" fill="#0b2a28"/>
<circle cx="73.15" cy="328.38" r="0.62" fill="#0b2a28"/>
<circle cx="61.28" cy="334.10" r="0.62" fill="#0b2a28"/>
<circle cx="90.94" cy="334.10" r="0.62" fill="#0b2a28"/>
<circle cx="61.28" cy="345.54" r="0.62" fill="#0b2a28"/>
<circle cx="67.22" cy="345.54" r="0.62" fill="#0b2a28"/>
<circle cx="85.00" cy="345.54" r="0.62" fill="#0b2a28"/>
<circle cx="55.36" cy="351.26" r="0.62" fill="#0b2a28"/>
<circle cx="61.28" cy="351.26" r="0.62" fill="#0b2a28"/>
<circle cx="67.22" cy="356.98" r="0.62" fill="#0b2a28"/>
<circle cx="79.08" cy="356.98" r="0.62" fill="#0b2a28"/>
<circle cx="37.56" cy="362.70" r="0.62" fill="#0b2a28"/>
<circle cx="55.36" cy="374.14" r="0.62" fill="#0b2a28"/>
<circle cx="55.36" cy="379.86" r="0.62" fill="#0b2a28"/>
<text x="33.2" y="295.31" font-size="4.5" text-anchor="end" fill="#222" stroke="#222" stroke-width="0.14">RYR1 [ 7]</text>
<text x="33.2" y="301.03" font-size="4.5" text-anchor="end" fill="#222" stroke="#222" stroke-width="0.14">MACF1 [ 7]</text>
<text x="33.2" y="306.75" font-size="4.5" text-anchor="end" fill="#222" stroke="#222" stroke-width="0.14">LRP1B [ 7]</text>
<text x="33.2" y="312.47" font-size="4.5" text-anchor="end" fill="#222" stroke="#222" stroke-width="0.14">KMT2C [ 7]</text>
<text x="33.2" y="318.19" font-size="4.5" text-anchor="end" fill="#222" stroke="#222" stroke-width="0.14">DYNC2H1 [ 7]</text>
<text x="33.2" y="323.91" font-size="4.5" text-anchor="end" fill="#222" stroke="#222" stroke-width="0.14">DNAH11 [ 7]</text>
<text x="33.2" y="329.63" font-size="4.5" text-anchor="end" fill="#222" stroke="#222" stroke-width="0.14">RREB1 [ 8]</text>
<text x="33.2" y="335.35" font-size="4.5" text-anchor="end" fill="#222" stroke="#222" stroke-width="0.14">MYO18B [ 8]</text>
<text x="33.2" y="341.07" font-size="4.5" text-anchor="end" fill="#222" stroke="#222" stroke-width="0.14">HECW2 [ 8]</text>
<text x="33.2" y="346.79" font-size="4.5" text-anchor="end" fill="#222" stroke="#222" stroke-width="0.14">FAT2 [ 8]</text>
<text x="33.2" y="352.51" font-size="4.5" text-anchor="end" fill="#222" stroke="#222" stroke-width="0.14">USH2A [ 9]</text>
<text x="33.2" y="358.23" font-size="4.5" text-anchor="end" fill="#222" stroke="#222" stroke-width="0.14">ARID1A [ 9]</text>
<text x="33.2" y="363.95" font-size="4.5" text-anchor="end" fill="#222" stroke="#222" stroke-width="0.14">RNF43 [10]</text>
<text x="33.2" y="369.67" font-size="4.5" text-anchor="end" fill="#222" stroke="#222" stroke-width="0.14">PCDH15 [10]</text>
<text x="33.2" y="375.39" font-size="4.5" text-anchor="end" fill="#222" stroke="#222" stroke-width="0.14">MUC16 [10]</text>
<text x="33.2" y="381.11" font-size="4.5" text-anchor="end" fill="#222" stroke="#222" stroke-width="0.14">DCHS1 [10]</text>
<text x="33.2" y="386.83" font-size="4.5" text-anchor="end" fill="#222" stroke="#222" stroke-width="0.14">TTN [17]</text>
<text x="33.2" y="392.55" font-size="4.5" text-anchor="end" fill="#222" stroke="#222" stroke-width="0.14">TP53 [17]</text>
<text x="33.2" y="398.27" font-size="4.5" text-anchor="end" fill="#222" stroke="#222" stroke-width="0.14">CDKN2A [20]</text>
<text x="39.11" y="288.3" font-size="4.55" fill="#222" stroke="#222" stroke-width="0.14" transform="rotate(-90 39.11 288.3)">SMAD4 [23]</text>
<text x="45.05" y="288.3" font-size="4.55" fill="#222" stroke="#222" stroke-width="0.14" transform="rotate(-90 45.05 288.3)">CDKN2A [20]</text>
<text x="50.97" y="288.3" font-size="4.55" fill="#222" stroke="#222" stroke-width="0.14" transform="rotate(-90 50.97 288.3)">TP53 [17]</text>
<text x="56.91" y="288.3" font-size="4.55" fill="#222" stroke="#222" stroke-width="0.14" transform="rotate(-90 56.91 288.3)">TTN [17]</text>
<text x="62.83" y="288.3" font-size="4.55" fill="#222" stroke="#222" stroke-width="0.14" transform="rotate(-90 62.83 288.3)">DCHS1 [10]</text>
<text x="68.77" y="288.3" font-size="4.55" fill="#222" stroke="#222" stroke-width="0.14" transform="rotate(-90 68.77 288.3)">MUC16 [10]</text>
<text x="74.7" y="288.3" font-size="4.55" fill="#222" stroke="#222" stroke-width="0.14" transform="rotate(-90 74.7 288.3)">PCDH15 [10]</text>
<text x="80.62" y="288.3" font-size="4.55" fill="#222" stroke="#222" stroke-width="0.14" transform="rotate(-90 80.62 288.3)">RNF43 [10]</text>
<text x="86.55" y="288.3" font-size="4.55" fill="#222" stroke="#222" stroke-width="0.14" transform="rotate(-90 86.55 288.3)">ARID1A [ 9]</text>
<text x="92.48" y="288.3" font-size="4.55" fill="#222" stroke="#222" stroke-width="0.14" transform="rotate(-90 92.48 288.3)">USH2A [ 9]</text>
<text x="98.42" y="288.3" font-size="4.55" fill="#222" stroke="#222" stroke-width="0.14" transform="rotate(-90 98.42 288.3)">FAT2 [ 8]</text>
<text x="104.34" y="288.3" font-size="4.55" fill="#222" stroke="#222" stroke-width="0.14" transform="rotate(-90 104.34 288.3)">HECW2 [ 8]</text>
<text x="110.27" y="288.3" font-size="4.55" fill="#222" stroke="#222" stroke-width="0.14" transform="rotate(-90 110.27 288.3)">MYO18B [ 8]</text>
<text x="116.2" y="288.3" font-size="4.55" fill="#222" stroke="#222" stroke-width="0.14" transform="rotate(-90 116.2 288.3)">RREB1 [ 8]</text>
<text x="122.14" y="288.3" font-size="4.55" fill="#222" stroke="#222" stroke-width="0.14" transform="rotate(-90 122.14 288.3)">DNAH11 [ 7]</text>
<text x="128.06" y="288.3" font-size="4.55" fill="#222" stroke="#222" stroke-width="0.14" transform="rotate(-90 128.06 288.3)">DYNC2H1 [ 7]</text>
<text x="134" y="288.3" font-size="4.55" fill="#222" stroke="#222" stroke-width="0.14" transform="rotate(-90 134 288.3)">KMT2C [ 7]</text>
<text x="139.93" y="288.3" font-size="4.55" fill="#222" stroke="#222" stroke-width="0.14" transform="rotate(-90 139.93 288.3)">LRP1B [ 7]</text>
<text x="145.86" y="288.3" font-size="4.55" fill="#222" stroke="#222" stroke-width="0.14" transform="rotate(-90 145.86 288.3)">MACF1 [ 7]</text>
<circle cx="121.4" cy="328.6" r="0.65" fill="#111"/>
<text x="124.4" y="330.2" font-size="4.4" fill="#222" stroke="#222" stroke-width="0.14">P &lt; 0.01</text>
<circle cx="121.4" cy="333.4" r="0.3" fill="#111"/>
<text x="124.4" y="335" font-size="4.4" fill="#222" stroke="#222" stroke-width="0.14">P &lt; 0.05</text>
<defs><linearGradient id="eg" x1="0" y1="0" x2="0" y2="1"><stop offset="0" stop-color="#1f6e68"/><stop offset="0.25" stop-color="#7fc0b7"/><stop offset="0.5" stop-color="#ffffff"/><stop offset="0.75" stop-color="#e2c08a"/><stop offset="1" stop-color="#9a6a1e"/></linearGradient></defs>
<rect x="101.8" y="360.2" width="4.3" height="33" fill="url(#eg)"/>
<text x="109.4" y="361.85" font-size="4.1" fill="#222" stroke="#222" stroke-width="0.13">&gt; 3 (Co-occurence)</text>
<text x="109.4" y="367.35" font-size="4.1" fill="#222" stroke="#222" stroke-width="0.13">2</text>
<text x="109.4" y="372.85" font-size="4.1" fill="#222" stroke="#222" stroke-width="0.13">1</text>
<text x="109.4" y="378.35" font-size="4.1" fill="#222" stroke="#222" stroke-width="0.13">0</text>
<text x="109.4" y="383.85" font-size="4.1" fill="#222" stroke="#222" stroke-width="0.13">1</text>
<text x="109.4" y="389.35" font-size="4.1" fill="#222" stroke="#222" stroke-width="0.13">2</text>
<text x="109.4" y="394.85" font-size="4.1" fill="#222" stroke="#222" stroke-width="0.13">&gt; 3 (Mutually exclusive)</text>
<text x="98.8" y="376.6" font-size="4.5" text-anchor="middle" fill="#222" stroke="#222" stroke-width="0.14" transform="rotate(-90 98.8 376.6)" textLength="33" lengthAdjust="spacingAndGlyphs">-log10(P-value)</text>
<path d="M181,378.60H268M284,378.60H318M181,353.70H268M284,353.70H318M181,328.80H268M284,328.80H318M181,303.90H268M284,303.90H318M181,279.00H268M284,279.00H318M196.4,278.00V378.60M209.5,278.00V378.60M222.3,278.00V378.60M235.1,278.00V378.60M248.0,278.00V378.60M261.1,278.00V378.60M295.8,278.00V378.60M306.6,278.00V378.60" stroke="#e4e4e4" stroke-width="0.4" stroke-dasharray="0.8 0.8" fill="none"/>
<path d="M180.9,378.60V279.00" stroke="#555" stroke-width="0.55"/>
<path d="M283.2,378.60V279.00" stroke="#555" stroke-width="0.55"/>
<path d="M178.6,378.60H180.9M280.7,378.60H283.2" stroke="#555" stroke-width="0.5"/>
<text x="177.6" y="380.3" font-size="4.9" text-anchor="end" fill="#222" stroke="#222" stroke-width="0.15">0</text>
<text x="279.6" y="380.3" font-size="4.9" text-anchor="end" fill="#222" stroke="#222" stroke-width="0.15">0</text>
<path d="M178.6,353.70H180.9M280.7,353.70H283.2" stroke="#555" stroke-width="0.5"/>
<text x="177.6" y="355.4" font-size="4.9" text-anchor="end" fill="#222" stroke="#222" stroke-width="0.15">25</text>
<text x="279.6" y="355.4" font-size="4.9" text-anchor="end" fill="#222" stroke="#222" stroke-width="0.15">25</text>
<path d="M178.6,328.80H180.9M280.7,328.80H283.2" stroke="#555" stroke-width="0.5"/>
<text x="177.6" y="330.5" font-size="4.9" text-anchor="end" fill="#222" stroke="#222" stroke-width="0.15">50</text>
<text x="279.6" y="330.5" font-size="4.9" text-anchor="end" fill="#222" stroke="#222" stroke-width="0.15">50</text>
<path d="M178.6,303.90H180.9M280.7,303.90H283.2" stroke="#555" stroke-width="0.5"/>
<text x="177.6" y="305.6" font-size="4.9" text-anchor="end" fill="#222" stroke="#222" stroke-width="0.15">75</text>
<text x="279.6" y="305.6" font-size="4.9" text-anchor="end" fill="#222" stroke="#222" stroke-width="0.15">75</text>
<path d="M178.6,279.00H180.9M280.7,279.00H283.2" stroke="#555" stroke-width="0.5"/>
<text x="177.6" y="280.7" font-size="4.9" text-anchor="end" fill="#222" stroke="#222" stroke-width="0.15">100</text>
<text x="279.6" y="280.7" font-size="4.9" text-anchor="end" fill="#222" stroke="#222" stroke-width="0.15">100</text>
<text x="164.9" y="337" font-size="5.6" text-anchor="middle" fill="#222" stroke="#222" stroke-width="0.17" transform="rotate(-90 164.9 337)">% Mutations</text>
<path d="M196.4,321.03V301.91M196.4,337.96V368.64" stroke="#666" stroke-width="0.5"/>
<rect x="190.90" y="321.03" width="11.0" height="16.93" fill="#2a6db0" stroke="#1d4f80" stroke-width="0.4"/>
<path d="M190.90,330.79h11.0" stroke="#1d4f80" stroke-width="0.6"/>
<path d="M195.90,279.00h1M196.40,278.50v1M195.90,376.61h1M196.40,376.11v1M195.90,373.62h1M196.40,373.12v1M195.90,365.65h1M196.40,365.15v1" stroke="#888" stroke-width="0.4"/>
<path d="M209.5,356.49V340.75M209.5,366.95V378.60" stroke="#666" stroke-width="0.5"/>
<rect x="204.60" y="356.49" width="9.8" height="10.46" fill="#f08c28" stroke="#b86010" stroke-width="0.4"/>
<path d="M204.60,361.67h9.8" stroke="#b86010" stroke-width="0.6"/>
<path d="M209.00,279.00h1M209.50,278.50v1M209.00,281.99h1M209.50,281.49v1M209.00,285.97h1M209.50,285.47v1M209.00,290.95h1M209.50,290.45v1M209.00,296.93h1M209.50,296.43v1M209.00,302.90h1M209.50,302.40v1M209.00,307.88h1M209.50,307.38v1M209.00,316.85h1M209.50,316.35v1M209.00,323.82h1M209.50,323.32v1M209.00,328.80h1M209.50,328.30v1M209.00,334.78h1M209.50,334.28v1" stroke="#888" stroke-width="0.4"/>
<path d="M222.3,361.97V347.72M222.3,370.33V378.60" stroke="#666" stroke-width="0.5"/>
<rect x="217.10" y="361.97" width="10.4" height="8.37" fill="#2a9a48" stroke="#1e6a30" stroke-width="0.4"/>
<path d="M217.10,366.15h10.4" stroke="#1e6a30" stroke-width="0.6"/>
<path d="M221.80,279.00h1M222.30,278.50v1M221.80,344.74h1M222.30,344.24v1M221.80,340.75h1M222.30,340.25v1" stroke="#888" stroke-width="0.4"/>
<path d="M235.1,365.65V356.69M235.1,374.32V378.60" stroke="#666" stroke-width="0.5"/>
<rect x="230.10" y="365.65" width="10.0" height="8.67" fill="#d2262e" stroke="#901c22" stroke-width="0.4"/>
<path d="M230.10,370.33h10.0" stroke="#901c22" stroke-width="0.6"/>
<path d="M234.60,311.87h1M235.10,311.37v1M234.60,353.70h1M235.10,353.20v1M234.60,350.71h1M235.10,350.21v1M234.60,348.72h1M235.10,348.22v1M234.60,345.73h1M235.10,345.23v1" stroke="#888" stroke-width="0.4"/>
<path d="M248.0,368.24V361.67M248.0,374.82V378.60" stroke="#666" stroke-width="0.5"/>
<rect x="242.80" y="368.24" width="10.4" height="6.57" fill="#8a68b6" stroke="#5e4080" stroke-width="0.4"/>
<path d="M242.80,371.43h10.4" stroke="#5e4080" stroke-width="0.6"/>
<path d="M247.50,358.68h1M248.00,358.18v1M247.50,355.69h1M248.00,355.19v1M247.50,352.70h1M248.00,352.20v1M247.50,345.73h1M248.00,345.23v1" stroke="#888" stroke-width="0.4"/>
<path d="M261.1,369.64V363.66M261.1,377.40V378.60" stroke="#666" stroke-width="0.5"/>
<rect x="255.90" y="369.64" width="10.4" height="7.77" fill="#8a5444" stroke="#5e3c30" stroke-width="0.4"/>
<path d="M255.90,373.52h10.4" stroke="#5e3c30" stroke-width="0.6"/>
<path d="M260.60,311.87h1M261.10,311.37v1M260.60,360.67h1M261.10,360.17v1M260.60,357.68h1M261.10,357.18v1M260.60,354.70h1M261.10,354.20v1" stroke="#888" stroke-width="0.4"/>
<path d="M295.8,310.17V291.95M295.8,323.82V343.74" stroke="#666" stroke-width="0.5"/>
<rect x="291.30" y="310.17" width="9.0" height="13.65" fill="#e30a1c" stroke="#a00010" stroke-width="0.4"/>
<path d="M291.30,317.45h9.0" stroke="#a00010" stroke-width="0.6"/>
<path d="M295.30,279.00h1M295.80,278.50v1M295.30,281.99h1M295.80,281.49v1M295.30,285.97h1M295.80,285.47v1M295.30,346.73h1M295.80,346.23v1M295.30,350.71h1M295.80,350.21v1M295.30,354.70h1M295.80,354.20v1M295.30,361.67h1M295.80,361.17v1M295.30,366.65h1M295.80,366.15v1M295.30,372.62h1M295.80,372.12v1M295.30,376.61h1M295.80,376.11v1" stroke="#888" stroke-width="0.4"/>
<path d="M306.6,331.39V314.86M306.6,346.13V364.66" stroke="#666" stroke-width="0.5"/>
<rect x="301.85" y="331.39" width="9.5" height="14.74" fill="#16a05e" stroke="#0e6a3e" stroke-width="0.4"/>
<path d="M301.85,339.26h9.5" stroke="#0e6a3e" stroke-width="0.6"/>
<path d="M306.10,279.00h1M306.60,278.50v1M306.10,281.99h1M306.60,281.49v1M306.10,284.98h1M306.60,284.48v1M306.10,286.97h1M306.60,286.47v1M306.10,290.95h1M306.60,290.45v1M306.10,294.94h1M306.60,294.44v1M306.10,298.92h1M306.60,298.42v1M306.10,302.90h1M306.60,302.40v1M306.10,306.89h1M306.60,306.39v1M306.10,310.87h1M306.60,310.37v1" stroke="#888" stroke-width="0.4"/>
<text x="198.3" y="383.4" font-size="5.3" text-anchor="end" fill="#222" stroke="#222" stroke-width="0.16" transform="rotate(-90 198.3 383.4)">C&gt;T</text>
<text x="211.4" y="383.4" font-size="5.3" text-anchor="end" fill="#222" stroke="#222" stroke-width="0.16" transform="rotate(-90 211.4 383.4)">C&gt;A</text>
<text x="224.2" y="383.4" font-size="5.3" text-anchor="end" fill="#222" stroke="#222" stroke-width="0.16" transform="rotate(-90 224.2 383.4)">T&gt;C</text>
<text x="237" y="383.4" font-size="5.3" text-anchor="end" fill="#222" stroke="#222" stroke-width="0.16" transform="rotate(-90 237 383.4)">C&gt;G</text>
<text x="249.9" y="383.4" font-size="5.3" text-anchor="end" fill="#222" stroke="#222" stroke-width="0.16" transform="rotate(-90 249.9 383.4)">T&gt;A</text>
<text x="263" y="383.4" font-size="5.3" text-anchor="end" fill="#222" stroke="#222" stroke-width="0.16" transform="rotate(-90 263 383.4)">T&gt;G</text>
<rect x="279.1" y="383.6" width="7.2" height="3.1" fill="#e30a1c"/>
<text x="286.9" y="386.7" font-size="4.7" fill="#222" stroke="#222" stroke-width="0.15">Transition (Ti)</text>
<rect x="279.1" y="391.0" width="7.2" height="3.1" fill="#16a05e"/>
<text x="286.9" y="394.3" font-size="4.7" fill="#222" stroke="#222" stroke-width="0.15">Transversion (Tv)</text>
</svg>
</body></html>
